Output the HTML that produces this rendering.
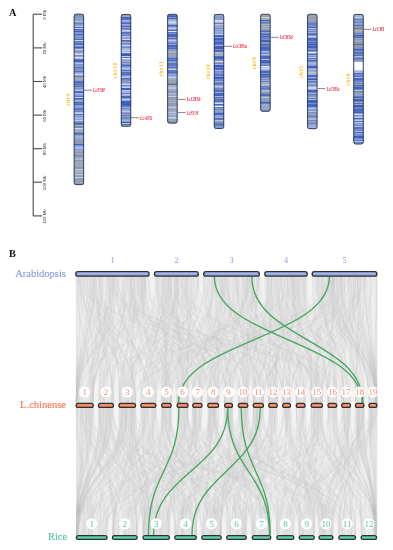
<!DOCTYPE html><html><head><meta charset="utf-8"><style>html,body{margin:0;padding:0;background:#fff;width:393px;height:550px;overflow:hidden}svg{display:block;filter:blur(0.3px)}text{font-family:"Liberation Serif",serif}</style></head><body>
<svg width="393" height="550" viewBox="0 0 393 550">
<text x="9" y="15.5" font-size="10.3" font-weight="bold" fill="#111">A</text>
<path d="M33.2 14.25V215.9" stroke="#4a4a4a" stroke-width="1.1" fill="none"/>
<path d="M33.2 14.2H42.2" stroke="#4a4a4a" stroke-width="1.1"/>
<text transform="translate(46.2 14.8) rotate(-90)" text-anchor="middle" font-size="4.4" font-family="Liberation Sans, sans-serif" fill="#333" style="font-family:'Liberation Sans',sans-serif">0 Mb</text>
<path d="M33.2 47.9H42.2" stroke="#4a4a4a" stroke-width="1.1"/>
<text transform="translate(46.2 48.5) rotate(-90)" text-anchor="middle" font-size="4.4" font-family="Liberation Sans, sans-serif" fill="#333" style="font-family:'Liberation Sans',sans-serif">20 Mb</text>
<path d="M33.2 81.5H42.2" stroke="#4a4a4a" stroke-width="1.1"/>
<text transform="translate(46.2 82.0) rotate(-90)" text-anchor="middle" font-size="4.4" font-family="Liberation Sans, sans-serif" fill="#333" style="font-family:'Liberation Sans',sans-serif">40 Mb</text>
<path d="M33.2 115.1H42.2" stroke="#4a4a4a" stroke-width="1.1"/>
<text transform="translate(46.2 115.7) rotate(-90)" text-anchor="middle" font-size="4.4" font-family="Liberation Sans, sans-serif" fill="#333" style="font-family:'Liberation Sans',sans-serif">60 Mb</text>
<path d="M33.2 148.7H42.2" stroke="#4a4a4a" stroke-width="1.1"/>
<text transform="translate(46.2 149.2) rotate(-90)" text-anchor="middle" font-size="4.4" font-family="Liberation Sans, sans-serif" fill="#333" style="font-family:'Liberation Sans',sans-serif">80 Mb</text>
<path d="M33.2 182.2H42.2" stroke="#4a4a4a" stroke-width="1.1"/>
<text transform="translate(46.2 182.8) rotate(-90)" text-anchor="middle" font-size="4.4" font-family="Liberation Sans, sans-serif" fill="#333" style="font-family:'Liberation Sans',sans-serif">100 Mb</text>
<path d="M33.2 215.9H42.2" stroke="#4a4a4a" stroke-width="1.1"/>
<text transform="translate(46.2 216.5) rotate(-90)" text-anchor="middle" font-size="4.4" font-family="Liberation Sans, sans-serif" fill="#333" style="font-family:'Liberation Sans',sans-serif">120 Mb</text>
<defs>
<clipPath id="c0"><rect x="73.8" y="13.8" width="10.2" height="171.2" rx="2.2" ry="2.2"/></clipPath>
<clipPath id="c1"><rect x="120.9" y="14.1" width="10.2" height="112.5" rx="2.2" ry="2.2"/></clipPath>
<clipPath id="c2"><rect x="167.3" y="13.9" width="10.2" height="109.5" rx="2.2" ry="2.2"/></clipPath>
<clipPath id="c3"><rect x="213.9" y="14.1" width="10.2" height="114.6" rx="2.2" ry="2.2"/></clipPath>
<clipPath id="c4"><rect x="260.3" y="13.9" width="10.2" height="97.7" rx="2.2" ry="2.2"/></clipPath>
<clipPath id="c5"><rect x="307.2" y="13.9" width="10.2" height="115.1" rx="2.2" ry="2.2"/></clipPath>
<clipPath id="c6"><rect x="353.4" y="14.1" width="10.2" height="130.2" rx="2.2" ry="2.2"/></clipPath>
</defs>
<g clip-path="url(#c0)">
<rect x="73.8" y="13.8" width="10.2" height="171.2" fill="#4f6fc2"/>
<rect x="73.8" y="13.8" width="10.2" height="0.7" fill="#b8c6ea"/>
<rect x="73.8" y="14.4" width="10.2" height="1.1" fill="#97a2b0"/>
<rect x="73.8" y="15.4" width="10.2" height="0.5" fill="#8d99b4"/>
<rect x="73.8" y="15.8" width="10.2" height="0.9" fill="#8d99b4"/>
<rect x="73.8" y="16.6" width="10.2" height="0.8" fill="#a0a8b6"/>
<rect x="73.8" y="17.3" width="10.2" height="0.5" fill="#9aaedc"/>
<rect x="73.8" y="17.7" width="10.2" height="0.9" fill="#a0a8b6"/>
<rect x="73.8" y="18.5" width="10.2" height="1.1" fill="#9aaedc"/>
<rect x="73.8" y="19.5" width="10.2" height="0.9" fill="#9aaedc"/>
<rect x="73.8" y="20.3" width="10.2" height="0.6" fill="#a0a8b6"/>
<rect x="73.8" y="20.8" width="10.2" height="0.7" fill="#9aaedc"/>
<rect x="73.8" y="21.4" width="10.2" height="0.9" fill="#d6e0f5"/>
<rect x="73.8" y="22.2" width="10.2" height="0.6" fill="#97a2b0"/>
<rect x="73.8" y="22.7" width="10.2" height="1.1" fill="#8d99b4"/>
<rect x="73.8" y="23.7" width="10.2" height="0.9" fill="#4363c0"/>
<rect x="73.8" y="24.5" width="10.2" height="0.5" fill="#b8c6ea"/>
<rect x="73.8" y="24.9" width="10.2" height="1.1" fill="#8ca2d6"/>
<rect x="73.8" y="25.9" width="10.2" height="0.8" fill="#b8c6ea"/>
<rect x="73.8" y="26.6" width="10.2" height="0.7" fill="#e6ecfa"/>
<rect x="73.8" y="27.2" width="10.2" height="1.1" fill="#3d5fc0"/>
<rect x="73.8" y="28.2" width="10.2" height="0.9" fill="#f2f5fc"/>
<rect x="73.8" y="29.0" width="10.2" height="0.7" fill="#5070c4"/>
<rect x="73.8" y="29.6" width="10.2" height="0.9" fill="#3d5fc0"/>
<rect x="73.8" y="30.4" width="10.2" height="0.9" fill="#8ca2d6"/>
<rect x="73.8" y="31.2" width="10.2" height="0.6" fill="#3658bb"/>
<rect x="73.8" y="31.7" width="10.2" height="0.5" fill="#3d5fc0"/>
<rect x="73.8" y="32.1" width="10.2" height="0.9" fill="#8ca2d6"/>
<rect x="73.8" y="32.9" width="10.2" height="0.7" fill="#4363c0"/>
<rect x="73.8" y="33.5" width="10.2" height="0.8" fill="#b8c6ea"/>
<rect x="73.8" y="34.2" width="10.2" height="0.5" fill="#5070c4"/>
<rect x="73.8" y="34.6" width="10.2" height="0.8" fill="#3d5fc0"/>
<rect x="73.8" y="35.3" width="10.2" height="0.5" fill="#5070c4"/>
<rect x="73.8" y="35.7" width="10.2" height="1.1" fill="#b8c6ea"/>
<rect x="73.8" y="36.7" width="10.2" height="0.7" fill="#5070c4"/>
<rect x="73.8" y="37.3" width="10.2" height="0.5" fill="#5070c4"/>
<rect x="73.8" y="37.7" width="10.2" height="0.6" fill="#b8c6ea"/>
<rect x="73.8" y="38.2" width="10.2" height="0.5" fill="#f2f5fc"/>
<rect x="73.8" y="38.6" width="10.2" height="0.6" fill="#3658bb"/>
<rect x="73.8" y="39.1" width="10.2" height="0.8" fill="#3658bb"/>
<rect x="73.8" y="39.8" width="10.2" height="0.5" fill="#a9a890"/>
<rect x="73.8" y="40.2" width="10.2" height="0.9" fill="#e6ecfa"/>
<rect x="73.8" y="41.0" width="10.2" height="0.8" fill="#5070c4"/>
<rect x="73.8" y="41.7" width="10.2" height="1.1" fill="#8ca2d6"/>
<rect x="73.8" y="42.7" width="10.2" height="1.1" fill="#4566c2"/>
<rect x="73.8" y="43.7" width="10.2" height="0.6" fill="#a0a8b6"/>
<rect x="73.8" y="44.2" width="10.2" height="0.6" fill="#3d5fc0"/>
<rect x="73.8" y="44.7" width="10.2" height="0.8" fill="#4566c2"/>
<rect x="73.8" y="45.4" width="10.2" height="0.7" fill="#e6ecfa"/>
<rect x="73.8" y="46.0" width="10.2" height="0.8" fill="#8ca2d6"/>
<rect x="73.8" y="46.7" width="10.2" height="0.6" fill="#4363c0"/>
<rect x="73.8" y="47.2" width="10.2" height="0.9" fill="#3d5fc0"/>
<rect x="73.8" y="48.0" width="10.2" height="0.8" fill="#4363c0"/>
<rect x="73.8" y="48.7" width="10.2" height="0.8" fill="#f2f5fc"/>
<rect x="73.8" y="49.4" width="10.2" height="0.5" fill="#b8c6ea"/>
<rect x="73.8" y="49.8" width="10.2" height="0.5" fill="#e6ecfa"/>
<rect x="73.8" y="50.2" width="10.2" height="0.8" fill="#b4b296"/>
<rect x="73.8" y="50.9" width="10.2" height="0.9" fill="#8d99b4"/>
<rect x="73.8" y="51.7" width="10.2" height="0.9" fill="#8d99b4"/>
<rect x="73.8" y="52.5" width="10.2" height="0.7" fill="#9aaedc"/>
<rect x="73.8" y="53.1" width="10.2" height="0.6" fill="#aabbe4"/>
<rect x="73.8" y="53.6" width="10.2" height="1.1" fill="#f2f5fc"/>
<rect x="73.8" y="54.6" width="10.2" height="0.9" fill="#e6ecfa"/>
<rect x="73.8" y="55.4" width="10.2" height="0.5" fill="#3658bb"/>
<rect x="73.8" y="55.8" width="10.2" height="0.8" fill="#9aaedc"/>
<rect x="73.8" y="56.5" width="10.2" height="0.6" fill="#b4b296"/>
<rect x="73.8" y="57.0" width="10.2" height="1.1" fill="#d6e0f5"/>
<rect x="73.8" y="58.0" width="10.2" height="0.6" fill="#aabbe4"/>
<rect x="73.8" y="58.5" width="10.2" height="0.9" fill="#d6e0f5"/>
<rect x="73.8" y="59.3" width="10.2" height="0.9" fill="#4363c0"/>
<rect x="73.8" y="60.1" width="10.2" height="0.7" fill="#3d5fc0"/>
<rect x="73.8" y="60.7" width="10.2" height="1.1" fill="#4363c0"/>
<rect x="73.8" y="61.7" width="10.2" height="0.7" fill="#5070c4"/>
<rect x="73.8" y="62.3" width="10.2" height="0.6" fill="#8ca2d6"/>
<rect x="73.8" y="62.8" width="10.2" height="1.1" fill="#e6ecfa"/>
<rect x="73.8" y="63.8" width="10.2" height="0.6" fill="#4566c2"/>
<rect x="73.8" y="64.3" width="10.2" height="0.6" fill="#8ca2d6"/>
<rect x="73.8" y="64.8" width="10.2" height="1.1" fill="#8d99b4"/>
<rect x="73.8" y="65.8" width="10.2" height="0.7" fill="#aabbe4"/>
<rect x="73.8" y="66.4" width="10.2" height="1.1" fill="#8ca2d6"/>
<rect x="73.8" y="67.4" width="10.2" height="0.8" fill="#5070c4"/>
<rect x="73.8" y="68.1" width="10.2" height="0.7" fill="#8d99b4"/>
<rect x="73.8" y="68.7" width="10.2" height="0.6" fill="#8ca2d6"/>
<rect x="73.8" y="69.2" width="10.2" height="0.6" fill="#9aaedc"/>
<rect x="73.8" y="69.7" width="10.2" height="0.8" fill="#5070c4"/>
<rect x="73.8" y="70.4" width="10.2" height="1.1" fill="#b8b6a0"/>
<rect x="73.8" y="71.4" width="10.2" height="0.5" fill="#4566c2"/>
<rect x="73.8" y="71.8" width="10.2" height="0.8" fill="#3658bb"/>
<rect x="73.8" y="72.5" width="10.2" height="1.1" fill="#d6e0f5"/>
<rect x="73.8" y="73.5" width="10.2" height="0.8" fill="#9aaedc"/>
<rect x="73.8" y="74.2" width="10.2" height="1.1" fill="#e6ecfa"/>
<rect x="73.8" y="75.2" width="10.2" height="0.5" fill="#a9a890"/>
<rect x="73.8" y="75.6" width="10.2" height="1.1" fill="#97a2b0"/>
<rect x="73.8" y="76.6" width="10.2" height="0.8" fill="#5070c4"/>
<rect x="73.8" y="77.3" width="10.2" height="0.6" fill="#aabbe4"/>
<rect x="73.8" y="77.8" width="10.2" height="0.5" fill="#b8b6a0"/>
<rect x="73.8" y="78.2" width="10.2" height="1.1" fill="#b8b6a0"/>
<rect x="73.8" y="79.2" width="10.2" height="0.6" fill="#aabbe4"/>
<rect x="73.8" y="79.7" width="10.2" height="0.6" fill="#a0a8b6"/>
<rect x="73.8" y="80.2" width="10.2" height="0.7" fill="#8ca2d6"/>
<rect x="73.8" y="80.8" width="10.2" height="0.7" fill="#aabbe4"/>
<rect x="73.8" y="81.4" width="10.2" height="0.5" fill="#5070c4"/>
<rect x="73.8" y="81.8" width="10.2" height="0.8" fill="#4363c0"/>
<rect x="73.8" y="82.5" width="10.2" height="0.8" fill="#4363c0"/>
<rect x="73.8" y="83.2" width="10.2" height="0.6" fill="#9aaedc"/>
<rect x="73.8" y="83.7" width="10.2" height="0.8" fill="#4363c0"/>
<rect x="73.8" y="84.4" width="10.2" height="0.5" fill="#4566c2"/>
<rect x="73.8" y="84.8" width="10.2" height="0.6" fill="#97a2b0"/>
<rect x="73.8" y="85.3" width="10.2" height="1.1" fill="#8d99b4"/>
<rect x="73.8" y="86.3" width="10.2" height="0.7" fill="#4363c0"/>
<rect x="73.8" y="86.9" width="10.2" height="0.9" fill="#9aaedc"/>
<rect x="73.8" y="87.7" width="10.2" height="0.9" fill="#a0a8b6"/>
<rect x="73.8" y="88.5" width="10.2" height="0.7" fill="#8d99b4"/>
<rect x="73.8" y="89.1" width="10.2" height="0.9" fill="#9aaedc"/>
<rect x="73.8" y="89.9" width="10.2" height="0.5" fill="#aabbe4"/>
<rect x="73.8" y="90.3" width="10.2" height="1.1" fill="#d6e0f5"/>
<rect x="73.8" y="91.3" width="10.2" height="0.9" fill="#4363c0"/>
<rect x="73.8" y="92.1" width="10.2" height="0.6" fill="#5070c4"/>
<rect x="73.8" y="92.6" width="10.2" height="0.9" fill="#4566c2"/>
<rect x="73.8" y="93.4" width="10.2" height="0.8" fill="#e6ecfa"/>
<rect x="73.8" y="94.1" width="10.2" height="0.8" fill="#9aaedc"/>
<rect x="73.8" y="94.8" width="10.2" height="1.1" fill="#9aaedc"/>
<rect x="73.8" y="95.8" width="10.2" height="0.6" fill="#3d5fc0"/>
<rect x="73.8" y="96.3" width="10.2" height="0.6" fill="#5070c4"/>
<rect x="73.8" y="96.8" width="10.2" height="0.6" fill="#aabbe4"/>
<rect x="73.8" y="97.3" width="10.2" height="0.8" fill="#e6ecfa"/>
<rect x="73.8" y="98.0" width="10.2" height="0.8" fill="#4566c2"/>
<rect x="73.8" y="98.7" width="10.2" height="1.1" fill="#4566c2"/>
<rect x="73.8" y="99.7" width="10.2" height="1.1" fill="#b8c6ea"/>
<rect x="73.8" y="100.7" width="10.2" height="0.7" fill="#8ca2d6"/>
<rect x="73.8" y="101.3" width="10.2" height="0.7" fill="#b4b296"/>
<rect x="73.8" y="101.9" width="10.2" height="0.5" fill="#b8c6ea"/>
<rect x="73.8" y="102.3" width="10.2" height="0.8" fill="#3658bb"/>
<rect x="73.8" y="103.0" width="10.2" height="0.7" fill="#8ca2d6"/>
<rect x="73.8" y="103.6" width="10.2" height="0.9" fill="#3d5fc0"/>
<rect x="73.8" y="104.4" width="10.2" height="0.6" fill="#3d5fc0"/>
<rect x="73.8" y="104.9" width="10.2" height="0.5" fill="#9aaedc"/>
<rect x="73.8" y="105.3" width="10.2" height="0.6" fill="#aabbe4"/>
<rect x="73.8" y="105.8" width="10.2" height="0.8" fill="#5070c4"/>
<rect x="73.8" y="106.5" width="10.2" height="0.8" fill="#d6e0f5"/>
<rect x="73.8" y="107.2" width="10.2" height="0.9" fill="#8ca2d6"/>
<rect x="73.8" y="108.0" width="10.2" height="0.5" fill="#aabbe4"/>
<rect x="73.8" y="108.4" width="10.2" height="0.8" fill="#5070c4"/>
<rect x="73.8" y="109.1" width="10.2" height="0.5" fill="#5070c4"/>
<rect x="73.8" y="109.5" width="10.2" height="0.5" fill="#4566c2"/>
<rect x="73.8" y="109.9" width="10.2" height="0.5" fill="#9aaedc"/>
<rect x="73.8" y="110.3" width="10.2" height="0.8" fill="#97a2b0"/>
<rect x="73.8" y="111.0" width="10.2" height="0.8" fill="#5070c4"/>
<rect x="73.8" y="111.7" width="10.2" height="0.9" fill="#97a2b0"/>
<rect x="73.8" y="112.5" width="10.2" height="1.1" fill="#e6ecfa"/>
<rect x="73.8" y="113.5" width="10.2" height="0.6" fill="#e6ecfa"/>
<rect x="73.8" y="114.0" width="10.2" height="0.6" fill="#5070c4"/>
<rect x="73.8" y="114.5" width="10.2" height="0.9" fill="#5070c4"/>
<rect x="73.8" y="115.3" width="10.2" height="0.8" fill="#aabbe4"/>
<rect x="73.8" y="116.0" width="10.2" height="0.7" fill="#9aaedc"/>
<rect x="73.8" y="116.6" width="10.2" height="0.7" fill="#8d99b4"/>
<rect x="73.8" y="117.2" width="10.2" height="1.1" fill="#aabbe4"/>
<rect x="73.8" y="118.2" width="10.2" height="0.9" fill="#b8c6ea"/>
<rect x="73.8" y="119.0" width="10.2" height="0.5" fill="#3658bb"/>
<rect x="73.8" y="119.4" width="10.2" height="1.1" fill="#b8c6ea"/>
<rect x="73.8" y="120.4" width="10.2" height="0.9" fill="#e6ecfa"/>
<rect x="73.8" y="121.2" width="10.2" height="0.6" fill="#aabbe4"/>
<rect x="73.8" y="121.7" width="10.2" height="0.8" fill="#3d5fc0"/>
<rect x="73.8" y="122.4" width="10.2" height="0.6" fill="#b8b6a0"/>
<rect x="73.8" y="122.9" width="10.2" height="1.1" fill="#3658bb"/>
<rect x="73.8" y="123.9" width="10.2" height="0.6" fill="#b8b6a0"/>
<rect x="73.8" y="124.4" width="10.2" height="0.8" fill="#5070c4"/>
<rect x="73.8" y="125.1" width="10.2" height="0.9" fill="#b4b296"/>
<rect x="73.8" y="125.9" width="10.2" height="0.5" fill="#aabbe4"/>
<rect x="73.8" y="126.3" width="10.2" height="0.7" fill="#8ca2d6"/>
<rect x="73.8" y="126.9" width="10.2" height="0.7" fill="#4363c0"/>
<rect x="73.8" y="127.5" width="10.2" height="0.7" fill="#b4b296"/>
<rect x="73.8" y="128.1" width="10.2" height="0.6" fill="#e6ecfa"/>
<rect x="73.8" y="128.6" width="10.2" height="0.7" fill="#f2f5fc"/>
<rect x="73.8" y="129.2" width="10.2" height="0.7" fill="#aabbe4"/>
<rect x="73.8" y="129.8" width="10.2" height="0.6" fill="#9aaedc"/>
<rect x="73.8" y="130.3" width="10.2" height="0.5" fill="#8d99b4"/>
<rect x="73.8" y="130.7" width="10.2" height="0.6" fill="#e6ecfa"/>
<rect x="73.8" y="131.2" width="10.2" height="0.8" fill="#b4b296"/>
<rect x="73.8" y="131.9" width="10.2" height="1.1" fill="#97a2b0"/>
<rect x="73.8" y="132.9" width="10.2" height="0.9" fill="#4566c2"/>
<rect x="73.8" y="133.7" width="10.2" height="1.1" fill="#4363c0"/>
<rect x="73.8" y="134.7" width="10.2" height="0.8" fill="#b8c6ea"/>
<rect x="73.8" y="135.4" width="10.2" height="0.6" fill="#97a2b0"/>
<rect x="73.8" y="135.9" width="10.2" height="1.1" fill="#b8b6a0"/>
<rect x="73.8" y="136.9" width="10.2" height="0.9" fill="#aabbe4"/>
<rect x="73.8" y="137.7" width="10.2" height="0.9" fill="#9aaedc"/>
<rect x="73.8" y="138.5" width="10.2" height="1.1" fill="#aabbe4"/>
<rect x="73.8" y="139.5" width="10.2" height="0.5" fill="#a0a8b6"/>
<rect x="73.8" y="139.9" width="10.2" height="1.1" fill="#8d99b4"/>
<rect x="73.8" y="140.9" width="10.2" height="0.8" fill="#9aaedc"/>
<rect x="73.8" y="141.6" width="10.2" height="1.1" fill="#97a2b0"/>
<rect x="73.8" y="142.6" width="10.2" height="1.1" fill="#b4b296"/>
<rect x="73.8" y="143.6" width="10.2" height="0.5" fill="#8d99b4"/>
<rect x="73.8" y="144.0" width="10.2" height="1.1" fill="#4363c0"/>
<rect x="73.8" y="145.0" width="10.2" height="0.5" fill="#9aaedc"/>
<rect x="73.8" y="145.4" width="10.2" height="1.1" fill="#8ca2d6"/>
<rect x="73.8" y="146.4" width="10.2" height="0.5" fill="#aabbe4"/>
<rect x="73.8" y="146.8" width="10.2" height="1.1" fill="#aabbe4"/>
<rect x="73.8" y="147.8" width="10.2" height="1.1" fill="#b8c6ea"/>
<rect x="73.8" y="148.8" width="10.2" height="0.8" fill="#9aaedc"/>
<rect x="73.8" y="149.5" width="10.2" height="0.8" fill="#8ca2d6"/>
<rect x="73.8" y="150.2" width="10.2" height="0.5" fill="#d6e0f5"/>
<rect x="73.8" y="150.6" width="10.2" height="0.6" fill="#a0a8b6"/>
<rect x="73.8" y="151.1" width="10.2" height="0.7" fill="#b8b6a0"/>
<rect x="73.8" y="151.7" width="10.2" height="1.1" fill="#97a2b0"/>
<rect x="73.8" y="152.7" width="10.2" height="0.6" fill="#8d99b4"/>
<rect x="73.8" y="153.2" width="10.2" height="0.8" fill="#b8b6a0"/>
<rect x="73.8" y="153.9" width="10.2" height="0.5" fill="#b8c6ea"/>
<rect x="73.8" y="154.3" width="10.2" height="0.7" fill="#8ca2d6"/>
<rect x="73.8" y="154.9" width="10.2" height="0.8" fill="#8d99b4"/>
<rect x="73.8" y="155.6" width="10.2" height="0.9" fill="#8d99b4"/>
<rect x="73.8" y="156.4" width="10.2" height="0.8" fill="#a9a890"/>
<rect x="73.8" y="157.1" width="10.2" height="0.5" fill="#b8c6ea"/>
<rect x="73.8" y="157.5" width="10.2" height="0.7" fill="#a0a8b6"/>
<rect x="73.8" y="158.1" width="10.2" height="0.5" fill="#e6ecfa"/>
<rect x="73.8" y="158.5" width="10.2" height="1.1" fill="#b4b296"/>
<rect x="73.8" y="159.5" width="10.2" height="0.6" fill="#d6e0f5"/>
<rect x="73.8" y="160.0" width="10.2" height="0.9" fill="#8d99b4"/>
<rect x="73.8" y="160.8" width="10.2" height="1.1" fill="#a9a890"/>
<rect x="73.8" y="161.8" width="10.2" height="0.8" fill="#a0a8b6"/>
<rect x="73.8" y="162.5" width="10.2" height="0.5" fill="#b8c6ea"/>
<rect x="73.8" y="162.9" width="10.2" height="0.8" fill="#a0a8b6"/>
<rect x="73.8" y="163.6" width="10.2" height="0.8" fill="#b4b296"/>
<rect x="73.8" y="164.3" width="10.2" height="0.5" fill="#9aaedc"/>
<rect x="73.8" y="164.7" width="10.2" height="0.7" fill="#b8c6ea"/>
<rect x="73.8" y="165.3" width="10.2" height="0.5" fill="#aabbe4"/>
<rect x="73.8" y="165.7" width="10.2" height="1.1" fill="#b8b6a0"/>
<rect x="73.8" y="166.7" width="10.2" height="0.7" fill="#8d99b4"/>
<rect x="73.8" y="167.3" width="10.2" height="0.8" fill="#97a2b0"/>
<rect x="73.8" y="168.0" width="10.2" height="0.5" fill="#a9a890"/>
<rect x="73.8" y="168.4" width="10.2" height="0.7" fill="#8ca2d6"/>
<rect x="73.8" y="169.0" width="10.2" height="0.5" fill="#b8b6a0"/>
<rect x="73.8" y="169.4" width="10.2" height="0.7" fill="#e6ecfa"/>
<rect x="73.8" y="170.0" width="10.2" height="0.6" fill="#b8c6ea"/>
<rect x="73.8" y="170.5" width="10.2" height="0.9" fill="#b4b296"/>
<rect x="73.8" y="171.3" width="10.2" height="0.8" fill="#b8c6ea"/>
<rect x="73.8" y="172.0" width="10.2" height="0.9" fill="#b8b6a0"/>
<rect x="73.8" y="172.8" width="10.2" height="0.5" fill="#b8b6a0"/>
<rect x="73.8" y="173.2" width="10.2" height="0.8" fill="#a0a8b6"/>
<rect x="73.8" y="173.9" width="10.2" height="1.1" fill="#b8c6ea"/>
<rect x="73.8" y="174.9" width="10.2" height="0.5" fill="#aabbe4"/>
<rect x="73.8" y="175.3" width="10.2" height="0.6" fill="#b4b296"/>
<rect x="73.8" y="175.8" width="10.2" height="0.7" fill="#b8b6a0"/>
<rect x="73.8" y="176.4" width="10.2" height="1.1" fill="#8ca2d6"/>
<rect x="73.8" y="177.4" width="10.2" height="0.8" fill="#f2f5fc"/>
<rect x="73.8" y="178.1" width="10.2" height="0.8" fill="#a9a890"/>
<rect x="73.8" y="178.8" width="10.2" height="0.5" fill="#a0a8b6"/>
<rect x="73.8" y="179.2" width="10.2" height="0.5" fill="#a9a890"/>
<rect x="73.8" y="179.6" width="10.2" height="0.9" fill="#b4b296"/>
<rect x="73.8" y="180.4" width="10.2" height="0.8" fill="#97a2b0"/>
<rect x="73.8" y="181.1" width="10.2" height="0.6" fill="#a0a8b6"/>
<rect x="73.8" y="181.6" width="10.2" height="0.7" fill="#b4b296"/>
<rect x="73.8" y="182.2" width="10.2" height="0.6" fill="#97a2b0"/>
<rect x="73.8" y="182.7" width="10.2" height="0.6" fill="#b8c6ea"/>
<rect x="73.8" y="183.2" width="10.2" height="0.8" fill="#97a2b0"/>
<rect x="73.8" y="183.9" width="10.2" height="0.6" fill="#b4b296"/>
<rect x="73.8" y="184.4" width="10.2" height="0.5" fill="#97a2b0"/>
<rect x="73.8" y="184.8" width="10.2" height="0.7" fill="#97a2b0"/>
<rect x="73.8" y="13.8" width="10.2" height="1.2" fill="#b8b08e"/>
</g>
<rect x="74.14999999999999" y="14.15" width="9.5" height="170.5" rx="2" fill="none" stroke="#26345c" stroke-width="0.9"/>
<text transform="translate(69.9 99.4) rotate(-90)" text-anchor="middle" font-size="5.1" font-weight="bold" fill="#f9bd1a" letter-spacing="0.7">chr4</text>
<path d="M84.0 90.2h8" stroke="#7a7a7a" stroke-width="0.9"/>
<text x="93.0" y="92.1" font-size="5.3" font-style="italic" font-weight="bold" fill="#f2283a" textLength="11.799999999999999" lengthAdjust="spacingAndGlyphs">LcF3H</text>
<g clip-path="url(#c1)">
<rect x="120.9" y="14.1" width="10.2" height="112.5" fill="#4f6fc2"/>
<rect x="120.9" y="14.1" width="10.2" height="0.9" fill="#a0a8b6"/>
<rect x="120.9" y="14.9" width="10.2" height="0.5" fill="#a0a8b6"/>
<rect x="120.9" y="15.3" width="10.2" height="0.8" fill="#a9a890"/>
<rect x="120.9" y="16.0" width="10.2" height="0.8" fill="#9aaedc"/>
<rect x="120.9" y="16.7" width="10.2" height="0.6" fill="#b8b6a0"/>
<rect x="120.9" y="17.2" width="10.2" height="0.8" fill="#3658bb"/>
<rect x="120.9" y="17.9" width="10.2" height="0.5" fill="#97a2b0"/>
<rect x="120.9" y="18.3" width="10.2" height="0.8" fill="#4566c2"/>
<rect x="120.9" y="19.0" width="10.2" height="0.5" fill="#a0a8b6"/>
<rect x="120.9" y="19.4" width="10.2" height="0.9" fill="#3d5fc0"/>
<rect x="120.9" y="20.2" width="10.2" height="1.1" fill="#b8c6ea"/>
<rect x="120.9" y="21.2" width="10.2" height="0.5" fill="#9aaedc"/>
<rect x="120.9" y="21.6" width="10.2" height="0.5" fill="#aabbe4"/>
<rect x="120.9" y="22.0" width="10.2" height="0.9" fill="#5070c4"/>
<rect x="120.9" y="22.8" width="10.2" height="0.6" fill="#b8c6ea"/>
<rect x="120.9" y="23.3" width="10.2" height="1.1" fill="#3d5fc0"/>
<rect x="120.9" y="24.3" width="10.2" height="0.5" fill="#d6e0f5"/>
<rect x="120.9" y="24.7" width="10.2" height="0.6" fill="#aabbe4"/>
<rect x="120.9" y="25.2" width="10.2" height="0.9" fill="#97a2b0"/>
<rect x="120.9" y="26.0" width="10.2" height="0.7" fill="#5070c4"/>
<rect x="120.9" y="26.6" width="10.2" height="0.7" fill="#4566c2"/>
<rect x="120.9" y="27.2" width="10.2" height="0.8" fill="#aabbe4"/>
<rect x="120.9" y="27.9" width="10.2" height="0.5" fill="#5070c4"/>
<rect x="120.9" y="28.3" width="10.2" height="0.5" fill="#a9a890"/>
<rect x="120.9" y="28.7" width="10.2" height="1.1" fill="#3d5fc0"/>
<rect x="120.9" y="29.7" width="10.2" height="0.7" fill="#f2f5fc"/>
<rect x="120.9" y="30.3" width="10.2" height="0.7" fill="#e6ecfa"/>
<rect x="120.9" y="30.9" width="10.2" height="1.1" fill="#b8c6ea"/>
<rect x="120.9" y="31.9" width="10.2" height="0.7" fill="#4566c2"/>
<rect x="120.9" y="32.5" width="10.2" height="0.5" fill="#4363c0"/>
<rect x="120.9" y="32.9" width="10.2" height="0.5" fill="#e6ecfa"/>
<rect x="120.9" y="33.3" width="10.2" height="0.7" fill="#4566c2"/>
<rect x="120.9" y="33.9" width="10.2" height="0.6" fill="#8ca2d6"/>
<rect x="120.9" y="34.4" width="10.2" height="0.7" fill="#97a2b0"/>
<rect x="120.9" y="35.0" width="10.2" height="0.8" fill="#4566c2"/>
<rect x="120.9" y="35.7" width="10.2" height="0.8" fill="#9aaedc"/>
<rect x="120.9" y="36.4" width="10.2" height="0.9" fill="#f2f5fc"/>
<rect x="120.9" y="37.2" width="10.2" height="0.5" fill="#aabbe4"/>
<rect x="120.9" y="37.6" width="10.2" height="0.8" fill="#8d99b4"/>
<rect x="120.9" y="38.3" width="10.2" height="0.6" fill="#8ca2d6"/>
<rect x="120.9" y="38.8" width="10.2" height="1.1" fill="#e6ecfa"/>
<rect x="120.9" y="39.8" width="10.2" height="0.6" fill="#aabbe4"/>
<rect x="120.9" y="40.3" width="10.2" height="1.1" fill="#3658bb"/>
<rect x="120.9" y="41.3" width="10.2" height="0.5" fill="#b8c6ea"/>
<rect x="120.9" y="41.7" width="10.2" height="0.7" fill="#3658bb"/>
<rect x="120.9" y="42.3" width="10.2" height="0.6" fill="#e6ecfa"/>
<rect x="120.9" y="42.8" width="10.2" height="0.7" fill="#a9a890"/>
<rect x="120.9" y="43.4" width="10.2" height="0.5" fill="#4566c2"/>
<rect x="120.9" y="43.8" width="10.2" height="0.8" fill="#8ca2d6"/>
<rect x="120.9" y="44.5" width="10.2" height="0.8" fill="#b8b6a0"/>
<rect x="120.9" y="45.2" width="10.2" height="0.8" fill="#d6e0f5"/>
<rect x="120.9" y="45.9" width="10.2" height="0.8" fill="#f2f5fc"/>
<rect x="120.9" y="46.6" width="10.2" height="1.1" fill="#3d5fc0"/>
<rect x="120.9" y="47.6" width="10.2" height="1.1" fill="#b8c6ea"/>
<rect x="120.9" y="48.6" width="10.2" height="0.5" fill="#b8c6ea"/>
<rect x="120.9" y="49.0" width="10.2" height="0.5" fill="#3d5fc0"/>
<rect x="120.9" y="49.4" width="10.2" height="0.7" fill="#e6ecfa"/>
<rect x="120.9" y="50.0" width="10.2" height="0.9" fill="#f2f5fc"/>
<rect x="120.9" y="50.8" width="10.2" height="0.7" fill="#4363c0"/>
<rect x="120.9" y="51.4" width="10.2" height="0.5" fill="#d6e0f5"/>
<rect x="120.9" y="51.8" width="10.2" height="1.1" fill="#f2f5fc"/>
<rect x="120.9" y="52.8" width="10.2" height="0.7" fill="#97a2b0"/>
<rect x="120.9" y="53.4" width="10.2" height="1.1" fill="#3d5fc0"/>
<rect x="120.9" y="54.4" width="10.2" height="0.5" fill="#3d5fc0"/>
<rect x="120.9" y="54.8" width="10.2" height="0.8" fill="#3658bb"/>
<rect x="120.9" y="55.5" width="10.2" height="0.8" fill="#3658bb"/>
<rect x="120.9" y="56.2" width="10.2" height="0.8" fill="#f2f5fc"/>
<rect x="120.9" y="56.9" width="10.2" height="0.6" fill="#b8b6a0"/>
<rect x="120.9" y="57.4" width="10.2" height="0.7" fill="#4566c2"/>
<rect x="120.9" y="58.0" width="10.2" height="0.9" fill="#f2f5fc"/>
<rect x="120.9" y="58.8" width="10.2" height="0.8" fill="#d6e0f5"/>
<rect x="120.9" y="59.5" width="10.2" height="0.5" fill="#b8c6ea"/>
<rect x="120.9" y="59.9" width="10.2" height="0.6" fill="#9aaedc"/>
<rect x="120.9" y="60.4" width="10.2" height="1.1" fill="#97a2b0"/>
<rect x="120.9" y="61.4" width="10.2" height="0.9" fill="#b8c6ea"/>
<rect x="120.9" y="62.2" width="10.2" height="0.5" fill="#5070c4"/>
<rect x="120.9" y="62.6" width="10.2" height="0.9" fill="#8d99b4"/>
<rect x="120.9" y="63.4" width="10.2" height="0.8" fill="#b8c6ea"/>
<rect x="120.9" y="64.1" width="10.2" height="0.6" fill="#b8c6ea"/>
<rect x="120.9" y="64.6" width="10.2" height="0.8" fill="#4566c2"/>
<rect x="120.9" y="65.3" width="10.2" height="1.1" fill="#3d5fc0"/>
<rect x="120.9" y="66.3" width="10.2" height="0.7" fill="#8ca2d6"/>
<rect x="120.9" y="66.9" width="10.2" height="0.7" fill="#8ca2d6"/>
<rect x="120.9" y="67.5" width="10.2" height="0.6" fill="#aabbe4"/>
<rect x="120.9" y="68.0" width="10.2" height="0.6" fill="#8ca2d6"/>
<rect x="120.9" y="68.5" width="10.2" height="0.9" fill="#e6ecfa"/>
<rect x="120.9" y="69.3" width="10.2" height="0.8" fill="#aabbe4"/>
<rect x="120.9" y="70.0" width="10.2" height="0.9" fill="#3d5fc0"/>
<rect x="120.9" y="70.8" width="10.2" height="1.1" fill="#9aaedc"/>
<rect x="120.9" y="71.8" width="10.2" height="0.5" fill="#a0a8b6"/>
<rect x="120.9" y="72.2" width="10.2" height="0.8" fill="#3d5fc0"/>
<rect x="120.9" y="72.9" width="10.2" height="0.7" fill="#9aaedc"/>
<rect x="120.9" y="73.5" width="10.2" height="0.6" fill="#4363c0"/>
<rect x="120.9" y="74.0" width="10.2" height="0.6" fill="#5070c4"/>
<rect x="120.9" y="74.5" width="10.2" height="0.9" fill="#3658bb"/>
<rect x="120.9" y="75.3" width="10.2" height="0.9" fill="#9aaedc"/>
<rect x="120.9" y="76.1" width="10.2" height="0.5" fill="#4363c0"/>
<rect x="120.9" y="76.5" width="10.2" height="0.7" fill="#f2f5fc"/>
<rect x="120.9" y="77.1" width="10.2" height="0.7" fill="#e6ecfa"/>
<rect x="120.9" y="77.7" width="10.2" height="0.7" fill="#b8b6a0"/>
<rect x="120.9" y="78.3" width="10.2" height="1.1" fill="#3d5fc0"/>
<rect x="120.9" y="79.3" width="10.2" height="0.7" fill="#8ca2d6"/>
<rect x="120.9" y="79.9" width="10.2" height="0.6" fill="#3d5fc0"/>
<rect x="120.9" y="80.4" width="10.2" height="0.6" fill="#a9a890"/>
<rect x="120.9" y="80.9" width="10.2" height="0.9" fill="#b8c6ea"/>
<rect x="120.9" y="81.7" width="10.2" height="0.5" fill="#4363c0"/>
<rect x="120.9" y="82.1" width="10.2" height="0.6" fill="#3d5fc0"/>
<rect x="120.9" y="82.6" width="10.2" height="1.1" fill="#d6e0f5"/>
<rect x="120.9" y="83.6" width="10.2" height="0.7" fill="#8ca2d6"/>
<rect x="120.9" y="84.2" width="10.2" height="1.1" fill="#e6ecfa"/>
<rect x="120.9" y="85.2" width="10.2" height="0.7" fill="#5070c4"/>
<rect x="120.9" y="85.8" width="10.2" height="0.8" fill="#8ca2d6"/>
<rect x="120.9" y="86.5" width="10.2" height="1.1" fill="#d6e0f5"/>
<rect x="120.9" y="87.5" width="10.2" height="0.8" fill="#e6ecfa"/>
<rect x="120.9" y="88.2" width="10.2" height="0.8" fill="#3658bb"/>
<rect x="120.9" y="88.9" width="10.2" height="0.5" fill="#3658bb"/>
<rect x="120.9" y="89.3" width="10.2" height="0.9" fill="#3658bb"/>
<rect x="120.9" y="90.1" width="10.2" height="0.6" fill="#e6ecfa"/>
<rect x="120.9" y="90.6" width="10.2" height="0.9" fill="#f2f5fc"/>
<rect x="120.9" y="91.4" width="10.2" height="0.5" fill="#8ca2d6"/>
<rect x="120.9" y="91.8" width="10.2" height="1.1" fill="#aabbe4"/>
<rect x="120.9" y="92.8" width="10.2" height="0.7" fill="#d6e0f5"/>
<rect x="120.9" y="93.4" width="10.2" height="0.6" fill="#3d5fc0"/>
<rect x="120.9" y="93.9" width="10.2" height="0.8" fill="#aabbe4"/>
<rect x="120.9" y="94.6" width="10.2" height="0.7" fill="#e6ecfa"/>
<rect x="120.9" y="95.2" width="10.2" height="0.8" fill="#b8c6ea"/>
<rect x="120.9" y="95.9" width="10.2" height="0.5" fill="#4363c0"/>
<rect x="120.9" y="96.3" width="10.2" height="1.1" fill="#4566c2"/>
<rect x="120.9" y="97.3" width="10.2" height="1.1" fill="#4566c2"/>
<rect x="120.9" y="98.3" width="10.2" height="0.9" fill="#aabbe4"/>
<rect x="120.9" y="99.1" width="10.2" height="0.8" fill="#e6ecfa"/>
<rect x="120.9" y="99.8" width="10.2" height="0.5" fill="#aabbe4"/>
<rect x="120.9" y="100.2" width="10.2" height="0.8" fill="#aabbe4"/>
<rect x="120.9" y="100.9" width="10.2" height="0.6" fill="#4566c2"/>
<rect x="120.9" y="101.4" width="10.2" height="0.5" fill="#3d5fc0"/>
<rect x="120.9" y="101.8" width="10.2" height="1.1" fill="#3d5fc0"/>
<rect x="120.9" y="102.8" width="10.2" height="0.8" fill="#4363c0"/>
<rect x="120.9" y="103.5" width="10.2" height="1.1" fill="#3658bb"/>
<rect x="120.9" y="104.5" width="10.2" height="0.7" fill="#3658bb"/>
<rect x="120.9" y="105.1" width="10.2" height="0.8" fill="#3658bb"/>
<rect x="120.9" y="105.8" width="10.2" height="0.9" fill="#9aaedc"/>
<rect x="120.9" y="106.6" width="10.2" height="0.5" fill="#3658bb"/>
<rect x="120.9" y="107.0" width="10.2" height="0.8" fill="#d6e0f5"/>
<rect x="120.9" y="107.7" width="10.2" height="0.8" fill="#3658bb"/>
<rect x="120.9" y="108.4" width="10.2" height="0.8" fill="#a0a8b6"/>
<rect x="120.9" y="109.1" width="10.2" height="0.7" fill="#9aaedc"/>
<rect x="120.9" y="109.7" width="10.2" height="0.8" fill="#9aaedc"/>
<rect x="120.9" y="110.4" width="10.2" height="0.5" fill="#9aaedc"/>
<rect x="120.9" y="110.8" width="10.2" height="1.1" fill="#d6e0f5"/>
<rect x="120.9" y="111.8" width="10.2" height="0.9" fill="#97a2b0"/>
<rect x="120.9" y="112.6" width="10.2" height="0.8" fill="#aabbe4"/>
<rect x="120.9" y="113.3" width="10.2" height="0.5" fill="#4363c0"/>
<rect x="120.9" y="113.7" width="10.2" height="1.1" fill="#9aaedc"/>
<rect x="120.9" y="114.7" width="10.2" height="0.6" fill="#a9a890"/>
<rect x="120.9" y="115.2" width="10.2" height="0.7" fill="#4566c2"/>
<rect x="120.9" y="115.8" width="10.2" height="1.1" fill="#aabbe4"/>
<rect x="120.9" y="116.8" width="10.2" height="0.5" fill="#4363c0"/>
<rect x="120.9" y="117.2" width="10.2" height="0.7" fill="#97a2b0"/>
<rect x="120.9" y="117.8" width="10.2" height="0.7" fill="#3658bb"/>
<rect x="120.9" y="118.4" width="10.2" height="0.6" fill="#a9a890"/>
<rect x="120.9" y="118.9" width="10.2" height="0.6" fill="#aabbe4"/>
<rect x="120.9" y="119.4" width="10.2" height="0.7" fill="#a0a8b6"/>
<rect x="120.9" y="120.0" width="10.2" height="0.6" fill="#b8b6a0"/>
<rect x="120.9" y="120.5" width="10.2" height="0.7" fill="#b8c6ea"/>
<rect x="120.9" y="121.1" width="10.2" height="0.6" fill="#8ca2d6"/>
<rect x="120.9" y="121.6" width="10.2" height="0.5" fill="#9aaedc"/>
<rect x="120.9" y="122.0" width="10.2" height="1.1" fill="#3658bb"/>
<rect x="120.9" y="123.0" width="10.2" height="0.9" fill="#d6e0f5"/>
<rect x="120.9" y="123.8" width="10.2" height="0.5" fill="#97a2b0"/>
<rect x="120.9" y="124.2" width="10.2" height="1.1" fill="#5070c4"/>
<rect x="120.9" y="125.2" width="10.2" height="0.7" fill="#b4b296"/>
<rect x="120.9" y="125.8" width="10.2" height="0.9" fill="#b4b296"/>
<rect x="120.9" y="14.1" width="10.2" height="1.2" fill="#b8b08e"/>
</g>
<rect x="121.25" y="14.45" width="9.5" height="111.8" rx="2" fill="none" stroke="#26345c" stroke-width="0.9"/>
<text transform="translate(117.0 70.3) rotate(-90)" text-anchor="middle" font-size="5.1" font-weight="bold" fill="#f9bd1a" letter-spacing="0.7">chr18</text>
<path d="M131.1 117.7h8" stroke="#7a7a7a" stroke-width="0.9"/>
<text x="140.1" y="119.6" font-size="5.3" font-style="italic" font-weight="bold" fill="#f2283a" textLength="12.2" lengthAdjust="spacingAndGlyphs">LcANS</text>
<g clip-path="url(#c2)">
<rect x="167.3" y="13.9" width="10.2" height="109.5" fill="#4f6fc2"/>
<rect x="167.3" y="13.9" width="10.2" height="0.5" fill="#aabbe4"/>
<rect x="167.3" y="14.3" width="10.2" height="0.9" fill="#3d5fc0"/>
<rect x="167.3" y="15.1" width="10.2" height="0.7" fill="#5070c4"/>
<rect x="167.3" y="15.7" width="10.2" height="0.7" fill="#4363c0"/>
<rect x="167.3" y="16.3" width="10.2" height="1.1" fill="#3d5fc0"/>
<rect x="167.3" y="17.3" width="10.2" height="1.1" fill="#a0a8b6"/>
<rect x="167.3" y="18.3" width="10.2" height="0.7" fill="#3658bb"/>
<rect x="167.3" y="18.9" width="10.2" height="0.8" fill="#9aaedc"/>
<rect x="167.3" y="19.6" width="10.2" height="0.6" fill="#9aaedc"/>
<rect x="167.3" y="20.1" width="10.2" height="0.5" fill="#97a2b0"/>
<rect x="167.3" y="20.5" width="10.2" height="0.7" fill="#d6e0f5"/>
<rect x="167.3" y="21.1" width="10.2" height="0.7" fill="#b8c6ea"/>
<rect x="167.3" y="21.7" width="10.2" height="0.9" fill="#e6ecfa"/>
<rect x="167.3" y="22.5" width="10.2" height="0.6" fill="#f2f5fc"/>
<rect x="167.3" y="23.0" width="10.2" height="0.6" fill="#a0a8b6"/>
<rect x="167.3" y="23.5" width="10.2" height="1.1" fill="#e6ecfa"/>
<rect x="167.3" y="24.5" width="10.2" height="0.5" fill="#8ca2d6"/>
<rect x="167.3" y="24.9" width="10.2" height="0.8" fill="#3d5fc0"/>
<rect x="167.3" y="25.6" width="10.2" height="0.5" fill="#4363c0"/>
<rect x="167.3" y="26.0" width="10.2" height="0.7" fill="#b8c6ea"/>
<rect x="167.3" y="26.6" width="10.2" height="0.9" fill="#3658bb"/>
<rect x="167.3" y="27.4" width="10.2" height="0.6" fill="#e6ecfa"/>
<rect x="167.3" y="27.9" width="10.2" height="0.5" fill="#8d99b4"/>
<rect x="167.3" y="28.3" width="10.2" height="0.8" fill="#e6ecfa"/>
<rect x="167.3" y="29.0" width="10.2" height="0.5" fill="#3d5fc0"/>
<rect x="167.3" y="29.4" width="10.2" height="0.5" fill="#aabbe4"/>
<rect x="167.3" y="29.8" width="10.2" height="0.6" fill="#d6e0f5"/>
<rect x="167.3" y="30.3" width="10.2" height="0.9" fill="#3658bb"/>
<rect x="167.3" y="31.1" width="10.2" height="0.9" fill="#f2f5fc"/>
<rect x="167.3" y="31.9" width="10.2" height="0.5" fill="#e6ecfa"/>
<rect x="167.3" y="32.3" width="10.2" height="1.1" fill="#4363c0"/>
<rect x="167.3" y="33.3" width="10.2" height="0.5" fill="#f2f5fc"/>
<rect x="167.3" y="33.7" width="10.2" height="1.1" fill="#3d5fc0"/>
<rect x="167.3" y="34.7" width="10.2" height="1.1" fill="#4566c2"/>
<rect x="167.3" y="35.7" width="10.2" height="0.6" fill="#5070c4"/>
<rect x="167.3" y="36.2" width="10.2" height="0.6" fill="#3d5fc0"/>
<rect x="167.3" y="36.7" width="10.2" height="0.7" fill="#5070c4"/>
<rect x="167.3" y="37.3" width="10.2" height="1.1" fill="#b8b6a0"/>
<rect x="167.3" y="38.3" width="10.2" height="0.9" fill="#4363c0"/>
<rect x="167.3" y="39.1" width="10.2" height="0.7" fill="#e6ecfa"/>
<rect x="167.3" y="39.7" width="10.2" height="0.5" fill="#3d5fc0"/>
<rect x="167.3" y="40.1" width="10.2" height="0.6" fill="#e6ecfa"/>
<rect x="167.3" y="40.6" width="10.2" height="1.1" fill="#e6ecfa"/>
<rect x="167.3" y="41.6" width="10.2" height="1.1" fill="#4566c2"/>
<rect x="167.3" y="42.6" width="10.2" height="0.8" fill="#e6ecfa"/>
<rect x="167.3" y="43.3" width="10.2" height="0.8" fill="#4363c0"/>
<rect x="167.3" y="44.0" width="10.2" height="0.8" fill="#9aaedc"/>
<rect x="167.3" y="44.7" width="10.2" height="0.5" fill="#aabbe4"/>
<rect x="167.3" y="45.1" width="10.2" height="0.9" fill="#4566c2"/>
<rect x="167.3" y="45.9" width="10.2" height="0.8" fill="#3d5fc0"/>
<rect x="167.3" y="46.6" width="10.2" height="0.9" fill="#4566c2"/>
<rect x="167.3" y="47.4" width="10.2" height="0.5" fill="#8d99b4"/>
<rect x="167.3" y="47.8" width="10.2" height="0.9" fill="#5070c4"/>
<rect x="167.3" y="48.6" width="10.2" height="0.6" fill="#3d5fc0"/>
<rect x="167.3" y="49.1" width="10.2" height="0.5" fill="#d6e0f5"/>
<rect x="167.3" y="49.5" width="10.2" height="1.1" fill="#8d99b4"/>
<rect x="167.3" y="50.5" width="10.2" height="1.1" fill="#97a2b0"/>
<rect x="167.3" y="51.5" width="10.2" height="0.7" fill="#d6e0f5"/>
<rect x="167.3" y="52.1" width="10.2" height="1.1" fill="#b8b6a0"/>
<rect x="167.3" y="53.1" width="10.2" height="0.8" fill="#a0a8b6"/>
<rect x="167.3" y="53.8" width="10.2" height="0.6" fill="#8d99b4"/>
<rect x="167.3" y="54.3" width="10.2" height="1.1" fill="#b8b6a0"/>
<rect x="167.3" y="55.3" width="10.2" height="1.1" fill="#9aaedc"/>
<rect x="167.3" y="56.3" width="10.2" height="0.6" fill="#b8b6a0"/>
<rect x="167.3" y="56.8" width="10.2" height="0.6" fill="#8ca2d6"/>
<rect x="167.3" y="57.3" width="10.2" height="0.8" fill="#8ca2d6"/>
<rect x="167.3" y="58.0" width="10.2" height="0.7" fill="#3d5fc0"/>
<rect x="167.3" y="58.6" width="10.2" height="1.1" fill="#5070c4"/>
<rect x="167.3" y="59.6" width="10.2" height="0.9" fill="#8ca2d6"/>
<rect x="167.3" y="60.4" width="10.2" height="0.9" fill="#3658bb"/>
<rect x="167.3" y="61.2" width="10.2" height="0.5" fill="#9aaedc"/>
<rect x="167.3" y="61.6" width="10.2" height="0.7" fill="#9aaedc"/>
<rect x="167.3" y="62.2" width="10.2" height="0.9" fill="#9aaedc"/>
<rect x="167.3" y="63.0" width="10.2" height="0.9" fill="#4566c2"/>
<rect x="167.3" y="63.8" width="10.2" height="0.8" fill="#a0a8b6"/>
<rect x="167.3" y="64.5" width="10.2" height="0.7" fill="#3d5fc0"/>
<rect x="167.3" y="65.1" width="10.2" height="0.5" fill="#9aaedc"/>
<rect x="167.3" y="65.5" width="10.2" height="0.8" fill="#4566c2"/>
<rect x="167.3" y="66.2" width="10.2" height="0.8" fill="#8ca2d6"/>
<rect x="167.3" y="66.9" width="10.2" height="0.9" fill="#5070c4"/>
<rect x="167.3" y="67.7" width="10.2" height="0.6" fill="#4566c2"/>
<rect x="167.3" y="68.2" width="10.2" height="0.8" fill="#b8b6a0"/>
<rect x="167.3" y="68.9" width="10.2" height="0.5" fill="#9aaedc"/>
<rect x="167.3" y="69.3" width="10.2" height="1.1" fill="#e6ecfa"/>
<rect x="167.3" y="70.3" width="10.2" height="0.8" fill="#3d5fc0"/>
<rect x="167.3" y="71.0" width="10.2" height="0.8" fill="#3d5fc0"/>
<rect x="167.3" y="71.7" width="10.2" height="0.7" fill="#b4b296"/>
<rect x="167.3" y="72.3" width="10.2" height="0.8" fill="#4363c0"/>
<rect x="167.3" y="73.0" width="10.2" height="0.6" fill="#d6e0f5"/>
<rect x="167.3" y="73.5" width="10.2" height="0.6" fill="#4566c2"/>
<rect x="167.3" y="74.0" width="10.2" height="0.9" fill="#9aaedc"/>
<rect x="167.3" y="74.8" width="10.2" height="0.7" fill="#aabbe4"/>
<rect x="167.3" y="75.4" width="10.2" height="0.8" fill="#8ca2d6"/>
<rect x="167.3" y="76.1" width="10.2" height="0.6" fill="#d6e0f5"/>
<rect x="167.3" y="76.6" width="10.2" height="0.7" fill="#aabbe4"/>
<rect x="167.3" y="77.2" width="10.2" height="0.7" fill="#d6e0f5"/>
<rect x="167.3" y="77.8" width="10.2" height="0.6" fill="#f2f5fc"/>
<rect x="167.3" y="78.3" width="10.2" height="0.7" fill="#aabbe4"/>
<rect x="167.3" y="78.9" width="10.2" height="1.1" fill="#a0a8b6"/>
<rect x="167.3" y="79.9" width="10.2" height="1.1" fill="#97a2b0"/>
<rect x="167.3" y="80.9" width="10.2" height="0.7" fill="#b4b296"/>
<rect x="167.3" y="81.5" width="10.2" height="0.6" fill="#b8b6a0"/>
<rect x="167.3" y="82.0" width="10.2" height="0.5" fill="#b8b6a0"/>
<rect x="167.3" y="82.4" width="10.2" height="0.5" fill="#a0a8b6"/>
<rect x="167.3" y="82.8" width="10.2" height="0.6" fill="#8ca2d6"/>
<rect x="167.3" y="83.3" width="10.2" height="0.8" fill="#8d99b4"/>
<rect x="167.3" y="84.0" width="10.2" height="1.1" fill="#5070c4"/>
<rect x="167.3" y="85.0" width="10.2" height="0.6" fill="#b8c6ea"/>
<rect x="167.3" y="85.5" width="10.2" height="0.5" fill="#a9a890"/>
<rect x="167.3" y="85.9" width="10.2" height="1.1" fill="#b8b6a0"/>
<rect x="167.3" y="86.9" width="10.2" height="0.7" fill="#a0a8b6"/>
<rect x="167.3" y="87.5" width="10.2" height="0.7" fill="#f2f5fc"/>
<rect x="167.3" y="88.1" width="10.2" height="0.5" fill="#b8c6ea"/>
<rect x="167.3" y="88.5" width="10.2" height="1.1" fill="#d6e0f5"/>
<rect x="167.3" y="89.5" width="10.2" height="1.1" fill="#a0a8b6"/>
<rect x="167.3" y="90.5" width="10.2" height="1.1" fill="#aabbe4"/>
<rect x="167.3" y="91.5" width="10.2" height="1.1" fill="#8d99b4"/>
<rect x="167.3" y="92.5" width="10.2" height="0.8" fill="#b4b296"/>
<rect x="167.3" y="93.2" width="10.2" height="1.1" fill="#b8c6ea"/>
<rect x="167.3" y="94.2" width="10.2" height="0.6" fill="#aabbe4"/>
<rect x="167.3" y="94.7" width="10.2" height="0.7" fill="#b8c6ea"/>
<rect x="167.3" y="95.3" width="10.2" height="0.8" fill="#a9a890"/>
<rect x="167.3" y="96.0" width="10.2" height="0.9" fill="#e6ecfa"/>
<rect x="167.3" y="96.8" width="10.2" height="1.1" fill="#8d99b4"/>
<rect x="167.3" y="97.8" width="10.2" height="0.8" fill="#9aaedc"/>
<rect x="167.3" y="98.5" width="10.2" height="0.5" fill="#a0a8b6"/>
<rect x="167.3" y="98.9" width="10.2" height="0.6" fill="#aabbe4"/>
<rect x="167.3" y="99.4" width="10.2" height="0.9" fill="#97a2b0"/>
<rect x="167.3" y="100.2" width="10.2" height="0.8" fill="#b8b6a0"/>
<rect x="167.3" y="100.9" width="10.2" height="0.8" fill="#b8b6a0"/>
<rect x="167.3" y="101.6" width="10.2" height="0.7" fill="#a9a890"/>
<rect x="167.3" y="102.2" width="10.2" height="1.1" fill="#aabbe4"/>
<rect x="167.3" y="103.2" width="10.2" height="1.1" fill="#97a2b0"/>
<rect x="167.3" y="104.2" width="10.2" height="0.5" fill="#8ca2d6"/>
<rect x="167.3" y="104.6" width="10.2" height="1.1" fill="#b4b296"/>
<rect x="167.3" y="105.6" width="10.2" height="0.8" fill="#8d99b4"/>
<rect x="167.3" y="106.3" width="10.2" height="0.5" fill="#a9a890"/>
<rect x="167.3" y="106.7" width="10.2" height="1.1" fill="#f2f5fc"/>
<rect x="167.3" y="107.7" width="10.2" height="0.9" fill="#a0a8b6"/>
<rect x="167.3" y="108.5" width="10.2" height="0.7" fill="#aabbe4"/>
<rect x="167.3" y="109.1" width="10.2" height="0.8" fill="#a0a8b6"/>
<rect x="167.3" y="109.8" width="10.2" height="0.6" fill="#9aaedc"/>
<rect x="167.3" y="110.3" width="10.2" height="1.1" fill="#b8b6a0"/>
<rect x="167.3" y="111.3" width="10.2" height="0.9" fill="#aabbe4"/>
<rect x="167.3" y="112.1" width="10.2" height="0.7" fill="#f2f5fc"/>
<rect x="167.3" y="112.7" width="10.2" height="0.8" fill="#aabbe4"/>
<rect x="167.3" y="113.4" width="10.2" height="0.8" fill="#a0a8b6"/>
<rect x="167.3" y="114.1" width="10.2" height="0.7" fill="#d6e0f5"/>
<rect x="167.3" y="114.7" width="10.2" height="0.7" fill="#aabbe4"/>
<rect x="167.3" y="115.3" width="10.2" height="0.8" fill="#b8b6a0"/>
<rect x="167.3" y="116.0" width="10.2" height="0.7" fill="#b8b6a0"/>
<rect x="167.3" y="116.6" width="10.2" height="0.7" fill="#a9a890"/>
<rect x="167.3" y="117.2" width="10.2" height="0.8" fill="#e6ecfa"/>
<rect x="167.3" y="117.9" width="10.2" height="1.1" fill="#aabbe4"/>
<rect x="167.3" y="118.9" width="10.2" height="0.7" fill="#9aaedc"/>
<rect x="167.3" y="119.5" width="10.2" height="0.5" fill="#8ca2d6"/>
<rect x="167.3" y="119.9" width="10.2" height="0.6" fill="#b4b296"/>
<rect x="167.3" y="120.4" width="10.2" height="1.1" fill="#b8b6a0"/>
<rect x="167.3" y="121.4" width="10.2" height="0.5" fill="#8d99b4"/>
<rect x="167.3" y="121.8" width="10.2" height="1.1" fill="#97a2b0"/>
<rect x="167.3" y="122.8" width="10.2" height="0.5" fill="#a0a8b6"/>
<rect x="167.3" y="123.2" width="10.2" height="0.6" fill="#8ca2d6"/>
<rect x="167.3" y="13.9" width="10.2" height="1.2" fill="#b8b08e"/>
</g>
<rect x="167.65" y="14.25" width="9.5" height="108.8" rx="2" fill="none" stroke="#26345c" stroke-width="0.9"/>
<text transform="translate(163.4 68.7) rotate(-90)" text-anchor="middle" font-size="5.1" font-weight="bold" fill="#f9bd1a" letter-spacing="0.7">chr11</text>
<path d="M177.5 99.4h8" stroke="#7a7a7a" stroke-width="0.9"/>
<text x="186.5" y="101.3" font-size="5.3" font-style="italic" font-weight="bold" fill="#f2283a" textLength="14.1" lengthAdjust="spacingAndGlyphs">LcCHSb</text>
<path d="M177.5 112.6h8" stroke="#7a7a7a" stroke-width="0.9"/>
<text x="186.5" y="114.5" font-size="5.3" font-style="italic" font-weight="bold" fill="#f2283a" textLength="11.6" lengthAdjust="spacingAndGlyphs">LcF3'H</text>
<g clip-path="url(#c3)">
<rect x="213.9" y="14.1" width="10.2" height="114.6" fill="#4f6fc2"/>
<rect x="213.9" y="14.1" width="10.2" height="0.6" fill="#a9a890"/>
<rect x="213.9" y="14.6" width="10.2" height="0.9" fill="#b8b6a0"/>
<rect x="213.9" y="15.4" width="10.2" height="0.9" fill="#9aaedc"/>
<rect x="213.9" y="16.2" width="10.2" height="1.1" fill="#8ca2d6"/>
<rect x="213.9" y="17.2" width="10.2" height="0.6" fill="#a0a8b6"/>
<rect x="213.9" y="17.7" width="10.2" height="0.9" fill="#a9a890"/>
<rect x="213.9" y="18.5" width="10.2" height="1.1" fill="#9aaedc"/>
<rect x="213.9" y="19.5" width="10.2" height="0.7" fill="#a0a8b6"/>
<rect x="213.9" y="20.1" width="10.2" height="0.8" fill="#e6ecfa"/>
<rect x="213.9" y="20.8" width="10.2" height="0.8" fill="#e6ecfa"/>
<rect x="213.9" y="21.5" width="10.2" height="1.1" fill="#f2f5fc"/>
<rect x="213.9" y="22.5" width="10.2" height="0.6" fill="#9aaedc"/>
<rect x="213.9" y="23.0" width="10.2" height="0.6" fill="#3658bb"/>
<rect x="213.9" y="23.5" width="10.2" height="1.1" fill="#8ca2d6"/>
<rect x="213.9" y="24.5" width="10.2" height="0.8" fill="#f2f5fc"/>
<rect x="213.9" y="25.2" width="10.2" height="1.1" fill="#b8b6a0"/>
<rect x="213.9" y="26.2" width="10.2" height="0.7" fill="#9aaedc"/>
<rect x="213.9" y="26.8" width="10.2" height="0.5" fill="#8ca2d6"/>
<rect x="213.9" y="27.2" width="10.2" height="0.5" fill="#b8c6ea"/>
<rect x="213.9" y="27.6" width="10.2" height="0.6" fill="#b8b6a0"/>
<rect x="213.9" y="28.1" width="10.2" height="0.8" fill="#8ca2d6"/>
<rect x="213.9" y="28.8" width="10.2" height="0.5" fill="#5070c4"/>
<rect x="213.9" y="29.2" width="10.2" height="0.7" fill="#aabbe4"/>
<rect x="213.9" y="29.8" width="10.2" height="0.7" fill="#b8c6ea"/>
<rect x="213.9" y="30.4" width="10.2" height="0.7" fill="#8ca2d6"/>
<rect x="213.9" y="31.0" width="10.2" height="0.7" fill="#b8c6ea"/>
<rect x="213.9" y="31.6" width="10.2" height="0.8" fill="#8ca2d6"/>
<rect x="213.9" y="32.3" width="10.2" height="0.9" fill="#aabbe4"/>
<rect x="213.9" y="33.1" width="10.2" height="1.1" fill="#9aaedc"/>
<rect x="213.9" y="34.1" width="10.2" height="0.7" fill="#d6e0f5"/>
<rect x="213.9" y="34.7" width="10.2" height="0.7" fill="#d6e0f5"/>
<rect x="213.9" y="35.3" width="10.2" height="0.5" fill="#3d5fc0"/>
<rect x="213.9" y="35.7" width="10.2" height="0.8" fill="#3658bb"/>
<rect x="213.9" y="36.4" width="10.2" height="0.9" fill="#3658bb"/>
<rect x="213.9" y="37.2" width="10.2" height="0.7" fill="#e6ecfa"/>
<rect x="213.9" y="37.8" width="10.2" height="0.6" fill="#3658bb"/>
<rect x="213.9" y="38.3" width="10.2" height="0.9" fill="#3d5fc0"/>
<rect x="213.9" y="39.1" width="10.2" height="0.9" fill="#4363c0"/>
<rect x="213.9" y="39.9" width="10.2" height="0.8" fill="#4363c0"/>
<rect x="213.9" y="40.6" width="10.2" height="1.1" fill="#8d99b4"/>
<rect x="213.9" y="41.6" width="10.2" height="1.1" fill="#4566c2"/>
<rect x="213.9" y="42.6" width="10.2" height="0.5" fill="#3d5fc0"/>
<rect x="213.9" y="43.0" width="10.2" height="0.8" fill="#3d5fc0"/>
<rect x="213.9" y="43.7" width="10.2" height="0.7" fill="#4566c2"/>
<rect x="213.9" y="44.3" width="10.2" height="0.7" fill="#5070c4"/>
<rect x="213.9" y="44.9" width="10.2" height="0.7" fill="#e6ecfa"/>
<rect x="213.9" y="45.5" width="10.2" height="0.7" fill="#97a2b0"/>
<rect x="213.9" y="46.1" width="10.2" height="1.1" fill="#3d5fc0"/>
<rect x="213.9" y="47.1" width="10.2" height="0.8" fill="#3d5fc0"/>
<rect x="213.9" y="47.8" width="10.2" height="0.5" fill="#3658bb"/>
<rect x="213.9" y="48.2" width="10.2" height="0.9" fill="#3658bb"/>
<rect x="213.9" y="49.0" width="10.2" height="0.8" fill="#b8b6a0"/>
<rect x="213.9" y="49.7" width="10.2" height="0.8" fill="#4566c2"/>
<rect x="213.9" y="50.4" width="10.2" height="0.8" fill="#4363c0"/>
<rect x="213.9" y="51.1" width="10.2" height="0.5" fill="#a9a890"/>
<rect x="213.9" y="51.5" width="10.2" height="0.6" fill="#3d5fc0"/>
<rect x="213.9" y="52.0" width="10.2" height="0.8" fill="#b8b6a0"/>
<rect x="213.9" y="52.7" width="10.2" height="1.1" fill="#e6ecfa"/>
<rect x="213.9" y="53.7" width="10.2" height="0.6" fill="#4566c2"/>
<rect x="213.9" y="54.2" width="10.2" height="0.8" fill="#b8b6a0"/>
<rect x="213.9" y="54.9" width="10.2" height="0.9" fill="#aabbe4"/>
<rect x="213.9" y="55.7" width="10.2" height="0.5" fill="#aabbe4"/>
<rect x="213.9" y="56.1" width="10.2" height="1.1" fill="#5070c4"/>
<rect x="213.9" y="57.1" width="10.2" height="1.1" fill="#3658bb"/>
<rect x="213.9" y="58.1" width="10.2" height="0.8" fill="#5070c4"/>
<rect x="213.9" y="58.8" width="10.2" height="0.5" fill="#3d5fc0"/>
<rect x="213.9" y="59.2" width="10.2" height="0.5" fill="#b8b6a0"/>
<rect x="213.9" y="59.6" width="10.2" height="1.1" fill="#3d5fc0"/>
<rect x="213.9" y="60.6" width="10.2" height="0.8" fill="#d6e0f5"/>
<rect x="213.9" y="61.3" width="10.2" height="0.9" fill="#f2f5fc"/>
<rect x="213.9" y="62.1" width="10.2" height="0.9" fill="#b4b296"/>
<rect x="213.9" y="62.9" width="10.2" height="0.9" fill="#3658bb"/>
<rect x="213.9" y="63.7" width="10.2" height="1.1" fill="#e6ecfa"/>
<rect x="213.9" y="64.7" width="10.2" height="0.7" fill="#4566c2"/>
<rect x="213.9" y="65.3" width="10.2" height="1.1" fill="#3658bb"/>
<rect x="213.9" y="66.3" width="10.2" height="0.8" fill="#3658bb"/>
<rect x="213.9" y="67.0" width="10.2" height="0.7" fill="#4363c0"/>
<rect x="213.9" y="67.6" width="10.2" height="0.7" fill="#9aaedc"/>
<rect x="213.9" y="68.2" width="10.2" height="0.9" fill="#4363c0"/>
<rect x="213.9" y="69.0" width="10.2" height="0.7" fill="#3d5fc0"/>
<rect x="213.9" y="69.6" width="10.2" height="0.6" fill="#5070c4"/>
<rect x="213.9" y="70.1" width="10.2" height="0.9" fill="#aabbe4"/>
<rect x="213.9" y="70.9" width="10.2" height="0.8" fill="#b8c6ea"/>
<rect x="213.9" y="71.6" width="10.2" height="0.9" fill="#4566c2"/>
<rect x="213.9" y="72.4" width="10.2" height="0.8" fill="#9aaedc"/>
<rect x="213.9" y="73.1" width="10.2" height="0.7" fill="#b8c6ea"/>
<rect x="213.9" y="73.7" width="10.2" height="0.6" fill="#3d5fc0"/>
<rect x="213.9" y="74.2" width="10.2" height="0.7" fill="#4363c0"/>
<rect x="213.9" y="74.8" width="10.2" height="0.6" fill="#b8c6ea"/>
<rect x="213.9" y="75.3" width="10.2" height="0.7" fill="#4363c0"/>
<rect x="213.9" y="75.9" width="10.2" height="0.9" fill="#b8c6ea"/>
<rect x="213.9" y="76.7" width="10.2" height="0.6" fill="#4566c2"/>
<rect x="213.9" y="77.2" width="10.2" height="0.7" fill="#3658bb"/>
<rect x="213.9" y="77.8" width="10.2" height="0.8" fill="#5070c4"/>
<rect x="213.9" y="78.5" width="10.2" height="0.9" fill="#3658bb"/>
<rect x="213.9" y="79.3" width="10.2" height="0.8" fill="#8ca2d6"/>
<rect x="213.9" y="80.0" width="10.2" height="0.5" fill="#d6e0f5"/>
<rect x="213.9" y="80.4" width="10.2" height="0.9" fill="#4363c0"/>
<rect x="213.9" y="81.2" width="10.2" height="0.7" fill="#aabbe4"/>
<rect x="213.9" y="81.8" width="10.2" height="0.6" fill="#e6ecfa"/>
<rect x="213.9" y="82.3" width="10.2" height="0.6" fill="#5070c4"/>
<rect x="213.9" y="82.8" width="10.2" height="0.7" fill="#8ca2d6"/>
<rect x="213.9" y="83.4" width="10.2" height="0.8" fill="#4566c2"/>
<rect x="213.9" y="84.1" width="10.2" height="0.6" fill="#a9a890"/>
<rect x="213.9" y="84.6" width="10.2" height="0.7" fill="#5070c4"/>
<rect x="213.9" y="85.2" width="10.2" height="1.1" fill="#9aaedc"/>
<rect x="213.9" y="86.2" width="10.2" height="0.6" fill="#e6ecfa"/>
<rect x="213.9" y="86.7" width="10.2" height="0.7" fill="#d6e0f5"/>
<rect x="213.9" y="87.3" width="10.2" height="0.5" fill="#a0a8b6"/>
<rect x="213.9" y="87.7" width="10.2" height="0.9" fill="#aabbe4"/>
<rect x="213.9" y="88.5" width="10.2" height="0.7" fill="#5070c4"/>
<rect x="213.9" y="89.1" width="10.2" height="0.8" fill="#a9a890"/>
<rect x="213.9" y="89.8" width="10.2" height="0.9" fill="#4566c2"/>
<rect x="213.9" y="90.6" width="10.2" height="0.7" fill="#5070c4"/>
<rect x="213.9" y="91.2" width="10.2" height="0.6" fill="#3658bb"/>
<rect x="213.9" y="91.7" width="10.2" height="0.5" fill="#8d99b4"/>
<rect x="213.9" y="92.1" width="10.2" height="0.9" fill="#b8c6ea"/>
<rect x="213.9" y="92.9" width="10.2" height="0.8" fill="#3d5fc0"/>
<rect x="213.9" y="93.6" width="10.2" height="0.9" fill="#3d5fc0"/>
<rect x="213.9" y="94.4" width="10.2" height="1.1" fill="#5070c4"/>
<rect x="213.9" y="95.4" width="10.2" height="0.7" fill="#3d5fc0"/>
<rect x="213.9" y="96.0" width="10.2" height="1.1" fill="#aabbe4"/>
<rect x="213.9" y="97.0" width="10.2" height="0.8" fill="#5070c4"/>
<rect x="213.9" y="97.7" width="10.2" height="0.6" fill="#4566c2"/>
<rect x="213.9" y="98.2" width="10.2" height="0.6" fill="#b4b296"/>
<rect x="213.9" y="98.7" width="10.2" height="0.7" fill="#97a2b0"/>
<rect x="213.9" y="99.3" width="10.2" height="0.5" fill="#3d5fc0"/>
<rect x="213.9" y="99.7" width="10.2" height="0.7" fill="#3658bb"/>
<rect x="213.9" y="100.3" width="10.2" height="0.5" fill="#b4b296"/>
<rect x="213.9" y="100.7" width="10.2" height="0.5" fill="#5070c4"/>
<rect x="213.9" y="101.1" width="10.2" height="0.9" fill="#3d5fc0"/>
<rect x="213.9" y="101.9" width="10.2" height="0.8" fill="#8ca2d6"/>
<rect x="213.9" y="102.6" width="10.2" height="0.8" fill="#f2f5fc"/>
<rect x="213.9" y="103.3" width="10.2" height="0.8" fill="#e6ecfa"/>
<rect x="213.9" y="104.0" width="10.2" height="0.6" fill="#3d5fc0"/>
<rect x="213.9" y="104.5" width="10.2" height="0.8" fill="#4566c2"/>
<rect x="213.9" y="105.2" width="10.2" height="0.5" fill="#e6ecfa"/>
<rect x="213.9" y="105.6" width="10.2" height="0.5" fill="#5070c4"/>
<rect x="213.9" y="106.0" width="10.2" height="1.1" fill="#f2f5fc"/>
<rect x="213.9" y="107.0" width="10.2" height="0.5" fill="#3658bb"/>
<rect x="213.9" y="107.4" width="10.2" height="0.5" fill="#3658bb"/>
<rect x="213.9" y="107.8" width="10.2" height="0.7" fill="#aabbe4"/>
<rect x="213.9" y="108.4" width="10.2" height="0.8" fill="#b4b296"/>
<rect x="213.9" y="109.1" width="10.2" height="0.6" fill="#9aaedc"/>
<rect x="213.9" y="109.6" width="10.2" height="0.6" fill="#4363c0"/>
<rect x="213.9" y="110.1" width="10.2" height="0.6" fill="#aabbe4"/>
<rect x="213.9" y="110.6" width="10.2" height="0.7" fill="#aabbe4"/>
<rect x="213.9" y="111.2" width="10.2" height="0.6" fill="#97a2b0"/>
<rect x="213.9" y="111.7" width="10.2" height="0.7" fill="#aabbe4"/>
<rect x="213.9" y="112.3" width="10.2" height="0.7" fill="#8ca2d6"/>
<rect x="213.9" y="112.9" width="10.2" height="0.8" fill="#3d5fc0"/>
<rect x="213.9" y="113.6" width="10.2" height="0.6" fill="#3d5fc0"/>
<rect x="213.9" y="114.1" width="10.2" height="1.1" fill="#4566c2"/>
<rect x="213.9" y="115.1" width="10.2" height="0.9" fill="#8ca2d6"/>
<rect x="213.9" y="115.9" width="10.2" height="0.5" fill="#e6ecfa"/>
<rect x="213.9" y="116.3" width="10.2" height="0.7" fill="#8ca2d6"/>
<rect x="213.9" y="116.9" width="10.2" height="0.6" fill="#3d5fc0"/>
<rect x="213.9" y="117.4" width="10.2" height="0.8" fill="#e6ecfa"/>
<rect x="213.9" y="118.1" width="10.2" height="0.5" fill="#5070c4"/>
<rect x="213.9" y="118.5" width="10.2" height="0.6" fill="#3d5fc0"/>
<rect x="213.9" y="119.0" width="10.2" height="0.8" fill="#5070c4"/>
<rect x="213.9" y="119.7" width="10.2" height="0.9" fill="#8d99b4"/>
<rect x="213.9" y="120.5" width="10.2" height="0.9" fill="#f2f5fc"/>
<rect x="213.9" y="121.3" width="10.2" height="0.8" fill="#a9a890"/>
<rect x="213.9" y="122.0" width="10.2" height="0.6" fill="#e6ecfa"/>
<rect x="213.9" y="122.5" width="10.2" height="0.6" fill="#4363c0"/>
<rect x="213.9" y="123.0" width="10.2" height="0.6" fill="#4566c2"/>
<rect x="213.9" y="123.5" width="10.2" height="0.9" fill="#8d99b4"/>
<rect x="213.9" y="124.3" width="10.2" height="0.9" fill="#5070c4"/>
<rect x="213.9" y="125.1" width="10.2" height="0.6" fill="#97a2b0"/>
<rect x="213.9" y="125.6" width="10.2" height="1.1" fill="#4566c2"/>
<rect x="213.9" y="126.6" width="10.2" height="0.9" fill="#e6ecfa"/>
<rect x="213.9" y="127.4" width="10.2" height="0.5" fill="#b8c6ea"/>
<rect x="213.9" y="127.8" width="10.2" height="1.1" fill="#4363c0"/>
<rect x="213.9" y="14.1" width="10.2" height="1.2" fill="#b8b08e"/>
</g>
<rect x="214.25" y="14.45" width="9.5" height="113.9" rx="2" fill="none" stroke="#26345c" stroke-width="0.9"/>
<text transform="translate(210.0 71.4) rotate(-90)" text-anchor="middle" font-size="5.1" font-weight="bold" fill="#f9bd1a" letter-spacing="0.7">chr10</text>
<path d="M224.1 46.3h8" stroke="#7a7a7a" stroke-width="0.9"/>
<text x="233.1" y="48.2" font-size="5.3" font-style="italic" font-weight="bold" fill="#f2283a" textLength="13.799999999999999" lengthAdjust="spacingAndGlyphs">LcCHSa</text>
<g clip-path="url(#c4)">
<rect x="260.3" y="13.9" width="10.2" height="97.7" fill="#4f6fc2"/>
<rect x="260.3" y="13.9" width="10.2" height="0.7" fill="#b8b6a0"/>
<rect x="260.3" y="14.5" width="10.2" height="0.8" fill="#a9a890"/>
<rect x="260.3" y="15.2" width="10.2" height="0.8" fill="#b8b6a0"/>
<rect x="260.3" y="15.9" width="10.2" height="0.7" fill="#97a2b0"/>
<rect x="260.3" y="16.5" width="10.2" height="0.7" fill="#b8b6a0"/>
<rect x="260.3" y="17.1" width="10.2" height="0.7" fill="#e6ecfa"/>
<rect x="260.3" y="17.7" width="10.2" height="0.7" fill="#f2f5fc"/>
<rect x="260.3" y="18.3" width="10.2" height="0.9" fill="#b4b296"/>
<rect x="260.3" y="19.1" width="10.2" height="1.1" fill="#b4b296"/>
<rect x="260.3" y="20.1" width="10.2" height="1.1" fill="#4363c0"/>
<rect x="260.3" y="21.1" width="10.2" height="0.5" fill="#8d99b4"/>
<rect x="260.3" y="21.5" width="10.2" height="1.1" fill="#9aaedc"/>
<rect x="260.3" y="22.5" width="10.2" height="0.9" fill="#4566c2"/>
<rect x="260.3" y="23.3" width="10.2" height="0.5" fill="#8d99b4"/>
<rect x="260.3" y="23.7" width="10.2" height="0.6" fill="#aabbe4"/>
<rect x="260.3" y="24.2" width="10.2" height="0.5" fill="#d6e0f5"/>
<rect x="260.3" y="24.6" width="10.2" height="0.5" fill="#b8b6a0"/>
<rect x="260.3" y="25.0" width="10.2" height="1.1" fill="#8d99b4"/>
<rect x="260.3" y="26.0" width="10.2" height="0.9" fill="#b8c6ea"/>
<rect x="260.3" y="26.8" width="10.2" height="0.9" fill="#a9a890"/>
<rect x="260.3" y="27.6" width="10.2" height="0.5" fill="#9aaedc"/>
<rect x="260.3" y="28.0" width="10.2" height="1.1" fill="#b4b296"/>
<rect x="260.3" y="29.0" width="10.2" height="0.5" fill="#8ca2d6"/>
<rect x="260.3" y="29.4" width="10.2" height="0.5" fill="#a9a890"/>
<rect x="260.3" y="29.8" width="10.2" height="0.6" fill="#aabbe4"/>
<rect x="260.3" y="30.3" width="10.2" height="0.6" fill="#97a2b0"/>
<rect x="260.3" y="30.8" width="10.2" height="0.8" fill="#4566c2"/>
<rect x="260.3" y="31.5" width="10.2" height="0.5" fill="#3658bb"/>
<rect x="260.3" y="31.9" width="10.2" height="1.1" fill="#9aaedc"/>
<rect x="260.3" y="32.9" width="10.2" height="0.8" fill="#3d5fc0"/>
<rect x="260.3" y="33.6" width="10.2" height="0.7" fill="#aabbe4"/>
<rect x="260.3" y="34.2" width="10.2" height="0.7" fill="#4363c0"/>
<rect x="260.3" y="34.8" width="10.2" height="0.7" fill="#4363c0"/>
<rect x="260.3" y="35.4" width="10.2" height="0.5" fill="#aabbe4"/>
<rect x="260.3" y="35.8" width="10.2" height="1.1" fill="#4566c2"/>
<rect x="260.3" y="36.8" width="10.2" height="0.8" fill="#3d5fc0"/>
<rect x="260.3" y="37.5" width="10.2" height="0.7" fill="#a0a8b6"/>
<rect x="260.3" y="38.1" width="10.2" height="0.5" fill="#aabbe4"/>
<rect x="260.3" y="38.5" width="10.2" height="0.9" fill="#4566c2"/>
<rect x="260.3" y="39.3" width="10.2" height="0.6" fill="#b8c6ea"/>
<rect x="260.3" y="39.8" width="10.2" height="0.8" fill="#3d5fc0"/>
<rect x="260.3" y="40.5" width="10.2" height="0.5" fill="#4363c0"/>
<rect x="260.3" y="40.9" width="10.2" height="0.7" fill="#4363c0"/>
<rect x="260.3" y="41.5" width="10.2" height="0.7" fill="#3d5fc0"/>
<rect x="260.3" y="42.1" width="10.2" height="0.9" fill="#8d99b4"/>
<rect x="260.3" y="42.9" width="10.2" height="0.9" fill="#a0a8b6"/>
<rect x="260.3" y="43.7" width="10.2" height="0.5" fill="#8ca2d6"/>
<rect x="260.3" y="44.1" width="10.2" height="0.7" fill="#3d5fc0"/>
<rect x="260.3" y="44.7" width="10.2" height="0.5" fill="#4363c0"/>
<rect x="260.3" y="45.1" width="10.2" height="0.7" fill="#97a2b0"/>
<rect x="260.3" y="45.7" width="10.2" height="0.9" fill="#3658bb"/>
<rect x="260.3" y="46.5" width="10.2" height="0.5" fill="#8ca2d6"/>
<rect x="260.3" y="46.9" width="10.2" height="0.8" fill="#5070c4"/>
<rect x="260.3" y="47.6" width="10.2" height="0.6" fill="#4363c0"/>
<rect x="260.3" y="48.1" width="10.2" height="0.7" fill="#4363c0"/>
<rect x="260.3" y="48.7" width="10.2" height="1.1" fill="#3658bb"/>
<rect x="260.3" y="49.7" width="10.2" height="0.6" fill="#8ca2d6"/>
<rect x="260.3" y="50.2" width="10.2" height="0.8" fill="#5070c4"/>
<rect x="260.3" y="50.9" width="10.2" height="0.9" fill="#8ca2d6"/>
<rect x="260.3" y="51.7" width="10.2" height="0.5" fill="#e6ecfa"/>
<rect x="260.3" y="52.1" width="10.2" height="0.6" fill="#b8c6ea"/>
<rect x="260.3" y="52.6" width="10.2" height="0.9" fill="#8ca2d6"/>
<rect x="260.3" y="53.4" width="10.2" height="0.6" fill="#4566c2"/>
<rect x="260.3" y="53.9" width="10.2" height="0.7" fill="#b8c6ea"/>
<rect x="260.3" y="54.5" width="10.2" height="0.7" fill="#e6ecfa"/>
<rect x="260.3" y="55.1" width="10.2" height="0.7" fill="#8d99b4"/>
<rect x="260.3" y="55.7" width="10.2" height="0.6" fill="#8ca2d6"/>
<rect x="260.3" y="56.2" width="10.2" height="0.8" fill="#4363c0"/>
<rect x="260.3" y="56.9" width="10.2" height="0.8" fill="#5070c4"/>
<rect x="260.3" y="57.6" width="10.2" height="1.1" fill="#4363c0"/>
<rect x="260.3" y="58.6" width="10.2" height="0.6" fill="#4566c2"/>
<rect x="260.3" y="59.1" width="10.2" height="0.8" fill="#f2f5fc"/>
<rect x="260.3" y="59.8" width="10.2" height="0.6" fill="#4363c0"/>
<rect x="260.3" y="60.3" width="10.2" height="0.9" fill="#4363c0"/>
<rect x="260.3" y="61.1" width="10.2" height="0.5" fill="#3658bb"/>
<rect x="260.3" y="61.5" width="10.2" height="0.7" fill="#4566c2"/>
<rect x="260.3" y="62.1" width="10.2" height="0.8" fill="#3d5fc0"/>
<rect x="260.3" y="62.8" width="10.2" height="0.8" fill="#4363c0"/>
<rect x="260.3" y="63.5" width="10.2" height="0.5" fill="#aabbe4"/>
<rect x="260.3" y="63.9" width="10.2" height="0.8" fill="#5070c4"/>
<rect x="260.3" y="64.6" width="10.2" height="0.9" fill="#b8c6ea"/>
<rect x="260.3" y="65.4" width="10.2" height="0.8" fill="#5070c4"/>
<rect x="260.3" y="66.1" width="10.2" height="1.1" fill="#f2f5fc"/>
<rect x="260.3" y="67.1" width="10.2" height="0.8" fill="#b8c6ea"/>
<rect x="260.3" y="67.8" width="10.2" height="1.1" fill="#d6e0f5"/>
<rect x="260.3" y="68.8" width="10.2" height="0.8" fill="#f2f5fc"/>
<rect x="260.3" y="69.5" width="10.2" height="0.6" fill="#aabbe4"/>
<rect x="260.3" y="70.0" width="10.2" height="0.8" fill="#aabbe4"/>
<rect x="260.3" y="70.7" width="10.2" height="0.5" fill="#5070c4"/>
<rect x="260.3" y="71.1" width="10.2" height="0.7" fill="#4363c0"/>
<rect x="260.3" y="71.7" width="10.2" height="0.6" fill="#4566c2"/>
<rect x="260.3" y="72.2" width="10.2" height="0.8" fill="#3d5fc0"/>
<rect x="260.3" y="72.9" width="10.2" height="0.5" fill="#97a2b0"/>
<rect x="260.3" y="73.3" width="10.2" height="0.8" fill="#8ca2d6"/>
<rect x="260.3" y="74.0" width="10.2" height="0.9" fill="#3658bb"/>
<rect x="260.3" y="74.8" width="10.2" height="0.9" fill="#3658bb"/>
<rect x="260.3" y="75.6" width="10.2" height="0.8" fill="#9aaedc"/>
<rect x="260.3" y="76.3" width="10.2" height="0.9" fill="#3658bb"/>
<rect x="260.3" y="77.1" width="10.2" height="0.5" fill="#4363c0"/>
<rect x="260.3" y="77.5" width="10.2" height="0.6" fill="#b4b296"/>
<rect x="260.3" y="78.0" width="10.2" height="0.9" fill="#aabbe4"/>
<rect x="260.3" y="78.8" width="10.2" height="0.6" fill="#3658bb"/>
<rect x="260.3" y="79.3" width="10.2" height="0.8" fill="#8ca2d6"/>
<rect x="260.3" y="80.0" width="10.2" height="1.1" fill="#9aaedc"/>
<rect x="260.3" y="81.0" width="10.2" height="0.6" fill="#8ca2d6"/>
<rect x="260.3" y="81.5" width="10.2" height="0.5" fill="#4363c0"/>
<rect x="260.3" y="81.9" width="10.2" height="0.6" fill="#b4b296"/>
<rect x="260.3" y="82.4" width="10.2" height="1.1" fill="#b8c6ea"/>
<rect x="260.3" y="83.4" width="10.2" height="1.1" fill="#b4b296"/>
<rect x="260.3" y="84.4" width="10.2" height="0.9" fill="#e6ecfa"/>
<rect x="260.3" y="85.2" width="10.2" height="0.8" fill="#b8b6a0"/>
<rect x="260.3" y="85.9" width="10.2" height="0.9" fill="#8ca2d6"/>
<rect x="260.3" y="86.7" width="10.2" height="0.9" fill="#3d5fc0"/>
<rect x="260.3" y="87.5" width="10.2" height="1.1" fill="#9aaedc"/>
<rect x="260.3" y="88.5" width="10.2" height="0.7" fill="#4363c0"/>
<rect x="260.3" y="89.1" width="10.2" height="0.5" fill="#3658bb"/>
<rect x="260.3" y="89.5" width="10.2" height="0.5" fill="#9aaedc"/>
<rect x="260.3" y="89.9" width="10.2" height="0.6" fill="#97a2b0"/>
<rect x="260.3" y="90.4" width="10.2" height="0.9" fill="#d6e0f5"/>
<rect x="260.3" y="91.2" width="10.2" height="0.9" fill="#aabbe4"/>
<rect x="260.3" y="92.0" width="10.2" height="0.9" fill="#97a2b0"/>
<rect x="260.3" y="92.8" width="10.2" height="0.5" fill="#97a2b0"/>
<rect x="260.3" y="93.2" width="10.2" height="0.9" fill="#8d99b4"/>
<rect x="260.3" y="94.0" width="10.2" height="0.5" fill="#97a2b0"/>
<rect x="260.3" y="94.4" width="10.2" height="0.8" fill="#4363c0"/>
<rect x="260.3" y="95.1" width="10.2" height="0.8" fill="#3d5fc0"/>
<rect x="260.3" y="95.8" width="10.2" height="1.1" fill="#97a2b0"/>
<rect x="260.3" y="96.8" width="10.2" height="0.7" fill="#a0a8b6"/>
<rect x="260.3" y="97.4" width="10.2" height="0.7" fill="#e6ecfa"/>
<rect x="260.3" y="98.0" width="10.2" height="0.7" fill="#9aaedc"/>
<rect x="260.3" y="98.6" width="10.2" height="0.7" fill="#97a2b0"/>
<rect x="260.3" y="99.2" width="10.2" height="0.8" fill="#a0a8b6"/>
<rect x="260.3" y="99.9" width="10.2" height="0.8" fill="#9aaedc"/>
<rect x="260.3" y="100.6" width="10.2" height="0.8" fill="#a0a8b6"/>
<rect x="260.3" y="101.3" width="10.2" height="0.6" fill="#a0a8b6"/>
<rect x="260.3" y="101.8" width="10.2" height="0.9" fill="#5070c4"/>
<rect x="260.3" y="102.6" width="10.2" height="0.5" fill="#3658bb"/>
<rect x="260.3" y="103.0" width="10.2" height="0.7" fill="#8ca2d6"/>
<rect x="260.3" y="103.6" width="10.2" height="0.8" fill="#3d5fc0"/>
<rect x="260.3" y="104.3" width="10.2" height="0.6" fill="#aabbe4"/>
<rect x="260.3" y="104.8" width="10.2" height="0.8" fill="#d6e0f5"/>
<rect x="260.3" y="105.5" width="10.2" height="0.8" fill="#a0a8b6"/>
<rect x="260.3" y="106.2" width="10.2" height="0.5" fill="#b4b296"/>
<rect x="260.3" y="106.6" width="10.2" height="0.8" fill="#b4b296"/>
<rect x="260.3" y="107.3" width="10.2" height="0.8" fill="#9aaedc"/>
<rect x="260.3" y="108.0" width="10.2" height="0.7" fill="#b8c6ea"/>
<rect x="260.3" y="108.6" width="10.2" height="0.7" fill="#9aaedc"/>
<rect x="260.3" y="109.2" width="10.2" height="0.5" fill="#8ca2d6"/>
<rect x="260.3" y="109.6" width="10.2" height="0.9" fill="#a0a8b6"/>
<rect x="260.3" y="110.4" width="10.2" height="0.8" fill="#a0a8b6"/>
<rect x="260.3" y="111.1" width="10.2" height="0.8" fill="#b8b6a0"/>
<rect x="260.3" y="13.9" width="10.2" height="1.2" fill="#b8b08e"/>
</g>
<rect x="260.65000000000003" y="14.25" width="9.5" height="97.0" rx="2" fill="none" stroke="#26345c" stroke-width="0.9"/>
<text transform="translate(256.4 62.8) rotate(-90)" text-anchor="middle" font-size="5.1" font-weight="bold" fill="#f9bd1a" letter-spacing="0.7">chr9</text>
<path d="M270.5 37.4h8" stroke="#7a7a7a" stroke-width="0.9"/>
<text x="279.5" y="39.3" font-size="5.3" font-style="italic" font-weight="bold" fill="#f2283a" textLength="13.0" lengthAdjust="spacingAndGlyphs">LcCHSd</text>
<g clip-path="url(#c5)">
<rect x="307.2" y="13.9" width="10.2" height="115.1" fill="#4f6fc2"/>
<rect x="307.2" y="13.9" width="10.2" height="0.5" fill="#a0a8b6"/>
<rect x="307.2" y="14.3" width="10.2" height="0.6" fill="#e6ecfa"/>
<rect x="307.2" y="14.8" width="10.2" height="0.6" fill="#a0a8b6"/>
<rect x="307.2" y="15.3" width="10.2" height="0.9" fill="#a0a8b6"/>
<rect x="307.2" y="16.1" width="10.2" height="0.6" fill="#a0a8b6"/>
<rect x="307.2" y="16.6" width="10.2" height="1.1" fill="#b8b6a0"/>
<rect x="307.2" y="17.6" width="10.2" height="0.9" fill="#a9a890"/>
<rect x="307.2" y="18.4" width="10.2" height="0.9" fill="#a9a890"/>
<rect x="307.2" y="19.2" width="10.2" height="1.1" fill="#b8b6a0"/>
<rect x="307.2" y="20.2" width="10.2" height="0.7" fill="#b8c6ea"/>
<rect x="307.2" y="20.8" width="10.2" height="0.9" fill="#4363c0"/>
<rect x="307.2" y="21.6" width="10.2" height="0.6" fill="#d6e0f5"/>
<rect x="307.2" y="22.1" width="10.2" height="0.6" fill="#8d99b4"/>
<rect x="307.2" y="22.6" width="10.2" height="1.1" fill="#8ca2d6"/>
<rect x="307.2" y="23.6" width="10.2" height="1.1" fill="#3658bb"/>
<rect x="307.2" y="24.6" width="10.2" height="0.5" fill="#aabbe4"/>
<rect x="307.2" y="25.0" width="10.2" height="0.7" fill="#b8b6a0"/>
<rect x="307.2" y="25.6" width="10.2" height="0.5" fill="#4566c2"/>
<rect x="307.2" y="26.0" width="10.2" height="0.7" fill="#8d99b4"/>
<rect x="307.2" y="26.6" width="10.2" height="0.5" fill="#8ca2d6"/>
<rect x="307.2" y="27.0" width="10.2" height="0.9" fill="#4566c2"/>
<rect x="307.2" y="27.8" width="10.2" height="0.5" fill="#3d5fc0"/>
<rect x="307.2" y="28.2" width="10.2" height="0.6" fill="#d6e0f5"/>
<rect x="307.2" y="28.7" width="10.2" height="0.8" fill="#f2f5fc"/>
<rect x="307.2" y="29.4" width="10.2" height="0.8" fill="#4566c2"/>
<rect x="307.2" y="30.1" width="10.2" height="0.7" fill="#f2f5fc"/>
<rect x="307.2" y="30.7" width="10.2" height="1.1" fill="#5070c4"/>
<rect x="307.2" y="31.7" width="10.2" height="0.8" fill="#b8b6a0"/>
<rect x="307.2" y="32.4" width="10.2" height="1.1" fill="#b8c6ea"/>
<rect x="307.2" y="33.4" width="10.2" height="0.7" fill="#3d5fc0"/>
<rect x="307.2" y="34.0" width="10.2" height="0.6" fill="#8ca2d6"/>
<rect x="307.2" y="34.5" width="10.2" height="0.9" fill="#3d5fc0"/>
<rect x="307.2" y="35.3" width="10.2" height="0.8" fill="#a0a8b6"/>
<rect x="307.2" y="36.0" width="10.2" height="0.8" fill="#f2f5fc"/>
<rect x="307.2" y="36.7" width="10.2" height="0.6" fill="#9aaedc"/>
<rect x="307.2" y="37.2" width="10.2" height="0.9" fill="#aabbe4"/>
<rect x="307.2" y="38.0" width="10.2" height="0.9" fill="#4363c0"/>
<rect x="307.2" y="38.8" width="10.2" height="0.8" fill="#5070c4"/>
<rect x="307.2" y="39.5" width="10.2" height="0.8" fill="#4363c0"/>
<rect x="307.2" y="40.2" width="10.2" height="0.7" fill="#3d5fc0"/>
<rect x="307.2" y="40.8" width="10.2" height="1.1" fill="#9aaedc"/>
<rect x="307.2" y="41.8" width="10.2" height="0.9" fill="#3d5fc0"/>
<rect x="307.2" y="42.6" width="10.2" height="0.6" fill="#3d5fc0"/>
<rect x="307.2" y="43.1" width="10.2" height="0.7" fill="#8ca2d6"/>
<rect x="307.2" y="43.7" width="10.2" height="1.1" fill="#3658bb"/>
<rect x="307.2" y="44.7" width="10.2" height="1.1" fill="#4363c0"/>
<rect x="307.2" y="45.7" width="10.2" height="0.6" fill="#9aaedc"/>
<rect x="307.2" y="46.2" width="10.2" height="0.7" fill="#3658bb"/>
<rect x="307.2" y="46.8" width="10.2" height="0.8" fill="#4363c0"/>
<rect x="307.2" y="47.5" width="10.2" height="1.1" fill="#3658bb"/>
<rect x="307.2" y="48.5" width="10.2" height="0.9" fill="#b8b6a0"/>
<rect x="307.2" y="49.3" width="10.2" height="0.6" fill="#aabbe4"/>
<rect x="307.2" y="49.8" width="10.2" height="0.8" fill="#3d5fc0"/>
<rect x="307.2" y="50.5" width="10.2" height="1.1" fill="#4363c0"/>
<rect x="307.2" y="51.5" width="10.2" height="0.7" fill="#e6ecfa"/>
<rect x="307.2" y="52.1" width="10.2" height="1.1" fill="#f2f5fc"/>
<rect x="307.2" y="53.1" width="10.2" height="0.6" fill="#4566c2"/>
<rect x="307.2" y="53.6" width="10.2" height="0.7" fill="#e6ecfa"/>
<rect x="307.2" y="54.2" width="10.2" height="0.6" fill="#4566c2"/>
<rect x="307.2" y="54.7" width="10.2" height="0.6" fill="#3658bb"/>
<rect x="307.2" y="55.2" width="10.2" height="1.1" fill="#aabbe4"/>
<rect x="307.2" y="56.2" width="10.2" height="0.5" fill="#b8c6ea"/>
<rect x="307.2" y="56.6" width="10.2" height="0.6" fill="#5070c4"/>
<rect x="307.2" y="57.1" width="10.2" height="1.1" fill="#d6e0f5"/>
<rect x="307.2" y="58.1" width="10.2" height="0.6" fill="#4566c2"/>
<rect x="307.2" y="58.6" width="10.2" height="0.7" fill="#3d5fc0"/>
<rect x="307.2" y="59.2" width="10.2" height="0.9" fill="#aabbe4"/>
<rect x="307.2" y="60.0" width="10.2" height="1.1" fill="#4363c0"/>
<rect x="307.2" y="61.0" width="10.2" height="0.8" fill="#3658bb"/>
<rect x="307.2" y="61.7" width="10.2" height="0.6" fill="#f2f5fc"/>
<rect x="307.2" y="62.2" width="10.2" height="0.5" fill="#aabbe4"/>
<rect x="307.2" y="62.6" width="10.2" height="0.5" fill="#b4b296"/>
<rect x="307.2" y="63.0" width="10.2" height="0.7" fill="#d6e0f5"/>
<rect x="307.2" y="63.6" width="10.2" height="0.7" fill="#9aaedc"/>
<rect x="307.2" y="64.2" width="10.2" height="0.6" fill="#b8c6ea"/>
<rect x="307.2" y="64.7" width="10.2" height="0.9" fill="#aabbe4"/>
<rect x="307.2" y="65.5" width="10.2" height="0.9" fill="#8d99b4"/>
<rect x="307.2" y="66.3" width="10.2" height="0.8" fill="#3658bb"/>
<rect x="307.2" y="67.0" width="10.2" height="0.5" fill="#5070c4"/>
<rect x="307.2" y="67.4" width="10.2" height="1.1" fill="#3d5fc0"/>
<rect x="307.2" y="68.4" width="10.2" height="1.1" fill="#b8c6ea"/>
<rect x="307.2" y="69.4" width="10.2" height="0.8" fill="#d6e0f5"/>
<rect x="307.2" y="70.1" width="10.2" height="0.7" fill="#8d99b4"/>
<rect x="307.2" y="70.7" width="10.2" height="1.1" fill="#8ca2d6"/>
<rect x="307.2" y="71.7" width="10.2" height="1.1" fill="#e6ecfa"/>
<rect x="307.2" y="72.7" width="10.2" height="1.1" fill="#a9a890"/>
<rect x="307.2" y="73.7" width="10.2" height="0.6" fill="#e6ecfa"/>
<rect x="307.2" y="74.2" width="10.2" height="1.1" fill="#aabbe4"/>
<rect x="307.2" y="75.2" width="10.2" height="0.5" fill="#5070c4"/>
<rect x="307.2" y="75.6" width="10.2" height="1.1" fill="#3658bb"/>
<rect x="307.2" y="76.6" width="10.2" height="0.6" fill="#5070c4"/>
<rect x="307.2" y="77.1" width="10.2" height="0.7" fill="#e6ecfa"/>
<rect x="307.2" y="77.7" width="10.2" height="0.9" fill="#5070c4"/>
<rect x="307.2" y="78.5" width="10.2" height="0.6" fill="#8d99b4"/>
<rect x="307.2" y="79.0" width="10.2" height="0.9" fill="#3658bb"/>
<rect x="307.2" y="79.8" width="10.2" height="0.5" fill="#3658bb"/>
<rect x="307.2" y="80.2" width="10.2" height="0.8" fill="#aabbe4"/>
<rect x="307.2" y="80.9" width="10.2" height="0.7" fill="#9aaedc"/>
<rect x="307.2" y="81.5" width="10.2" height="0.6" fill="#4566c2"/>
<rect x="307.2" y="82.0" width="10.2" height="0.6" fill="#b8c6ea"/>
<rect x="307.2" y="82.5" width="10.2" height="0.5" fill="#3658bb"/>
<rect x="307.2" y="82.9" width="10.2" height="0.8" fill="#d6e0f5"/>
<rect x="307.2" y="83.6" width="10.2" height="0.7" fill="#97a2b0"/>
<rect x="307.2" y="84.2" width="10.2" height="0.9" fill="#8ca2d6"/>
<rect x="307.2" y="85.0" width="10.2" height="0.5" fill="#4363c0"/>
<rect x="307.2" y="85.4" width="10.2" height="1.1" fill="#8ca2d6"/>
<rect x="307.2" y="86.4" width="10.2" height="0.5" fill="#aabbe4"/>
<rect x="307.2" y="86.8" width="10.2" height="1.1" fill="#f2f5fc"/>
<rect x="307.2" y="87.8" width="10.2" height="0.5" fill="#8ca2d6"/>
<rect x="307.2" y="88.2" width="10.2" height="0.9" fill="#e6ecfa"/>
<rect x="307.2" y="89.0" width="10.2" height="0.9" fill="#b8c6ea"/>
<rect x="307.2" y="89.8" width="10.2" height="0.8" fill="#4566c2"/>
<rect x="307.2" y="90.5" width="10.2" height="0.8" fill="#4363c0"/>
<rect x="307.2" y="91.2" width="10.2" height="0.5" fill="#3d5fc0"/>
<rect x="307.2" y="91.6" width="10.2" height="1.1" fill="#4363c0"/>
<rect x="307.2" y="92.6" width="10.2" height="1.1" fill="#b8c6ea"/>
<rect x="307.2" y="93.6" width="10.2" height="0.7" fill="#aabbe4"/>
<rect x="307.2" y="94.2" width="10.2" height="0.7" fill="#4363c0"/>
<rect x="307.2" y="94.8" width="10.2" height="1.1" fill="#a0a8b6"/>
<rect x="307.2" y="95.8" width="10.2" height="0.6" fill="#3658bb"/>
<rect x="307.2" y="96.3" width="10.2" height="1.1" fill="#b8b6a0"/>
<rect x="307.2" y="97.3" width="10.2" height="0.9" fill="#b8c6ea"/>
<rect x="307.2" y="98.1" width="10.2" height="0.7" fill="#4363c0"/>
<rect x="307.2" y="98.7" width="10.2" height="0.8" fill="#9aaedc"/>
<rect x="307.2" y="99.4" width="10.2" height="0.6" fill="#e6ecfa"/>
<rect x="307.2" y="99.9" width="10.2" height="0.9" fill="#4566c2"/>
<rect x="307.2" y="100.7" width="10.2" height="0.7" fill="#4566c2"/>
<rect x="307.2" y="101.3" width="10.2" height="0.9" fill="#3658bb"/>
<rect x="307.2" y="102.1" width="10.2" height="0.6" fill="#4566c2"/>
<rect x="307.2" y="102.6" width="10.2" height="0.9" fill="#3d5fc0"/>
<rect x="307.2" y="103.4" width="10.2" height="1.1" fill="#9aaedc"/>
<rect x="307.2" y="104.4" width="10.2" height="0.8" fill="#3658bb"/>
<rect x="307.2" y="105.1" width="10.2" height="0.6" fill="#4363c0"/>
<rect x="307.2" y="105.6" width="10.2" height="0.9" fill="#3d5fc0"/>
<rect x="307.2" y="106.4" width="10.2" height="1.1" fill="#4363c0"/>
<rect x="307.2" y="107.4" width="10.2" height="0.5" fill="#b8c6ea"/>
<rect x="307.2" y="107.8" width="10.2" height="0.9" fill="#e6ecfa"/>
<rect x="307.2" y="108.6" width="10.2" height="0.9" fill="#9aaedc"/>
<rect x="307.2" y="109.4" width="10.2" height="0.6" fill="#9aaedc"/>
<rect x="307.2" y="109.9" width="10.2" height="0.8" fill="#8ca2d6"/>
<rect x="307.2" y="110.6" width="10.2" height="0.5" fill="#97a2b0"/>
<rect x="307.2" y="111.0" width="10.2" height="0.6" fill="#9aaedc"/>
<rect x="307.2" y="111.5" width="10.2" height="1.1" fill="#e6ecfa"/>
<rect x="307.2" y="112.5" width="10.2" height="0.9" fill="#4566c2"/>
<rect x="307.2" y="113.3" width="10.2" height="0.9" fill="#b8b6a0"/>
<rect x="307.2" y="114.1" width="10.2" height="0.7" fill="#d6e0f5"/>
<rect x="307.2" y="114.7" width="10.2" height="0.7" fill="#3d5fc0"/>
<rect x="307.2" y="115.3" width="10.2" height="0.7" fill="#b4b296"/>
<rect x="307.2" y="115.9" width="10.2" height="0.9" fill="#5070c4"/>
<rect x="307.2" y="116.7" width="10.2" height="1.1" fill="#8ca2d6"/>
<rect x="307.2" y="117.7" width="10.2" height="0.5" fill="#8ca2d6"/>
<rect x="307.2" y="118.1" width="10.2" height="0.9" fill="#b8b6a0"/>
<rect x="307.2" y="118.9" width="10.2" height="0.6" fill="#e6ecfa"/>
<rect x="307.2" y="119.4" width="10.2" height="1.1" fill="#b8c6ea"/>
<rect x="307.2" y="120.4" width="10.2" height="0.5" fill="#3658bb"/>
<rect x="307.2" y="120.8" width="10.2" height="0.5" fill="#b4b296"/>
<rect x="307.2" y="121.2" width="10.2" height="0.6" fill="#b4b296"/>
<rect x="307.2" y="121.7" width="10.2" height="1.1" fill="#aabbe4"/>
<rect x="307.2" y="122.7" width="10.2" height="0.9" fill="#4363c0"/>
<rect x="307.2" y="123.5" width="10.2" height="1.1" fill="#8ca2d6"/>
<rect x="307.2" y="124.5" width="10.2" height="0.8" fill="#b4b296"/>
<rect x="307.2" y="125.2" width="10.2" height="0.6" fill="#b8c6ea"/>
<rect x="307.2" y="125.7" width="10.2" height="0.5" fill="#9aaedc"/>
<rect x="307.2" y="126.1" width="10.2" height="0.5" fill="#b8b6a0"/>
<rect x="307.2" y="126.5" width="10.2" height="1.1" fill="#b8c6ea"/>
<rect x="307.2" y="127.5" width="10.2" height="0.6" fill="#b8c6ea"/>
<rect x="307.2" y="128.0" width="10.2" height="0.8" fill="#97a2b0"/>
<rect x="307.2" y="128.7" width="10.2" height="0.9" fill="#b4b296"/>
<rect x="307.2" y="13.9" width="10.2" height="1.2" fill="#b8b08e"/>
</g>
<rect x="307.55" y="14.25" width="9.5" height="114.4" rx="2" fill="none" stroke="#26345c" stroke-width="0.9"/>
<text transform="translate(303.3 71.5) rotate(-90)" text-anchor="middle" font-size="5.1" font-weight="bold" fill="#f9bd1a" letter-spacing="0.7">chr5</text>
<path d="M317.4 88.6h8" stroke="#7a7a7a" stroke-width="0.9"/>
<text x="326.4" y="90.5" font-size="5.3" font-style="italic" font-weight="bold" fill="#f2283a" textLength="13.6" lengthAdjust="spacingAndGlyphs">LcCHSc</text>
<g clip-path="url(#c6)">
<rect x="353.4" y="14.1" width="10.2" height="130.2" fill="#4f6fc2"/>
<rect x="353.4" y="14.1" width="10.2" height="0.9" fill="#a0a8b6"/>
<rect x="353.4" y="14.9" width="10.2" height="0.9" fill="#aabbe4"/>
<rect x="353.4" y="15.7" width="10.2" height="0.6" fill="#b8c6ea"/>
<rect x="353.4" y="16.2" width="10.2" height="0.7" fill="#b8c6ea"/>
<rect x="353.4" y="16.8" width="10.2" height="0.7" fill="#b4b296"/>
<rect x="353.4" y="17.4" width="10.2" height="0.9" fill="#e6ecfa"/>
<rect x="353.4" y="18.2" width="10.2" height="0.5" fill="#97a2b0"/>
<rect x="353.4" y="18.6" width="10.2" height="0.5" fill="#aabbe4"/>
<rect x="353.4" y="19.0" width="10.2" height="0.7" fill="#8d99b4"/>
<rect x="353.4" y="19.6" width="10.2" height="0.9" fill="#5070c4"/>
<rect x="353.4" y="20.4" width="10.2" height="0.9" fill="#aabbe4"/>
<rect x="353.4" y="21.2" width="10.2" height="1.1" fill="#97a2b0"/>
<rect x="353.4" y="22.2" width="10.2" height="0.5" fill="#3658bb"/>
<rect x="353.4" y="22.6" width="10.2" height="1.1" fill="#9aaedc"/>
<rect x="353.4" y="23.6" width="10.2" height="0.7" fill="#aabbe4"/>
<rect x="353.4" y="24.2" width="10.2" height="0.6" fill="#8ca2d6"/>
<rect x="353.4" y="24.7" width="10.2" height="0.7" fill="#aabbe4"/>
<rect x="353.4" y="25.3" width="10.2" height="0.7" fill="#3658bb"/>
<rect x="353.4" y="25.9" width="10.2" height="0.7" fill="#b4b296"/>
<rect x="353.4" y="26.5" width="10.2" height="1.1" fill="#a9a890"/>
<rect x="353.4" y="27.5" width="10.2" height="0.9" fill="#a0a8b6"/>
<rect x="353.4" y="28.3" width="10.2" height="0.6" fill="#4566c2"/>
<rect x="353.4" y="28.8" width="10.2" height="0.6" fill="#b8b6a0"/>
<rect x="353.4" y="29.3" width="10.2" height="0.8" fill="#a9a890"/>
<rect x="353.4" y="30.0" width="10.2" height="0.9" fill="#aabbe4"/>
<rect x="353.4" y="30.8" width="10.2" height="0.9" fill="#b4b296"/>
<rect x="353.4" y="31.6" width="10.2" height="1.1" fill="#b8b6a0"/>
<rect x="353.4" y="32.6" width="10.2" height="0.9" fill="#8ca2d6"/>
<rect x="353.4" y="33.4" width="10.2" height="0.5" fill="#4363c0"/>
<rect x="353.4" y="33.8" width="10.2" height="0.5" fill="#8ca2d6"/>
<rect x="353.4" y="34.2" width="10.2" height="0.9" fill="#a9a890"/>
<rect x="353.4" y="35.0" width="10.2" height="0.7" fill="#3658bb"/>
<rect x="353.4" y="35.6" width="10.2" height="1.1" fill="#3d5fc0"/>
<rect x="353.4" y="36.6" width="10.2" height="0.8" fill="#a0a8b6"/>
<rect x="353.4" y="37.3" width="10.2" height="0.7" fill="#4363c0"/>
<rect x="353.4" y="37.9" width="10.2" height="0.5" fill="#8ca2d6"/>
<rect x="353.4" y="38.3" width="10.2" height="0.6" fill="#aabbe4"/>
<rect x="353.4" y="38.8" width="10.2" height="0.5" fill="#a0a8b6"/>
<rect x="353.4" y="39.2" width="10.2" height="0.9" fill="#97a2b0"/>
<rect x="353.4" y="40.0" width="10.2" height="1.1" fill="#a0a8b6"/>
<rect x="353.4" y="41.0" width="10.2" height="1.1" fill="#a0a8b6"/>
<rect x="353.4" y="42.0" width="10.2" height="0.9" fill="#8d99b4"/>
<rect x="353.4" y="42.8" width="10.2" height="0.9" fill="#a0a8b6"/>
<rect x="353.4" y="43.6" width="10.2" height="0.5" fill="#97a2b0"/>
<rect x="353.4" y="44.0" width="10.2" height="1.1" fill="#5070c4"/>
<rect x="353.4" y="45.0" width="10.2" height="0.5" fill="#b4b296"/>
<rect x="353.4" y="45.4" width="10.2" height="1.1" fill="#a9a890"/>
<rect x="353.4" y="46.4" width="10.2" height="0.8" fill="#8ca2d6"/>
<rect x="353.4" y="47.1" width="10.2" height="0.6" fill="#a9a890"/>
<rect x="353.4" y="47.6" width="10.2" height="0.5" fill="#97a2b0"/>
<rect x="353.4" y="48.0" width="10.2" height="0.7" fill="#b8c6ea"/>
<rect x="353.4" y="48.6" width="10.2" height="0.7" fill="#3d5fc0"/>
<rect x="353.4" y="49.2" width="10.2" height="0.5" fill="#4363c0"/>
<rect x="353.4" y="49.6" width="10.2" height="1.1" fill="#3d5fc0"/>
<rect x="353.4" y="50.6" width="10.2" height="0.8" fill="#8ca2d6"/>
<rect x="353.4" y="51.3" width="10.2" height="0.6" fill="#a0a8b6"/>
<rect x="353.4" y="51.8" width="10.2" height="0.6" fill="#8d99b4"/>
<rect x="353.4" y="52.3" width="10.2" height="0.7" fill="#3658bb"/>
<rect x="353.4" y="52.9" width="10.2" height="0.7" fill="#aabbe4"/>
<rect x="353.4" y="53.5" width="10.2" height="1.1" fill="#4363c0"/>
<rect x="353.4" y="54.5" width="10.2" height="0.7" fill="#97a2b0"/>
<rect x="353.4" y="55.1" width="10.2" height="0.7" fill="#3658bb"/>
<rect x="353.4" y="55.7" width="10.2" height="0.5" fill="#8ca2d6"/>
<rect x="353.4" y="56.1" width="10.2" height="1.1" fill="#b8c6ea"/>
<rect x="353.4" y="57.1" width="10.2" height="0.9" fill="#97a2b0"/>
<rect x="353.4" y="57.9" width="10.2" height="0.9" fill="#4566c2"/>
<rect x="353.4" y="58.7" width="10.2" height="0.7" fill="#a9a890"/>
<rect x="353.4" y="59.3" width="10.2" height="0.5" fill="#8ca2d6"/>
<rect x="353.4" y="59.7" width="10.2" height="0.6" fill="#4566c2"/>
<rect x="353.4" y="60.2" width="10.2" height="0.8" fill="#9aaedc"/>
<rect x="353.4" y="60.9" width="10.2" height="0.5" fill="#9aaedc"/>
<rect x="353.4" y="61.3" width="10.2" height="0.5" fill="#aabbe4"/>
<rect x="353.4" y="61.7" width="10.2" height="0.9" fill="#5070c4"/>
<rect x="353.4" y="62.5" width="10.2" height="0.9" fill="#e6ecfa"/>
<rect x="353.4" y="63.3" width="10.2" height="0.6" fill="#4566c2"/>
<rect x="353.4" y="63.8" width="10.2" height="0.9" fill="#b8b6a0"/>
<rect x="353.4" y="64.6" width="10.2" height="0.6" fill="#b8c6ea"/>
<rect x="353.4" y="65.1" width="10.2" height="0.6" fill="#8ca2d6"/>
<rect x="353.4" y="65.6" width="10.2" height="0.8" fill="#8ca2d6"/>
<rect x="353.4" y="66.3" width="10.2" height="0.5" fill="#b8b6a0"/>
<rect x="353.4" y="66.7" width="10.2" height="0.5" fill="#b8b6a0"/>
<rect x="353.4" y="67.1" width="10.2" height="0.8" fill="#5070c4"/>
<rect x="353.4" y="67.8" width="10.2" height="0.5" fill="#f2f5fc"/>
<rect x="353.4" y="68.2" width="10.2" height="0.8" fill="#3658bb"/>
<rect x="353.4" y="68.9" width="10.2" height="1.1" fill="#4566c2"/>
<rect x="353.4" y="69.9" width="10.2" height="0.5" fill="#8ca2d6"/>
<rect x="353.4" y="70.3" width="10.2" height="1.1" fill="#aabbe4"/>
<rect x="353.4" y="71.3" width="10.2" height="0.7" fill="#b8c6ea"/>
<rect x="353.4" y="71.9" width="10.2" height="1.1" fill="#b8c6ea"/>
<rect x="353.4" y="72.9" width="10.2" height="0.6" fill="#4566c2"/>
<rect x="353.4" y="73.4" width="10.2" height="0.8" fill="#5070c4"/>
<rect x="353.4" y="74.1" width="10.2" height="0.6" fill="#5070c4"/>
<rect x="353.4" y="74.6" width="10.2" height="0.5" fill="#b8c6ea"/>
<rect x="353.4" y="75.0" width="10.2" height="0.6" fill="#d6e0f5"/>
<rect x="353.4" y="75.5" width="10.2" height="0.9" fill="#3658bb"/>
<rect x="353.4" y="76.3" width="10.2" height="0.6" fill="#4566c2"/>
<rect x="353.4" y="76.8" width="10.2" height="1.1" fill="#b8c6ea"/>
<rect x="353.4" y="77.8" width="10.2" height="0.6" fill="#aabbe4"/>
<rect x="353.4" y="78.3" width="10.2" height="0.7" fill="#3d5fc0"/>
<rect x="353.4" y="78.9" width="10.2" height="0.6" fill="#3d5fc0"/>
<rect x="353.4" y="79.4" width="10.2" height="0.6" fill="#4566c2"/>
<rect x="353.4" y="79.9" width="10.2" height="0.9" fill="#3d5fc0"/>
<rect x="353.4" y="80.7" width="10.2" height="0.6" fill="#b8c6ea"/>
<rect x="353.4" y="81.2" width="10.2" height="0.5" fill="#b8c6ea"/>
<rect x="353.4" y="81.6" width="10.2" height="0.7" fill="#3d5fc0"/>
<rect x="353.4" y="82.2" width="10.2" height="0.9" fill="#9aaedc"/>
<rect x="353.4" y="83.0" width="10.2" height="0.5" fill="#d6e0f5"/>
<rect x="353.4" y="83.4" width="10.2" height="0.6" fill="#3d5fc0"/>
<rect x="353.4" y="83.9" width="10.2" height="1.1" fill="#b4b296"/>
<rect x="353.4" y="84.9" width="10.2" height="0.5" fill="#3d5fc0"/>
<rect x="353.4" y="85.3" width="10.2" height="0.8" fill="#4363c0"/>
<rect x="353.4" y="86.0" width="10.2" height="0.8" fill="#a0a8b6"/>
<rect x="353.4" y="86.7" width="10.2" height="1.1" fill="#4363c0"/>
<rect x="353.4" y="87.7" width="10.2" height="0.9" fill="#4363c0"/>
<rect x="353.4" y="88.5" width="10.2" height="0.7" fill="#3d5fc0"/>
<rect x="353.4" y="89.1" width="10.2" height="0.7" fill="#4566c2"/>
<rect x="353.4" y="89.7" width="10.2" height="1.1" fill="#d6e0f5"/>
<rect x="353.4" y="90.7" width="10.2" height="0.6" fill="#b4b296"/>
<rect x="353.4" y="91.2" width="10.2" height="0.5" fill="#4566c2"/>
<rect x="353.4" y="91.6" width="10.2" height="0.9" fill="#97a2b0"/>
<rect x="353.4" y="92.4" width="10.2" height="0.7" fill="#8ca2d6"/>
<rect x="353.4" y="93.0" width="10.2" height="1.1" fill="#a9a890"/>
<rect x="353.4" y="94.0" width="10.2" height="0.9" fill="#8ca2d6"/>
<rect x="353.4" y="94.8" width="10.2" height="1.1" fill="#8ca2d6"/>
<rect x="353.4" y="95.8" width="10.2" height="0.8" fill="#b8c6ea"/>
<rect x="353.4" y="96.5" width="10.2" height="0.8" fill="#3658bb"/>
<rect x="353.4" y="97.2" width="10.2" height="0.8" fill="#4566c2"/>
<rect x="353.4" y="97.9" width="10.2" height="1.1" fill="#97a2b0"/>
<rect x="353.4" y="98.9" width="10.2" height="0.9" fill="#5070c4"/>
<rect x="353.4" y="99.7" width="10.2" height="1.1" fill="#3658bb"/>
<rect x="353.4" y="100.7" width="10.2" height="0.6" fill="#3d5fc0"/>
<rect x="353.4" y="101.2" width="10.2" height="0.5" fill="#3d5fc0"/>
<rect x="353.4" y="101.6" width="10.2" height="1.1" fill="#b8b6a0"/>
<rect x="353.4" y="102.6" width="10.2" height="0.9" fill="#b8c6ea"/>
<rect x="353.4" y="103.4" width="10.2" height="0.9" fill="#3658bb"/>
<rect x="353.4" y="104.2" width="10.2" height="0.9" fill="#b8b6a0"/>
<rect x="353.4" y="105.0" width="10.2" height="1.1" fill="#4363c0"/>
<rect x="353.4" y="106.0" width="10.2" height="0.7" fill="#3658bb"/>
<rect x="353.4" y="106.6" width="10.2" height="0.6" fill="#3658bb"/>
<rect x="353.4" y="107.1" width="10.2" height="0.7" fill="#3658bb"/>
<rect x="353.4" y="107.7" width="10.2" height="0.9" fill="#d6e0f5"/>
<rect x="353.4" y="108.5" width="10.2" height="1.1" fill="#3d5fc0"/>
<rect x="353.4" y="109.5" width="10.2" height="1.1" fill="#4566c2"/>
<rect x="353.4" y="110.5" width="10.2" height="0.9" fill="#5070c4"/>
<rect x="353.4" y="111.3" width="10.2" height="0.8" fill="#5070c4"/>
<rect x="353.4" y="112.0" width="10.2" height="0.9" fill="#4363c0"/>
<rect x="353.4" y="112.8" width="10.2" height="0.6" fill="#3d5fc0"/>
<rect x="353.4" y="113.3" width="10.2" height="0.9" fill="#aabbe4"/>
<rect x="353.4" y="114.1" width="10.2" height="0.9" fill="#f2f5fc"/>
<rect x="353.4" y="114.9" width="10.2" height="0.6" fill="#4566c2"/>
<rect x="353.4" y="115.4" width="10.2" height="1.1" fill="#9aaedc"/>
<rect x="353.4" y="116.4" width="10.2" height="0.7" fill="#b8c6ea"/>
<rect x="353.4" y="117.0" width="10.2" height="0.5" fill="#8ca2d6"/>
<rect x="353.4" y="117.4" width="10.2" height="0.8" fill="#f2f5fc"/>
<rect x="353.4" y="118.1" width="10.2" height="1.1" fill="#4363c0"/>
<rect x="353.4" y="119.1" width="10.2" height="0.7" fill="#9aaedc"/>
<rect x="353.4" y="119.7" width="10.2" height="0.7" fill="#b8c6ea"/>
<rect x="353.4" y="120.3" width="10.2" height="1.1" fill="#d6e0f5"/>
<rect x="353.4" y="121.3" width="10.2" height="0.8" fill="#4566c2"/>
<rect x="353.4" y="122.0" width="10.2" height="0.9" fill="#d6e0f5"/>
<rect x="353.4" y="122.8" width="10.2" height="0.6" fill="#aabbe4"/>
<rect x="353.4" y="123.3" width="10.2" height="0.9" fill="#8ca2d6"/>
<rect x="353.4" y="124.1" width="10.2" height="0.8" fill="#aabbe4"/>
<rect x="353.4" y="124.8" width="10.2" height="0.5" fill="#3d5fc0"/>
<rect x="353.4" y="125.2" width="10.2" height="0.9" fill="#8ca2d6"/>
<rect x="353.4" y="126.0" width="10.2" height="0.7" fill="#8ca2d6"/>
<rect x="353.4" y="126.6" width="10.2" height="0.8" fill="#d6e0f5"/>
<rect x="353.4" y="127.3" width="10.2" height="0.8" fill="#4566c2"/>
<rect x="353.4" y="128.0" width="10.2" height="0.6" fill="#8ca2d6"/>
<rect x="353.4" y="128.5" width="10.2" height="0.9" fill="#3d5fc0"/>
<rect x="353.4" y="129.3" width="10.2" height="1.1" fill="#8ca2d6"/>
<rect x="353.4" y="130.3" width="10.2" height="0.5" fill="#5070c4"/>
<rect x="353.4" y="130.7" width="10.2" height="0.8" fill="#8ca2d6"/>
<rect x="353.4" y="131.4" width="10.2" height="0.7" fill="#d6e0f5"/>
<rect x="353.4" y="132.0" width="10.2" height="0.6" fill="#4566c2"/>
<rect x="353.4" y="132.5" width="10.2" height="1.1" fill="#3d5fc0"/>
<rect x="353.4" y="133.5" width="10.2" height="1.1" fill="#e6ecfa"/>
<rect x="353.4" y="134.5" width="10.2" height="0.5" fill="#3658bb"/>
<rect x="353.4" y="134.9" width="10.2" height="0.8" fill="#b8c6ea"/>
<rect x="353.4" y="135.6" width="10.2" height="1.1" fill="#3d5fc0"/>
<rect x="353.4" y="136.6" width="10.2" height="0.5" fill="#3658bb"/>
<rect x="353.4" y="137.0" width="10.2" height="0.8" fill="#3658bb"/>
<rect x="353.4" y="137.7" width="10.2" height="0.8" fill="#4566c2"/>
<rect x="353.4" y="138.4" width="10.2" height="0.5" fill="#b8c6ea"/>
<rect x="353.4" y="138.8" width="10.2" height="0.6" fill="#3d5fc0"/>
<rect x="353.4" y="139.3" width="10.2" height="1.1" fill="#aabbe4"/>
<rect x="353.4" y="140.3" width="10.2" height="0.8" fill="#5070c4"/>
<rect x="353.4" y="141.0" width="10.2" height="0.9" fill="#b8c6ea"/>
<rect x="353.4" y="141.8" width="10.2" height="0.8" fill="#e6ecfa"/>
<rect x="353.4" y="142.5" width="10.2" height="0.5" fill="#3d5fc0"/>
<rect x="353.4" y="142.9" width="10.2" height="0.5" fill="#4566c2"/>
<rect x="353.4" y="143.3" width="10.2" height="0.9" fill="#aabbe4"/>
<rect x="353.4" y="144.1" width="10.2" height="1.1" fill="#9aaedc"/>
<rect x="353.4" y="14.1" width="10.2" height="1.2" fill="#b8b08e"/>
<rect x="353.4" y="61.8" width="10.2" height="8.6" fill="#fff"/>
</g>
<rect x="353.75" y="14.45" width="9.5" height="129.5" rx="2" fill="none" stroke="#26345c" stroke-width="0.9"/>
<text transform="translate(349.5 79.2) rotate(-90)" text-anchor="middle" font-size="5.1" font-weight="bold" fill="#f9bd1a" letter-spacing="0.7">chr6</text>
<path d="M363.6 29.3h8" stroke="#7a7a7a" stroke-width="0.9"/>
<text x="372.6" y="31.2" font-size="5.3" font-style="italic" font-weight="bold" fill="#f2283a" textLength="11.7" lengthAdjust="spacingAndGlyphs">LcCHI</text>
<rect x="76" y="276.4" width="301.5" height="126.8" fill="#f3f3f3"/>
<rect x="76" y="407.9" width="301.5" height="127.2" fill="#f3f3f3"/>
<g fill="none" stroke="#c0c0c0" stroke-opacity="0.15" stroke-width="0.6"><path d="M246.9 276.4C246.9 340 273.2 340 273.2 403.2"/><path d="M176.3 276.4C176.3 340 211.7 340 211.7 403.2"/><path d="M176.5 276.4C176.5 340 211.7 340 211.7 403.2"/><path d="M178.6 276.4C178.6 340 212.9 340 212.9 403.2"/><path d="M228.5 276.4C228.5 340 195.7 340 195.7 403.2"/><path d="M225.8 276.4C225.8 340 194.9 340 194.9 403.2"/><path d="M225.3 276.4C225.3 340 311.3 340 311.3 403.2"/><path d="M226.2 276.4C226.2 340 311.3 340 311.3 403.2"/><path d="M242.7 276.4C242.7 340 242.6 340 242.6 403.2"/><path d="M165.2 276.4C165.2 340 161.8 340 161.8 403.2"/><path d="M168.3 276.4C168.3 340 162.2 340 162.2 403.2"/><path d="M185.0 276.4C185.0 340 193.2 340 193.2 403.2"/><path d="M188.0 276.4C188.0 340 195.9 340 195.9 403.2"/><path d="M186.5 276.4C186.5 340 192.7 340 192.7 403.2"/><path d="M296.8 276.4C296.8 340 322.3 340 322.3 403.2"/><path d="M163.7 276.4C163.7 340 224.8 340 224.8 403.2"/><path d="M83.0 276.4C83.0 340 161.8 340 161.8 403.2"/><path d="M355.3 276.4C355.3 340 376.6 340 376.6 403.2"/><path d="M302.3 276.4C302.3 340 328.1 340 328.1 403.2"/><path d="M303.7 276.4C303.7 340 328.1 340 328.1 403.2"/><path d="M303.4 276.4C303.4 340 328.1 340 328.1 403.2"/><path d="M375.0 276.4C375.0 340 376.8 340 376.8 403.2"/><path d="M376.6 276.4C376.6 340 375.6 340 375.6 403.2"/><path d="M374.4 276.4C374.4 340 375.5 340 375.5 403.2"/><path d="M170.5 276.4C170.5 340 182.8 340 182.8 403.2"/><path d="M174.0 276.4C174.0 340 182.8 340 182.8 403.2"/><path d="M218.6 276.4C218.6 340 217.6 340 217.6 403.2"/><path d="M178.7 276.4C178.7 340 126.5 340 126.5 403.2"/><path d="M365.4 276.4C365.4 340 374.8 340 374.8 403.2"/><path d="M365.8 276.4C365.8 340 375.4 340 375.4 403.2"/><path d="M366.2 276.4C366.2 340 375.5 340 375.5 403.2"/><path d="M174.3 276.4C174.3 340 171.0 340 171.0 403.2"/><path d="M174.8 276.4C174.8 340 168.6 340 168.6 403.2"/><path d="M207.0 276.4C207.0 340 224.8 340 224.8 403.2"/><path d="M209.2 276.4C209.2 340 224.8 340 224.8 403.2"/><path d="M281.9 276.4C281.9 340 225.5 340 225.5 403.2"/><path d="M87.3 276.4C87.3 340 168.8 340 168.8 403.2"/><path d="M86.5 276.4C86.5 340 168.7 340 168.7 403.2"/><path d="M95.7 276.4C95.7 340 80.3 340 80.3 403.2"/><path d="M95.0 276.4C95.0 340 79.1 340 79.1 403.2"/><path d="M95.1 276.4C95.1 340 79.1 340 79.1 403.2"/><path d="M92.2 276.4C92.2 340 121.9 340 121.9 403.2"/><path d="M91.7 276.4C91.7 340 121.7 340 121.7 403.2"/><path d="M94.4 276.4C94.4 340 124.3 340 124.3 403.2"/><path d="M130.1 276.4C130.1 340 171.0 340 171.0 403.2"/><path d="M117.9 276.4C117.9 340 192.9 340 192.9 403.2"/><path d="M118.0 276.4C118.0 340 194.7 340 194.7 403.2"/><path d="M118.4 276.4C118.4 340 192.9 340 192.9 403.2"/><path d="M118.5 276.4C118.5 340 86.0 340 86.0 403.2"/><path d="M118.1 276.4C118.1 340 87.8 340 87.8 403.2"/><path d="M120.1 276.4C120.1 340 85.5 340 85.5 403.2"/><path d="M196.4 276.4C196.4 340 273.9 340 273.9 403.2"/><path d="M102.7 276.4C102.7 340 119.8 340 119.8 403.2"/><path d="M268.6 276.4C268.6 340 277.1 340 277.1 403.2"/><path d="M268.5 276.4C268.5 340 277.1 340 277.1 403.2"/><path d="M266.3 276.4C266.3 340 277.1 340 277.1 403.2"/><path d="M365.1 276.4C365.1 340 355.9 340 355.9 403.2"/><path d="M364.4 276.4C364.4 340 355.6 340 355.6 403.2"/><path d="M364.3 276.4C364.3 340 355.6 340 355.6 403.2"/><path d="M127.1 276.4C127.1 340 176.9 340 176.9 403.2"/><path d="M128.0 276.4C128.0 340 178.3 340 178.3 403.2"/><path d="M128.2 276.4C128.2 340 177.2 340 177.2 403.2"/><path d="M347.6 276.4C347.6 340 113.4 340 113.4 403.2"/><path d="M345.6 276.4C345.6 340 113.6 340 113.6 403.2"/><path d="M254.2 276.4C254.2 340 268.9 340 268.9 403.2"/><path d="M253.3 276.4C253.3 340 268.6 340 268.6 403.2"/><path d="M253.2 276.4C253.2 340 270.2 340 270.2 403.2"/><path d="M171.7 276.4C171.7 340 131.8 340 131.8 403.2"/><path d="M170.8 276.4C170.8 340 129.4 340 129.4 403.2"/><path d="M181.4 276.4C181.4 340 345.7 340 345.7 403.2"/><path d="M180.3 276.4C180.3 340 344.7 340 344.7 403.2"/><path d="M190.4 276.4C190.4 340 188.1 340 188.1 403.2"/><path d="M191.3 276.4C191.3 340 186.7 340 186.7 403.2"/><path d="M92.8 276.4C92.8 340 108.9 340 108.9 403.2"/><path d="M90.6 276.4C90.6 340 112.0 340 112.0 403.2"/><path d="M163.4 276.4C163.4 340 90.1 340 90.1 403.2"/><path d="M165.7 276.4C165.7 340 92.0 340 92.0 403.2"/><path d="M249.9 276.4C249.9 340 177.2 340 177.2 403.2"/><path d="M238.7 276.4C238.7 340 179.6 340 179.6 403.2"/><path d="M241.7 276.4C241.7 340 179.5 340 179.5 403.2"/><path d="M239.8 276.4C239.8 340 181.1 340 181.1 403.2"/><path d="M354.8 276.4C354.8 340 321.3 340 321.3 403.2"/><path d="M355.9 276.4C355.9 340 320.2 340 320.2 403.2"/><path d="M239.6 276.4C239.6 340 213.0 340 213.0 403.2"/><path d="M290.0 276.4C290.0 340 255.1 340 255.1 403.2"/><path d="M289.5 276.4C289.5 340 253.3 340 253.3 403.2"/><path d="M287.8 276.4C287.8 340 253.3 340 253.3 403.2"/><path d="M372.0 276.4C372.0 340 318.4 340 318.4 403.2"/><path d="M257.7 276.4C257.7 340 227.8 340 227.8 403.2"/><path d="M258.2 276.4C258.2 340 284.7 340 284.7 403.2"/><path d="M257.7 276.4C257.7 340 284.4 340 284.4 403.2"/><path d="M192.3 276.4C192.3 340 126.9 340 126.9 403.2"/><path d="M114.4 276.4C114.4 340 153.9 340 153.9 403.2"/><path d="M259.2 276.4C259.2 340 319.4 340 319.4 403.2"/><path d="M257.1 276.4C257.1 340 322.4 340 322.4 403.2"/><path d="M98.5 276.4C98.5 340 127.6 340 127.6 403.2"/><path d="M99.1 276.4C99.1 340 124.8 340 124.8 403.2"/><path d="M353.1 276.4C353.1 340 375.7 340 375.7 403.2"/><path d="M351.8 276.4C351.8 340 373.2 340 373.2 403.2"/><path d="M284.3 276.4C284.3 340 247.7 340 247.7 403.2"/><path d="M284.3 276.4C284.3 340 247.7 340 247.7 403.2"/><path d="M318.0 276.4C318.0 340 255.1 340 255.1 403.2"/><path d="M224.8 276.4C224.8 340 142.8 340 142.8 403.2"/><path d="M250.5 276.4C250.5 340 227.1 340 227.1 403.2"/><path d="M295.6 276.4C295.6 340 194.6 340 194.6 403.2"/><path d="M295.6 276.4C295.6 340 193.0 340 193.0 403.2"/><path d="M222.4 276.4C222.4 340 217.1 340 217.1 403.2"/><path d="M224.0 276.4C224.0 340 215.0 340 215.0 403.2"/><path d="M221.7 276.4C221.7 340 214.7 340 214.7 403.2"/><path d="M175.4 276.4C175.4 340 151.9 340 151.9 403.2"/><path d="M175.4 276.4C175.4 340 153.1 340 153.1 403.2"/><path d="M177.6 276.4C177.6 340 152.9 340 152.9 403.2"/><path d="M322.2 276.4C322.2 340 343.4 340 343.4 403.2"/><path d="M298.3 276.4C298.3 340 273.6 340 273.6 403.2"/><path d="M300.6 276.4C300.6 340 273.3 340 273.3 403.2"/><path d="M158.9 276.4C158.9 340 170.2 340 170.2 403.2"/><path d="M178.9 276.4C178.9 340 148.2 340 148.2 403.2"/><path d="M137.2 276.4C137.2 340 200.8 340 200.8 403.2"/><path d="M348.6 276.4C348.6 340 350.4 340 350.4 403.2"/><path d="M91.1 276.4C91.1 340 76.5 340 76.5 403.2"/><path d="M93.4 276.4C93.4 340 76.3 340 76.3 403.2"/><path d="M94.0 276.4C94.0 340 76.6 340 76.6 403.2"/><path d="M273.2 276.4C273.2 340 311.3 340 311.3 403.2"/><path d="M276.0 276.4C276.0 340 311.3 340 311.3 403.2"/><path d="M272.5 276.4C272.5 340 311.3 340 311.3 403.2"/><path d="M197.7 276.4C197.7 340 151.9 340 151.9 403.2"/><path d="M198.2 276.4C198.2 340 118.8 340 118.8 403.2"/><path d="M198.2 276.4C198.2 340 120.6 340 120.6 403.2"/><path d="M271.1 276.4C271.1 340 298.0 340 298.0 403.2"/><path d="M131.7 276.4C131.7 340 149.5 340 149.5 403.2"/><path d="M133.1 276.4C133.1 340 151.2 340 151.2 403.2"/><path d="M134.8 276.4C134.8 340 151.4 340 151.4 403.2"/><path d="M371.6 276.4C371.6 340 370.1 340 370.1 403.2"/><path d="M296.0 276.4C296.0 340 282.8 340 282.8 403.2"/><path d="M297.1 276.4C297.1 340 284.8 340 284.8 403.2"/><path d="M295.8 276.4C295.8 340 282.8 340 282.8 403.2"/><path d="M101.2 276.4C101.2 340 120.5 340 120.5 403.2"/><path d="M195.0 276.4C195.0 340 147.9 340 147.9 403.2"/><path d="M249.1 276.4C249.1 340 296.4 340 296.4 403.2"/><path d="M250.2 276.4C250.2 340 298.2 340 298.2 403.2"/><path d="M248.3 276.4C248.3 340 296.4 340 296.4 403.2"/><path d="M345.3 276.4C345.3 340 376.8 340 376.8 403.2"/><path d="M347.2 276.4C347.2 340 375.3 340 375.3 403.2"/><path d="M343.8 276.4C343.8 340 375.7 340 375.7 403.2"/><path d="M225.8 276.4C225.8 340 261.7 340 261.7 403.2"/><path d="M225.0 276.4C225.0 340 263.3 340 263.3 403.2"/><path d="M334.0 276.4C334.0 340 263.3 340 263.3 403.2"/><path d="M332.9 276.4C332.9 340 262.3 340 262.3 403.2"/><path d="M336.7 276.4C336.7 340 317.6 340 317.6 403.2"/><path d="M354.8 276.4C354.8 340 301.2 340 301.2 403.2"/><path d="M356.2 276.4C356.2 340 302.0 340 302.0 403.2"/><path d="M357.5 276.4C357.5 340 300.3 340 300.3 403.2"/><path d="M292.7 276.4C292.7 340 282.8 340 282.8 403.2"/><path d="M186.4 276.4C186.4 340 187.9 340 187.9 403.2"/><path d="M185.8 276.4C185.8 340 187.9 340 187.9 403.2"/><path d="M183.4 276.4C183.4 340 186.3 340 186.3 403.2"/><path d="M363.9 276.4C363.9 340 363.2 340 363.2 403.2"/><path d="M361.5 276.4C361.5 340 303.6 340 303.6 403.2"/><path d="M360.5 276.4C360.5 340 305.0 340 305.0 403.2"/><path d="M145.9 276.4C145.9 340 127.0 340 127.0 403.2"/><path d="M219.9 276.4C219.9 340 261.4 340 261.4 403.2"/><path d="M268.6 276.4C268.6 340 257.6 340 257.6 403.2"/><path d="M266.6 276.4C266.6 340 254.7 340 254.7 403.2"/><path d="M268.4 276.4C268.4 340 255.6 340 255.6 403.2"/><path d="M154.6 276.4C154.6 340 239.2 340 239.2 403.2"/><path d="M155.6 276.4C155.6 340 239.0 340 239.0 403.2"/><path d="M351.3 276.4C351.3 340 362.2 340 362.2 403.2"/><path d="M352.8 276.4C352.8 340 363.8 340 363.8 403.2"/><path d="M353.3 276.4C353.3 340 362.2 340 362.2 403.2"/><path d="M168.8 276.4C168.8 340 199.9 340 199.9 403.2"/><path d="M166.0 276.4C166.0 340 200.4 340 200.4 403.2"/><path d="M292.2 276.4C292.2 340 343.5 340 343.5 403.2"/><path d="M290.5 276.4C290.5 340 341.8 340 341.8 403.2"/><path d="M294.9 276.4C294.9 340 313.0 340 313.0 403.2"/><path d="M298.2 276.4C298.2 340 312.0 340 312.0 403.2"/><path d="M298.3 276.4C298.3 340 311.0 340 311.0 403.2"/><path d="M341.9 276.4C341.9 340 344.3 340 344.3 403.2"/><path d="M338.9 276.4C338.9 340 342.4 340 342.4 403.2"/><path d="M89.0 276.4C89.0 340 274.7 340 274.7 403.2"/><path d="M88.6 276.4C88.6 340 271.9 340 271.9 403.2"/><path d="M86.6 276.4C86.6 340 272.4 340 272.4 403.2"/><path d="M94.2 276.4C94.2 340 129.1 340 129.1 403.2"/><path d="M209.1 276.4C209.1 340 187.2 340 187.2 403.2"/><path d="M207.6 276.4C207.6 340 186.4 340 186.4 403.2"/><path d="M217.1 276.4C217.1 340 198.0 340 198.0 403.2"/><path d="M216.4 276.4C216.4 340 198.4 340 198.4 403.2"/><path d="M274.8 276.4C274.8 340 244.8 340 244.8 403.2"/><path d="M144.6 276.4C144.6 340 124.6 340 124.6 403.2"/><path d="M144.8 276.4C144.8 340 126.8 340 126.8 403.2"/><path d="M143.8 276.4C143.8 340 126.5 340 126.5 403.2"/><path d="M291.4 276.4C291.4 340 273.8 340 273.8 403.2"/><path d="M291.5 276.4C291.5 340 274.0 340 274.0 403.2"/><path d="M290.3 276.4C290.3 340 271.5 340 271.5 403.2"/><path d="M77.3 276.4C77.3 340 90.5 340 90.5 403.2"/><path d="M78.2 276.4C78.2 340 92.2 340 92.2 403.2"/><path d="M253.5 276.4C253.5 340 271.8 340 271.8 403.2"/><path d="M253.7 276.4C253.7 340 272.0 340 272.0 403.2"/><path d="M142.7 276.4C142.7 340 148.7 340 148.7 403.2"/><path d="M167.4 276.4C167.4 340 161.8 340 161.8 403.2"/><path d="M353.5 276.4C353.5 340 357.5 340 357.5 403.2"/><path d="M354.6 276.4C354.6 340 356.2 340 356.2 403.2"/><path d="M215.1 276.4C215.1 340 231.4 340 231.4 403.2"/><path d="M334.1 276.4C334.1 340 355.6 340 355.6 403.2"/><path d="M335.2 276.4C335.2 340 355.6 340 355.6 403.2"/><path d="M334.1 276.4C334.1 340 356.8 340 356.8 403.2"/><path d="M171.7 276.4C171.7 340 211.3 340 211.3 403.2"/><path d="M299.3 276.4C299.3 340 329.3 340 329.3 403.2"/><path d="M327.2 276.4C327.2 340 303.4 340 303.4 403.2"/><path d="M327.5 276.4C327.5 340 305.0 340 305.0 403.2"/><path d="M174.2 276.4C174.2 340 343.7 340 343.7 403.2"/><path d="M175.0 276.4C175.0 340 238.5 340 238.5 403.2"/><path d="M259.2 276.4C259.2 340 177.2 340 177.2 403.2"/><path d="M258.2 276.4C258.2 340 179.0 340 179.0 403.2"/><path d="M80.2 276.4C80.2 340 127.4 340 127.4 403.2"/><path d="M82.2 276.4C82.2 340 124.6 340 124.6 403.2"/><path d="M80.8 276.4C80.8 340 127.3 340 127.3 403.2"/><path d="M126.2 276.4C126.2 340 102.5 340 102.5 403.2"/><path d="M128.1 276.4C128.1 340 104.5 340 104.5 403.2"/><path d="M110.9 276.4C110.9 340 76.8 340 76.8 403.2"/><path d="M109.7 276.4C109.7 340 77.8 340 77.8 403.2"/><path d="M333.6 276.4C333.6 340 328.7 340 328.7 403.2"/><path d="M333.8 276.4C333.8 340 328.1 340 328.1 403.2"/><path d="M245.4 276.4C245.4 340 262.5 340 262.5 403.2"/><path d="M163.8 276.4C163.8 340 131.3 340 131.3 403.2"/><path d="M327.9 276.4C327.9 340 216.8 340 216.8 403.2"/><path d="M328.8 276.4C328.8 340 216.7 340 216.7 403.2"/><path d="M219.8 276.4C219.8 340 214.7 340 214.7 403.2"/><path d="M220.1 276.4C220.1 340 212.5 340 212.5 403.2"/><path d="M182.5 276.4C182.5 340 166.3 340 166.3 403.2"/><path d="M228.7 276.4C228.7 340 246.7 340 246.7 403.2"/><path d="M228.6 276.4C228.6 340 247.7 340 247.7 403.2"/><path d="M84.4 276.4C84.4 340 76.3 340 76.3 403.2"/><path d="M137.5 276.4C137.5 340 90.7 340 90.7 403.2"/><path d="M137.4 276.4C137.4 340 91.9 340 91.9 403.2"/><path d="M197.8 276.4C197.8 340 290.4 340 290.4 403.2"/><path d="M130.8 276.4C130.8 340 163.1 340 163.1 403.2"/><path d="M364.5 276.4C364.5 340 342.3 340 342.3 403.2"/><path d="M279.2 276.4C279.2 340 275.4 340 275.4 403.2"/><path d="M282.0 276.4C282.0 340 277.4 340 277.4 403.2"/><path d="M279.1 276.4C279.1 340 277.1 340 277.1 403.2"/><path d="M93.8 276.4C93.8 340 76.3 340 76.3 403.2"/><path d="M273.5 276.4C273.5 340 262.9 340 262.9 403.2"/><path d="M307.1 276.4C307.1 340 268.9 340 268.9 403.2"/><path d="M348.9 276.4C348.9 340 355.6 340 355.6 403.2"/><path d="M280.6 276.4C280.6 340 284.3 340 284.3 403.2"/><path d="M112.9 276.4C112.9 340 88.1 340 88.1 403.2"/><path d="M113.5 276.4C113.5 340 91.6 340 91.6 403.2"/><path d="M113.5 276.4C113.5 340 89.2 340 89.2 403.2"/><path d="M284.4 276.4C284.4 340 274.5 340 274.5 403.2"/><path d="M281.8 276.4C281.8 340 275.4 340 275.4 403.2"/><path d="M282.5 276.4C282.5 340 275.1 340 275.1 403.2"/><path d="M93.4 276.4C93.4 340 93.1 340 93.1 403.2"/><path d="M269.8 276.4C269.8 340 209.2 340 209.2 403.2"/><path d="M272.0 276.4C272.0 340 207.9 340 207.9 403.2"/><path d="M271.8 276.4C271.8 340 207.9 340 207.9 403.2"/><path d="M364.5 276.4C364.5 340 375.7 340 375.7 403.2"/><path d="M187.6 276.4C187.6 340 76.6 340 76.6 403.2"/><path d="M176.7 276.4C176.7 340 134.5 340 134.5 403.2"/><path d="M176.4 276.4C176.4 340 131.8 340 131.8 403.2"/><path d="M78.8 276.4C78.8 340 111.6 340 111.6 403.2"/><path d="M78.2 276.4C78.2 340 113.4 340 113.4 403.2"/><path d="M206.1 276.4C206.1 340 231.0 340 231.0 403.2"/><path d="M204.4 276.4C204.4 340 231.1 340 231.1 403.2"/><path d="M204.7 276.4C204.7 340 231.7 340 231.7 403.2"/><path d="M87.3 276.4C87.3 340 77.6 340 77.6 403.2"/><path d="M226.7 276.4C226.7 340 244.2 340 244.2 403.2"/><path d="M227.7 276.4C227.7 340 243.9 340 243.9 403.2"/><path d="M227.9 276.4C227.9 340 243.0 340 243.0 403.2"/><path d="M157.4 276.4C157.4 340 211.0 340 211.0 403.2"/><path d="M256.0 276.4C256.0 340 263.5 340 263.5 403.2"/><path d="M252.5 276.4C252.5 340 260.2 340 260.2 403.2"/><path d="M222.1 276.4C222.1 340 193.2 340 193.2 403.2"/><path d="M221.7 276.4C221.7 340 194.2 340 194.2 403.2"/><path d="M165.9 276.4C165.9 340 105.4 340 105.4 403.2"/><path d="M343.5 276.4C343.5 340 376.8 340 376.8 403.2"/><path d="M342.0 276.4C342.0 340 376.0 340 376.0 403.2"/><path d="M340.4 276.4C340.4 340 376.8 340 376.8 403.2"/><path d="M283.4 276.4C283.4 340 319.6 340 319.6 403.2"/><path d="M284.7 276.4C284.7 340 321.6 340 321.6 403.2"/><path d="M283.0 276.4C283.0 340 320.7 340 320.7 403.2"/><path d="M245.5 276.4C245.5 340 243.1 340 243.1 403.2"/><path d="M245.7 276.4C245.7 340 242.8 340 242.8 403.2"/><path d="M348.8 276.4C348.8 340 360.9 340 360.9 403.2"/><path d="M346.6 276.4C346.6 340 362.7 340 362.7 403.2"/><path d="M349.4 276.4C349.4 340 361.4 340 361.4 403.2"/><path d="M106.3 276.4C106.3 340 119.5 340 119.5 403.2"/><path d="M104.7 276.4C104.7 340 119.6 340 119.6 403.2"/><path d="M189.2 276.4C189.2 340 185.9 340 185.9 403.2"/><path d="M191.5 276.4C191.5 340 186.9 340 186.9 403.2"/><path d="M161.5 276.4C161.5 340 183.6 340 183.6 403.2"/><path d="M160.6 276.4C160.6 340 181.4 340 181.4 403.2"/><path d="M88.8 276.4C88.8 340 84.1 340 84.1 403.2"/><path d="M90.4 276.4C90.4 340 86.3 340 86.3 403.2"/><path d="M343.0 276.4C343.0 340 263.1 340 263.1 403.2"/><path d="M320.9 276.4C320.9 340 316.0 340 316.0 403.2"/><path d="M323.1 276.4C323.1 340 315.8 340 315.8 403.2"/><path d="M267.4 276.4C267.4 340 273.3 340 273.3 403.2"/><path d="M268.8 276.4C268.8 340 271.1 340 271.1 403.2"/><path d="M364.5 276.4C364.5 340 376.8 340 376.8 403.2"/><path d="M364.9 276.4C364.9 340 375.9 340 375.9 403.2"/><path d="M313.8 276.4C313.8 340 314.8 340 314.8 403.2"/><path d="M314.5 276.4C314.5 340 317.1 340 317.1 403.2"/><path d="M314.8 276.4C314.8 340 316.8 340 316.8 403.2"/><path d="M298.7 276.4C298.7 340 224.5 340 224.5 403.2"/><path d="M298.6 276.4C298.6 340 224.8 340 224.8 403.2"/><path d="M300.3 276.4C300.3 340 225.5 340 225.5 403.2"/><path d="M143.1 276.4C143.1 340 108.9 340 108.9 403.2"/><path d="M143.3 276.4C143.3 340 109.9 340 109.9 403.2"/><path d="M143.0 276.4C143.0 340 110.6 340 110.6 403.2"/><path d="M344.1 276.4C344.1 340 375.7 340 375.7 403.2"/><path d="M342.0 276.4C342.0 340 375.8 340 375.8 403.2"/><path d="M341.0 276.4C341.0 340 376.1 340 376.1 403.2"/><path d="M132.5 276.4C132.5 340 151.0 340 151.0 403.2"/><path d="M134.9 276.4C134.9 340 148.8 340 148.8 403.2"/><path d="M134.2 276.4C134.2 340 149.0 340 149.0 403.2"/><path d="M304.2 276.4C304.2 340 312.2 340 312.2 403.2"/><path d="M301.8 276.4C301.8 340 312.8 340 312.8 403.2"/><path d="M209.2 276.4C209.2 340 230.4 340 230.4 403.2"/><path d="M211.3 276.4C211.3 340 231.3 340 231.3 403.2"/><path d="M117.3 276.4C117.3 340 274.3 340 274.3 403.2"/><path d="M116.0 276.4C116.0 340 275.9 340 275.9 403.2"/><path d="M116.5 276.4C116.5 340 275.9 340 275.9 403.2"/><path d="M113.6 276.4C113.6 340 76.3 340 76.3 403.2"/><path d="M115.2 276.4C115.2 340 77.5 340 77.5 403.2"/><path d="M113.1 276.4C113.1 340 77.8 340 77.8 403.2"/><path d="M339.5 276.4C339.5 340 316.3 340 316.3 403.2"/><path d="M256.0 276.4C256.0 340 155.7 340 155.7 403.2"/><path d="M258.4 276.4C258.4 340 155.2 340 155.2 403.2"/><path d="M259.3 276.4C259.3 340 155.7 340 155.7 403.2"/><path d="M76.3 276.4C76.3 340 93.1 340 93.1 403.2"/><path d="M75.7 276.4C75.7 340 90.9 340 90.9 403.2"/><path d="M76.9 276.4C76.9 340 93.1 340 93.1 403.2"/><path d="M374.4 276.4C374.4 340 357.6 340 357.6 403.2"/><path d="M297.9 276.4C297.9 340 269.9 340 269.9 403.2"/><path d="M299.5 276.4C299.5 340 269.3 340 269.3 403.2"/><path d="M363.3 276.4C363.3 340 132.1 340 132.1 403.2"/><path d="M363.0 276.4C363.0 340 132.4 340 132.4 403.2"/><path d="M365.9 276.4C365.9 340 130.8 340 130.8 403.2"/><path d="M244.2 276.4C244.2 340 224.8 340 224.8 403.2"/><path d="M245.2 276.4C245.2 340 224.8 340 224.8 403.2"/><path d="M243.9 276.4C243.9 340 224.8 340 224.8 403.2"/><path d="M138.2 276.4C138.2 340 185.6 340 185.6 403.2"/><path d="M140.2 276.4C140.2 340 187.8 340 187.8 403.2"/><path d="M187.1 276.4C187.1 340 155.1 340 155.1 403.2"/><path d="M172.3 276.4C172.3 340 141.0 340 141.0 403.2"/><path d="M214.9 276.4C214.9 340 177.5 340 177.5 403.2"/><path d="M213.7 276.4C213.7 340 177.2 340 177.2 403.2"/><path d="M230.7 276.4C230.7 340 199.0 340 199.0 403.2"/><path d="M229.5 276.4C229.5 340 196.6 340 196.6 403.2"/><path d="M223.8 276.4C223.8 340 224.7 340 224.7 403.2"/><path d="M224.5 276.4C224.5 340 225.0 340 225.0 403.2"/><path d="M133.0 276.4C133.0 340 76.0 340 76.0 403.2"/><path d="M132.6 276.4C132.6 340 76.5 340 76.5 403.2"/><path d="M134.1 276.4C134.1 340 77.2 340 77.2 403.2"/><path d="M322.6 276.4C322.6 340 317.8 340 317.8 403.2"/><path d="M322.2 276.4C322.2 340 316.8 340 316.8 403.2"/><path d="M348.2 276.4C348.2 340 358.2 340 358.2 403.2"/><path d="M218.3 276.4C218.3 340 239.3 340 239.3 403.2"/><path d="M353.9 276.4C353.9 340 332.9 340 332.9 403.2"/><path d="M351.7 276.4C351.7 340 332.7 340 332.7 403.2"/><path d="M351.9 276.4C351.9 340 332.8 340 332.8 403.2"/><path d="M266.4 276.4C266.4 340 302.4 340 302.4 403.2"/><path d="M265.9 276.4C265.9 340 301.9 340 301.9 403.2"/><path d="M79.7 276.4C79.7 340 98.6 340 98.6 403.2"/><path d="M371.2 276.4C371.2 340 376.8 340 376.8 403.2"/><path d="M143.3 276.4C143.3 340 168.4 340 168.4 403.2"/><path d="M145.3 276.4C145.3 340 171.0 340 171.0 403.2"/><path d="M144.2 276.4C144.2 340 171.0 340 171.0 403.2"/><path d="M79.0 276.4C79.0 340 150.5 340 150.5 403.2"/><path d="M109.2 276.4C109.2 340 125.4 340 125.4 403.2"/><path d="M225.3 276.4C225.3 340 261.4 340 261.4 403.2"/><path d="M304.1 276.4C304.1 340 362.0 340 362.0 403.2"/><path d="M303.2 276.4C303.2 340 363.8 340 363.8 403.2"/><path d="M301.3 276.4C301.3 340 363.6 340 363.6 403.2"/><path d="M349.9 276.4C349.9 340 299.0 340 299.0 403.2"/><path d="M196.0 276.4C196.0 340 246.4 340 246.4 403.2"/><path d="M123.3 276.4C123.3 340 91.1 340 91.1 403.2"/><path d="M124.4 276.4C124.4 340 92.8 340 92.8 403.2"/><path d="M123.9 276.4C123.9 340 93.4 340 93.4 403.2"/><path d="M280.7 276.4C280.7 340 363.8 340 363.8 403.2"/><path d="M280.9 276.4C280.9 340 363.8 340 363.8 403.2"/><path d="M280.9 276.4C280.9 340 363.8 340 363.8 403.2"/><path d="M203.8 276.4C203.8 340 171.0 340 171.0 403.2"/><path d="M203.8 276.4C203.8 340 171.0 340 171.0 403.2"/><path d="M203.7 276.4C203.7 340 170.1 340 170.1 403.2"/><path d="M317.7 276.4C317.7 340 299.1 340 299.1 403.2"/><path d="M226.9 276.4C226.9 340 111.8 340 111.8 403.2"/><path d="M226.2 276.4C226.2 340 284.9 340 284.9 403.2"/><path d="M227.4 276.4C227.4 340 283.3 340 283.3 403.2"/><path d="M333.2 276.4C333.2 340 329.9 340 329.9 403.2"/><path d="M340.8 276.4C340.8 340 376.6 340 376.6 403.2"/><path d="M341.2 276.4C341.2 340 376.4 340 376.4 403.2"/><path d="M341.6 276.4C341.6 340 376.7 340 376.7 403.2"/><path d="M131.8 276.4C131.8 340 126.2 340 126.2 403.2"/><path d="M130.2 276.4C130.2 340 125.8 340 125.8 403.2"/><path d="M132.2 276.4C132.2 340 123.5 340 123.5 403.2"/><path d="M229.8 276.4C229.8 340 216.5 340 216.5 403.2"/><path d="M111.2 276.4C111.2 340 93.1 340 93.1 403.2"/><path d="M111.7 276.4C111.7 340 93.1 340 93.1 403.2"/><path d="M291.6 276.4C291.6 340 217.2 340 217.2 403.2"/><path d="M293.9 276.4C293.9 340 218.4 340 218.4 403.2"/><path d="M327.5 276.4C327.5 340 135.4 340 135.4 403.2"/><path d="M326.5 276.4C326.5 340 133.7 340 133.7 403.2"/><path d="M328.8 276.4C328.8 340 135.4 340 135.4 403.2"/><path d="M105.2 276.4C105.2 340 100.0 340 100.0 403.2"/><path d="M107.6 276.4C107.6 340 102.0 340 102.0 403.2"/><path d="M321.7 276.4C321.7 340 336.6 340 336.6 403.2"/><path d="M324.1 276.4C324.1 340 336.6 340 336.6 403.2"/><path d="M322.3 276.4C322.3 340 336.6 340 336.6 403.2"/><path d="M210.6 276.4C210.6 340 247.2 340 247.2 403.2"/><path d="M210.9 276.4C210.9 340 247.7 340 247.7 403.2"/><path d="M119.6 276.4C119.6 340 182.4 340 182.4 403.2"/><path d="M118.3 276.4C118.3 340 184.9 340 184.9 403.2"/><path d="M225.0 276.4C225.0 340 217.6 340 217.6 403.2"/><path d="M225.9 276.4C225.9 340 216.5 340 216.5 403.2"/><path d="M226.0 276.4C226.0 340 218.3 340 218.3 403.2"/><path d="M91.4 276.4C91.4 340 76.3 340 76.3 403.2"/><path d="M87.5 276.4C87.5 340 76.5 340 76.5 403.2"/><path d="M88.3 276.4C88.3 340 76.3 340 76.3 403.2"/><path d="M136.4 276.4C136.4 340 207.9 340 207.9 403.2"/><path d="M136.0 276.4C136.0 340 208.2 340 208.2 403.2"/><path d="M137.9 276.4C137.9 340 207.9 340 207.9 403.2"/><path d="M317.4 276.4C317.4 340 374.0 340 374.0 403.2"/><path d="M318.1 276.4C318.1 340 373.7 340 373.7 403.2"/><path d="M315.8 276.4C315.8 340 371.2 340 371.2 403.2"/><path d="M136.0 276.4C136.0 340 93.1 340 93.1 403.2"/><path d="M222.0 276.4C222.0 340 200.1 340 200.1 403.2"/><path d="M248.0 276.4C248.0 340 200.0 340 200.0 403.2"/><path d="M248.2 276.4C248.2 340 201.6 340 201.6 403.2"/><path d="M250.1 276.4C250.1 340 201.4 340 201.4 403.2"/><path d="M169.5 276.4C169.5 340 164.7 340 164.7 403.2"/><path d="M169.1 276.4C169.1 340 164.8 340 164.8 403.2"/><path d="M248.3 276.4C248.3 340 187.8 340 187.8 403.2"/><path d="M249.3 276.4C249.3 340 187.9 340 187.9 403.2"/><path d="M247.3 276.4C247.3 340 186.5 340 186.5 403.2"/><path d="M312.3 276.4C312.3 340 311.3 340 311.3 403.2"/><path d="M312.3 276.4C312.3 340 311.3 340 311.3 403.2"/><path d="M190.1 276.4C190.1 340 145.9 340 145.9 403.2"/><path d="M186.3 276.4C186.3 340 148.7 340 148.7 403.2"/><path d="M94.1 276.4C94.1 340 76.3 340 76.3 403.2"/><path d="M267.0 276.4C267.0 340 201.2 340 201.2 403.2"/><path d="M358.3 276.4C358.3 340 376.8 340 376.8 403.2"/><path d="M359.9 276.4C359.9 340 376.1 340 376.1 403.2"/><path d="M358.3 276.4C358.3 340 376.8 340 376.8 403.2"/><path d="M285.3 276.4C285.3 340 213.3 340 213.3 403.2"/><path d="M286.3 276.4C286.3 340 213.2 340 213.2 403.2"/><path d="M286.3 276.4C286.3 340 215.0 340 215.0 403.2"/><path d="M268.3 276.4C268.3 340 231.5 340 231.5 403.2"/><path d="M269.6 276.4C269.6 340 231.3 340 231.3 403.2"/><path d="M183.1 276.4C183.1 340 177.2 340 177.2 403.2"/><path d="M93.8 276.4C93.8 340 77.0 340 77.0 403.2"/><path d="M95.0 276.4C95.0 340 77.5 340 77.5 403.2"/><path d="M194.1 276.4C194.1 340 239.6 340 239.6 403.2"/><path d="M195.3 276.4C195.3 340 242.0 340 242.0 403.2"/><path d="M87.7 276.4C87.7 340 288.3 340 288.3 403.2"/><path d="M118.2 276.4C118.2 340 79.8 340 79.8 403.2"/><path d="M117.2 276.4C117.2 340 78.2 340 78.2 403.2"/><path d="M86.8 276.4C86.8 340 142.5 340 142.5 403.2"/><path d="M84.0 276.4C84.0 340 143.5 340 143.5 403.2"/><path d="M271.0 276.4C271.0 340 268.9 340 268.9 403.2"/><path d="M181.5 276.4C181.5 340 178.5 340 178.5 403.2"/><path d="M180.7 276.4C180.7 340 178.9 340 178.9 403.2"/><path d="M181.0 276.4C181.0 340 178.8 340 178.8 403.2"/><path d="M213.9 276.4C213.9 340 171.2 340 171.2 403.2"/><path d="M216.5 276.4C216.5 340 171.0 340 171.0 403.2"/><path d="M270.8 276.4C270.8 340 273.2 340 273.2 403.2"/><path d="M270.2 276.4C270.2 340 273.6 340 273.6 403.2"/><path d="M358.0 276.4C358.0 340 322.5 340 322.5 403.2"/><path d="M357.0 276.4C357.0 340 322.3 340 322.3 403.2"/><path d="M355.9 276.4C355.9 340 321.3 340 321.3 403.2"/><path d="M185.3 276.4C185.3 340 180.5 340 180.5 403.2"/><path d="M182.8 276.4C182.8 340 180.2 340 180.2 403.2"/><path d="M300.5 276.4C300.5 340 200.4 340 200.4 403.2"/><path d="M299.0 276.4C299.0 340 197.9 340 197.9 403.2"/><path d="M156.9 276.4C156.9 340 228.9 340 228.9 403.2"/><path d="M155.1 276.4C155.1 340 228.4 340 228.4 403.2"/><path d="M358.2 276.4C358.2 340 334.2 340 334.2 403.2"/><path d="M359.3 276.4C359.3 340 335.4 340 335.4 403.2"/><path d="M332.7 276.4C332.7 340 355.6 340 355.6 403.2"/><path d="M97.9 276.4C97.9 340 330.5 340 330.5 403.2"/><path d="M132.6 276.4C132.6 340 201.9 340 201.9 403.2"/><path d="M134.5 276.4C134.5 340 201.9 340 201.9 403.2"/><path d="M162.0 276.4C162.0 340 229.8 340 229.8 403.2"/><path d="M161.8 276.4C161.8 340 229.4 340 229.4 403.2"/><path d="M163.0 276.4C163.0 340 227.5 340 227.5 403.2"/><path d="M124.2 276.4C124.2 340 119.4 340 119.4 403.2"/><path d="M221.6 276.4C221.6 340 247.7 340 247.7 403.2"/><path d="M219.9 276.4C219.9 340 247.5 340 247.5 403.2"/><path d="M106.5 276.4C106.5 340 343.6 340 343.6 403.2"/><path d="M138.8 276.4C138.8 340 101.6 340 101.6 403.2"/><path d="M177.0 276.4C177.0 340 150.4 340 150.4 403.2"/><path d="M174.6 276.4C174.6 340 151.1 340 151.1 403.2"/><path d="M299.8 276.4C299.8 340 256.4 340 256.4 403.2"/><path d="M304.6 276.4C304.6 340 289.3 340 289.3 403.2"/><path d="M302.8 276.4C302.8 340 288.8 340 288.8 403.2"/><path d="M102.2 276.4C102.2 340 76.3 340 76.3 403.2"/><path d="M103.6 276.4C103.6 340 76.3 340 76.3 403.2"/><path d="M102.9 276.4C102.9 340 76.3 340 76.3 403.2"/><path d="M177.6 276.4C177.6 340 177.2 340 177.2 403.2"/><path d="M178.7 276.4C178.7 340 177.5 340 177.5 403.2"/><path d="M160.0 276.4C160.0 340 178.8 340 178.8 403.2"/><path d="M156.6 276.4C156.6 340 178.9 340 178.9 403.2"/><path d="M156.5 276.4C156.5 340 177.2 340 177.2 403.2"/><path d="M142.5 276.4C142.5 340 303.5 340 303.5 403.2"/><path d="M163.2 276.4C163.2 340 170.0 340 170.0 403.2"/><path d="M165.8 276.4C165.8 340 166.5 340 166.5 403.2"/><path d="M193.4 276.4C193.4 340 181.6 340 181.6 403.2"/><path d="M192.2 276.4C192.2 340 183.3 340 183.3 403.2"/><path d="M194.3 276.4C194.3 340 181.8 340 181.8 403.2"/><path d="M271.1 276.4C271.1 340 277.1 340 277.1 403.2"/><path d="M177.1 276.4C177.1 340 177.9 340 177.9 403.2"/><path d="M178.1 276.4C178.1 340 177.7 340 177.7 403.2"/><path d="M350.2 276.4C350.2 340 328.1 340 328.1 403.2"/><path d="M347.7 276.4C347.7 340 329.5 340 329.5 403.2"/><path d="M234.7 276.4C234.7 340 330.5 340 330.5 403.2"/><path d="M376.5 276.4C376.5 340 375.1 340 375.1 403.2"/><path d="M376.9 276.4C376.9 340 376.8 340 376.8 403.2"/><path d="M121.3 276.4C121.3 340 194.6 340 194.6 403.2"/><path d="M120.0 276.4C120.0 340 194.7 340 194.7 403.2"/><path d="M157.1 276.4C157.1 340 197.3 340 197.3 403.2"/><path d="M268.4 276.4C268.4 340 247.7 340 247.7 403.2"/><path d="M268.7 276.4C268.7 340 247.5 340 247.5 403.2"/><path d="M267.9 276.4C267.9 340 246.8 340 246.8 403.2"/><path d="M364.0 276.4C364.0 340 333.0 340 333.0 403.2"/><path d="M285.2 276.4C285.2 340 319.3 340 319.3 403.2"/><path d="M285.1 276.4C285.1 340 316.9 340 316.9 403.2"/><path d="M287.1 276.4C287.1 340 317.3 340 317.3 403.2"/><path d="M299.4 276.4C299.4 340 268.8 340 268.8 403.2"/><path d="M298.6 276.4C298.6 340 270.4 340 270.4 403.2"/><path d="M301.3 276.4C301.3 340 270.5 340 270.5 403.2"/><path d="M175.2 276.4C175.2 340 182.6 340 182.6 403.2"/><path d="M175.1 276.4C175.1 340 184.7 340 184.7 403.2"/><path d="M176.4 276.4C176.4 340 183.4 340 183.4 403.2"/><path d="M212.7 276.4C212.7 340 212.3 340 212.3 403.2"/><path d="M254.5 276.4C254.5 340 170.9 340 170.9 403.2"/><path d="M253.5 276.4C253.5 340 171.0 340 171.0 403.2"/><path d="M108.0 276.4C108.0 340 119.5 340 119.5 403.2"/><path d="M270.7 276.4C270.7 340 238.5 340 238.5 403.2"/><path d="M271.9 276.4C271.9 340 238.2 340 238.2 403.2"/><path d="M249.9 276.4C249.9 340 169.8 340 169.8 403.2"/><path d="M91.0 276.4C91.0 340 124.1 340 124.1 403.2"/><path d="M92.8 276.4C92.8 340 127.0 340 127.0 403.2"/><path d="M116.9 276.4C116.9 340 88.9 340 88.9 403.2"/><path d="M76.8 276.4C76.8 340 76.0 340 76.0 403.2"/><path d="M79.8 276.4C79.8 340 78.2 340 78.2 403.2"/><path d="M78.9 276.4C78.9 340 76.7 340 76.7 403.2"/><path d="M321.8 276.4C321.8 340 376.0 340 376.0 403.2"/><path d="M322.2 276.4C322.2 340 376.8 340 376.8 403.2"/><path d="M324.4 276.4C324.4 340 375.0 340 375.0 403.2"/><path d="M252.1 276.4C252.1 340 302.5 340 302.5 403.2"/><path d="M110.6 276.4C110.6 340 100.1 340 100.1 403.2"/><path d="M111.3 276.4C111.3 340 99.6 340 99.6 403.2"/><path d="M320.2 276.4C320.2 340 370.2 340 370.2 403.2"/><path d="M321.4 276.4C321.4 340 369.1 340 369.1 403.2"/><path d="M131.1 276.4C131.1 340 171.0 340 171.0 403.2"/><path d="M132.6 276.4C132.6 340 171.0 340 171.0 403.2"/><path d="M288.7 276.4C288.7 340 272.1 340 272.1 403.2"/><path d="M291.3 276.4C291.3 340 272.1 340 272.1 403.2"/><path d="M79.3 276.4C79.3 340 169.5 340 169.5 403.2"/><path d="M80.0 276.4C80.0 340 171.0 340 171.0 403.2"/><path d="M78.9 276.4C78.9 340 169.0 340 169.0 403.2"/><path d="M111.5 276.4C111.5 340 81.7 340 81.7 403.2"/><path d="M183.8 276.4C183.8 340 201.1 340 201.1 403.2"/><path d="M185.3 276.4C185.3 340 201.9 340 201.9 403.2"/><path d="M185.9 276.4C185.9 340 200.8 340 200.8 403.2"/><path d="M80.3 276.4C80.3 340 141.0 340 141.0 403.2"/><path d="M246.9 276.4C246.9 340 247.7 340 247.7 403.2"/><path d="M248.2 276.4C248.2 340 245.5 340 245.5 403.2"/><path d="M174.9 276.4C174.9 340 161.7 340 161.7 403.2"/><path d="M227.6 276.4C227.6 340 269.5 340 269.5 403.2"/><path d="M338.9 276.4C338.9 340 318.1 340 318.1 403.2"/><path d="M338.2 276.4C338.2 340 316.8 340 316.8 403.2"/><path d="M322.1 276.4C322.1 340 288.8 340 288.8 403.2"/><path d="M323.7 276.4C323.7 340 290.7 340 290.7 403.2"/><path d="M320.9 276.4C320.9 340 289.3 340 289.3 403.2"/><path d="M157.4 276.4C157.4 340 128.5 340 128.5 403.2"/><path d="M156.8 276.4C156.8 340 127.1 340 127.1 403.2"/><path d="M336.9 276.4C336.9 340 372.2 340 372.2 403.2"/><path d="M336.4 276.4C336.4 340 370.9 340 370.9 403.2"/><path d="M82.0 276.4C82.0 340 76.3 340 76.3 403.2"/><path d="M197.4 276.4C197.4 340 165.6 340 165.6 403.2"/><path d="M241.7 276.4C241.7 340 216.9 340 216.9 403.2"/><path d="M125.9 276.4C125.9 340 120.4 340 120.4 403.2"/><path d="M124.8 276.4C124.8 340 120.0 340 120.0 403.2"/><path d="M177.0 276.4C177.0 340 144.1 340 144.1 403.2"/><path d="M178.6 276.4C178.6 340 141.8 340 141.8 403.2"/><path d="M177.1 276.4C177.1 340 143.0 340 143.0 403.2"/><path d="M244.2 276.4C244.2 340 163.2 340 163.2 403.2"/><path d="M242.8 276.4C242.8 340 162.6 340 162.6 403.2"/><path d="M255.0 276.4C255.0 340 305.2 340 305.2 403.2"/><path d="M134.3 276.4C134.3 340 132.5 340 132.5 403.2"/><path d="M134.1 276.4C134.1 340 131.9 340 131.9 403.2"/><path d="M267.4 276.4C267.4 340 336.6 340 336.6 403.2"/><path d="M226.7 276.4C226.7 340 269.8 340 269.8 403.2"/><path d="M227.8 276.4C227.8 340 271.3 340 271.3 403.2"/><path d="M227.6 276.4C227.6 340 270.0 340 270.0 403.2"/><path d="M234.2 276.4C234.2 340 218.5 340 218.5 403.2"/><path d="M342.5 276.4C342.5 340 345.4 340 345.4 403.2"/><path d="M341.7 276.4C341.7 340 347.8 340 347.8 403.2"/><path d="M343.9 276.4C343.9 340 346.5 340 346.5 403.2"/><path d="M181.6 276.4C181.6 340 341.9 340 341.9 403.2"/><path d="M179.5 276.4C179.5 340 343.5 340 343.5 403.2"/><path d="M179.7 276.4C179.7 340 342.5 340 342.5 403.2"/><path d="M88.9 276.4C88.9 340 163.0 340 163.0 403.2"/><path d="M329.7 276.4C329.7 340 358.2 340 358.2 403.2"/><path d="M330.6 276.4C330.6 340 358.9 340 358.9 403.2"/><path d="M316.5 276.4C316.5 340 180.5 340 180.5 403.2"/><path d="M318.4 276.4C318.4 340 179.6 340 179.6 403.2"/><path d="M317.1 276.4C317.1 340 178.8 340 178.8 403.2"/><path d="M334.3 276.4C334.3 340 343.5 340 343.5 403.2"/><path d="M337.5 276.4C337.5 340 343.4 340 343.4 403.2"/><path d="M336.4 276.4C336.4 340 343.9 340 343.9 403.2"/><path d="M114.0 276.4C114.0 340 210.8 340 210.8 403.2"/><path d="M117.3 276.4C117.3 340 213.6 340 213.6 403.2"/><path d="M278.3 276.4C278.3 340 290.4 340 290.4 403.2"/><path d="M278.5 276.4C278.5 340 288.8 340 288.8 403.2"/><path d="M278.3 276.4C278.3 340 290.4 340 290.4 403.2"/><path d="M355.1 276.4C355.1 340 376.6 340 376.6 403.2"/><path d="M353.9 276.4C353.9 340 376.8 340 376.8 403.2"/><path d="M159.9 276.4C159.9 340 171.0 340 171.0 403.2"/><path d="M158.0 276.4C158.0 340 169.8 340 169.8 403.2"/><path d="M159.8 276.4C159.8 340 169.8 340 169.8 403.2"/><path d="M187.0 276.4C187.0 340 153.5 340 153.5 403.2"/><path d="M324.3 276.4C324.3 340 315.2 340 315.2 403.2"/><path d="M321.7 276.4C321.7 340 314.1 340 314.1 403.2"/><path d="M78.5 276.4C78.5 340 81.8 340 81.8 403.2"/><path d="M78.9 276.4C78.9 340 82.4 340 82.4 403.2"/><path d="M223.5 276.4C223.5 340 253.3 340 253.3 403.2"/><path d="M223.0 276.4C223.0 340 254.7 340 254.7 403.2"/><path d="M345.2 276.4C345.2 340 343.6 340 343.6 403.2"/><path d="M344.2 276.4C344.2 340 341.8 340 341.8 403.2"/><path d="M164.3 276.4C164.3 340 215.8 340 215.8 403.2"/><path d="M166.5 276.4C166.5 340 217.4 340 217.4 403.2"/><path d="M232.2 276.4C232.2 340 255.7 340 255.7 403.2"/><path d="M233.7 276.4C233.7 340 255.3 340 255.3 403.2"/><path d="M229.9 276.4C229.9 340 255.8 340 255.8 403.2"/><path d="M275.8 276.4C275.8 340 321.3 340 321.3 403.2"/><path d="M123.6 276.4C123.6 340 156.0 340 156.0 403.2"/><path d="M349.4 276.4C349.4 340 84.3 340 84.3 403.2"/><path d="M347.4 276.4C347.4 340 84.9 340 84.9 403.2"/><path d="M348.1 276.4C348.1 340 85.6 340 85.6 403.2"/><path d="M96.2 276.4C96.2 340 110.9 340 110.9 403.2"/><path d="M134.8 276.4C134.8 340 87.0 340 87.0 403.2"/><path d="M297.1 276.4C297.1 340 302.9 340 302.9 403.2"/><path d="M329.9 276.4C329.9 340 261.9 340 261.9 403.2"/><path d="M327.9 276.4C327.9 340 263.3 340 263.3 403.2"/><path d="M332.6 276.4C332.6 340 253.3 340 253.3 403.2"/><path d="M336.1 276.4C336.1 340 321.6 340 321.6 403.2"/><path d="M336.5 276.4C336.5 340 320.8 340 320.8 403.2"/><path d="M337.1 276.4C337.1 340 322.3 340 322.3 403.2"/><path d="M209.2 276.4C209.2 340 187.1 340 187.1 403.2"/><path d="M325.3 276.4C325.3 340 329.2 340 329.2 403.2"/><path d="M328.0 276.4C328.0 340 328.6 340 328.6 403.2"/><path d="M376.9 276.4C376.9 340 376.4 340 376.4 403.2"/><path d="M374.7 276.4C374.7 340 376.8 340 376.8 403.2"/><path d="M247.2 276.4C247.2 340 163.2 340 163.2 403.2"/><path d="M328.8 276.4C328.8 340 316.4 340 316.4 403.2"/><path d="M326.2 276.4C326.2 340 316.3 340 316.3 403.2"/><path d="M342.2 276.4C342.2 340 320.4 340 320.4 403.2"/><path d="M161.9 276.4C161.9 340 165.5 340 165.5 403.2"/><path d="M162.1 276.4C162.1 340 165.2 340 165.2 403.2"/><path d="M164.0 276.4C164.0 340 167.5 340 167.5 403.2"/><path d="M106.0 276.4C106.0 340 103.6 340 103.6 403.2"/><path d="M106.0 276.4C106.0 340 102.8 340 102.8 403.2"/><path d="M105.6 276.4C105.6 340 101.2 340 101.2 403.2"/><path d="M167.0 276.4C167.0 340 163.9 340 163.9 403.2"/><path d="M168.8 276.4C168.8 340 166.3 340 166.3 403.2"/><path d="M181.6 276.4C181.6 340 150.9 340 150.9 403.2"/><path d="M327.3 276.4C327.3 340 370.8 340 370.8 403.2"/><path d="M330.7 276.4C330.7 340 371.0 340 371.0 403.2"/><path d="M328.2 276.4C328.2 340 372.4 340 372.4 403.2"/><path d="M337.4 276.4C337.4 340 369.1 340 369.1 403.2"/><path d="M336.1 276.4C336.1 340 369.1 340 369.1 403.2"/><path d="M336.1 276.4C336.1 340 369.1 340 369.1 403.2"/><path d="M190.9 276.4C190.9 340 246.4 340 246.4 403.2"/><path d="M189.6 276.4C189.6 340 246.3 340 246.3 403.2"/><path d="M191.6 276.4C191.6 340 246.1 340 246.1 403.2"/><path d="M198.2 276.4C198.2 340 141.3 340 141.3 403.2"/><path d="M198.2 276.4C198.2 340 141.0 340 141.0 403.2"/><path d="M198.2 276.4C198.2 340 141.7 340 141.7 403.2"/><path d="M162.2 276.4C162.2 340 161.8 340 161.8 403.2"/><path d="M184.1 276.4C184.1 340 163.7 340 163.7 403.2"/><path d="M182.0 276.4C182.0 340 162.5 340 162.5 403.2"/><path d="M236.4 276.4C236.4 340 283.3 340 283.3 403.2"/><path d="M235.1 276.4C235.1 340 283.3 340 283.3 403.2"/><path d="M258.2 276.4C258.2 340 253.8 340 253.8 403.2"/><path d="M258.8 276.4C258.8 340 255.8 340 255.8 403.2"/><path d="M216.6 276.4C216.6 340 238.5 340 238.5 403.2"/><path d="M339.1 276.4C339.1 340 376.6 340 376.6 403.2"/><path d="M339.4 276.4C339.4 340 374.5 340 374.5 403.2"/><path d="M339.1 276.4C339.1 340 374.2 340 374.2 403.2"/><path d="M244.2 276.4C244.2 340 268.6 340 268.6 403.2"/><path d="M245.3 276.4C245.3 340 268.9 340 268.9 403.2"/><path d="M293.3 276.4C293.3 340 321.4 340 321.4 403.2"/><path d="M291.2 276.4C291.2 340 321.0 340 321.0 403.2"/><path d="M305.7 276.4C305.7 340 296.9 340 296.9 403.2"/><path d="M305.3 276.4C305.3 340 296.4 340 296.4 403.2"/><path d="M307.0 276.4C307.0 340 298.0 340 298.0 403.2"/><path d="M237.3 276.4C237.3 340 224.6 340 224.6 403.2"/><path d="M240.7 276.4C240.7 340 225.9 340 225.9 403.2"/><path d="M276.4 276.4C276.4 340 303.8 340 303.8 403.2"/><path d="M278.0 276.4C278.0 340 305.2 340 305.2 403.2"/><path d="M277.4 276.4C277.4 340 304.4 340 304.4 403.2"/><path d="M304.4 276.4C304.4 340 343.8 340 343.8 403.2"/><path d="M293.4 276.4C293.4 340 247.9 340 247.9 403.2"/><path d="M293.3 276.4C293.3 340 247.7 340 247.7 403.2"/><path d="M131.6 276.4C131.6 340 131.7 340 131.7 403.2"/><path d="M131.0 276.4C131.0 340 132.0 340 132.0 403.2"/><path d="M352.8 276.4C352.8 340 350.4 340 350.4 403.2"/><path d="M353.5 276.4C353.5 340 349.2 340 349.2 403.2"/><path d="M168.0 276.4C168.0 340 126.9 340 126.9 403.2"/><path d="M168.6 276.4C168.6 340 126.7 340 126.7 403.2"/><path d="M169.8 276.4C169.8 340 129.1 340 129.1 403.2"/><path d="M189.4 276.4C189.4 340 247.7 340 247.7 403.2"/><path d="M187.0 276.4C187.0 340 247.7 340 247.7 403.2"/><path d="M188.7 276.4C188.7 340 247.4 340 247.4 403.2"/><path d="M146.7 276.4C146.7 340 82.9 340 82.9 403.2"/><path d="M144.6 276.4C144.6 340 81.1 340 81.1 403.2"/><path d="M291.1 276.4C291.1 340 179.5 340 179.5 403.2"/><path d="M157.9 276.4C157.9 340 152.3 340 152.3 403.2"/><path d="M159.6 276.4C159.6 340 150.0 340 150.0 403.2"/><path d="M249.7 276.4C249.7 340 194.2 340 194.2 403.2"/><path d="M248.8 276.4C248.8 340 192.8 340 192.8 403.2"/><path d="M353.2 276.4C353.2 340 374.9 340 374.9 403.2"/><path d="M274.3 276.4C274.3 340 296.4 340 296.4 403.2"/><path d="M275.5 276.4C275.5 340 296.4 340 296.4 403.2"/><path d="M228.3 276.4C228.3 340 193.2 340 193.2 403.2"/><path d="M228.6 276.4C228.6 340 192.7 340 192.7 403.2"/><path d="M211.8 276.4C211.8 340 262.2 340 262.2 403.2"/><path d="M214.3 276.4C214.3 340 263.2 340 263.2 403.2"/><path d="M332.1 276.4C332.1 340 369.7 340 369.7 403.2"/><path d="M334.0 276.4C334.0 340 369.1 340 369.1 403.2"/><path d="M258.3 276.4C258.3 340 142.8 340 142.8 403.2"/><path d="M319.2 276.4C319.2 340 346.9 340 346.9 403.2"/><path d="M317.0 276.4C317.0 340 345.9 340 345.9 403.2"/><path d="M318.8 276.4C318.8 340 346.7 340 346.7 403.2"/><path d="M300.4 276.4C300.4 340 296.4 340 296.4 403.2"/><path d="M297.8 276.4C297.8 340 296.4 340 296.4 403.2"/><path d="M298.5 276.4C298.5 340 296.7 340 296.7 403.2"/><path d="M127.5 276.4C127.5 340 170.9 340 170.9 403.2"/><path d="M130.1 276.4C130.1 340 170.5 340 170.5 403.2"/><path d="M127.3 276.4C127.3 340 171.0 340 171.0 403.2"/><path d="M235.9 276.4C235.9 340 230.6 340 230.6 403.2"/><path d="M235.4 276.4C235.4 340 232.4 340 232.4 403.2"/><path d="M237.8 276.4C237.8 340 231.2 340 231.2 403.2"/><path d="M140.8 276.4C140.8 340 152.5 340 152.5 403.2"/><path d="M141.2 276.4C141.2 340 154.2 340 154.2 403.2"/><path d="M141.5 276.4C141.5 340 153.4 340 153.4 403.2"/><path d="M258.4 276.4C258.4 340 181.9 340 181.9 403.2"/><path d="M324.6 276.4C324.6 340 275.6 340 275.6 403.2"/><path d="M324.9 276.4C324.9 340 276.8 340 276.8 403.2"/><path d="M165.0 276.4C165.0 340 128.5 340 128.5 403.2"/><path d="M164.9 276.4C164.9 340 128.3 340 128.3 403.2"/><path d="M163.2 276.4C163.2 340 128.7 340 128.7 403.2"/><path d="M80.8 276.4C80.8 340 76.2 340 76.2 403.2"/><path d="M357.9 276.4C357.9 340 358.0 340 358.0 403.2"/><path d="M358.1 276.4C358.1 340 359.3 340 359.3 403.2"/><path d="M357.3 276.4C357.3 340 357.6 340 357.6 403.2"/><path d="M216.1 276.4C216.1 340 177.2 340 177.2 403.2"/><path d="M131.0 276.4C131.0 340 78.0 340 78.0 403.2"/><path d="M131.3 276.4C131.3 340 76.9 340 76.9 403.2"/><path d="M131.1 276.4C131.1 340 76.3 340 76.3 403.2"/><path d="M289.6 276.4C289.6 340 273.8 340 273.8 403.2"/><path d="M288.1 276.4C288.1 340 275.6 340 275.6 403.2"/><path d="M209.8 276.4C209.8 340 194.5 340 194.5 403.2"/><path d="M211.3 276.4C211.3 340 193.4 340 193.4 403.2"/><path d="M222.7 276.4C222.7 340 282.8 340 282.8 403.2"/><path d="M303.2 276.4C303.2 340 375.8 340 375.8 403.2"/><path d="M126.8 276.4C126.8 340 76.3 340 76.3 403.2"/><path d="M125.8 276.4C125.8 340 77.5 340 77.5 403.2"/><path d="M337.4 276.4C337.4 340 363.8 340 363.8 403.2"/><path d="M335.5 276.4C335.5 340 362.7 340 362.7 403.2"/><path d="M282.2 276.4C282.2 340 218.5 340 218.5 403.2"/><path d="M281.7 276.4C281.7 340 218.1 340 218.1 403.2"/><path d="M283.7 276.4C283.7 340 218.5 340 218.5 403.2"/><path d="M350.0 276.4C350.0 340 370.9 340 370.9 403.2"/><path d="M130.5 276.4C130.5 340 224.8 340 224.8 403.2"/><path d="M129.1 276.4C129.1 340 224.8 340 224.8 403.2"/><path d="M128.3 276.4C128.3 340 225.3 340 225.3 403.2"/><path d="M280.7 276.4C280.7 340 320.4 340 320.4 403.2"/><path d="M148.6 276.4C148.6 340 187.7 340 187.7 403.2"/><path d="M148.8 276.4C148.8 340 187.1 340 187.1 403.2"/><path d="M148.7 276.4C148.7 340 186.8 340 186.8 403.2"/><path d="M236.0 276.4C236.0 340 289.0 340 289.0 403.2"/><path d="M176.9 276.4C176.9 340 124.3 340 124.3 403.2"/><path d="M177.0 276.4C177.0 340 123.6 340 123.6 403.2"/><path d="M344.7 276.4C344.7 340 321.5 340 321.5 403.2"/><path d="M364.1 276.4C364.1 340 375.5 340 375.5 403.2"/><path d="M364.7 276.4C364.7 340 376.8 340 376.8 403.2"/><path d="M365.5 276.4C365.5 340 374.8 340 374.8 403.2"/><path d="M283.3 276.4C283.3 340 282.8 340 282.8 403.2"/><path d="M282.1 276.4C282.1 340 282.8 340 282.8 403.2"/><path d="M170.4 276.4C170.4 340 202.1 340 202.1 403.2"/><path d="M267.8 276.4C267.8 340 287.8 340 287.8 403.2"/><path d="M270.9 276.4C270.9 340 286.1 340 286.1 403.2"/><path d="M269.4 276.4C269.4 340 287.5 340 287.5 403.2"/><path d="M340.6 276.4C340.6 340 372.8 340 372.8 403.2"/><path d="M340.0 276.4C340.0 340 372.0 340 372.0 403.2"/><path d="M194.2 276.4C194.2 340 218.5 340 218.5 403.2"/><path d="M192.7 276.4C192.7 340 216.8 340 216.8 403.2"/><path d="M191.9 276.4C191.9 340 218.5 340 218.5 403.2"/><path d="M121.4 276.4C121.4 340 141.0 340 141.0 403.2"/><path d="M180.7 276.4C180.7 340 232.4 340 232.4 403.2"/><path d="M180.4 276.4C180.4 340 231.1 340 231.1 403.2"/><path d="M115.3 276.4C115.3 340 99.9 340 99.9 403.2"/><path d="M113.8 276.4C113.8 340 98.9 340 98.9 403.2"/><path d="M113.0 276.4C113.0 340 98.6 340 98.6 403.2"/><path d="M299.6 276.4C299.6 340 329.5 340 329.5 403.2"/><path d="M301.2 276.4C301.2 340 328.1 340 328.1 403.2"/><path d="M298.8 276.4C298.8 340 311.3 340 311.3 403.2"/><path d="M108.9 276.4C108.9 340 125.1 340 125.1 403.2"/><path d="M190.1 276.4C190.1 340 224.6 340 224.6 403.2"/><path d="M190.7 276.4C190.7 340 224.8 340 224.8 403.2"/><path d="M286.7 276.4C286.7 340 329.6 340 329.6 403.2"/><path d="M287.6 276.4C287.6 340 328.1 340 328.1 403.2"/><path d="M288.5 276.4C288.5 340 328.1 340 328.1 403.2"/><path d="M297.9 276.4C297.9 340 254.2 340 254.2 403.2"/><path d="M299.7 276.4C299.7 340 256.4 340 256.4 403.2"/><path d="M168.8 276.4C168.8 340 193.4 340 193.4 403.2"/><path d="M246.1 276.4C246.1 340 201.8 340 201.8 403.2"/><path d="M246.0 276.4C246.0 340 201.1 340 201.1 403.2"/><path d="M237.1 276.4C237.1 340 247.7 340 247.7 403.2"/><path d="M237.2 276.4C237.2 340 247.4 340 247.4 403.2"/><path d="M142.6 276.4C142.6 340 155.7 340 155.7 403.2"/><path d="M144.1 276.4C144.1 340 154.2 340 154.2 403.2"/><path d="M142.9 276.4C142.9 340 155.7 340 155.7 403.2"/><path d="M339.0 276.4C339.0 340 341.8 340 341.8 403.2"/><path d="M134.5 276.4C134.5 340 129.7 340 129.7 403.2"/><path d="M134.4 276.4C134.4 340 132.5 340 132.5 403.2"/><path d="M134.0 276.4C134.0 340 131.4 340 131.4 403.2"/><path d="M363.9 276.4C363.9 340 376.8 340 376.8 403.2"/><path d="M364.6 276.4C364.6 340 376.8 340 376.8 403.2"/><path d="M191.8 276.4C191.8 340 165.7 340 165.7 403.2"/><path d="M193.9 276.4C193.9 340 164.6 340 164.6 403.2"/><path d="M293.7 276.4C293.7 340 286.4 340 286.4 403.2"/><path d="M295.9 276.4C295.9 340 288.3 340 288.3 403.2"/><path d="M294.6 276.4C294.6 340 289.0 340 289.0 403.2"/><path d="M265.5 276.4C265.5 340 319.0 340 319.0 403.2"/><path d="M267.1 276.4C267.1 340 318.2 340 318.2 403.2"/><path d="M250.2 276.4C250.2 340 245.3 340 245.3 403.2"/><path d="M252.6 276.4C252.6 340 244.3 340 244.3 403.2"/><path d="M252.1 276.4C252.1 340 241.7 340 241.7 403.2"/><path d="M102.7 276.4C102.7 340 128.7 340 128.7 403.2"/><path d="M99.9 276.4C99.9 340 127.0 340 127.0 403.2"/><path d="M100.0 276.4C100.0 340 99.7 340 99.7 403.2"/><path d="M101.0 276.4C101.0 340 99.4 340 99.4 403.2"/><path d="M185.5 276.4C185.5 340 194.3 340 194.3 403.2"/><path d="M188.2 276.4C188.2 340 194.1 340 194.1 403.2"/><path d="M185.2 276.4C185.2 340 196.2 340 196.2 403.2"/><path d="M183.9 276.4C183.9 340 253.3 340 253.3 403.2"/><path d="M181.9 276.4C181.9 340 253.8 340 253.8 403.2"/><path d="M221.5 276.4C221.5 340 232.4 340 232.4 403.2"/><path d="M223.7 276.4C223.7 340 232.4 340 232.4 403.2"/><path d="M186.4 276.4C186.4 340 239.8 340 239.8 403.2"/><path d="M117.4 276.4C117.4 340 177.2 340 177.2 403.2"/><path d="M196.7 276.4C196.7 340 231.7 340 231.7 403.2"/><path d="M293.8 276.4C293.8 340 284.6 340 284.6 403.2"/><path d="M293.5 276.4C293.5 340 282.8 340 282.8 403.2"/><path d="M293.3 276.4C293.3 340 282.8 340 282.8 403.2"/><path d="M196.2 276.4C196.2 340 155.8 340 155.8 403.2"/><path d="M237.6 276.4C237.6 340 282.8 340 282.8 403.2"/><path d="M235.4 276.4C235.4 340 282.8 340 282.8 403.2"/><path d="M238.8 276.4C238.8 340 284.0 340 284.0 403.2"/><path d="M249.7 276.4C249.7 340 359.3 340 359.3 403.2"/><path d="M249.3 276.4C249.3 340 359.9 340 359.9 403.2"/><path d="M329.8 276.4C329.8 340 253.3 340 253.3 403.2"/><path d="M235.1 276.4C235.1 340 198.0 340 198.0 403.2"/><path d="M237.1 276.4C237.1 340 197.6 340 197.6 403.2"/><path d="M127.1 276.4C127.1 340 104.7 340 104.7 403.2"/><path d="M127.4 276.4C127.4 340 102.0 340 102.0 403.2"/><path d="M130.5 276.4C130.5 340 122.9 340 122.9 403.2"/><path d="M130.2 276.4C130.2 340 123.6 340 123.6 403.2"/><path d="M107.7 276.4C107.7 340 255.2 340 255.2 403.2"/><path d="M333.0 276.4C333.0 340 303.6 340 303.6 403.2"/><path d="M332.6 276.4C332.6 340 304.8 340 304.8 403.2"/><path d="M243.2 276.4C243.2 340 244.1 340 244.1 403.2"/><path d="M242.5 276.4C242.5 340 246.4 340 246.4 403.2"/><path d="M241.0 276.4C241.0 340 244.2 340 244.2 403.2"/><path d="M247.4 276.4C247.4 340 178.5 340 178.5 403.2"/><path d="M247.7 276.4C247.7 340 177.7 340 177.7 403.2"/><path d="M244.3 276.4C244.3 340 178.9 340 178.9 403.2"/><path d="M322.9 276.4C322.9 340 335.1 340 335.1 403.2"/><path d="M321.4 276.4C321.4 340 334.9 340 334.9 403.2"/><path d="M324.4 276.4C324.4 340 333.7 340 333.7 403.2"/><path d="M341.8 276.4C341.8 340 360.0 340 360.0 403.2"/><path d="M338.7 276.4C338.7 340 359.2 340 359.2 403.2"/><path d="M108.0 276.4C108.0 340 344.0 340 344.0 403.2"/><path d="M109.4 276.4C109.4 340 343.9 340 343.9 403.2"/><path d="M238.6 276.4C238.6 340 218.2 340 218.2 403.2"/><path d="M238.4 276.4C238.4 340 216.8 340 216.8 403.2"/><path d="M219.2 276.4C219.2 340 254.7 340 254.7 403.2"/><path d="M216.5 276.4C216.5 340 254.0 340 254.0 403.2"/><path d="M129.1 276.4C129.1 340 93.1 340 93.1 403.2"/><path d="M127.2 276.4C127.2 340 93.1 340 93.1 403.2"/><path d="M125.8 276.4C125.8 340 93.3 340 93.3 403.2"/><path d="M285.2 276.4C285.2 340 285.5 340 285.5 403.2"/><path d="M277.1 276.4C277.1 340 329.7 340 329.7 403.2"/><path d="M133.7 276.4C133.7 340 104.0 340 104.0 403.2"/><path d="M132.1 276.4C132.1 340 104.4 340 104.4 403.2"/><path d="M298.8 276.4C298.8 340 305.0 340 305.0 403.2"/><path d="M238.0 276.4C238.0 340 177.4 340 177.4 403.2"/><path d="M240.7 276.4C240.7 340 179.1 340 179.1 403.2"/><path d="M239.8 276.4C239.8 340 180.6 340 180.6 403.2"/><path d="M259.2 276.4C259.2 340 238.5 340 238.5 403.2"/><path d="M259.2 276.4C259.2 340 238.5 340 238.5 403.2"/><path d="M258.1 276.4C258.1 340 238.5 340 238.5 403.2"/><path d="M314.7 276.4C314.7 340 376.0 340 376.0 403.2"/><path d="M314.0 276.4C314.0 340 375.6 340 375.6 403.2"/><path d="M324.6 276.4C324.6 340 376.8 340 376.8 403.2"/><path d="M287.6 276.4C287.6 340 272.9 340 272.9 403.2"/><path d="M252.3 276.4C252.3 340 243.3 340 243.3 403.2"/><path d="M252.8 276.4C252.8 340 245.8 340 245.8 403.2"/><path d="M252.4 276.4C252.4 340 243.4 340 243.4 403.2"/><path d="M225.4 276.4C225.4 340 277.1 340 277.1 403.2"/><path d="M225.4 276.4C225.4 340 277.1 340 277.1 403.2"/><path d="M225.5 276.4C225.5 340 277.1 340 277.1 403.2"/><path d="M93.0 276.4C93.0 340 165.0 340 165.0 403.2"/><path d="M93.5 276.4C93.5 340 164.9 340 164.9 403.2"/><path d="M93.0 276.4C93.0 340 165.6 340 165.6 403.2"/><path d="M242.9 276.4C242.9 340 315.7 340 315.7 403.2"/><path d="M244.4 276.4C244.4 340 315.6 340 315.6 403.2"/><path d="M243.4 276.4C243.4 340 317.1 340 317.1 403.2"/><path d="M77.2 276.4C77.2 340 76.3 340 76.3 403.2"/><path d="M168.7 276.4C168.7 340 128.1 340 128.1 403.2"/><path d="M167.7 276.4C167.7 340 131.7 340 131.7 403.2"/><path d="M168.6 276.4C168.6 340 128.9 340 128.9 403.2"/><path d="M369.8 276.4C369.8 340 371.1 340 371.1 403.2"/><path d="M368.1 276.4C368.1 340 369.1 340 369.1 403.2"/><path d="M370.2 276.4C370.2 340 369.1 340 369.1 403.2"/><path d="M250.3 276.4C250.3 340 232.4 340 232.4 403.2"/><path d="M247.1 276.4C247.1 340 232.4 340 232.4 403.2"/><path d="M247.5 276.4C247.5 340 231.9 340 231.9 403.2"/><path d="M138.1 276.4C138.1 340 112.2 340 112.2 403.2"/><path d="M138.6 276.4C138.6 340 111.9 340 111.9 403.2"/><path d="M164.0 276.4C164.0 340 112.5 340 112.5 403.2"/><path d="M292.9 276.4C292.9 340 315.9 340 315.9 403.2"/><path d="M292.0 276.4C292.0 340 315.7 340 315.7 403.2"/><path d="M290.8 276.4C290.8 340 315.7 340 315.7 403.2"/><path d="M99.7 276.4C99.7 340 92.4 340 92.4 403.2"/><path d="M126.3 276.4C126.3 340 107.7 340 107.7 403.2"/><path d="M124.8 276.4C124.8 340 111.0 340 111.0 403.2"/><path d="M125.0 276.4C125.0 340 111.1 340 111.1 403.2"/><path d="M188.5 276.4C188.5 340 77.4 340 77.4 403.2"/><path d="M186.7 276.4C186.7 340 77.2 340 77.2 403.2"/><path d="M187.1 276.4C187.1 340 78.1 340 78.1 403.2"/><path d="M361.1 276.4C361.1 340 305.0 340 305.0 403.2"/><path d="M361.2 276.4C361.2 340 303.7 340 303.7 403.2"/><path d="M362.4 276.4C362.4 340 302.1 340 302.1 403.2"/><path d="M340.1 276.4C340.1 340 300.2 340 300.2 403.2"/><path d="M339.6 276.4C339.6 340 301.1 340 301.1 403.2"/><path d="M341.7 276.4C341.7 340 375.5 340 375.5 403.2"/><path d="M331.2 276.4C331.2 340 376.2 340 376.2 403.2"/><path d="M331.4 276.4C331.4 340 376.9 340 376.9 403.2"/><path d="M158.5 276.4C158.5 340 201.4 340 201.4 403.2"/><path d="M158.8 276.4C158.8 340 201.9 340 201.9 403.2"/><path d="M159.5 276.4C159.5 340 201.5 340 201.5 403.2"/><path d="M249.0 276.4C249.0 340 344.5 340 344.5 403.2"/><path d="M341.2 276.4C341.2 340 320.3 340 320.3 403.2"/><path d="M334.0 276.4C334.0 340 376.8 340 376.8 403.2"/><path d="M333.0 276.4C333.0 340 376.5 340 376.5 403.2"/><path d="M333.7 276.4C333.7 340 376.3 340 376.3 403.2"/><path d="M213.7 276.4C213.7 340 199.3 340 199.3 403.2"/><path d="M259.2 276.4C259.2 340 277.1 340 277.1 403.2"/><path d="M275.0 276.4C275.0 340 356.9 340 356.9 403.2"/><path d="M251.9 276.4C251.9 340 254.6 340 254.6 403.2"/><path d="M254.2 276.4C254.2 340 253.3 340 253.3 403.2"/><path d="M237.1 276.4C237.1 340 261.3 340 261.3 403.2"/><path d="M236.3 276.4C236.3 340 263.3 340 263.3 403.2"/><path d="M287.8 276.4C287.8 340 357.0 340 357.0 403.2"/><path d="M286.9 276.4C286.9 340 359.6 340 359.6 403.2"/><path d="M287.0 276.4C287.0 340 358.4 340 358.4 403.2"/><path d="M372.7 276.4C372.7 340 289.4 340 289.4 403.2"/><path d="M219.1 276.4C219.1 340 314.7 340 314.7 403.2"/><path d="M220.6 276.4C220.6 340 314.2 340 314.2 403.2"/><path d="M305.2 276.4C305.2 340 262.2 340 262.2 403.2"/><path d="M304.8 276.4C304.8 340 262.0 340 262.0 403.2"/><path d="M302.6 276.4C302.6 340 262.6 340 262.6 403.2"/><path d="M162.3 276.4C162.3 340 207.9 340 207.9 403.2"/><path d="M160.7 276.4C160.7 340 209.9 340 209.9 403.2"/><path d="M161.0 276.4C161.0 340 208.9 340 208.9 403.2"/><path d="M91.2 276.4C91.2 340 79.6 340 79.6 403.2"/><path d="M94.8 276.4C94.8 340 79.5 340 79.5 403.2"/><path d="M93.8 276.4C93.8 340 78.2 340 78.2 403.2"/><path d="M232.1 276.4C232.1 340 192.9 340 192.9 403.2"/><path d="M232.0 276.4C232.0 340 192.9 340 192.9 403.2"/><path d="M166.6 276.4C166.6 340 143.1 340 143.1 403.2"/><path d="M166.2 276.4C166.2 340 141.0 340 141.0 403.2"/><path d="M165.9 276.4C165.9 340 142.2 340 142.2 403.2"/><path d="M257.3 276.4C257.3 340 282.8 340 282.8 403.2"/><path d="M293.2 276.4C293.2 340 80.5 340 80.5 403.2"/><path d="M292.6 276.4C292.6 340 80.2 340 80.2 403.2"/><path d="M295.7 276.4C295.7 340 79.3 340 79.3 403.2"/><path d="M203.5 276.4C203.5 340 225.1 340 225.1 403.2"/><path d="M203.8 276.4C203.8 340 224.8 340 224.8 403.2"/><path d="M203.8 276.4C203.8 340 224.8 340 224.8 403.2"/><path d="M278.8 276.4C278.8 340 244.4 340 244.4 403.2"/><path d="M275.9 276.4C275.9 340 244.4 340 244.4 403.2"/><path d="M335.5 276.4C335.5 340 369.5 340 369.5 403.2"/><path d="M335.7 276.4C335.7 340 369.1 340 369.1 403.2"/><path d="M337.4 276.4C337.4 340 369.4 340 369.4 403.2"/><path d="M88.0 276.4C88.0 340 82.7 340 82.7 403.2"/><path d="M87.2 276.4C87.2 340 82.0 340 82.0 403.2"/><path d="M112.7 276.4C112.7 340 169.9 340 169.9 403.2"/><path d="M98.9 276.4C98.9 340 76.8 340 76.8 403.2"/><path d="M100.4 276.4C100.4 340 76.6 340 76.6 403.2"/><path d="M355.3 276.4C355.3 340 376.0 340 376.0 403.2"/><path d="M355.7 276.4C355.7 340 375.7 340 375.7 403.2"/><path d="M108.7 276.4C108.7 340 150.3 340 150.3 403.2"/><path d="M230.5 276.4C230.5 340 269.0 340 269.0 403.2"/><path d="M229.8 276.4C229.8 340 268.8 340 268.8 403.2"/><path d="M341.8 276.4C341.8 340 328.3 340 328.3 403.2"/><path d="M343.2 276.4C343.2 340 328.1 340 328.1 403.2"/><path d="M342.4 276.4C342.4 340 328.1 340 328.1 403.2"/><path d="M171.1 276.4C171.1 340 193.0 340 193.0 403.2"/><path d="M170.9 276.4C170.9 340 196.2 340 196.2 403.2"/><path d="M171.5 276.4C171.5 340 193.1 340 193.1 403.2"/><path d="M144.1 276.4C144.1 340 180.2 340 180.2 403.2"/><path d="M141.4 276.4C141.4 340 180.2 340 180.2 403.2"/><path d="M141.9 276.4C141.9 340 179.0 340 179.0 403.2"/><path d="M116.6 276.4C116.6 340 179.1 340 179.1 403.2"/><path d="M353.2 276.4C353.2 340 376.8 340 376.8 403.2"/><path d="M357.1 276.4C357.1 340 375.4 340 375.4 403.2"/><path d="M356.7 276.4C356.7 340 376.8 340 376.8 403.2"/><path d="M358.6 276.4C358.6 340 376.3 340 376.3 403.2"/><path d="M198.2 276.4C198.2 340 261.9 340 261.9 403.2"/><path d="M198.1 276.4C198.1 340 262.3 340 262.3 403.2"/><path d="M197.2 276.4C197.2 340 262.2 340 262.2 403.2"/><path d="M253.9 276.4C253.9 340 209.6 340 209.6 403.2"/><path d="M254.9 276.4C254.9 340 211.6 340 211.6 403.2"/><path d="M253.2 276.4C253.2 340 210.0 340 210.0 403.2"/><path d="M328.0 276.4C328.0 340 322.3 340 322.3 403.2"/><path d="M328.7 276.4C328.7 340 322.3 340 322.3 403.2"/><path d="M340.0 276.4C340.0 340 356.5 340 356.5 403.2"/><path d="M271.5 276.4C271.5 340 304.7 340 304.7 403.2"/><path d="M268.6 276.4C268.6 340 305.0 340 305.0 403.2"/><path d="M270.7 276.4C270.7 340 305.0 340 305.0 403.2"/><path d="M166.3 276.4C166.3 340 119.1 340 119.1 403.2"/><path d="M331.0 276.4C331.0 340 296.4 340 296.4 403.2"/><path d="M331.7 276.4C331.7 340 297.7 340 297.7 403.2"/><path d="M331.8 276.4C331.8 340 296.4 340 296.4 403.2"/><path d="M103.6 276.4C103.6 340 76.3 340 76.3 403.2"/><path d="M103.0 276.4C103.0 340 77.8 340 77.8 403.2"/><path d="M101.1 276.4C101.1 340 76.3 340 76.3 403.2"/><path d="M285.7 276.4C285.7 340 283.8 340 283.8 403.2"/><path d="M288.0 276.4C288.0 340 286.5 340 286.5 403.2"/><path d="M286.8 276.4C286.8 340 286.1 340 286.1 403.2"/><path d="M82.9 276.4C82.9 340 113.4 340 113.4 403.2"/><path d="M83.9 276.4C83.9 340 112.9 340 112.9 403.2"/><path d="M82.0 276.4C82.0 340 113.4 340 113.4 403.2"/><path d="M136.7 276.4C136.7 340 240.2 340 240.2 403.2"/><path d="M137.1 276.4C137.1 340 238.5 340 238.5 403.2"/><path d="M139.0 276.4C139.0 340 238.5 340 238.5 403.2"/><path d="M215.9 276.4C215.9 340 262.3 340 262.3 403.2"/><path d="M213.6 276.4C213.6 340 260.0 340 260.0 403.2"/><path d="M216.9 276.4C216.9 340 261.1 340 261.1 403.2"/><path d="M258.1 276.4C258.1 340 247.5 340 247.5 403.2"/><path d="M256.5 276.4C256.5 340 247.7 340 247.7 403.2"/><path d="M257.5 276.4C257.5 340 247.7 340 247.7 403.2"/><path d="M103.0 276.4C103.0 340 90.9 340 90.9 403.2"/><path d="M102.2 276.4C102.2 340 90.3 340 90.3 403.2"/><path d="M100.5 276.4C100.5 340 150.3 340 150.3 403.2"/><path d="M98.7 276.4C98.7 340 150.0 340 150.0 403.2"/><path d="M288.8 276.4C288.8 340 226.8 340 226.8 403.2"/><path d="M288.2 276.4C288.2 340 230.1 340 230.1 403.2"/><path d="M248.2 276.4C248.2 340 210.3 340 210.3 403.2"/><path d="M107.3 276.4C107.3 340 76.3 340 76.3 403.2"/><path d="M107.1 276.4C107.1 340 76.3 340 76.3 403.2"/><path d="M271.7 276.4C271.7 340 201.2 340 201.2 403.2"/><path d="M272.1 276.4C272.1 340 201.9 340 201.9 403.2"/><path d="M115.1 276.4C115.1 340 148.0 340 148.0 403.2"/><path d="M112.8 276.4C112.8 340 148.6 340 148.6 403.2"/><path d="M114.8 276.4C114.8 340 147.9 340 147.9 403.2"/><path d="M371.8 276.4C371.8 340 350.1 340 350.1 403.2"/><path d="M371.1 276.4C371.1 340 348.5 340 348.5 403.2"/><path d="M372.1 276.4C372.1 340 349.0 340 349.0 403.2"/><path d="M256.5 276.4C256.5 340 253.3 340 253.3 403.2"/><path d="M256.8 276.4C256.8 340 253.3 340 253.3 403.2"/><path d="M279.0 276.4C279.0 340 145.3 340 145.3 403.2"/><path d="M298.0 276.4C298.0 340 344.1 340 344.1 403.2"/><path d="M297.9 276.4C297.9 340 345.4 340 345.4 403.2"/><path d="M296.9 276.4C296.9 340 345.7 340 345.7 403.2"/><path d="M82.5 276.4C82.5 340 103.9 340 103.9 403.2"/><path d="M178.5 276.4C178.5 340 181.8 340 181.8 403.2"/><path d="M176.5 276.4C176.5 340 184.7 340 184.7 403.2"/><path d="M176.8 276.4C176.8 340 181.5 340 181.5 403.2"/><path d="M252.9 276.4C252.9 340 274.8 340 274.8 403.2"/><path d="M251.9 276.4C251.9 340 274.1 340 274.1 403.2"/><path d="M212.0 276.4C212.0 340 209.6 340 209.6 403.2"/><path d="M210.8 276.4C210.8 340 208.4 340 208.4 403.2"/><path d="M189.6 276.4C189.6 340 214.8 340 214.8 403.2"/><path d="M189.2 276.4C189.2 340 212.3 340 212.3 403.2"/><path d="M192.8 276.4C192.8 340 214.7 340 214.7 403.2"/><path d="M281.2 276.4C281.2 340 283.7 340 283.7 403.2"/><path d="M127.9 276.4C127.9 340 141.0 340 141.0 403.2"/><path d="M359.3 276.4C359.3 340 336.6 340 336.6 403.2"/><path d="M357.2 276.4C357.2 340 335.7 340 335.7 403.2"/><path d="M146.1 276.4C146.1 340 89.4 340 89.4 403.2"/><path d="M145.1 276.4C145.1 340 91.3 340 91.3 403.2"/><path d="M137.6 276.4C137.6 340 229.6 340 229.6 403.2"/><path d="M118.4 276.4C118.4 340 135.4 340 135.4 403.2"/><path d="M115.8 276.4C115.8 340 135.4 340 135.4 403.2"/><path d="M84.9 276.4C84.9 340 124.8 340 124.8 403.2"/><path d="M85.4 276.4C85.4 340 124.7 340 124.7 403.2"/><path d="M85.4 276.4C85.4 340 126.4 340 126.4 403.2"/><path d="M306.6 276.4C306.6 340 287.8 340 287.8 403.2"/><path d="M305.7 276.4C305.7 340 285.8 340 285.8 403.2"/><path d="M306.9 276.4C306.9 340 288.6 340 288.6 403.2"/><path d="M334.0 276.4C334.0 340 290.4 340 290.4 403.2"/><path d="M334.4 276.4C334.4 340 290.4 340 290.4 403.2"/><path d="M333.2 276.4C333.2 340 290.1 340 290.1 403.2"/><path d="M350.8 276.4C350.8 340 376.8 340 376.8 403.2"/><path d="M350.8 276.4C350.8 340 376.8 340 376.8 403.2"/><path d="M351.3 276.4C351.3 340 375.3 340 375.3 403.2"/><path d="M291.7 276.4C291.7 340 288.3 340 288.3 403.2"/><path d="M294.5 276.4C294.5 340 287.3 340 287.3 403.2"/><path d="M293.3 276.4C293.3 340 287.6 340 287.6 403.2"/><path d="M128.2 276.4C128.2 340 76.3 340 76.3 403.2"/><path d="M83.9 276.4C83.9 340 103.4 340 103.4 403.2"/><path d="M83.4 276.4C83.4 340 105.9 340 105.9 403.2"/><path d="M82.3 276.4C82.3 340 106.1 340 106.1 403.2"/><path d="M101.6 276.4C101.6 340 93.2 340 93.2 403.2"/><path d="M98.4 276.4C98.4 340 92.8 340 92.8 403.2"/><path d="M341.3 276.4C341.3 340 290.4 340 290.4 403.2"/><path d="M339.2 276.4C339.2 340 289.8 340 289.8 403.2"/><path d="M341.5 276.4C341.5 340 289.6 340 289.6 403.2"/><path d="M144.2 276.4C144.2 340 78.9 340 78.9 403.2"/><path d="M175.6 276.4C175.6 340 259.6 340 259.6 403.2"/><path d="M177.1 276.4C177.1 340 258.9 340 258.9 403.2"/><path d="M123.5 276.4C123.5 340 77.3 340 77.3 403.2"/><path d="M124.8 276.4C124.8 340 77.9 340 77.9 403.2"/><path d="M214.7 276.4C214.7 340 165.0 340 165.0 403.2"/><path d="M213.9 276.4C213.9 340 164.6 340 164.6 403.2"/><path d="M215.7 276.4C215.7 340 167.5 340 167.5 403.2"/><path d="M252.7 276.4C252.7 340 238.5 340 238.5 403.2"/><path d="M254.5 276.4C254.5 340 238.5 340 238.5 403.2"/><path d="M249.7 276.4C249.7 340 247.3 340 247.3 403.2"/><path d="M247.8 276.4C247.8 340 247.2 340 247.2 403.2"/><path d="M246.5 276.4C246.5 340 247.2 340 247.2 403.2"/><path d="M79.0 276.4C79.0 340 119.1 340 119.1 403.2"/><path d="M177.6 276.4C177.6 340 240.4 340 240.4 403.2"/><path d="M178.5 276.4C178.5 340 241.8 340 241.8 403.2"/><path d="M142.1 276.4C142.1 340 91.2 340 91.2 403.2"/><path d="M280.0 276.4C280.0 340 257.3 340 257.3 403.2"/><path d="M319.4 276.4C319.4 340 255.9 340 255.9 403.2"/><path d="M256.2 276.4C256.2 340 255.0 340 255.0 403.2"/><path d="M122.2 276.4C122.2 340 113.6 340 113.6 403.2"/><path d="M123.3 276.4C123.3 340 113.4 340 113.4 403.2"/><path d="M141.5 276.4C141.5 340 102.4 340 102.4 403.2"/><path d="M144.3 276.4C144.3 340 102.9 340 102.9 403.2"/><path d="M360.4 276.4C360.4 340 355.6 340 355.6 403.2"/><path d="M359.9 276.4C359.9 340 355.6 340 355.6 403.2"/><path d="M360.6 276.4C360.6 340 355.6 340 355.6 403.2"/><path d="M354.1 276.4C354.1 340 349.8 340 349.8 403.2"/><path d="M353.4 276.4C353.4 340 350.4 340 350.4 403.2"/><path d="M315.4 276.4C315.4 340 317.0 340 317.0 403.2"/><path d="M318.4 276.4C318.4 340 319.1 340 319.1 403.2"/><path d="M318.4 276.4C318.4 340 316.7 340 316.7 403.2"/><path d="M113.2 276.4C113.2 340 257.5 340 257.5 403.2"/><path d="M115.8 276.4C115.8 340 259.9 340 259.9 403.2"/><path d="M115.2 276.4C115.2 340 259.2 340 259.2 403.2"/><path d="M237.3 276.4C237.3 340 315.7 340 315.7 403.2"/><path d="M221.2 276.4C221.2 340 213.3 340 213.3 403.2"/><path d="M368.0 276.4C368.0 340 376.6 340 376.6 403.2"/><path d="M370.3 276.4C370.3 340 377.0 340 377.0 403.2"/><path d="M269.6 276.4C269.6 340 269.5 340 269.5 403.2"/><path d="M362.7 276.4C362.7 340 376.8 340 376.8 403.2"/><path d="M359.2 276.4C359.2 340 375.1 340 375.1 403.2"/><path d="M360.0 276.4C360.0 340 376.8 340 376.8 403.2"/><path d="M138.2 276.4C138.2 340 113.1 340 113.1 403.2"/><path d="M78.0 276.4C78.0 340 90.5 340 90.5 403.2"/><path d="M187.6 276.4C187.6 340 187.4 340 187.4 403.2"/><path d="M330.8 276.4C330.8 340 167.2 340 167.2 403.2"/><path d="M329.9 276.4C329.9 340 164.1 340 164.1 403.2"/><path d="M303.4 276.4C303.4 340 244.8 340 244.8 403.2"/><path d="M280.3 276.4C280.3 340 350.0 340 350.0 403.2"/><path d="M279.7 276.4C279.7 340 350.6 340 350.6 403.2"/><path d="M280.2 276.4C280.2 340 350.4 340 350.4 403.2"/><path d="M166.6 276.4C166.6 340 224.8 340 224.8 403.2"/><path d="M129.5 276.4C129.5 340 161.8 340 161.8 403.2"/><path d="M125.8 276.4C125.8 340 161.8 340 161.8 403.2"/><path d="M204.6 276.4C204.6 340 162.8 340 162.8 403.2"/><path d="M205.6 276.4C205.6 340 161.8 340 161.8 403.2"/><path d="M319.1 276.4C319.1 340 376.8 340 376.8 403.2"/><path d="M322.3 276.4C322.3 340 376.8 340 376.8 403.2"/><path d="M320.1 276.4C320.1 340 376.8 340 376.8 403.2"/><path d="M77.2 276.4C77.2 340 132.6 340 132.6 403.2"/><path d="M79.6 276.4C79.6 340 132.9 340 132.9 403.2"/><path d="M79.7 276.4C79.7 340 135.0 340 135.0 403.2"/><path d="M111.3 276.4C111.3 340 77.6 340 77.6 403.2"/><path d="M109.4 276.4C109.4 340 76.3 340 76.3 403.2"/><path d="M111.2 276.4C111.2 340 78.2 340 78.2 403.2"/><path d="M119.6 276.4C119.6 340 84.9 340 84.9 403.2"/><path d="M112.6 276.4C112.6 340 102.8 340 102.8 403.2"/><path d="M114.8 276.4C114.8 340 103.6 340 103.6 403.2"/><path d="M112.2 276.4C112.2 340 104.3 340 104.3 403.2"/><path d="M340.2 276.4C340.2 340 355.6 340 355.6 403.2"/><path d="M341.0 276.4C341.0 340 355.6 340 355.6 403.2"/><path d="M220.0 276.4C220.0 340 298.8 340 298.8 403.2"/><path d="M221.1 276.4C221.1 340 298.7 340 298.7 403.2"/><path d="M221.3 276.4C221.3 340 299.6 340 299.6 403.2"/><path d="M139.4 276.4C139.4 340 141.0 340 141.0 403.2"/><path d="M137.5 276.4C137.5 340 140.9 340 140.9 403.2"/><path d="M301.4 276.4C301.4 340 296.4 340 296.4 403.2"/><path d="M302.1 276.4C302.1 340 299.4 340 299.4 403.2"/><path d="M286.4 276.4C286.4 340 268.9 340 268.9 403.2"/><path d="M283.8 276.4C283.8 340 270.3 340 270.3 403.2"/><path d="M301.2 276.4C301.2 340 274.9 340 274.9 403.2"/><path d="M300.2 276.4C300.2 340 276.8 340 276.8 403.2"/><path d="M91.1 276.4C91.1 340 135.3 340 135.3 403.2"/><path d="M90.8 276.4C90.8 340 135.4 340 135.4 403.2"/><path d="M93.5 276.4C93.5 340 135.4 340 135.4 403.2"/><path d="M273.7 276.4C273.7 340 225.6 340 225.6 403.2"/><path d="M140.3 276.4C140.3 340 154.3 340 154.3 403.2"/><path d="M105.1 276.4C105.1 340 100.6 340 100.6 403.2"/><path d="M193.6 276.4C193.6 340 247.7 340 247.7 403.2"/><path d="M97.0 276.4C97.0 340 108.2 340 108.2 403.2"/><path d="M97.1 276.4C97.1 340 107.7 340 107.7 403.2"/><path d="M96.0 276.4C96.0 340 108.6 340 108.6 403.2"/><path d="M294.8 276.4C294.8 340 299.5 340 299.5 403.2"/><path d="M294.0 276.4C294.0 340 300.9 340 300.9 403.2"/><path d="M295.6 276.4C295.6 340 301.2 340 301.2 403.2"/><path d="M108.2 276.4C108.2 340 299.1 340 299.1 403.2"/><path d="M106.3 276.4C106.3 340 299.1 340 299.1 403.2"/><path d="M312.8 276.4C312.8 340 328.8 340 328.8 403.2"/><path d="M312.8 276.4C312.8 340 328.2 340 328.2 403.2"/><path d="M312.3 276.4C312.3 340 328.1 340 328.1 403.2"/><path d="M142.5 276.4C142.5 340 201.3 340 201.3 403.2"/><path d="M140.4 276.4C140.4 340 202.2 340 202.2 403.2"/><path d="M193.9 276.4C193.9 340 155.7 340 155.7 403.2"/><path d="M192.2 276.4C192.2 340 155.7 340 155.7 403.2"/><path d="M194.0 276.4C194.0 340 155.7 340 155.7 403.2"/><path d="M84.0 276.4C84.0 340 78.3 340 78.3 403.2"/><path d="M81.5 276.4C81.5 340 76.3 340 76.3 403.2"/><path d="M330.7 276.4C330.7 340 263.3 340 263.3 403.2"/><path d="M330.6 276.4C330.6 340 263.3 340 263.3 403.2"/><path d="M329.8 276.4C329.8 340 263.3 340 263.3 403.2"/><path d="M349.9 276.4C349.9 340 259.8 340 259.8 403.2"/><path d="M349.1 276.4C349.1 340 259.9 340 259.9 403.2"/><path d="M350.2 276.4C350.2 340 261.8 340 261.8 403.2"/><path d="M346.7 276.4C346.7 340 197.2 340 197.2 403.2"/><path d="M144.5 276.4C144.5 340 200.0 340 200.0 403.2"/><path d="M142.8 276.4C142.8 340 201.9 340 201.9 403.2"/><path d="M159.6 276.4C159.6 340 155.7 340 155.7 403.2"/><path d="M158.8 276.4C158.8 340 153.6 340 153.6 403.2"/><path d="M233.8 276.4C233.8 340 210.2 340 210.2 403.2"/><path d="M235.2 276.4C235.2 340 208.7 340 208.7 403.2"/><path d="M233.4 276.4C233.4 340 208.1 340 208.1 403.2"/><path d="M226.0 276.4C226.0 340 244.1 340 244.1 403.2"/><path d="M135.4 276.4C135.4 340 128.3 340 128.3 403.2"/><path d="M122.9 276.4C122.9 340 164.8 340 164.8 403.2"/><path d="M321.5 276.4C321.5 340 342.3 340 342.3 403.2"/><path d="M321.1 276.4C321.1 340 343.6 340 343.6 403.2"/><path d="M252.0 276.4C252.0 340 247.7 340 247.7 403.2"/><path d="M250.0 276.4C250.0 340 246.0 340 246.0 403.2"/><path d="M251.5 276.4C251.5 340 247.7 340 247.7 403.2"/><path d="M274.1 276.4C274.1 340 305.0 340 305.0 403.2"/><path d="M272.0 276.4C272.0 340 304.7 340 304.7 403.2"/><path d="M211.6 276.4C211.6 340 201.9 340 201.9 403.2"/><path d="M210.4 276.4C210.4 340 202.1 340 202.1 403.2"/><path d="M242.2 276.4C242.2 340 320.1 340 320.1 403.2"/><path d="M242.5 276.4C242.5 340 321.2 340 321.2 403.2"/><path d="M123.5 276.4C123.5 340 76.3 340 76.3 403.2"/><path d="M124.0 276.4C124.0 340 76.4 340 76.4 403.2"/><path d="M232.4 276.4C232.4 340 256.7 340 256.7 403.2"/><path d="M232.8 276.4C232.8 340 255.1 340 255.1 403.2"/><path d="M89.5 276.4C89.5 340 76.3 340 76.3 403.2"/><path d="M93.2 276.4C93.2 340 76.3 340 76.3 403.2"/><path d="M89.8 276.4C89.8 340 76.0 340 76.0 403.2"/><path d="M120.5 276.4C120.5 340 134.5 340 134.5 403.2"/><path d="M130.9 276.4C130.9 340 194.3 340 194.3 403.2"/><path d="M130.9 276.4C130.9 340 196.2 340 196.2 403.2"/><path d="M130.9 276.4C130.9 340 195.6 340 195.6 403.2"/><path d="M363.4 276.4C363.4 340 277.1 340 277.1 403.2"/><path d="M271.3 276.4C271.3 340 269.5 340 269.5 403.2"/><path d="M269.6 276.4C269.6 340 268.9 340 268.9 403.2"/><path d="M270.6 276.4C270.6 340 270.0 340 270.0 403.2"/><path d="M138.8 276.4C138.8 340 154.8 340 154.8 403.2"/><path d="M334.6 276.4C334.6 340 79.4 340 79.4 403.2"/><path d="M332.7 276.4C332.7 340 80.4 340 80.4 403.2"/><path d="M274.8 276.4C274.8 340 321.0 340 321.0 403.2"/><path d="M274.9 276.4C274.9 340 322.0 340 322.0 403.2"/><path d="M348.1 276.4C348.1 340 375.4 340 375.4 403.2"/><path d="M349.8 276.4C349.8 340 376.8 340 376.8 403.2"/><path d="M333.1 276.4C333.1 340 375.6 340 375.6 403.2"/><path d="M329.9 276.4C329.9 340 376.8 340 376.8 403.2"/><path d="M333.5 276.4C333.5 340 374.8 340 374.8 403.2"/><path d="M319.6 276.4C319.6 340 322.3 340 322.3 403.2"/><path d="M236.0 276.4C236.0 340 314.3 340 314.3 403.2"/><path d="M245.0 276.4C245.0 340 253.7 340 253.7 403.2"/><path d="M244.2 276.4C244.2 340 253.7 340 253.7 403.2"/><path d="M242.1 276.4C242.1 340 253.3 340 253.3 403.2"/><path d="M283.3 276.4C283.3 340 253.3 340 253.3 403.2"/><path d="M284.6 276.4C284.6 340 254.3 340 254.3 403.2"/><path d="M217.2 276.4C217.2 340 209.0 340 209.0 403.2"/><path d="M330.5 276.4C330.5 340 331.2 340 331.2 403.2"/><path d="M331.2 276.4C331.2 340 330.9 340 330.9 403.2"/><path d="M332.2 276.4C332.2 340 333.2 340 333.2 403.2"/><path d="M305.2 276.4C305.2 340 311.3 340 311.3 403.2"/><path d="M177.9 276.4C177.9 340 171.0 340 171.0 403.2"/><path d="M176.0 276.4C176.0 340 171.0 340 171.0 403.2"/><path d="M177.5 276.4C177.5 340 169.6 340 169.6 403.2"/><path d="M327.2 276.4C327.2 340 343.6 340 343.6 403.2"/><path d="M78.5 276.4C78.5 340 341.8 340 341.8 403.2"/><path d="M77.2 276.4C77.2 340 343.3 340 343.3 403.2"/><path d="M79.4 276.4C79.4 340 341.8 340 341.8 403.2"/><path d="M341.3 276.4C341.3 340 363.8 340 363.8 403.2"/><path d="M341.2 276.4C341.2 340 363.4 340 363.4 403.2"/><path d="M248.2 276.4C248.2 340 269.5 340 269.5 403.2"/><path d="M248.8 276.4C248.8 340 271.7 340 271.7 403.2"/><path d="M248.1 276.4C248.1 340 270.7 340 270.7 403.2"/><path d="M186.1 276.4C186.1 340 217.0 340 217.0 403.2"/><path d="M183.9 276.4C183.9 340 217.5 340 217.5 403.2"/><path d="M273.0 276.4C273.0 340 214.8 340 214.8 403.2"/><path d="M271.8 276.4C271.8 340 217.1 340 217.1 403.2"/><path d="M161.5 276.4C161.5 340 217.3 340 217.3 403.2"/><path d="M162.7 276.4C162.7 340 218.5 340 218.5 403.2"/><path d="M109.9 276.4C109.9 340 76.3 340 76.3 403.2"/><path d="M112.0 276.4C112.0 340 76.3 340 76.3 403.2"/><path d="M112.2 276.4C112.2 340 76.5 340 76.5 403.2"/><path d="M170.3 276.4C170.3 340 144.8 340 144.8 403.2"/><path d="M134.8 276.4C134.8 340 85.6 340 85.6 403.2"/><path d="M135.2 276.4C135.2 340 85.0 340 85.0 403.2"/><path d="M170.8 276.4C170.8 340 186.7 340 186.7 403.2"/><path d="M171.1 276.4C171.1 340 187.9 340 187.9 403.2"/><path d="M320.7 276.4C320.7 340 343.8 340 343.8 403.2"/><path d="M322.4 276.4C322.4 340 344.4 340 344.4 403.2"/><path d="M107.5 276.4C107.5 340 150.1 340 150.1 403.2"/><path d="M305.9 276.4C305.9 340 197.4 340 197.4 403.2"/><path d="M97.4 276.4C97.4 340 111.9 340 111.9 403.2"/><path d="M264.7 276.4C264.7 340 274.9 340 274.9 403.2"/><path d="M278.5 276.4C278.5 340 241.0 340 241.0 403.2"/><path d="M165.3 276.4C165.3 340 195.4 340 195.4 403.2"/><path d="M165.4 276.4C165.4 340 195.7 340 195.7 403.2"/><path d="M95.8 276.4C95.8 340 120.4 340 120.4 403.2"/><path d="M96.7 276.4C96.7 340 120.9 340 120.9 403.2"/><path d="M224.5 276.4C224.5 340 187.9 340 187.9 403.2"/><path d="M223.8 276.4C223.8 340 186.0 340 186.0 403.2"/><path d="M225.0 276.4C225.0 340 187.1 340 187.1 403.2"/><path d="M297.1 276.4C297.1 340 311.6 340 311.6 403.2"/><path d="M296.9 276.4C296.9 340 257.4 340 257.4 403.2"/><path d="M296.8 276.4C296.8 340 258.4 340 258.4 403.2"/><path d="M277.0 276.4C277.0 340 231.9 340 231.9 403.2"/><path d="M279.9 276.4C279.9 340 229.6 340 229.6 403.2"/><path d="M366.1 276.4C366.1 340 377.0 340 377.0 403.2"/><path d="M369.6 276.4C369.6 340 375.1 340 375.1 403.2"/><path d="M369.5 276.4C369.5 340 377.1 340 377.1 403.2"/><path d="M357.8 276.4C357.8 340 360.1 340 360.1 403.2"/><path d="M139.4 276.4C139.4 340 91.8 340 91.8 403.2"/><path d="M139.3 276.4C139.3 340 92.2 340 92.2 403.2"/><path d="M352.3 276.4C352.3 340 343.5 340 343.5 403.2"/><path d="M245.3 276.4C245.3 340 227.0 340 227.0 403.2"/><path d="M243.3 276.4C243.3 340 224.9 340 224.9 403.2"/><path d="M156.6 276.4C156.6 340 120.7 340 120.7 403.2"/><path d="M198.2 276.4C198.2 340 184.7 340 184.7 403.2"/><path d="M198.2 276.4C198.2 340 184.2 340 184.2 403.2"/><path d="M125.9 276.4C125.9 340 76.5 340 76.5 403.2"/><path d="M278.6 276.4C278.6 340 312.4 340 312.4 403.2"/><path d="M275.9 276.4C275.9 340 311.4 340 311.4 403.2"/><path d="M245.5 276.4C245.5 340 213.9 340 213.9 403.2"/><path d="M158.2 276.4C158.2 340 144.0 340 144.0 403.2"/><path d="M157.0 276.4C157.0 340 144.1 340 144.1 403.2"/><path d="M208.5 276.4C208.5 340 147.9 340 147.9 403.2"/><path d="M209.4 276.4C209.4 340 145.8 340 145.8 403.2"/><path d="M350.8 276.4C350.8 340 376.8 340 376.8 403.2"/><path d="M350.8 276.4C350.8 340 376.8 340 376.8 403.2"/><path d="M353.3 276.4C353.3 340 376.8 340 376.8 403.2"/><path d="M213.6 276.4C213.6 340 161.8 340 161.8 403.2"/><path d="M176.0 276.4C176.0 340 123.0 340 123.0 403.2"/><path d="M178.8 276.4C178.8 340 123.8 340 123.8 403.2"/><path d="M173.7 276.4C173.7 340 240.1 340 240.1 403.2"/><path d="M174.8 276.4C174.8 340 242.6 340 242.6 403.2"/><path d="M107.3 276.4C107.3 340 163.3 340 163.3 403.2"/><path d="M145.2 276.4C145.2 340 211.1 340 211.1 403.2"/><path d="M144.2 276.4C144.2 340 212.5 340 212.5 403.2"/><path d="M143.8 276.4C143.8 340 210.8 340 210.8 403.2"/><path d="M304.2 276.4C304.2 340 263.3 340 263.3 403.2"/><path d="M292.7 276.4C292.7 340 312.4 340 312.4 403.2"/><path d="M111.4 276.4C111.4 340 76.5 340 76.5 403.2"/><path d="M373.8 276.4C373.8 340 320.2 340 320.2 403.2"/><path d="M373.1 276.4C373.1 340 320.2 340 320.2 403.2"/><path d="M318.0 276.4C318.0 340 347.5 340 347.5 403.2"/><path d="M316.7 276.4C316.7 340 347.7 340 347.7 403.2"/><path d="M197.5 276.4C197.5 340 276.2 340 276.2 403.2"/><path d="M198.5 276.4C198.5 340 277.1 340 277.1 403.2"/><path d="M326.7 276.4C326.7 340 375.2 340 375.2 403.2"/><path d="M286.6 276.4C286.6 340 227.4 340 227.4 403.2"/><path d="M285.2 276.4C285.2 340 227.9 340 227.9 403.2"/><path d="M316.7 276.4C316.7 340 336.6 340 336.6 403.2"/><path d="M317.9 276.4C317.9 340 336.9 340 336.9 403.2"/><path d="M315.8 276.4C315.8 340 336.6 340 336.6 403.2"/><path d="M212.8 276.4C212.8 340 200.4 340 200.4 403.2"/><path d="M211.3 276.4C211.3 340 201.9 340 201.9 403.2"/><path d="M212.8 276.4C212.8 340 200.2 340 200.2 403.2"/><path d="M358.6 276.4C358.6 340 356.8 340 356.8 403.2"/><path d="M176.1 276.4C176.1 340 155.7 340 155.7 403.2"/><path d="M174.7 276.4C174.7 340 155.7 340 155.7 403.2"/><path d="M376.8 276.4C376.8 340 376.8 340 376.8 403.2"/><path d="M376.8 276.4C376.8 340 375.4 340 375.4 403.2"/><path d="M357.7 276.4C357.7 340 375.4 340 375.4 403.2"/><path d="M357.5 276.4C357.5 340 373.5 340 373.5 403.2"/><path d="M356.1 276.4C356.1 340 375.2 340 375.2 403.2"/><path d="M165.6 276.4C165.6 340 201.9 340 201.9 403.2"/><path d="M89.5 276.4C89.5 340 92.6 340 92.6 403.2"/><path d="M90.2 276.4C90.2 340 93.1 340 93.1 403.2"/><path d="M90.7 276.4C90.7 340 93.1 340 93.1 403.2"/><path d="M157.1 276.4C157.1 340 177.2 340 177.2 403.2"/><path d="M104.2 276.4C104.2 340 133.4 340 133.4 403.2"/><path d="M101.9 276.4C101.9 340 132.4 340 132.4 403.2"/><path d="M292.2 276.4C292.2 340 318.1 340 318.1 403.2"/><path d="M293.8 276.4C293.8 340 319.0 340 319.0 403.2"/><path d="M291.9 276.4C291.9 340 320.8 340 320.8 403.2"/><path d="M169.9 276.4C169.9 340 183.6 340 183.6 403.2"/><path d="M249.9 276.4C249.9 340 164.8 340 164.8 403.2"/><path d="M250.9 276.4C250.9 340 161.8 340 161.8 403.2"/><path d="M306.9 276.4C306.9 340 336.6 340 336.6 403.2"/><path d="M303.5 276.4C303.5 340 335.3 340 335.3 403.2"/><path d="M305.6 276.4C305.6 340 335.8 340 335.8 403.2"/><path d="M330.0 276.4C330.0 340 311.7 340 311.7 403.2"/><path d="M331.4 276.4C331.4 340 315.0 340 315.0 403.2"/><path d="M330.1 276.4C330.1 340 315.1 340 315.1 403.2"/><path d="M163.9 276.4C163.9 340 227.8 340 227.8 403.2"/><path d="M280.8 276.4C280.8 340 201.9 340 201.9 403.2"/><path d="M279.2 276.4C279.2 340 201.9 340 201.9 403.2"/><path d="M373.2 276.4C373.2 340 376.8 340 376.8 403.2"/><path d="M186.3 276.4C186.3 340 232.4 340 232.4 403.2"/><path d="M356.5 276.4C356.5 340 317.3 340 317.3 403.2"/><path d="M353.1 276.4C353.1 340 316.0 340 316.0 403.2"/><path d="M355.6 276.4C355.6 340 316.0 340 316.0 403.2"/><path d="M107.4 276.4C107.4 340 88.7 340 88.7 403.2"/><path d="M110.1 276.4C110.1 340 87.5 340 87.5 403.2"/><path d="M109.3 276.4C109.3 340 87.7 340 87.7 403.2"/><path d="M287.3 276.4C287.3 340 289.7 340 289.7 403.2"/><path d="M356.2 276.4C356.2 340 287.7 340 287.7 403.2"/><path d="M356.0 276.4C356.0 340 285.6 340 285.6 403.2"/><path d="M354.7 276.4C354.7 340 289.0 340 289.0 403.2"/><path d="M219.5 276.4C219.5 340 277.1 340 277.1 403.2"/><path d="M168.6 276.4C168.6 340 193.9 340 193.9 403.2"/><path d="M168.6 276.4C168.6 340 194.3 340 194.3 403.2"/><path d="M349.7 276.4C349.7 340 376.0 340 376.0 403.2"/><path d="M187.9 276.4C187.9 340 187.9 340 187.9 403.2"/><path d="M99.7 276.4C99.7 340 76.3 340 76.3 403.2"/><path d="M98.7 276.4C98.7 340 78.0 340 78.0 403.2"/><path d="M101.5 276.4C101.5 340 76.3 340 76.3 403.2"/><path d="M147.0 276.4C147.0 340 285.6 340 285.6 403.2"/><path d="M148.5 276.4C148.5 340 283.9 340 283.9 403.2"/><path d="M147.5 276.4C147.5 340 284.8 340 284.8 403.2"/><path d="M295.9 276.4C295.9 340 341.8 340 341.8 403.2"/><path d="M295.6 276.4C295.6 340 341.8 340 341.8 403.2"/><path d="M296.1 276.4C296.1 340 341.8 340 341.8 403.2"/><path d="M361.7 276.4C361.7 340 376.8 340 376.8 403.2"/><path d="M361.8 276.4C361.8 340 376.8 340 376.8 403.2"/><path d="M361.0 276.4C361.0 340 376.3 340 376.3 403.2"/><path d="M236.1 276.4C236.1 340 154.5 340 154.5 403.2"/><path d="M324.8 276.4C324.8 340 371.8 340 371.8 403.2"/><path d="M324.0 276.4C324.0 340 372.5 340 372.5 403.2"/><path d="M324.2 276.4C324.2 340 373.3 340 373.3 403.2"/><path d="M256.6 276.4C256.6 340 215.7 340 215.7 403.2"/><path d="M303.8 276.4C303.8 340 287.4 340 287.4 403.2"/><path d="M303.9 276.4C303.9 340 288.8 340 288.8 403.2"/><path d="M301.0 276.4C301.0 340 287.1 340 287.1 403.2"/><path d="M248.9 276.4C248.9 340 303.5 340 303.5 403.2"/><path d="M251.3 276.4C251.3 340 304.7 340 304.7 403.2"/><path d="M250.6 276.4C250.6 340 301.2 340 301.2 403.2"/><path d="M350.7 276.4C350.7 340 164.1 340 164.1 403.2"/><path d="M78.4 276.4C78.4 340 76.3 340 76.3 403.2"/><path d="M76.8 276.4C76.8 340 76.3 340 76.3 403.2"/><path d="M78.1 276.4C78.1 340 77.4 340 77.4 403.2"/><path d="M213.2 276.4C213.2 340 239.5 340 239.5 403.2"/><path d="M212.9 276.4C212.9 340 241.5 340 241.5 403.2"/><path d="M204.8 276.4C204.8 340 263.3 340 263.3 403.2"/><path d="M206.5 276.4C206.5 340 261.4 340 261.4 403.2"/><path d="M205.1 276.4C205.1 340 263.3 340 263.3 403.2"/><path d="M94.8 276.4C94.8 340 135.2 340 135.2 403.2"/><path d="M331.1 276.4C331.1 340 229.5 340 229.5 403.2"/><path d="M281.2 276.4C281.2 340 211.6 340 211.6 403.2"/><path d="M186.2 276.4C186.2 340 217.4 340 217.4 403.2"/><path d="M206.5 276.4C206.5 340 179.5 340 179.5 403.2"/><path d="M208.3 276.4C208.3 340 180.3 340 180.3 403.2"/><path d="M157.0 276.4C157.0 340 155.8 340 155.8 403.2"/><path d="M159.0 276.4C159.0 340 152.4 340 152.4 403.2"/><path d="M166.0 276.4C166.0 340 332.0 340 332.0 403.2"/><path d="M168.1 276.4C168.1 340 330.6 340 330.6 403.2"/><path d="M169.5 276.4C169.5 340 331.0 340 331.0 403.2"/><path d="M220.1 276.4C220.1 340 290.0 340 290.0 403.2"/><path d="M218.4 276.4C218.4 340 290.4 340 290.4 403.2"/><path d="M264.6 276.4C264.6 340 271.1 340 271.1 403.2"/><path d="M319.9 276.4C319.9 340 316.4 340 316.4 403.2"/><path d="M316.9 276.4C316.9 340 315.7 340 315.7 403.2"/><path d="M319.5 276.4C319.5 340 314.6 340 314.6 403.2"/><path d="M164.1 276.4C164.1 340 146.2 340 146.2 403.2"/><path d="M164.1 276.4C164.1 340 148.8 340 148.8 403.2"/><path d="M162.0 276.4C162.0 340 147.7 340 147.7 403.2"/><path d="M329.8 276.4C329.8 340 376.4 340 376.4 403.2"/><path d="M328.5 276.4C328.5 340 375.7 340 375.7 403.2"/><path d="M303.3 276.4C303.3 340 328.1 340 328.1 403.2"/><path d="M302.5 276.4C302.5 340 328.1 340 328.1 403.2"/><path d="M302.0 276.4C302.0 340 328.1 340 328.1 403.2"/><path d="M334.2 276.4C334.2 340 242.8 340 242.8 403.2"/><path d="M334.7 276.4C334.7 340 240.4 340 240.4 403.2"/><path d="M335.4 276.4C335.4 340 240.1 340 240.1 403.2"/><path d="M122.4 276.4C122.4 340 170.7 340 170.7 403.2"/><path d="M219.6 276.4C219.6 340 318.2 340 318.2 403.2"/><path d="M219.5 276.4C219.5 340 318.5 340 318.5 403.2"/><path d="M222.2 276.4C222.2 340 319.3 340 319.3 403.2"/><path d="M171.8 276.4C171.8 340 132.4 340 132.4 403.2"/><path d="M170.2 276.4C170.2 340 133.3 340 133.3 403.2"/><path d="M223.0 276.4C223.0 340 274.1 340 274.1 403.2"/><path d="M221.4 276.4C221.4 340 276.9 340 276.9 403.2"/><path d="M228.2 276.4C228.2 340 230.3 340 230.3 403.2"/><path d="M114.2 276.4C114.2 340 113.4 340 113.4 403.2"/><path d="M112.0 276.4C112.0 340 112.6 340 112.6 403.2"/><path d="M98.9 276.4C98.9 340 177.0 340 177.0 403.2"/><path d="M95.6 276.4C95.6 340 178.1 340 178.1 403.2"/><path d="M267.0 276.4C267.0 340 282.8 340 282.8 403.2"/><path d="M265.2 276.4C265.2 340 282.8 340 282.8 403.2"/><path d="M266.2 276.4C266.2 340 283.9 340 283.9 403.2"/><path d="M253.8 276.4C253.8 340 244.4 340 244.4 403.2"/><path d="M112.6 276.4C112.6 340 112.0 340 112.0 403.2"/><path d="M114.2 276.4C114.2 340 112.1 340 112.1 403.2"/><path d="M114.4 276.4C114.4 340 111.6 340 111.6 403.2"/><path d="M183.6 276.4C183.6 340 218.7 340 218.7 403.2"/><path d="M81.0 276.4C81.0 340 89.9 340 89.9 403.2"/><path d="M83.8 276.4C83.8 340 92.4 340 92.4 403.2"/><path d="M185.0 276.4C185.0 340 178.3 340 178.3 403.2"/><path d="M184.8 276.4C184.8 340 179.4 340 179.4 403.2"/><path d="M292.5 276.4C292.5 340 372.6 340 372.6 403.2"/><path d="M94.3 276.4C94.3 340 135.7 340 135.7 403.2"/><path d="M95.1 276.4C95.1 340 135.4 340 135.4 403.2"/><path d="M96.3 276.4C96.3 340 135.4 340 135.4 403.2"/><path d="M102.6 276.4C102.6 340 91.6 340 91.6 403.2"/><path d="M100.7 276.4C100.7 340 88.3 340 88.3 403.2"/><path d="M101.0 276.4C101.0 340 89.6 340 89.6 403.2"/><path d="M187.9 276.4C187.9 340 207.9 340 207.9 403.2"/><path d="M277.1 276.4C277.1 340 228.2 340 228.2 403.2"/><path d="M168.5 276.4C168.5 340 141.1 340 141.1 403.2"/><path d="M166.2 276.4C166.2 340 142.6 340 142.6 403.2"/><path d="M167.4 276.4C167.4 340 141.0 340 141.0 403.2"/><path d="M340.8 276.4C340.8 340 290.3 340 290.3 403.2"/><path d="M375.9 276.4C375.9 340 373.3 340 373.3 403.2"/><path d="M376.8 276.4C376.8 340 372.7 340 372.7 403.2"/><path d="M376.0 276.4C376.0 340 375.4 340 375.4 403.2"/><path d="M176.7 276.4C176.7 340 201.3 340 201.3 403.2"/><path d="M177.5 276.4C177.5 340 201.9 340 201.9 403.2"/><path d="M186.5 276.4C186.5 340 207.9 340 207.9 403.2"/><path d="M185.1 276.4C185.1 340 209.0 340 209.0 403.2"/><path d="M230.6 276.4C230.6 340 208.8 340 208.8 403.2"/><path d="M244.1 276.4C244.1 340 208.4 340 208.4 403.2"/><path d="M246.7 276.4C246.7 340 261.7 340 261.7 403.2"/><path d="M246.0 276.4C246.0 340 263.0 340 263.0 403.2"/><path d="M246.7 276.4C246.7 340 263.3 340 263.3 403.2"/><path d="M107.6 276.4C107.6 340 334.0 340 334.0 403.2"/><path d="M110.9 276.4C110.9 340 332.7 340 332.7 403.2"/><path d="M110.3 276.4C110.3 340 332.8 340 332.8 403.2"/><path d="M276.8 276.4C276.8 340 276.1 340 276.1 403.2"/><path d="M178.5 276.4C178.5 340 166.1 340 166.1 403.2"/><path d="M335.1 276.4C335.1 340 312.4 340 312.4 403.2"/><path d="M335.1 276.4C335.1 340 314.4 340 314.4 403.2"/><path d="M333.7 276.4C333.7 340 314.4 340 314.4 403.2"/><path d="M147.9 276.4C147.9 340 217.4 340 217.4 403.2"/><path d="M148.2 276.4C148.2 340 218.5 340 218.5 403.2"/><path d="M146.7 276.4C146.7 340 218.5 340 218.5 403.2"/><path d="M292.1 276.4C292.1 340 375.7 340 375.7 403.2"/><path d="M293.8 276.4C293.8 340 376.8 340 376.8 403.2"/><path d="M212.6 276.4C212.6 340 193.8 340 193.8 403.2"/><path d="M211.7 276.4C211.7 340 193.3 340 193.3 403.2"/><path d="M184.1 276.4C184.1 340 154.1 340 154.1 403.2"/><path d="M306.0 276.4C306.0 340 311.3 340 311.3 403.2"/><path d="M305.5 276.4C305.5 340 312.8 340 312.8 403.2"/><path d="M364.9 276.4C364.9 340 120.7 340 120.7 403.2"/><path d="M214.7 276.4C214.7 340 169.4 340 169.4 403.2"/><path d="M136.3 276.4C136.3 340 121.6 340 121.6 403.2"/><path d="M135.0 276.4C135.0 340 122.6 340 122.6 403.2"/><path d="M206.2 276.4C206.2 340 232.1 340 232.1 403.2"/><path d="M138.9 276.4C138.9 340 104.1 340 104.1 403.2"/><path d="M210.2 276.4C210.2 340 198.2 340 198.2 403.2"/><path d="M208.9 276.4C208.9 340 197.5 340 197.5 403.2"/><path d="M332.0 276.4C332.0 340 334.9 340 334.9 403.2"/><path d="M276.2 276.4C276.2 340 218.7 340 218.7 403.2"/><path d="M274.9 276.4C274.9 340 217.5 340 217.5 403.2"/><path d="M276.6 276.4C276.6 340 217.2 340 217.2 403.2"/><path d="M369.6 276.4C369.6 340 375.1 340 375.1 403.2"/><path d="M369.4 276.4C369.4 340 376.4 340 376.4 403.2"/><path d="M239.2 276.4C239.2 340 282.9 340 282.9 403.2"/><path d="M110.8 276.4C110.8 340 91.0 340 91.0 403.2"/><path d="M109.4 276.4C109.4 340 90.4 340 90.4 403.2"/><path d="M110.8 276.4C110.8 340 89.0 340 89.0 403.2"/><path d="M329.4 276.4C329.4 340 376.8 340 376.8 403.2"/><path d="M332.7 276.4C332.7 340 376.8 340 376.8 403.2"/><path d="M349.5 276.4C349.5 340 375.0 340 375.0 403.2"/><path d="M348.1 276.4C348.1 340 376.8 340 376.8 403.2"/><path d="M347.2 276.4C347.2 340 376.1 340 376.1 403.2"/><path d="M238.1 276.4C238.1 340 282.5 340 282.5 403.2"/><path d="M242.8 276.4C242.8 340 224.8 340 224.8 403.2"/><path d="M243.6 276.4C243.6 340 224.8 340 224.8 403.2"/><path d="M240.3 276.4C240.3 340 225.2 340 225.2 403.2"/><path d="M291.5 276.4C291.5 340 120.2 340 120.2 403.2"/><path d="M290.7 276.4C290.7 340 121.3 340 121.3 403.2"/><path d="M289.8 276.4C289.8 340 119.9 340 119.9 403.2"/><path d="M222.4 276.4C222.4 340 213.7 340 213.7 403.2"/><path d="M280.3 276.4C280.3 340 315.9 340 315.9 403.2"/><path d="M278.4 276.4C278.4 340 316.0 340 316.0 403.2"/><path d="M278.7 276.4C278.7 340 314.4 340 314.4 403.2"/><path d="M175.9 276.4C175.9 340 144.5 340 144.5 403.2"/><path d="M143.0 276.4C143.0 340 103.9 340 103.9 403.2"/><path d="M142.4 276.4C142.4 340 103.6 340 103.6 403.2"/><path d="M141.3 276.4C141.3 340 104.5 340 104.5 403.2"/><path d="M86.5 276.4C86.5 340 216.1 340 216.1 403.2"/><path d="M87.1 276.4C87.1 340 215.5 340 215.5 403.2"/><path d="M211.9 276.4C211.9 340 171.0 340 171.0 403.2"/><path d="M214.1 276.4C214.1 340 171.1 340 171.1 403.2"/><path d="M154.6 276.4C154.6 340 209.7 340 209.7 403.2"/><path d="M224.9 276.4C224.9 340 318.2 340 318.2 403.2"/><path d="M222.5 276.4C222.5 340 319.7 340 319.7 403.2"/><path d="M336.2 276.4C336.2 340 347.4 340 347.4 403.2"/><path d="M338.4 276.4C338.4 340 347.5 340 347.5 403.2"/><path d="M338.4 276.4C338.4 340 347.5 340 347.5 403.2"/><path d="M238.1 276.4C238.1 340 135.2 340 135.2 403.2"/><path d="M78.3 276.4C78.3 340 209.7 340 209.7 403.2"/><path d="M91.6 276.4C91.6 340 78.2 340 78.2 403.2"/><path d="M93.5 276.4C93.5 340 77.1 340 77.1 403.2"/><path d="M327.6 276.4C327.6 340 150.7 340 150.7 403.2"/><path d="M326.1 276.4C326.1 340 148.2 340 148.2 403.2"/><path d="M294.6 276.4C294.6 340 256.2 340 256.2 403.2"/><path d="M295.5 276.4C295.5 340 257.4 340 257.4 403.2"/><path d="M295.9 276.4C295.9 340 256.2 340 256.2 403.2"/><path d="M100.0 276.4C100.0 340 151.1 340 151.1 403.2"/><path d="M99.5 276.4C99.5 340 151.1 340 151.1 403.2"/><path d="M344.4 276.4C344.4 340 369.9 340 369.9 403.2"/><path d="M344.6 276.4C344.6 340 369.1 340 369.1 403.2"/><path d="M115.6 276.4C115.6 340 145.9 340 145.9 403.2"/><path d="M115.5 276.4C115.5 340 146.6 340 146.6 403.2"/><path d="M116.5 276.4C116.5 340 143.9 340 143.9 403.2"/><path d="M219.9 276.4C219.9 340 201.4 340 201.4 403.2"/><path d="M219.0 276.4C219.0 340 201.7 340 201.7 403.2"/><path d="M293.8 276.4C293.8 340 316.8 340 316.8 403.2"/><path d="M295.0 276.4C295.0 340 315.0 340 315.0 403.2"/><path d="M92.0 276.4C92.0 340 76.3 340 76.3 403.2"/><path d="M90.1 276.4C90.1 340 76.3 340 76.3 403.2"/><path d="M188.7 276.4C188.7 340 165.0 340 165.0 403.2"/><path d="M188.1 276.4C188.1 340 164.5 340 164.5 403.2"/><path d="M191.1 276.4C191.1 340 162.5 340 162.5 403.2"/><path d="M173.6 276.4C173.6 340 163.0 340 163.0 403.2"/><path d="M171.4 276.4C171.4 340 161.8 340 161.8 403.2"/><path d="M171.6 276.4C171.6 340 163.6 340 163.6 403.2"/><path d="M208.6 276.4C208.6 340 107.1 340 107.1 403.2"/><path d="M209.0 276.4C209.0 340 107.6 340 107.6 403.2"/><path d="M208.0 276.4C208.0 340 109.5 340 109.5 403.2"/><path d="M144.8 276.4C144.8 340 259.6 340 259.6 403.2"/><path d="M144.8 276.4C144.8 340 259.0 340 259.0 403.2"/><path d="M145.0 276.4C145.0 340 260.2 340 260.2 403.2"/><path d="M122.8 276.4C122.8 340 133.8 340 133.8 403.2"/><path d="M203.8 276.4C203.8 340 239.7 340 239.7 403.2"/><path d="M223.8 276.4C223.8 340 211.2 340 211.2 403.2"/><path d="M222.8 276.4C222.8 340 208.5 340 208.5 403.2"/><path d="M222.4 276.4C222.4 340 211.0 340 211.0 403.2"/><path d="M336.7 276.4C336.7 340 297.6 340 297.6 403.2"/><path d="M337.6 276.4C337.6 340 299.4 340 299.4 403.2"/><path d="M107.0 276.4C107.0 340 135.5 340 135.5 403.2"/><path d="M156.7 276.4C156.7 340 129.7 340 129.7 403.2"/><path d="M155.7 276.4C155.7 340 130.2 340 130.2 403.2"/><path d="M154.4 276.4C154.4 340 128.5 340 128.5 403.2"/><path d="M290.3 276.4C290.3 340 312.9 340 312.9 403.2"/><path d="M292.6 276.4C292.6 340 311.6 340 311.6 403.2"/><path d="M291.6 276.4C291.6 340 312.0 340 312.0 403.2"/><path d="M363.7 276.4C363.7 340 184.4 340 184.4 403.2"/><path d="M363.9 276.4C363.9 340 184.2 340 184.2 403.2"/><path d="M236.4 276.4C236.4 340 268.7 340 268.7 403.2"/><path d="M236.5 276.4C236.5 340 270.2 340 270.2 403.2"/><path d="M233.9 276.4C233.9 340 268.9 340 268.9 403.2"/><path d="M273.6 276.4C273.6 340 277.1 340 277.1 403.2"/><path d="M271.6 276.4C271.6 340 277.1 340 277.1 403.2"/><path d="M282.9 276.4C282.9 340 305.0 340 305.0 403.2"/><path d="M141.4 276.4C141.4 340 166.6 340 166.6 403.2"/><path d="M141.4 276.4C141.4 340 163.6 340 163.6 403.2"/><path d="M140.3 276.4C140.3 340 166.2 340 166.2 403.2"/><path d="M328.4 276.4C328.4 340 369.1 340 369.1 403.2"/><path d="M326.5 276.4C326.5 340 369.6 340 369.6 403.2"/><path d="M327.0 276.4C327.0 340 369.1 340 369.1 403.2"/><path d="M142.3 276.4C142.3 340 187.9 340 187.9 403.2"/><path d="M143.9 276.4C143.9 340 187.9 340 187.9 403.2"/><path d="M376.7 276.4C376.7 340 377.1 340 377.1 403.2"/><path d="M375.7 276.4C375.7 340 376.8 340 376.8 403.2"/><path d="M362.1 276.4C362.1 340 364.0 340 364.0 403.2"/><path d="M360.0 276.4C360.0 340 363.8 340 363.8 403.2"/><path d="M359.6 276.4C359.6 340 363.8 340 363.8 403.2"/><path d="M247.2 276.4C247.2 340 296.3 340 296.3 403.2"/><path d="M246.8 276.4C246.8 340 296.7 340 296.7 403.2"/><path d="M168.0 276.4C168.0 340 215.7 340 215.7 403.2"/><path d="M169.0 276.4C169.0 340 217.2 340 217.2 403.2"/><path d="M166.8 276.4C166.8 340 214.1 340 214.1 403.2"/><path d="M181.9 276.4C181.9 340 76.3 340 76.3 403.2"/><path d="M180.4 276.4C180.4 340 76.3 340 76.3 403.2"/><path d="M328.7 276.4C328.7 340 332.3 340 332.3 403.2"/><path d="M331.6 276.4C331.6 340 333.9 340 333.9 403.2"/><path d="M331.2 276.4C331.2 340 333.6 340 333.6 403.2"/><path d="M84.5 276.4C84.5 340 76.3 340 76.3 403.2"/><path d="M142.3 276.4C142.3 340 151.8 340 151.8 403.2"/><path d="M140.4 276.4C140.4 340 152.2 340 152.2 403.2"/><path d="M290.3 276.4C290.3 340 259.2 340 259.2 403.2"/><path d="M288.0 276.4C288.0 340 259.5 340 259.5 403.2"/><path d="M258.2 276.4C258.2 340 163.3 340 163.3 403.2"/><path d="M257.7 276.4C257.7 340 162.5 340 162.5 403.2"/><path d="M258.7 276.4C258.7 340 161.8 340 161.8 403.2"/><path d="M259.4 276.4C259.4 340 328.1 340 328.1 403.2"/><path d="M259.2 276.4C259.2 340 329.2 340 329.2 403.2"/><path d="M258.6 276.4C258.6 340 328.1 340 328.1 403.2"/><path d="M92.9 276.4C92.9 340 99.3 340 99.3 403.2"/><path d="M91.4 276.4C91.4 340 100.5 340 100.5 403.2"/><path d="M170.9 276.4C170.9 340 147.1 340 147.1 403.2"/><path d="M170.3 276.4C170.3 340 145.5 340 145.5 403.2"/><path d="M179.3 276.4C179.3 340 153.4 340 153.4 403.2"/><path d="M180.5 276.4C180.5 340 154.8 340 154.8 403.2"/><path d="M128.0 276.4C128.0 340 226.4 340 226.4 403.2"/><path d="M129.8 276.4C129.8 340 228.9 340 228.9 403.2"/><path d="M179.4 276.4C179.4 340 132.6 340 132.6 403.2"/><path d="M169.7 276.4C169.7 340 207.9 340 207.9 403.2"/><path d="M169.2 276.4C169.2 340 207.9 340 207.9 403.2"/><path d="M267.0 276.4C267.0 340 247.5 340 247.5 403.2"/><path d="M268.8 276.4C268.8 340 247.7 340 247.7 403.2"/><path d="M127.1 276.4C127.1 340 89.0 340 89.0 403.2"/><path d="M332.0 276.4C332.0 340 343.0 340 343.0 403.2"/><path d="M332.5 276.4C332.5 340 341.8 340 341.8 403.2"/><path d="M333.6 276.4C333.6 340 343.5 340 343.5 403.2"/><path d="M334.0 276.4C334.0 340 328.1 340 328.1 403.2"/><path d="M334.2 276.4C334.2 340 329.3 340 329.3 403.2"/><path d="M82.0 276.4C82.0 340 76.3 340 76.3 403.2"/><path d="M81.5 276.4C81.5 340 76.3 340 76.3 403.2"/><path d="M226.4 276.4C226.4 340 177.5 340 177.5 403.2"/><path d="M340.2 276.4C340.2 340 276.2 340 276.2 403.2"/><path d="M174.4 276.4C174.4 340 187.9 340 187.9 403.2"/><path d="M175.7 276.4C175.7 340 187.9 340 187.9 403.2"/><path d="M173.9 276.4C173.9 340 187.9 340 187.9 403.2"/><path d="M239.0 276.4C239.0 340 197.6 340 197.6 403.2"/><path d="M178.7 276.4C178.7 340 167.5 340 167.5 403.2"/><path d="M181.5 276.4C181.5 340 169.5 340 169.5 403.2"/><path d="M367.2 276.4C367.2 340 376.6 340 376.6 403.2"/><path d="M367.5 276.4C367.5 340 376.8 340 376.8 403.2"/><path d="M367.0 276.4C367.0 340 215.3 340 215.3 403.2"/><path d="M366.6 276.4C366.6 340 215.5 340 215.5 403.2"/><path d="M225.2 276.4C225.2 340 154.9 340 154.9 403.2"/><path d="M203.8 276.4C203.8 340 226.5 340 226.5 403.2"/><path d="M266.6 276.4C266.6 340 134.8 340 134.8 403.2"/><path d="M264.8 276.4C264.8 340 135.4 340 135.4 403.2"/><path d="M332.3 276.4C332.3 340 272.1 340 272.1 403.2"/><path d="M130.4 276.4C130.4 340 92.5 340 92.5 403.2"/><path d="M132.7 276.4C132.7 340 91.6 340 91.6 403.2"/><path d="M133.6 276.4C133.6 340 93.1 340 93.1 403.2"/><path d="M276.7 276.4C276.7 340 296.4 340 296.4 403.2"/><path d="M278.0 276.4C278.0 340 296.4 340 296.4 403.2"/><path d="M195.9 276.4C195.9 340 186.0 340 186.0 403.2"/><path d="M195.7 276.4C195.7 340 187.7 340 187.7 403.2"/><path d="M92.4 276.4C92.4 340 112.0 340 112.0 403.2"/><path d="M96.0 276.4C96.0 340 113.4 340 113.4 403.2"/><path d="M188.6 276.4C188.6 340 201.9 340 201.9 403.2"/><path d="M107.8 276.4C107.8 340 83.7 340 83.7 403.2"/><path d="M113.1 276.4C113.1 340 103.1 340 103.1 403.2"/><path d="M115.5 276.4C115.5 340 100.7 340 100.7 403.2"/><path d="M139.6 276.4C139.6 340 121.1 340 121.1 403.2"/><path d="M141.4 276.4C141.4 340 119.1 340 119.1 403.2"/><path d="M141.2 276.4C141.2 340 119.9 340 119.9 403.2"/><path d="M142.8 276.4C142.8 340 167.6 340 167.6 403.2"/><path d="M141.2 276.4C141.2 340 165.9 340 165.9 403.2"/><path d="M143.9 276.4C143.9 340 167.3 340 167.3 403.2"/><path d="M221.5 276.4C221.5 340 217.7 340 217.7 403.2"/><path d="M334.0 276.4C334.0 340 348.4 340 348.4 403.2"/><path d="M332.8 276.4C332.8 340 347.7 340 347.7 403.2"/><path d="M133.0 276.4C133.0 340 100.1 340 100.1 403.2"/><path d="M134.8 276.4C134.8 340 102.7 340 102.7 403.2"/><path d="M357.9 276.4C357.9 340 225.3 340 225.3 403.2"/><path d="M171.9 276.4C171.9 340 244.3 340 244.3 403.2"/><path d="M173.4 276.4C173.4 340 241.6 340 241.6 403.2"/><path d="M114.6 276.4C114.6 340 91.6 340 91.6 403.2"/><path d="M112.3 276.4C112.3 340 92.3 340 92.3 403.2"/><path d="M183.1 276.4C183.1 340 183.2 340 183.2 403.2"/><path d="M182.8 276.4C182.8 340 184.8 340 184.8 403.2"/><path d="M94.8 276.4C94.8 340 113.4 340 113.4 403.2"/><path d="M95.1 276.4C95.1 340 111.7 340 111.7 403.2"/><path d="M94.6 276.4C94.6 340 112.8 340 112.8 403.2"/><path d="M267.6 276.4C267.6 340 254.3 340 254.3 403.2"/><path d="M268.4 276.4C268.4 340 253.9 340 253.9 403.2"/><path d="M317.5 276.4C317.5 340 349.0 340 349.0 403.2"/><path d="M319.2 276.4C319.2 340 349.2 340 349.2 403.2"/><path d="M316.4 276.4C316.4 340 350.4 340 350.4 403.2"/><path d="M273.1 276.4C273.1 340 263.2 340 263.2 403.2"/><path d="M273.9 276.4C273.9 340 263.0 340 263.0 403.2"/><path d="M271.1 276.4C271.1 340 261.4 340 261.4 403.2"/><path d="M232.3 276.4C232.3 340 244.7 340 244.7 403.2"/><path d="M358.9 276.4C358.9 340 260.4 340 260.4 403.2"/><path d="M75.9 276.4C75.9 340 78.1 340 78.1 403.2"/><path d="M76.3 276.4C76.3 340 76.3 340 76.3 403.2"/><path d="M157.6 276.4C157.6 340 110.6 340 110.6 403.2"/><path d="M160.7 276.4C160.7 340 177.2 340 177.2 403.2"/><path d="M254.9 276.4C254.9 340 247.7 340 247.7 403.2"/><path d="M360.7 276.4C360.7 340 320.4 340 320.4 403.2"/><path d="M360.8 276.4C360.8 340 322.3 340 322.3 403.2"/><path d="M360.2 276.4C360.2 340 321.1 340 321.1 403.2"/><path d="M326.5 276.4C326.5 340 270.7 340 270.7 403.2"/><path d="M326.0 276.4C326.0 340 272.4 340 272.4 403.2"/><path d="M333.1 276.4C333.1 340 336.6 340 336.6 403.2"/><path d="M332.9 276.4C332.9 340 336.6 340 336.6 403.2"/><path d="M213.7 276.4C213.7 340 320.1 340 320.1 403.2"/><path d="M301.6 276.4C301.6 340 286.5 340 286.5 403.2"/><path d="M304.7 276.4C304.7 340 285.6 340 285.6 403.2"/><path d="M220.6 276.4C220.6 340 284.5 340 284.5 403.2"/><path d="M219.1 276.4C219.1 340 283.9 340 283.9 403.2"/><path d="M117.8 276.4C117.8 340 144.9 340 144.9 403.2"/><path d="M117.0 276.4C117.0 340 145.7 340 145.7 403.2"/><path d="M115.3 276.4C115.3 340 146.5 340 146.5 403.2"/><path d="M87.4 276.4C87.4 340 76.3 340 76.3 403.2"/><path d="M90.2 276.4C90.2 340 76.3 340 76.3 403.2"/><path d="M328.8 276.4C328.8 340 375.5 340 375.5 403.2"/><path d="M329.6 276.4C329.6 340 376.9 340 376.9 403.2"/><path d="M330.3 276.4C330.3 340 375.8 340 375.8 403.2"/><path d="M216.8 276.4C216.8 340 217.0 340 217.0 403.2"/><path d="M215.9 276.4C215.9 340 218.1 340 218.1 403.2"/><path d="M218.8 276.4C218.8 340 216.2 340 216.2 403.2"/><path d="M140.8 276.4C140.8 340 131.0 340 131.0 403.2"/><path d="M142.5 276.4C142.5 340 127.3 340 127.3 403.2"/><path d="M355.6 276.4C355.6 340 376.8 340 376.8 403.2"/><path d="M357.1 276.4C357.1 340 376.8 340 376.8 403.2"/><path d="M359.1 276.4C359.1 340 376.8 340 376.8 403.2"/><path d="M136.6 276.4C136.6 340 101.8 340 101.8 403.2"/><path d="M138.6 276.4C138.6 340 98.5 340 98.5 403.2"/><path d="M343.8 276.4C343.8 340 355.6 340 355.6 403.2"/><path d="M344.2 276.4C344.2 340 355.8 340 355.8 403.2"/><path d="M343.0 276.4C343.0 340 357.5 340 357.5 403.2"/><path d="M321.4 276.4C321.4 340 311.7 340 311.7 403.2"/><path d="M251.0 276.4C251.0 340 313.6 340 313.6 403.2"/><path d="M250.6 276.4C250.6 340 314.3 340 314.3 403.2"/><path d="M250.4 276.4C250.4 340 312.9 340 312.9 403.2"/><path d="M275.3 276.4C275.3 340 232.4 340 232.4 403.2"/><path d="M272.7 276.4C272.7 340 230.9 340 230.9 403.2"/><path d="M131.8 276.4C131.8 340 168.0 340 168.0 403.2"/><path d="M130.0 276.4C130.0 340 166.8 340 166.8 403.2"/><path d="M129.7 276.4C129.7 340 166.3 340 166.3 403.2"/><path d="M166.3 276.4C166.3 340 165.7 340 165.7 403.2"/><path d="M168.6 276.4C168.6 340 162.9 340 162.9 403.2"/><path d="M214.5 276.4C214.5 340 218.5 340 218.5 403.2"/><path d="M185.8 276.4C185.8 340 218.5 340 218.5 403.2"/><path d="M168.8 276.4C168.8 340 132.0 340 132.0 403.2"/><path d="M145.3 276.4C145.3 340 134.5 340 134.5 403.2"/><path d="M145.2 276.4C145.2 340 135.4 340 135.4 403.2"/><path d="M144.3 276.4C144.3 340 133.9 340 133.9 403.2"/><path d="M249.8 276.4C249.8 340 167.3 340 167.3 403.2"/><path d="M248.1 276.4C248.1 340 169.2 340 169.2 403.2"/><path d="M247.9 276.4C247.9 340 170.8 340 170.8 403.2"/><path d="M233.4 276.4C233.4 340 213.8 340 213.8 403.2"/><path d="M234.7 276.4C234.7 340 213.2 340 213.2 403.2"/><path d="M231.7 276.4C231.7 340 212.5 340 212.5 403.2"/><path d="M84.5 276.4C84.5 340 244.7 340 244.7 403.2"/><path d="M83.3 276.4C83.3 340 244.5 340 244.5 403.2"/><path d="M212.1 276.4C212.1 340 311.4 340 311.4 403.2"/><path d="M213.1 276.4C213.1 340 311.3 340 311.3 403.2"/><path d="M143.9 276.4C143.9 340 119.1 340 119.1 403.2"/><path d="M145.8 276.4C145.8 340 120.2 340 120.2 403.2"/><path d="M145.5 276.4C145.5 340 119.5 340 119.5 403.2"/><path d="M113.4 276.4C113.4 340 93.1 340 93.1 403.2"/><path d="M112.4 276.4C112.4 340 91.7 340 91.7 403.2"/><path d="M114.1 276.4C114.1 340 92.2 340 92.2 403.2"/><path d="M137.1 276.4C137.1 340 134.4 340 134.4 403.2"/><path d="M98.5 276.4C98.5 340 132.6 340 132.6 403.2"/><path d="M99.4 276.4C99.4 340 133.1 340 133.1 403.2"/><path d="M98.7 276.4C98.7 340 135.6 340 135.6 403.2"/><path d="M277.1 276.4C277.1 340 273.8 340 273.8 403.2"/><path d="M274.8 276.4C274.8 340 275.0 340 275.0 403.2"/><path d="M174.2 276.4C174.2 340 232.4 340 232.4 403.2"/><path d="M139.2 276.4C139.2 340 119.2 340 119.2 403.2"/><path d="M217.8 276.4C217.8 340 211.1 340 211.1 403.2"/><path d="M216.6 276.4C216.6 340 210.3 340 210.3 403.2"/><path d="M217.2 276.4C217.2 340 208.8 340 208.8 403.2"/><path d="M169.8 276.4C169.8 340 99.1 340 99.1 403.2"/><path d="M348.1 276.4C348.1 340 376.8 340 376.8 403.2"/><path d="M286.4 276.4C286.4 340 357.4 340 357.4 403.2"/><path d="M365.3 276.4C365.3 340 347.4 340 347.4 403.2"/><path d="M367.6 276.4C367.6 340 344.9 340 344.9 403.2"/><path d="M95.8 276.4C95.8 340 76.3 340 76.3 403.2"/><path d="M108.7 276.4C108.7 340 83.7 340 83.7 403.2"/><path d="M109.6 276.4C109.6 340 81.9 340 81.9 403.2"/><path d="M79.8 276.4C79.8 340 102.9 340 102.9 403.2"/><path d="M133.6 276.4C133.6 340 100.4 340 100.4 403.2"/><path d="M318.5 276.4C318.5 340 296.4 340 296.4 403.2"/><path d="M316.8 276.4C316.8 340 297.8 340 297.8 403.2"/><path d="M85.5 276.4C85.5 340 127.8 340 127.8 403.2"/><path d="M84.0 276.4C84.0 340 126.6 340 126.6 403.2"/><path d="M87.6 276.4C87.6 340 128.2 340 128.2 403.2"/><path d="M345.8 276.4C345.8 340 287.2 340 287.2 403.2"/><path d="M247.0 276.4C247.0 340 215.9 340 215.9 403.2"/><path d="M148.4 276.4C148.4 340 169.8 340 169.8 403.2"/><path d="M145.6 276.4C145.6 340 169.6 340 169.6 403.2"/><path d="M145.5 276.4C145.5 340 169.9 340 169.9 403.2"/><path d="M163.7 276.4C163.7 340 166.5 340 166.5 403.2"/><path d="M164.1 276.4C164.1 340 167.0 340 167.0 403.2"/><path d="M96.1 276.4C96.1 340 130.4 340 130.4 403.2"/><path d="M170.8 276.4C170.8 340 165.7 340 165.7 403.2"/><path d="M172.3 276.4C172.3 340 120.3 340 120.3 403.2"/><path d="M172.5 276.4C172.5 340 121.5 340 121.5 403.2"/><path d="M214.8 276.4C214.8 340 229.7 340 229.7 403.2"/><path d="M214.4 276.4C214.4 340 227.7 340 227.7 403.2"/><path d="M215.8 276.4C215.8 340 227.9 340 227.9 403.2"/><path d="M76.9 276.4C76.9 340 92.0 340 92.0 403.2"/></g>
<g fill="none" stroke="#c0c0c0" stroke-opacity="0.15" stroke-width="0.6"><path d="M359.1 407.9C359.1 472 376.4 472 376.4 535.1"/><path d="M358.5 407.9C358.5 472 375.3 472 375.3 535.1"/><path d="M77.1 407.9C77.1 472 243.7 472 243.7 535.1"/><path d="M317.7 407.9C317.7 472 310.7 472 310.7 535.1"/><path d="M317.9 407.9C317.9 472 312.1 472 312.1 535.1"/><path d="M303.4 407.9C303.4 472 186.9 472 186.9 535.1"/><path d="M127.1 407.9C127.1 472 243.1 472 243.1 535.1"/><path d="M128.1 407.9C128.1 472 242.1 472 242.1 535.1"/><path d="M232.4 407.9C232.4 472 278.6 472 278.6 535.1"/><path d="M231.9 407.9C231.9 472 277.0 472 277.0 535.1"/><path d="M230.6 407.9C230.6 472 277.0 472 277.0 535.1"/><path d="M150.3 407.9C150.3 472 144.4 472 144.4 535.1"/><path d="M342.6 407.9C342.6 472 328.5 472 328.5 535.1"/><path d="M342.4 407.9C342.4 472 330.4 472 330.4 535.1"/><path d="M184.1 407.9C184.1 472 196.2 472 196.2 535.1"/><path d="M82.6 407.9C82.6 472 85.1 472 85.1 535.1"/><path d="M290.4 407.9C290.4 472 254.0 472 254.0 535.1"/><path d="M357.2 407.9C357.2 472 376.4 472 376.4 535.1"/><path d="M356.0 407.9C356.0 472 375.7 472 375.7 535.1"/><path d="M355.6 407.9C355.6 472 376.4 472 376.4 535.1"/><path d="M88.3 407.9C88.3 472 252.4 472 252.4 535.1"/><path d="M359.7 407.9C359.7 472 355.4 472 355.4 535.1"/><path d="M362.2 407.9C362.2 472 355.5 472 355.5 535.1"/><path d="M186.5 407.9C186.5 472 143.9 472 143.9 535.1"/><path d="M185.3 407.9C185.3 472 143.7 472 143.7 535.1"/><path d="M183.1 407.9C183.1 472 144.2 472 144.2 535.1"/><path d="M359.8 407.9C359.8 472 263.9 472 263.9 535.1"/><path d="M185.6 407.9C185.6 472 204.2 472 204.2 535.1"/><path d="M187.9 407.9C187.9 472 204.0 472 204.0 535.1"/><path d="M242.2 407.9C242.2 472 244.9 472 244.9 535.1"/><path d="M245.8 407.9C245.8 472 246.1 472 246.1 535.1"/><path d="M357.4 407.9C357.4 472 371.0 472 371.0 535.1"/><path d="M239.8 407.9C239.8 472 220.1 472 220.1 535.1"/><path d="M120.9 407.9C120.9 472 153.7 472 153.7 535.1"/><path d="M120.8 407.9C120.8 472 152.8 472 152.8 535.1"/><path d="M120.7 407.9C120.7 472 151.4 472 151.4 535.1"/><path d="M212.9 407.9C212.9 472 256.2 472 256.2 535.1"/><path d="M210.2 407.9C210.2 472 112.8 472 112.8 535.1"/><path d="M210.1 407.9C210.1 472 112.6 472 112.6 535.1"/><path d="M211.1 407.9C211.1 472 113.5 472 113.5 535.1"/><path d="M110.6 407.9C110.6 472 143.2 472 143.2 535.1"/><path d="M108.0 407.9C108.0 472 143.2 472 143.2 535.1"/><path d="M126.6 407.9C126.6 472 87.9 472 87.9 535.1"/><path d="M320.7 407.9C320.7 472 351.9 472 351.9 535.1"/><path d="M322.3 407.9C322.3 472 352.8 472 352.8 535.1"/><path d="M330.9 407.9C330.9 472 375.4 472 375.4 535.1"/><path d="M165.8 407.9C165.8 472 175.0 472 175.0 535.1"/><path d="M165.2 407.9C165.2 472 175.0 472 175.0 535.1"/><path d="M150.1 407.9C150.1 472 126.1 472 126.1 535.1"/><path d="M152.7 407.9C152.7 472 128.9 472 128.9 535.1"/><path d="M152.0 407.9C152.0 472 129.6 472 129.6 535.1"/><path d="M271.7 407.9C271.7 472 190.4 472 190.4 535.1"/><path d="M344.6 407.9C344.6 472 376.4 472 376.4 535.1"/><path d="M212.5 407.9C212.5 472 155.2 472 155.2 535.1"/><path d="M209.4 407.9C209.4 472 146.9 472 146.9 535.1"/><path d="M209.5 407.9C209.5 472 143.9 472 143.9 535.1"/><path d="M124.2 407.9C124.2 472 144.6 472 144.6 535.1"/><path d="M124.1 407.9C124.1 472 143.2 472 143.2 535.1"/><path d="M321.0 407.9C321.0 472 279.2 472 279.2 535.1"/><path d="M274.4 407.9C274.4 472 288.3 472 288.3 535.1"/><path d="M275.1 407.9C275.1 472 286.2 472 286.2 535.1"/><path d="M274.7 407.9C274.7 472 288.2 472 288.2 535.1"/><path d="M230.0 407.9C230.0 472 221.1 472 221.1 535.1"/><path d="M232.4 407.9C232.4 472 220.7 472 220.7 535.1"/><path d="M334.6 407.9C334.6 472 332.8 472 332.8 535.1"/><path d="M329.5 407.9C329.5 472 213.2 472 213.2 535.1"/><path d="M330.0 407.9C330.0 472 214.5 472 214.5 535.1"/><path d="M331.2 407.9C331.2 472 212.5 472 212.5 535.1"/><path d="M165.5 407.9C165.5 472 106.2 472 106.2 535.1"/><path d="M167.0 407.9C167.0 472 103.8 472 103.8 535.1"/><path d="M168.1 407.9C168.1 472 102.7 472 102.7 535.1"/><path d="M301.8 407.9C301.8 472 278.9 472 278.9 535.1"/><path d="M335.3 407.9C335.3 472 339.4 472 339.4 535.1"/><path d="M333.4 407.9C333.4 472 339.7 472 339.7 535.1"/><path d="M77.8 407.9C77.8 472 78.2 472 78.2 535.1"/><path d="M274.2 407.9C274.2 472 323.4 472 323.4 535.1"/><path d="M275.2 407.9C275.2 472 325.2 472 325.2 535.1"/><path d="M147.6 407.9C147.6 472 148.5 472 148.5 535.1"/><path d="M145.0 407.9C145.0 472 149.1 472 149.1 535.1"/><path d="M132.6 407.9C132.6 472 143.2 472 143.2 535.1"/><path d="M131.0 407.9C131.0 472 145.7 472 145.7 535.1"/><path d="M132.5 407.9C132.5 472 145.6 472 145.6 535.1"/><path d="M165.9 407.9C165.9 472 176.6 472 176.6 535.1"/><path d="M91.0 407.9C91.0 472 76.6 472 76.6 535.1"/><path d="M92.1 407.9C92.1 472 76.5 472 76.5 535.1"/><path d="M297.0 407.9C297.0 472 289.8 472 289.8 535.1"/><path d="M124.1 407.9C124.1 472 76.5 472 76.5 535.1"/><path d="M86.9 407.9C86.9 472 123.4 472 123.4 535.1"/><path d="M85.4 407.9C85.4 472 124.3 472 124.3 535.1"/><path d="M85.6 407.9C85.6 472 124.7 472 124.7 535.1"/><path d="M195.1 407.9C195.1 472 230.6 472 230.6 535.1"/><path d="M195.3 407.9C195.3 472 229.8 472 229.8 535.1"/><path d="M194.7 407.9C194.7 472 230.2 472 230.2 535.1"/><path d="M208.4 407.9C208.4 472 252.3 472 252.3 535.1"/><path d="M207.9 407.9C207.9 472 253.2 472 253.2 535.1"/><path d="M207.9 407.9C207.9 472 252.4 472 252.4 535.1"/><path d="M106.2 407.9C106.2 472 76.5 472 76.5 535.1"/><path d="M108.2 407.9C108.2 472 76.5 472 76.5 535.1"/><path d="M349.4 407.9C349.4 472 346.5 472 346.5 535.1"/><path d="M263.2 407.9C263.2 472 322.1 472 322.1 535.1"/><path d="M261.5 407.9C261.5 472 320.9 472 320.9 535.1"/><path d="M263.3 407.9C263.3 472 321.3 472 321.3 535.1"/><path d="M371.5 407.9C371.5 472 376.4 472 376.4 535.1"/><path d="M371.8 407.9C371.8 472 375.6 472 375.6 535.1"/><path d="M261.5 407.9C261.5 472 220.5 472 220.5 535.1"/><path d="M228.0 407.9C228.0 472 147.8 472 147.8 535.1"/><path d="M228.8 407.9C228.8 472 148.9 472 148.9 535.1"/><path d="M225.2 407.9C225.2 472 148.7 472 148.7 535.1"/><path d="M100.5 407.9C100.5 472 132.0 472 132.0 535.1"/><path d="M100.2 407.9C100.2 472 131.2 472 131.2 535.1"/><path d="M103.3 407.9C103.3 472 129.9 472 129.9 535.1"/><path d="M348.2 407.9C348.2 472 345.3 472 345.3 535.1"/><path d="M146.7 407.9C146.7 472 175.0 472 175.0 535.1"/><path d="M148.0 407.9C148.0 472 175.0 472 175.0 535.1"/><path d="M98.6 407.9C98.6 472 196.2 472 196.2 535.1"/><path d="M91.0 407.9C91.0 472 91.8 472 91.8 535.1"/><path d="M261.4 407.9C261.4 472 258.0 472 258.0 535.1"/><path d="M179.7 407.9C179.7 472 270.5 472 270.5 535.1"/><path d="M177.2 407.9C177.2 472 270.6 472 270.6 535.1"/><path d="M177.2 407.9C177.2 472 270.6 472 270.6 535.1"/><path d="M259.8 407.9C259.8 472 261.5 472 261.5 535.1"/><path d="M259.3 407.9C259.3 472 261.0 472 261.0 535.1"/><path d="M262.0 407.9C262.0 472 264.8 472 264.8 535.1"/><path d="M288.3 407.9C288.3 472 313.3 472 313.3 535.1"/><path d="M289.4 407.9C289.4 472 313.0 472 313.0 535.1"/><path d="M288.3 407.9C288.3 472 314.1 472 314.1 535.1"/><path d="M320.8 407.9C320.8 472 287.9 472 287.9 535.1"/><path d="M322.3 407.9C322.3 472 286.4 472 286.4 535.1"/><path d="M245.1 407.9C245.1 472 305.2 472 305.2 535.1"/><path d="M84.0 407.9C84.0 472 76.5 472 76.5 535.1"/><path d="M83.7 407.9C83.7 472 76.5 472 76.5 535.1"/><path d="M347.5 407.9C347.5 472 350.8 472 350.8 535.1"/><path d="M348.0 407.9C348.0 472 350.8 472 350.8 535.1"/><path d="M348.1 407.9C348.1 472 350.7 472 350.7 535.1"/><path d="M194.3 407.9C194.3 472 167.2 472 167.2 535.1"/><path d="M194.2 407.9C194.2 472 166.8 472 166.8 535.1"/><path d="M243.9 407.9C243.9 472 208.2 472 208.2 535.1"/><path d="M245.8 407.9C245.8 472 211.6 472 211.6 535.1"/><path d="M153.8 407.9C153.8 472 128.1 472 128.1 535.1"/><path d="M185.0 407.9C185.0 472 157.8 472 157.8 535.1"/><path d="M186.6 407.9C186.6 472 157.9 472 157.9 535.1"/><path d="M185.5 407.9C185.5 472 156.7 472 156.7 535.1"/><path d="M311.3 407.9C311.3 472 252.4 472 252.4 535.1"/><path d="M311.5 407.9C311.5 472 252.5 472 252.5 535.1"/><path d="M348.5 407.9C348.5 472 330.2 472 330.2 535.1"/><path d="M347.9 407.9C347.9 472 329.9 472 329.9 535.1"/><path d="M142.8 407.9C142.8 472 281.0 472 281.0 535.1"/><path d="M148.3 407.9C148.3 472 174.8 472 174.8 535.1"/><path d="M192.9 407.9C192.9 472 203.8 472 203.8 535.1"/><path d="M108.0 407.9C108.0 472 201.9 472 201.9 535.1"/><path d="M106.7 407.9C106.7 472 201.9 472 201.9 535.1"/><path d="M106.1 407.9C106.1 472 201.9 472 201.9 535.1"/><path d="M168.9 407.9C168.9 472 116.7 472 116.7 535.1"/><path d="M207.9 407.9C207.9 472 205.9 472 205.9 535.1"/><path d="M102.3 407.9C102.3 472 76.6 472 76.6 535.1"/><path d="M99.9 407.9C99.9 472 76.4 472 76.4 535.1"/><path d="M108.3 407.9C108.3 472 220.6 472 220.6 535.1"/><path d="M111.5 407.9C111.5 472 219.2 472 219.2 535.1"/><path d="M110.4 407.9C110.4 472 219.4 472 219.4 535.1"/><path d="M122.9 407.9C122.9 472 123.0 472 123.0 535.1"/><path d="M113.4 407.9C113.4 472 195.1 472 195.1 535.1"/><path d="M112.6 407.9C112.6 472 192.0 472 192.0 535.1"/><path d="M112.0 407.9C112.0 472 193.1 472 193.1 535.1"/><path d="M93.1 407.9C93.1 472 76.5 472 76.5 535.1"/><path d="M91.8 407.9C91.8 472 76.6 472 76.6 535.1"/><path d="M93.1 407.9C93.1 472 76.5 472 76.5 535.1"/><path d="M284.0 407.9C284.0 472 254.1 472 254.1 535.1"/><path d="M357.2 407.9C357.2 472 375.7 472 375.7 535.1"/><path d="M356.5 407.9C356.5 472 376.6 472 376.6 535.1"/><path d="M356.3 407.9C356.3 472 376.2 472 376.2 535.1"/><path d="M336.5 407.9C336.5 472 327.8 472 327.8 535.1"/><path d="M336.6 407.9C336.6 472 328.8 472 328.8 535.1"/><path d="M106.8 407.9C106.8 472 76.5 472 76.5 535.1"/><path d="M108.4 407.9C108.4 472 78.1 472 78.1 535.1"/><path d="M230.1 407.9C230.1 472 267.6 472 267.6 535.1"/><path d="M231.0 407.9C231.0 472 270.1 472 270.1 535.1"/><path d="M229.0 407.9C229.0 472 266.5 472 266.5 535.1"/><path d="M336.6 407.9C336.6 472 351.9 472 351.9 535.1"/><path d="M336.6 407.9C336.6 472 355.2 472 355.2 535.1"/><path d="M335.6 407.9C335.6 472 353.4 472 353.4 535.1"/><path d="M209.6 407.9C209.6 472 285.7 472 285.7 535.1"/><path d="M212.9 407.9C212.9 472 283.1 472 283.1 535.1"/><path d="M288.0 407.9C288.0 472 246.1 472 246.1 535.1"/><path d="M287.9 407.9C287.9 472 246.1 472 246.1 535.1"/><path d="M129.5 407.9C129.5 472 129.9 472 129.9 535.1"/><path d="M259.3 407.9C259.3 472 220.7 472 220.7 535.1"/><path d="M259.2 407.9C259.2 472 219.7 472 219.7 535.1"/><path d="M301.3 407.9C301.3 472 291.8 472 291.8 535.1"/><path d="M301.9 407.9C301.9 472 289.6 472 289.6 535.1"/><path d="M198.8 407.9C198.8 472 177.2 472 177.2 535.1"/><path d="M200.0 407.9C200.0 472 175.0 472 175.0 535.1"/><path d="M216.3 407.9C216.3 472 167.6 472 167.6 535.1"/><path d="M216.6 407.9C216.6 472 169.0 472 169.0 535.1"/><path d="M218.6 407.9C218.6 472 169.3 472 169.3 535.1"/><path d="M300.9 407.9C300.9 472 277.6 472 277.6 535.1"/><path d="M85.9 407.9C85.9 472 88.7 472 88.7 535.1"/><path d="M86.1 407.9C86.1 472 87.8 472 87.8 535.1"/><path d="M85.9 407.9C85.9 472 86.9 472 86.9 535.1"/><path d="M209.7 407.9C209.7 472 196.4 472 196.4 535.1"/><path d="M210.2 407.9C210.2 472 196.2 472 196.2 535.1"/><path d="M303.6 407.9C303.6 472 230.6 472 230.6 535.1"/><path d="M77.3 407.9C77.3 472 83.6 472 83.6 535.1"/><path d="M79.4 407.9C79.4 472 84.6 472 84.6 535.1"/><path d="M76.5 407.9C76.5 472 85.7 472 85.7 535.1"/><path d="M253.8 407.9C253.8 472 178.3 472 178.3 535.1"/><path d="M253.8 407.9C253.8 472 178.2 472 178.2 535.1"/><path d="M254.7 407.9C254.7 472 176.6 472 176.6 535.1"/><path d="M334.8 407.9C334.8 472 364.6 472 364.6 535.1"/><path d="M335.3 407.9C335.3 472 361.3 472 361.3 535.1"/><path d="M336.1 407.9C336.1 472 362.2 472 362.2 535.1"/><path d="M105.1 407.9C105.1 472 124.6 472 124.6 535.1"/><path d="M253.8 407.9C253.8 472 301.4 472 301.4 535.1"/><path d="M253.3 407.9C253.3 472 299.1 472 299.1 535.1"/><path d="M130.7 407.9C130.7 472 83.0 472 83.0 535.1"/><path d="M133.4 407.9C133.4 472 82.3 472 82.3 535.1"/><path d="M131.6 407.9C131.6 472 83.1 472 83.1 535.1"/><path d="M92.1 407.9C92.1 472 88.5 472 88.5 535.1"/><path d="M363.3 407.9C363.3 472 313.8 472 313.8 535.1"/><path d="M363.5 407.9C363.5 472 312.9 472 312.9 535.1"/><path d="M362.4 407.9C362.4 472 314.2 472 314.2 535.1"/><path d="M269.5 407.9C269.5 472 245.3 472 245.3 535.1"/><path d="M372.7 407.9C372.7 472 368.6 472 368.6 535.1"/><path d="M370.9 407.9C370.9 472 365.3 472 365.3 535.1"/><path d="M272.6 407.9C272.6 472 302.3 472 302.3 535.1"/><path d="M270.3 407.9C270.3 472 300.7 472 300.7 535.1"/><path d="M141.3 407.9C141.3 472 106.0 472 106.0 535.1"/><path d="M261.2 407.9C261.2 472 364.6 472 364.6 535.1"/><path d="M259.4 407.9C259.4 472 366.1 472 366.1 535.1"/><path d="M334.9 407.9C334.9 472 365.0 472 365.0 535.1"/><path d="M314.0 407.9C314.0 472 260.5 472 260.5 535.1"/><path d="M130.9 407.9C130.9 472 156.3 472 156.3 535.1"/><path d="M132.6 407.9C132.6 472 156.6 472 156.6 535.1"/><path d="M133.2 407.9C133.2 472 153.5 472 153.5 535.1"/><path d="M301.9 407.9C301.9 472 319.1 472 319.1 535.1"/><path d="M302.8 407.9C302.8 472 319.4 472 319.4 535.1"/><path d="M303.0 407.9C303.0 472 319.2 472 319.2 535.1"/><path d="M332.0 407.9C332.0 472 303.4 472 303.4 535.1"/><path d="M332.0 407.9C332.0 472 304.3 472 304.3 535.1"/><path d="M89.6 407.9C89.6 472 87.6 472 87.6 535.1"/><path d="M87.4 407.9C87.4 472 89.3 472 89.3 535.1"/><path d="M87.6 407.9C87.6 472 87.2 472 87.2 535.1"/><path d="M277.1 407.9C277.1 472 277.4 472 277.4 535.1"/><path d="M243.3 407.9C243.3 472 217.9 472 217.9 535.1"/><path d="M244.3 407.9C244.3 472 219.0 472 219.0 535.1"/><path d="M130.8 407.9C130.8 472 116.7 472 116.7 535.1"/><path d="M133.4 407.9C133.4 472 115.9 472 115.9 535.1"/><path d="M134.6 407.9C134.6 472 114.3 472 114.3 535.1"/><path d="M90.2 407.9C90.2 472 76.2 472 76.2 535.1"/><path d="M91.2 407.9C91.2 472 76.5 472 76.5 535.1"/><path d="M90.9 407.9C90.9 472 76.5 472 76.5 535.1"/><path d="M331.2 407.9C331.2 472 327.8 472 327.8 535.1"/><path d="M329.1 407.9C329.1 472 330.2 472 330.2 535.1"/><path d="M330.7 407.9C330.7 472 326.8 472 326.8 535.1"/><path d="M99.6 407.9C99.6 472 126.8 472 126.8 535.1"/><path d="M98.6 407.9C98.6 472 127.1 472 127.1 535.1"/><path d="M313.4 407.9C313.4 472 303.2 472 303.2 535.1"/><path d="M313.7 407.9C313.7 472 306.0 472 306.0 535.1"/><path d="M344.0 407.9C344.0 472 324.7 472 324.7 535.1"/><path d="M343.9 407.9C343.9 472 323.6 472 323.6 535.1"/><path d="M129.0 407.9C129.0 472 137.0 472 137.0 535.1"/><path d="M128.2 407.9C128.2 472 137.0 472 137.0 535.1"/><path d="M133.1 407.9C133.1 472 78.2 472 78.2 535.1"/><path d="M133.6 407.9C133.6 472 76.5 472 76.5 535.1"/><path d="M80.8 407.9C80.8 472 83.6 472 83.6 535.1"/><path d="M81.2 407.9C81.2 472 85.1 472 85.1 535.1"/><path d="M83.5 407.9C83.5 472 81.9 472 81.9 535.1"/><path d="M274.3 407.9C274.3 472 253.1 472 253.1 535.1"/><path d="M213.6 407.9C213.6 472 185.9 472 185.9 535.1"/><path d="M214.2 407.9C214.2 472 184.5 472 184.5 535.1"/><path d="M214.6 407.9C214.6 472 184.8 472 184.8 535.1"/><path d="M342.7 407.9C342.7 472 339.7 472 339.7 535.1"/><path d="M146.2 407.9C146.2 472 112.6 472 112.6 535.1"/><path d="M145.5 407.9C145.5 472 113.7 472 113.7 535.1"/><path d="M101.8 407.9C101.8 472 132.6 472 132.6 535.1"/><path d="M101.5 407.9C101.5 472 129.9 472 129.9 535.1"/><path d="M111.9 407.9C111.9 472 76.5 472 76.5 535.1"/><path d="M110.5 407.9C110.5 472 77.9 472 77.9 535.1"/><path d="M112.2 407.9C112.2 472 78.2 472 78.2 535.1"/><path d="M84.2 407.9C84.2 472 76.2 472 76.2 535.1"/><path d="M85.3 407.9C85.3 472 76.5 472 76.5 535.1"/><path d="M84.9 407.9C84.9 472 76.5 472 76.5 535.1"/><path d="M215.9 407.9C215.9 472 203.5 472 203.5 535.1"/><path d="M305.0 407.9C305.0 472 324.7 472 324.7 535.1"/><path d="M304.6 407.9C304.6 472 325.3 472 325.3 535.1"/><path d="M305.0 407.9C305.0 472 327.8 472 327.8 535.1"/><path d="M87.8 407.9C87.8 472 343.9 472 343.9 535.1"/><path d="M84.4 407.9C84.4 472 343.3 472 343.3 535.1"/><path d="M87.7 407.9C87.7 472 342.1 472 342.1 535.1"/><path d="M187.9 407.9C187.9 472 243.6 472 243.6 535.1"/><path d="M186.0 407.9C186.0 472 241.2 472 241.2 535.1"/><path d="M186.8 407.9C186.8 472 243.1 472 243.1 535.1"/><path d="M125.7 407.9C125.7 472 137.0 472 137.0 535.1"/><path d="M128.4 407.9C128.4 472 135.8 472 135.8 535.1"/><path d="M123.2 407.9C123.2 472 143.2 472 143.2 535.1"/><path d="M77.4 407.9C77.4 472 92.3 472 92.3 535.1"/><path d="M76.3 407.9C76.3 472 92.5 472 92.5 535.1"/><path d="M77.4 407.9C77.4 472 94.9 472 94.9 535.1"/><path d="M155.7 407.9C155.7 472 284.5 472 284.5 535.1"/><path d="M153.9 407.9C153.9 472 286.9 472 286.9 535.1"/><path d="M285.6 407.9C285.6 472 299.4 472 299.4 535.1"/><path d="M286.6 407.9C286.6 472 301.1 472 301.1 535.1"/><path d="M319.5 407.9C319.5 472 376.4 472 376.4 535.1"/><path d="M318.1 407.9C318.1 472 376.4 472 376.4 535.1"/><path d="M319.8 407.9C319.8 472 376.4 472 376.4 535.1"/><path d="M317.5 407.9C317.5 472 263.2 472 263.2 535.1"/><path d="M210.1 407.9C210.1 472 339.0 472 339.0 535.1"/><path d="M127.5 407.9C127.5 472 95.6 472 95.6 535.1"/><path d="M126.8 407.9C126.8 472 96.0 472 96.0 535.1"/><path d="M239.6 407.9C239.6 472 97.6 472 97.6 535.1"/><path d="M238.5 407.9C238.5 472 98.6 472 98.6 535.1"/><path d="M171.0 407.9C171.0 472 97.4 472 97.4 535.1"/><path d="M170.0 407.9C170.0 472 98.7 472 98.7 535.1"/><path d="M239.5 407.9C239.5 472 182.0 472 182.0 535.1"/><path d="M239.5 407.9C239.5 472 179.9 472 179.9 535.1"/><path d="M88.0 407.9C88.0 472 119.3 472 119.3 535.1"/><path d="M90.0 407.9C90.0 472 119.0 472 119.0 535.1"/><path d="M89.6 407.9C89.6 472 116.6 472 116.6 535.1"/><path d="M180.6 407.9C180.6 472 193.1 472 193.1 535.1"/><path d="M178.6 407.9C178.6 472 190.6 472 190.6 535.1"/><path d="M328.5 407.9C328.5 472 312.9 472 312.9 535.1"/><path d="M328.7 407.9C328.7 472 314.1 472 314.1 535.1"/><path d="M88.6 407.9C88.6 472 193.8 472 193.8 535.1"/><path d="M161.8 407.9C161.8 472 183.2 472 183.2 535.1"/><path d="M162.4 407.9C162.4 472 183.4 472 183.4 535.1"/><path d="M161.8 407.9C161.8 472 182.5 472 182.5 535.1"/><path d="M100.4 407.9C100.4 472 77.0 472 77.0 535.1"/><path d="M98.9 407.9C98.9 472 76.5 472 76.5 535.1"/><path d="M100.9 407.9C100.9 472 77.4 472 77.4 535.1"/><path d="M119.6 407.9C119.6 472 103.1 472 103.1 535.1"/><path d="M120.2 407.9C120.2 472 105.5 472 105.5 535.1"/><path d="M246.2 407.9C246.2 472 285.5 472 285.5 535.1"/><path d="M245.8 407.9C245.8 472 288.0 472 288.0 535.1"/><path d="M247.7 407.9C247.7 472 286.6 472 286.6 535.1"/><path d="M369.1 407.9C369.1 472 371.5 472 371.5 535.1"/><path d="M370.0 407.9C370.0 472 369.8 472 369.8 535.1"/><path d="M129.6 407.9C129.6 472 146.3 472 146.3 535.1"/><path d="M228.1 407.9C228.1 472 286.3 472 286.3 535.1"/><path d="M226.9 407.9C226.9 472 284.8 472 284.8 535.1"/><path d="M146.9 407.9C146.9 472 203.4 472 203.4 535.1"/><path d="M147.5 407.9C147.5 472 203.0 472 203.0 535.1"/><path d="M148.3 407.9C148.3 472 202.3 472 202.3 535.1"/><path d="M255.1 407.9C255.1 472 268.2 472 268.2 535.1"/><path d="M254.5 407.9C254.5 472 269.1 472 269.1 535.1"/><path d="M256.0 407.9C256.0 472 268.1 472 268.1 535.1"/><path d="M127.8 407.9C127.8 472 76.3 472 76.3 535.1"/><path d="M336.3 407.9C336.3 472 289.5 472 289.5 535.1"/><path d="M131.3 407.9C131.3 472 125.1 472 125.1 535.1"/><path d="M129.6 407.9C129.6 472 128.1 472 128.1 535.1"/><path d="M131.2 407.9C131.2 472 126.4 472 126.4 535.1"/><path d="M144.7 407.9C144.7 472 94.7 472 94.7 535.1"/><path d="M144.2 407.9C144.2 472 96.4 472 96.4 535.1"/><path d="M161.8 407.9C161.8 472 127.5 472 127.5 535.1"/><path d="M130.2 407.9C130.2 472 105.1 472 105.1 535.1"/><path d="M256.7 407.9C256.7 472 261.7 472 261.7 535.1"/><path d="M257.2 407.9C257.2 472 260.2 472 260.2 535.1"/><path d="M255.8 407.9C255.8 472 259.2 472 259.2 535.1"/><path d="M142.7 407.9C142.7 472 182.2 472 182.2 535.1"/><path d="M145.7 407.9C145.7 472 181.2 472 181.2 535.1"/><path d="M155.2 407.9C155.2 472 144.1 472 144.1 535.1"/><path d="M155.1 407.9C155.1 472 143.6 472 143.6 535.1"/><path d="M143.8 407.9C143.8 472 201.9 472 201.9 535.1"/><path d="M271.4 407.9C271.4 472 263.6 472 263.6 535.1"/><path d="M275.1 407.9C275.1 472 263.3 472 263.3 535.1"/><path d="M357.7 407.9C357.7 472 325.7 472 325.7 535.1"/><path d="M359.7 407.9C359.7 472 328.6 472 328.6 535.1"/><path d="M360.3 407.9C360.3 472 328.1 472 328.1 535.1"/><path d="M318.9 407.9C318.9 472 245.1 472 245.1 535.1"/><path d="M320.8 407.9C320.8 472 246.1 472 246.1 535.1"/><path d="M320.9 407.9C320.9 472 245.9 472 245.9 535.1"/><path d="M178.6 407.9C178.6 472 188.3 472 188.3 535.1"/><path d="M127.1 407.9C127.1 472 113.3 472 113.3 535.1"/><path d="M127.4 407.9C127.4 472 113.7 472 113.7 535.1"/><path d="M153.4 407.9C153.4 472 221.1 472 221.1 535.1"/><path d="M155.7 407.9C155.7 472 221.1 472 221.1 535.1"/><path d="M183.3 407.9C183.3 472 355.4 472 355.4 535.1"/><path d="M182.0 407.9C182.0 472 354.9 472 354.9 535.1"/><path d="M106.1 407.9C106.1 472 82.0 472 82.0 535.1"/><path d="M106.8 407.9C106.8 472 80.2 472 80.2 535.1"/><path d="M213.5 407.9C213.5 472 187.4 472 187.4 535.1"/><path d="M212.7 407.9C212.7 472 191.1 472 191.1 535.1"/><path d="M214.8 407.9C214.8 472 188.8 472 188.8 535.1"/><path d="M104.6 407.9C104.6 472 162.7 472 162.7 535.1"/><path d="M103.8 407.9C103.8 472 164.3 472 164.3 535.1"/><path d="M131.0 407.9C131.0 472 145.9 472 145.9 535.1"/><path d="M130.8 407.9C130.8 472 144.6 472 144.6 535.1"/><path d="M134.1 407.9C134.1 472 144.2 472 144.2 535.1"/><path d="M285.7 407.9C285.7 472 347.2 472 347.2 535.1"/><path d="M283.9 407.9C283.9 472 347.4 472 347.4 535.1"/><path d="M361.9 407.9C361.9 472 339.0 472 339.0 535.1"/><path d="M363.8 407.9C363.8 472 339.0 472 339.0 535.1"/><path d="M363.9 407.9C363.9 472 339.0 472 339.0 535.1"/><path d="M210.5 407.9C210.5 472 169.3 472 169.3 535.1"/><path d="M209.6 407.9C209.6 472 168.1 472 168.1 535.1"/><path d="M187.9 407.9C187.9 472 142.9 472 142.9 535.1"/><path d="M185.6 407.9C185.6 472 143.2 472 143.2 535.1"/><path d="M123.0 407.9C123.0 472 89.6 472 89.6 535.1"/><path d="M361.9 407.9C361.9 472 299.4 472 299.4 535.1"/><path d="M361.9 407.9C361.9 472 299.4 472 299.4 535.1"/><path d="M362.5 407.9C362.5 472 300.8 472 300.8 535.1"/><path d="M214.5 407.9C214.5 472 349.1 472 349.1 535.1"/><path d="M215.1 407.9C215.1 472 350.1 472 350.1 535.1"/><path d="M215.9 407.9C215.9 472 348.0 472 348.0 535.1"/><path d="M318.9 407.9C318.9 472 286.4 472 286.4 535.1"/><path d="M317.5 407.9C317.5 472 288.4 472 288.4 535.1"/><path d="M305.0 407.9C305.0 472 355.4 472 355.4 535.1"/><path d="M120.4 407.9C120.4 472 182.3 472 182.3 535.1"/><path d="M179.5 407.9C179.5 472 214.3 472 214.3 535.1"/><path d="M177.3 407.9C177.3 472 216.1 472 216.1 535.1"/><path d="M168.1 407.9C168.1 472 125.3 472 125.3 535.1"/><path d="M260.6 407.9C260.6 472 267.1 472 267.1 535.1"/><path d="M259.5 407.9C259.5 472 265.9 472 265.9 535.1"/><path d="M262.8 407.9C262.8 472 268.4 472 268.4 535.1"/><path d="M126.1 407.9C126.1 472 80.0 472 80.0 535.1"/><path d="M125.3 407.9C125.3 472 77.8 472 77.8 535.1"/><path d="M128.4 407.9C128.4 472 77.5 472 77.5 535.1"/><path d="M255.4 407.9C255.4 472 265.1 472 265.1 535.1"/><path d="M147.8 407.9C147.8 472 169.3 472 169.3 535.1"/><path d="M360.4 407.9C360.4 472 375.3 472 375.3 535.1"/><path d="M359.2 407.9C359.2 472 374.8 472 374.8 535.1"/><path d="M361.6 407.9C361.6 472 376.6 472 376.6 535.1"/><path d="M168.5 407.9C168.5 472 178.3 472 178.3 535.1"/><path d="M168.5 407.9C168.5 472 179.2 472 179.2 535.1"/><path d="M148.7 407.9C148.7 472 201.9 472 201.9 535.1"/><path d="M149.9 407.9C149.9 472 201.9 472 201.9 535.1"/><path d="M344.7 407.9C344.7 472 376.4 472 376.4 535.1"/><path d="M344.5 407.9C344.5 472 374.5 472 374.5 535.1"/><path d="M87.2 407.9C87.2 472 76.5 472 76.5 535.1"/><path d="M86.2 407.9C86.2 472 77.1 472 77.1 535.1"/><path d="M198.4 407.9C198.4 472 242.7 472 242.7 535.1"/><path d="M199.2 407.9C199.2 472 243.4 472 243.4 535.1"/><path d="M198.8 407.9C198.8 472 243.4 472 243.4 535.1"/><path d="M224.8 407.9C224.8 472 183.1 472 183.1 535.1"/><path d="M195.5 407.9C195.5 472 187.9 472 187.9 535.1"/><path d="M318.6 407.9C318.6 472 349.7 472 349.7 535.1"/><path d="M90.0 407.9C90.0 472 76.5 472 76.5 535.1"/><path d="M89.9 407.9C89.9 472 76.5 472 76.5 535.1"/><path d="M126.0 407.9C126.0 472 232.6 472 232.6 535.1"/><path d="M123.9 407.9C123.9 472 233.8 472 233.8 535.1"/><path d="M164.3 407.9C164.3 472 133.8 472 133.8 535.1"/><path d="M288.4 407.9C288.4 472 370.1 472 370.1 535.1"/><path d="M286.7 407.9C286.7 472 369.8 472 369.8 535.1"/><path d="M180.8 407.9C180.8 472 143.3 472 143.3 535.1"/><path d="M133.7 407.9C133.7 472 154.3 472 154.3 535.1"/><path d="M228.2 407.9C228.2 472 84.6 472 84.6 535.1"/><path d="M355.6 407.9C355.6 472 374.7 472 374.7 535.1"/><path d="M107.9 407.9C107.9 472 114.0 472 114.0 535.1"/><path d="M106.0 407.9C106.0 472 113.6 472 113.6 535.1"/><path d="M105.9 407.9C105.9 472 113.1 472 113.1 535.1"/><path d="M335.3 407.9C335.3 472 362.8 472 362.8 535.1"/><path d="M336.6 407.9C336.6 472 363.3 472 363.3 535.1"/><path d="M336.9 407.9C336.9 472 362.0 472 362.0 535.1"/><path d="M80.6 407.9C80.6 472 78.5 472 78.5 535.1"/><path d="M375.8 407.9C375.8 472 376.4 472 376.4 535.1"/><path d="M376.8 407.9C376.8 472 375.5 472 375.5 535.1"/><path d="M194.4 407.9C194.4 472 144.0 472 144.0 535.1"/><path d="M194.7 407.9C194.7 472 143.2 472 143.2 535.1"/><path d="M133.2 407.9C133.2 472 188.5 472 188.5 535.1"/><path d="M284.8 407.9C284.8 472 342.8 472 342.8 535.1"/><path d="M285.6 407.9C285.6 472 341.4 472 341.4 535.1"/><path d="M110.1 407.9C110.1 472 133.4 472 133.4 535.1"/><path d="M360.0 407.9C360.0 472 308.6 472 308.6 535.1"/><path d="M305.0 407.9C305.0 472 227.4 472 227.4 535.1"/><path d="M303.7 407.9C303.7 472 228.3 472 228.3 535.1"/><path d="M299.1 407.9C299.1 472 375.5 472 375.5 535.1"/><path d="M256.9 407.9C256.9 472 246.1 472 246.1 535.1"/><path d="M133.1 407.9C133.1 472 127.0 472 127.0 535.1"/><path d="M227.6 407.9C227.6 472 227.7 472 227.7 535.1"/><path d="M229.5 407.9C229.5 472 229.9 472 229.9 535.1"/><path d="M142.6 407.9C142.6 472 76.5 472 76.5 535.1"/><path d="M142.7 407.9C142.7 472 77.9 472 77.9 535.1"/><path d="M187.9 407.9C187.9 472 196.0 472 196.0 535.1"/><path d="M186.5 407.9C186.5 472 196.2 472 196.2 535.1"/><path d="M187.6 407.9C187.6 472 196.2 472 196.2 535.1"/><path d="M155.9 407.9C155.9 472 196.5 472 196.5 535.1"/><path d="M155.7 407.9C155.7 472 194.5 472 194.5 535.1"/><path d="M154.4 407.9C154.4 472 196.2 472 196.2 535.1"/><path d="M313.8 407.9C313.8 472 349.3 472 349.3 535.1"/><path d="M314.7 407.9C314.7 472 348.0 472 348.0 535.1"/><path d="M134.3 407.9C134.3 472 154.0 472 154.0 535.1"/><path d="M121.2 407.9C121.2 472 148.1 472 148.1 535.1"/><path d="M361.1 407.9C361.1 472 301.4 472 301.4 535.1"/><path d="M171.1 407.9C171.1 472 130.8 472 130.8 535.1"/><path d="M169.8 407.9C169.8 472 134.0 472 134.0 535.1"/><path d="M171.0 407.9C171.0 472 131.1 472 131.1 535.1"/><path d="M168.3 407.9C168.3 472 76.5 472 76.5 535.1"/><path d="M125.4 407.9C125.4 472 155.1 472 155.1 535.1"/><path d="M125.5 407.9C125.5 472 158.2 472 158.2 535.1"/><path d="M122.3 407.9C122.3 472 155.9 472 155.9 535.1"/><path d="M302.4 407.9C302.4 472 304.8 472 304.8 535.1"/><path d="M305.0 407.9C305.0 472 306.9 472 306.9 535.1"/><path d="M303.0 407.9C303.0 472 306.0 472 306.0 535.1"/><path d="M201.6 407.9C201.6 472 168.1 472 168.1 535.1"/><path d="M200.5 407.9C200.5 472 166.1 472 166.1 535.1"/><path d="M201.6 407.9C201.6 472 166.1 472 166.1 535.1"/><path d="M193.5 407.9C193.5 472 210.2 472 210.2 535.1"/><path d="M193.4 407.9C193.4 472 211.4 472 211.4 535.1"/><path d="M194.3 407.9C194.3 472 210.5 472 210.5 535.1"/><path d="M363.3 407.9C363.3 472 375.1 472 375.1 535.1"/><path d="M362.1 407.9C362.1 472 376.0 472 376.0 535.1"/><path d="M363.8 407.9C363.8 472 374.7 472 374.7 535.1"/><path d="M192.7 407.9C192.7 472 130.7 472 130.7 535.1"/><path d="M77.5 407.9C77.5 472 76.5 472 76.5 535.1"/><path d="M169.9 407.9C169.9 472 203.1 472 203.1 535.1"/><path d="M169.5 407.9C169.5 472 203.8 472 203.8 535.1"/><path d="M170.1 407.9C170.1 472 204.7 472 204.7 535.1"/><path d="M167.9 407.9C167.9 472 188.3 472 188.3 535.1"/><path d="M166.7 407.9C166.7 472 187.6 472 187.6 535.1"/><path d="M164.4 407.9C164.4 472 186.8 472 186.8 535.1"/><path d="M169.9 407.9C169.9 472 184.2 472 184.2 535.1"/><path d="M370.7 407.9C370.7 472 305.3 472 305.3 535.1"/><path d="M371.5 407.9C371.5 472 307.5 472 307.5 535.1"/><path d="M193.5 407.9C193.5 472 183.3 472 183.3 535.1"/><path d="M195.6 407.9C195.6 472 194.6 472 194.6 535.1"/><path d="M195.8 407.9C195.8 472 196.2 472 196.2 535.1"/><path d="M195.2 407.9C195.2 472 195.6 472 195.6 535.1"/><path d="M119.1 407.9C119.1 472 137.0 472 137.0 535.1"/><path d="M120.2 407.9C120.2 472 137.0 472 137.0 535.1"/><path d="M100.3 407.9C100.3 472 77.8 472 77.8 535.1"/><path d="M362.5 407.9C362.5 472 289.6 472 289.6 535.1"/><path d="M362.8 407.9C362.8 472 291.3 472 291.3 535.1"/><path d="M363.8 407.9C363.8 472 292.5 472 292.5 535.1"/><path d="M130.3 407.9C130.3 472 194.0 472 194.0 535.1"/><path d="M212.4 407.9C212.4 472 214.8 472 214.8 535.1"/><path d="M214.5 407.9C214.5 472 214.5 472 214.5 535.1"/><path d="M218.5 407.9C218.5 472 189.5 472 189.5 535.1"/><path d="M218.5 407.9C218.5 472 188.5 472 188.5 535.1"/><path d="M218.5 407.9C218.5 472 189.9 472 189.9 535.1"/><path d="M231.4 407.9C231.4 472 270.6 472 270.6 535.1"/><path d="M230.0 407.9C230.0 472 270.6 472 270.6 535.1"/><path d="M229.5 407.9C229.5 472 269.5 472 269.5 535.1"/><path d="M283.1 407.9C283.1 472 246.1 472 246.1 535.1"/><path d="M283.1 407.9C283.1 472 246.1 472 246.1 535.1"/><path d="M228.2 407.9C228.2 472 226.8 472 226.8 535.1"/><path d="M228.2 407.9C228.2 472 226.8 472 226.8 535.1"/><path d="M358.1 407.9C358.1 472 341.0 472 341.0 535.1"/><path d="M358.6 407.9C358.6 472 340.8 472 340.8 535.1"/><path d="M141.0 407.9C141.0 472 113.6 472 113.6 535.1"/><path d="M184.8 407.9C184.8 472 183.1 472 183.1 535.1"/><path d="M183.4 407.9C183.4 472 185.4 472 185.4 535.1"/><path d="M183.2 407.9C183.2 472 207.3 472 207.3 535.1"/><path d="M183.5 407.9C183.5 472 208.7 472 208.7 535.1"/><path d="M164.6 407.9C164.6 472 211.9 472 211.9 535.1"/><path d="M163.9 407.9C163.9 472 212.8 472 212.8 535.1"/><path d="M272.7 407.9C272.7 472 259.0 472 259.0 535.1"/><path d="M272.5 407.9C272.5 472 256.2 472 256.2 535.1"/><path d="M272.6 407.9C272.6 472 259.0 472 259.0 535.1"/><path d="M355.6 407.9C355.6 472 331.2 472 331.2 535.1"/><path d="M355.6 407.9C355.6 472 332.6 472 332.6 535.1"/><path d="M355.6 407.9C355.6 472 332.8 472 332.8 535.1"/><path d="M197.1 407.9C197.1 472 156.3 472 156.3 535.1"/><path d="M195.4 407.9C195.4 472 156.4 472 156.4 535.1"/><path d="M180.6 407.9C180.6 472 181.9 472 181.9 535.1"/><path d="M182.5 407.9C182.5 472 182.1 472 182.1 535.1"/><path d="M359.4 407.9C359.4 472 350.4 472 350.4 535.1"/><path d="M358.9 407.9C358.9 472 349.0 472 349.0 535.1"/><path d="M350.0 407.9C350.0 472 323.1 472 323.1 535.1"/><path d="M349.7 407.9C349.7 472 324.4 472 324.4 535.1"/><path d="M246.2 407.9C246.2 472 213.6 472 213.6 535.1"/><path d="M244.9 407.9C244.9 472 213.2 472 213.2 535.1"/><path d="M225.2 407.9C225.2 472 331.9 472 331.9 535.1"/><path d="M224.8 407.9C224.8 472 332.8 472 332.8 535.1"/><path d="M224.8 407.9C224.8 472 331.5 472 331.5 535.1"/><path d="M228.9 407.9C228.9 472 143.3 472 143.3 535.1"/><path d="M241.4 407.9C241.4 472 215.9 472 215.9 535.1"/><path d="M242.9 407.9C242.9 472 215.7 472 215.7 535.1"/><path d="M283.3 407.9C283.3 472 221.4 472 221.4 535.1"/><path d="M122.2 407.9C122.2 472 76.5 472 76.5 535.1"/><path d="M122.0 407.9C122.0 472 78.0 472 78.0 535.1"/><path d="M242.0 407.9C242.0 472 220.2 472 220.2 535.1"/><path d="M242.9 407.9C242.9 472 219.7 472 219.7 535.1"/><path d="M370.2 407.9C370.2 472 330.9 472 330.9 535.1"/><path d="M301.1 407.9C301.1 472 299.4 472 299.4 535.1"/><path d="M301.3 407.9C301.3 472 299.4 472 299.4 535.1"/><path d="M299.8 407.9C299.8 472 299.4 472 299.4 535.1"/><path d="M199.4 407.9C199.4 472 196.2 472 196.2 535.1"/><path d="M147.0 407.9C147.0 472 163.8 472 163.8 535.1"/><path d="M145.6 407.9C145.6 472 161.3 472 161.3 535.1"/><path d="M141.0 407.9C141.0 472 169.3 472 169.3 535.1"/><path d="M142.7 407.9C142.7 472 168.1 472 168.1 535.1"/><path d="M333.4 407.9C333.4 472 346.1 472 346.1 535.1"/><path d="M315.2 407.9C315.2 472 307.3 472 307.3 535.1"/><path d="M314.7 407.9C314.7 472 308.0 472 308.0 535.1"/><path d="M103.8 407.9C103.8 472 102.9 472 102.9 535.1"/><path d="M104.3 407.9C104.3 472 103.2 472 103.2 535.1"/><path d="M109.5 407.9C109.5 472 76.5 472 76.5 535.1"/><path d="M106.4 407.9C106.4 472 76.2 472 76.2 535.1"/><path d="M256.4 407.9C256.4 472 242.1 472 242.1 535.1"/><path d="M258.3 407.9C258.3 472 241.7 472 241.7 535.1"/><path d="M357.3 407.9C357.3 472 361.2 472 361.2 535.1"/><path d="M358.5 407.9C358.5 472 364.5 472 364.5 535.1"/><path d="M187.9 407.9C187.9 472 126.1 472 126.1 535.1"/><path d="M187.9 407.9C187.9 472 126.2 472 126.2 535.1"/><path d="M187.9 407.9C187.9 472 125.7 472 125.7 535.1"/><path d="M103.2 407.9C103.2 472 76.2 472 76.2 535.1"/><path d="M100.7 407.9C100.7 472 77.9 472 77.9 535.1"/><path d="M153.9 407.9C153.9 472 107.0 472 107.0 535.1"/><path d="M125.6 407.9C125.6 472 106.9 472 106.9 535.1"/><path d="M124.9 407.9C124.9 472 106.9 472 106.9 535.1"/><path d="M123.2 407.9C123.2 472 78.2 472 78.2 535.1"/><path d="M226.6 407.9C226.6 472 184.6 472 184.6 535.1"/><path d="M124.1 407.9C124.1 472 99.3 472 99.3 535.1"/><path d="M120.6 407.9C120.6 472 98.5 472 98.5 535.1"/><path d="M121.1 407.9C121.1 472 97.1 472 97.1 535.1"/><path d="M165.0 407.9C165.0 472 156.1 472 156.1 535.1"/><path d="M372.7 407.9C372.7 472 306.8 472 306.8 535.1"/><path d="M373.1 407.9C373.1 472 309.8 472 309.8 535.1"/><path d="M373.8 407.9C373.8 472 308.8 472 308.8 535.1"/><path d="M86.5 407.9C86.5 472 166.1 472 166.1 535.1"/><path d="M87.4 407.9C87.4 472 166.0 472 166.0 535.1"/><path d="M298.7 407.9C298.7 472 373.4 472 373.4 535.1"/><path d="M77.1 407.9C77.1 472 76.5 472 76.5 535.1"/><path d="M79.8 407.9C79.8 472 76.5 472 76.5 535.1"/><path d="M247.7 407.9C247.7 472 175.0 472 175.0 535.1"/><path d="M245.4 407.9C245.4 472 176.8 472 176.8 535.1"/><path d="M356.6 407.9C356.6 472 84.7 472 84.7 535.1"/><path d="M357.0 407.9C357.0 472 84.3 472 84.3 535.1"/><path d="M104.6 407.9C104.6 472 76.7 472 76.7 535.1"/><path d="M229.7 407.9C229.7 472 195.2 472 195.2 535.1"/><path d="M231.1 407.9C231.1 472 196.2 472 196.2 535.1"/><path d="M231.3 407.9C231.3 472 196.2 472 196.2 535.1"/><path d="M78.4 407.9C78.4 472 136.8 472 136.8 535.1"/><path d="M126.4 407.9C126.4 472 143.3 472 143.3 535.1"/><path d="M330.1 407.9C330.1 472 144.8 472 144.8 535.1"/><path d="M329.2 407.9C329.2 472 143.2 472 143.2 535.1"/><path d="M304.7 407.9C304.7 472 323.1 472 323.1 535.1"/><path d="M303.0 407.9C303.0 472 323.2 472 323.2 535.1"/><path d="M357.9 407.9C357.9 472 375.9 472 375.9 535.1"/><path d="M358.4 407.9C358.4 472 376.4 472 376.4 535.1"/><path d="M258.4 407.9C258.4 472 219.6 472 219.6 535.1"/><path d="M259.5 407.9C259.5 472 219.7 472 219.7 535.1"/><path d="M258.0 407.9C258.0 472 220.5 472 220.5 535.1"/><path d="M374.0 407.9C374.0 472 376.4 472 376.4 535.1"/><path d="M375.2 407.9C375.2 472 376.6 472 376.6 535.1"/><path d="M346.1 407.9C346.1 472 374.8 472 374.8 535.1"/><path d="M334.4 407.9C334.4 472 312.7 472 312.7 535.1"/><path d="M335.5 407.9C335.5 472 314.1 472 314.1 535.1"/><path d="M131.3 407.9C131.3 472 160.6 472 160.6 535.1"/><path d="M130.5 407.9C130.5 472 160.3 472 160.3 535.1"/><path d="M131.5 407.9C131.5 472 160.2 472 160.2 535.1"/><path d="M165.4 407.9C165.4 472 143.7 472 143.7 535.1"/><path d="M135.1 407.9C135.1 472 300.6 472 300.6 535.1"/><path d="M135.4 407.9C135.4 472 302.2 472 302.2 535.1"/><path d="M242.2 407.9C242.2 472 253.0 472 253.0 535.1"/><path d="M244.5 407.9C244.5 472 252.4 472 252.4 535.1"/><path d="M243.9 407.9C243.9 472 252.4 472 252.4 535.1"/><path d="M194.6 407.9C194.6 472 169.5 472 169.5 535.1"/><path d="M195.2 407.9C195.2 472 167.9 472 167.9 535.1"/><path d="M195.6 407.9C195.6 472 166.7 472 166.7 535.1"/><path d="M181.6 407.9C181.6 472 162.2 472 162.2 535.1"/><path d="M181.2 407.9C181.2 472 160.2 472 160.2 535.1"/><path d="M181.6 407.9C181.6 472 161.0 472 161.0 535.1"/><path d="M187.9 407.9C187.9 472 244.5 472 244.5 535.1"/><path d="M253.5 407.9C253.5 472 221.2 472 221.2 535.1"/><path d="M253.4 407.9C253.4 472 220.0 472 220.0 535.1"/><path d="M254.5 407.9C254.5 472 219.3 472 219.3 535.1"/><path d="M111.2 407.9C111.2 472 145.8 472 145.8 535.1"/><path d="M109.4 407.9C109.4 472 145.7 472 145.7 535.1"/><path d="M313.8 407.9C313.8 472 302.6 472 302.6 535.1"/><path d="M314.4 407.9C314.4 472 303.9 472 303.9 535.1"/><path d="M212.1 407.9C212.1 472 157.5 472 157.5 535.1"/><path d="M213.5 407.9C213.5 472 154.9 472 154.9 535.1"/><path d="M376.7 407.9C376.7 472 187.2 472 187.2 535.1"/><path d="M375.3 407.9C375.3 472 187.6 472 187.6 535.1"/><path d="M376.8 407.9C376.8 472 186.1 472 186.1 535.1"/><path d="M165.0 407.9C165.0 472 104.5 472 104.5 535.1"/><path d="M192.9 407.9C192.9 472 183.3 472 183.3 535.1"/><path d="M253.6 407.9C253.6 472 213.3 472 213.3 535.1"/><path d="M254.0 407.9C254.0 472 212.4 472 212.4 535.1"/><path d="M253.3 407.9C253.3 472 210.9 472 210.9 535.1"/><path d="M126.7 407.9C126.7 472 227.2 472 227.2 535.1"/><path d="M124.0 407.9C124.0 472 228.6 472 228.6 535.1"/><path d="M124.4 407.9C124.4 472 227.3 472 227.3 535.1"/><path d="M101.0 407.9C101.0 472 92.1 472 92.1 535.1"/><path d="M349.7 407.9C349.7 472 254.1 472 254.1 535.1"/><path d="M348.2 407.9C348.2 472 252.4 472 252.4 535.1"/><path d="M212.7 407.9C212.7 472 204.2 472 204.2 535.1"/><path d="M211.2 407.9C211.2 472 204.1 472 204.1 535.1"/><path d="M211.5 407.9C211.5 472 204.1 472 204.1 535.1"/><path d="M169.5 407.9C169.5 472 175.0 472 175.0 535.1"/><path d="M169.7 407.9C169.7 472 175.8 472 175.8 535.1"/><path d="M133.1 407.9C133.1 472 193.1 472 193.1 535.1"/><path d="M132.3 407.9C132.3 472 191.7 472 191.7 535.1"/><path d="M328.7 407.9C328.7 472 354.3 472 354.3 535.1"/><path d="M329.7 407.9C329.7 472 351.9 472 351.9 535.1"/><path d="M257.6 407.9C257.6 472 210.0 472 210.0 535.1"/><path d="M257.7 407.9C257.7 472 208.9 472 208.9 535.1"/><path d="M259.9 407.9C259.9 472 354.5 472 354.5 535.1"/><path d="M261.2 407.9C261.2 472 353.8 472 353.8 535.1"/><path d="M259.9 407.9C259.9 472 351.9 472 351.9 535.1"/><path d="M179.4 407.9C179.4 472 238.2 472 238.2 535.1"/><path d="M179.5 407.9C179.5 472 237.5 472 237.5 535.1"/><path d="M178.6 407.9C178.6 472 238.0 472 238.0 535.1"/><path d="M313.2 407.9C313.2 472 308.8 472 308.8 535.1"/><path d="M357.5 407.9C357.5 472 351.5 472 351.5 535.1"/><path d="M357.5 407.9C357.5 472 354.9 472 354.9 535.1"/><path d="M359.2 407.9C359.2 472 351.6 472 351.6 535.1"/><path d="M113.4 407.9C113.4 472 221.3 472 221.3 535.1"/><path d="M112.5 407.9C112.5 472 221.0 472 221.0 535.1"/><path d="M344.8 407.9C344.8 472 344.1 472 344.1 535.1"/><path d="M345.7 407.9C345.7 472 344.4 472 344.4 535.1"/><path d="M131.2 407.9C131.2 472 77.8 472 77.8 535.1"/><path d="M320.2 407.9C320.2 472 372.9 472 372.9 535.1"/><path d="M147.8 407.9C147.8 472 220.8 472 220.8 535.1"/><path d="M146.1 407.9C146.1 472 219.8 472 219.8 535.1"/><path d="M145.8 407.9C145.8 472 220.4 472 220.4 535.1"/><path d="M171.0 407.9C171.0 472 159.7 472 159.7 535.1"/><path d="M171.0 407.9C171.0 472 159.2 472 159.2 535.1"/><path d="M171.2 407.9C171.2 472 159.5 472 159.5 535.1"/><path d="M363.8 407.9C363.8 472 281.7 472 281.7 535.1"/><path d="M363.8 407.9C363.8 472 279.0 472 279.0 535.1"/><path d="M260.6 407.9C260.6 472 181.3 472 181.3 535.1"/><path d="M258.7 407.9C258.7 472 180.7 472 180.7 535.1"/><path d="M91.9 407.9C91.9 472 77.3 472 77.3 535.1"/><path d="M246.9 407.9C246.9 472 264.0 472 264.0 535.1"/><path d="M302.4 407.9C302.4 472 321.2 472 321.2 535.1"/><path d="M303.3 407.9C303.3 472 322.8 472 322.8 535.1"/><path d="M270.7 407.9C270.7 472 216.8 472 216.8 535.1"/><path d="M270.0 407.9C270.0 472 217.5 472 217.5 535.1"/><path d="M228.6 407.9C228.6 472 211.3 472 211.3 535.1"/><path d="M231.3 407.9C231.3 472 213.2 472 213.2 535.1"/><path d="M231.0 407.9C231.0 472 211.5 472 211.5 535.1"/><path d="M246.3 407.9C246.3 472 330.9 472 330.9 535.1"/><path d="M247.7 407.9C247.7 472 330.6 472 330.6 535.1"/><path d="M247.7 407.9C247.7 472 329.5 472 329.5 535.1"/><path d="M260.5 407.9C260.5 472 244.5 472 244.5 535.1"/><path d="M259.2 407.9C259.2 472 245.6 472 245.6 535.1"/><path d="M332.5 407.9C332.5 472 376.1 472 376.1 535.1"/><path d="M332.8 407.9C332.8 472 376.6 472 376.6 535.1"/><path d="M226.6 407.9C226.6 472 239.6 472 239.6 535.1"/><path d="M225.8 407.9C225.8 472 239.9 472 239.9 535.1"/><path d="M224.8 407.9C224.8 472 241.2 472 241.2 535.1"/><path d="M272.7 407.9C272.7 472 202.1 472 202.1 535.1"/><path d="M269.1 407.9C269.1 472 202.6 472 202.6 535.1"/><path d="M182.8 407.9C182.8 472 267.8 472 267.8 535.1"/><path d="M182.2 407.9C182.2 472 269.9 472 269.9 535.1"/><path d="M103.8 407.9C103.8 472 89.3 472 89.3 535.1"/><path d="M104.5 407.9C104.5 472 91.3 472 91.3 535.1"/><path d="M103.3 407.9C103.3 472 88.6 472 88.6 535.1"/><path d="M316.7 407.9C316.7 472 361.3 472 361.3 535.1"/><path d="M317.4 407.9C317.4 472 362.4 472 362.4 535.1"/><path d="M319.2 407.9C319.2 472 361.3 472 361.3 535.1"/><path d="M322.4 407.9C322.4 472 270.6 472 270.6 535.1"/><path d="M322.5 407.9C322.5 472 270.4 472 270.4 535.1"/><path d="M286.4 407.9C286.4 472 177.9 472 177.9 535.1"/><path d="M286.9 407.9C286.9 472 181.6 472 181.6 535.1"/><path d="M214.6 407.9C214.6 472 279.8 472 279.8 535.1"/><path d="M212.6 407.9C212.6 472 282.2 472 282.2 535.1"/><path d="M110.1 407.9C110.1 472 101.0 472 101.0 535.1"/><path d="M350.1 407.9C350.1 472 376.4 472 376.4 535.1"/><path d="M142.9 407.9C142.9 472 196.2 472 196.2 535.1"/><path d="M141.7 407.9C141.7 472 195.7 472 195.7 535.1"/><path d="M142.9 407.9C142.9 472 194.5 472 194.5 535.1"/><path d="M199.6 407.9C199.6 472 235.5 472 235.5 535.1"/><path d="M198.6 407.9C198.6 472 237.7 472 237.7 535.1"/><path d="M288.5 407.9C288.5 472 301.7 472 301.7 535.1"/><path d="M287.1 407.9C287.1 472 302.4 472 302.4 535.1"/><path d="M289.2 407.9C289.2 472 300.2 472 300.2 535.1"/><path d="M358.0 407.9C358.0 472 351.2 472 351.2 535.1"/><path d="M179.2 407.9C179.2 472 177.0 472 177.0 535.1"/><path d="M350.4 407.9C350.4 472 305.9 472 305.9 535.1"/><path d="M349.7 407.9C349.7 472 307.9 472 307.9 535.1"/><path d="M349.3 407.9C349.3 472 307.6 472 307.6 535.1"/><path d="M89.9 407.9C89.9 472 86.7 472 86.7 535.1"/><path d="M88.3 407.9C88.3 472 84.0 472 84.0 535.1"/><path d="M230.1 407.9C230.1 472 253.7 472 253.7 535.1"/><path d="M347.3 407.9C347.3 472 323.5 472 323.5 535.1"/><path d="M345.7 407.9C345.7 472 326.1 472 326.1 535.1"/><path d="M348.5 407.9C348.5 472 324.7 472 324.7 535.1"/><path d="M123.0 407.9C123.0 472 77.4 472 77.4 535.1"/><path d="M122.8 407.9C122.8 472 76.4 472 76.4 535.1"/><path d="M123.6 407.9C123.6 472 76.5 472 76.5 535.1"/><path d="M208.9 407.9C208.9 472 221.1 472 221.1 535.1"/><path d="M208.0 407.9C208.0 472 219.4 472 219.4 535.1"/><path d="M208.5 407.9C208.5 472 219.6 472 219.6 535.1"/><path d="M153.5 407.9C153.5 472 143.6 472 143.6 535.1"/><path d="M91.8 407.9C91.8 472 83.4 472 83.4 535.1"/><path d="M90.7 407.9C90.7 472 86.5 472 86.5 535.1"/><path d="M247.9 407.9C247.9 472 286.3 472 286.3 535.1"/><path d="M247.0 407.9C247.0 472 289.7 472 289.7 535.1"/><path d="M259.5 407.9C259.5 472 123.9 472 123.9 535.1"/><path d="M225.7 407.9C225.7 472 180.0 472 180.0 535.1"/><path d="M315.2 407.9C315.2 472 278.8 472 278.8 535.1"/><path d="M314.1 407.9C314.1 472 277.0 472 277.0 535.1"/><path d="M315.6 407.9C315.6 472 277.0 472 277.0 535.1"/><path d="M301.9 407.9C301.9 472 293.7 472 293.7 535.1"/><path d="M300.0 407.9C300.0 472 291.9 472 291.9 535.1"/><path d="M269.5 407.9C269.5 472 244.6 472 244.6 535.1"/><path d="M271.8 407.9C271.8 472 245.3 472 245.3 535.1"/><path d="M272.4 407.9C272.4 472 244.8 472 244.8 535.1"/><path d="M135.4 407.9C135.4 472 193.5 472 193.5 535.1"/><path d="M134.2 407.9C134.2 472 194.1 472 194.1 535.1"/><path d="M135.1 407.9C135.1 472 193.3 472 193.3 535.1"/><path d="M371.8 407.9C371.8 472 99.0 472 99.0 535.1"/><path d="M372.5 407.9C372.5 472 98.7 472 98.7 535.1"/><path d="M155.5 407.9C155.5 472 76.5 472 76.5 535.1"/><path d="M154.4 407.9C154.4 472 76.5 472 76.5 535.1"/><path d="M304.7 407.9C304.7 472 322.3 472 322.3 535.1"/><path d="M303.4 407.9C303.4 472 321.8 472 321.8 535.1"/><path d="M303.1 407.9C303.1 472 321.9 472 321.9 535.1"/><path d="M347.0 407.9C347.0 472 355.3 472 355.3 535.1"/><path d="M345.7 407.9C345.7 472 355.6 472 355.6 535.1"/><path d="M170.5 407.9C170.5 472 133.3 472 133.3 535.1"/><path d="M170.0 407.9C170.0 472 132.6 472 132.6 535.1"/><path d="M128.1 407.9C128.1 472 206.6 472 206.6 535.1"/><path d="M86.3 407.9C86.3 472 287.5 472 287.5 535.1"/><path d="M288.8 407.9C288.8 472 299.1 472 299.1 535.1"/><path d="M286.7 407.9C286.7 472 299.4 472 299.4 535.1"/><path d="M358.1 407.9C358.1 472 349.2 472 349.2 535.1"/><path d="M240.2 407.9C240.2 472 277.4 472 277.4 535.1"/><path d="M240.9 407.9C240.9 472 277.0 472 277.0 535.1"/><path d="M239.6 407.9C239.6 472 277.0 472 277.0 535.1"/><path d="M296.4 407.9C296.4 472 351.2 472 351.2 535.1"/><path d="M296.4 407.9C296.4 472 352.8 472 352.8 535.1"/><path d="M299.0 407.9C299.0 472 352.0 472 352.0 535.1"/><path d="M198.4 407.9C198.4 472 153.0 472 153.0 535.1"/><path d="M199.9 407.9C199.9 472 152.0 472 152.0 535.1"/><path d="M111.3 407.9C111.3 472 137.0 472 137.0 535.1"/><path d="M110.2 407.9C110.2 472 137.2 472 137.2 535.1"/><path d="M111.8 407.9C111.8 472 136.7 472 136.7 535.1"/><path d="M332.7 407.9C332.7 472 376.4 472 376.4 535.1"/><path d="M333.5 407.9C333.5 472 376.5 472 376.5 535.1"/><path d="M332.8 407.9C332.8 472 376.4 472 376.4 535.1"/><path d="M319.5 407.9C319.5 472 331.9 472 331.9 535.1"/><path d="M317.2 407.9C317.2 472 329.8 472 329.8 535.1"/><path d="M316.7 407.9C316.7 472 332.8 472 332.8 535.1"/><path d="M76.2 407.9C76.2 472 89.4 472 89.4 535.1"/><path d="M77.0 407.9C77.0 472 91.2 472 91.2 535.1"/><path d="M77.4 407.9C77.4 472 88.6 472 88.6 535.1"/><path d="M287.6 407.9C287.6 472 332.8 472 332.8 535.1"/><path d="M241.1 407.9C241.1 472 329.4 472 329.4 535.1"/><path d="M321.3 407.9C321.3 472 355.1 472 355.1 535.1"/><path d="M199.8 407.9C199.8 472 88.5 472 88.5 535.1"/><path d="M198.0 407.9C198.0 472 88.8 472 88.8 535.1"/><path d="M305.0 407.9C305.0 472 314.1 472 314.1 535.1"/><path d="M303.4 407.9C303.4 472 314.1 472 314.1 535.1"/><path d="M193.7 407.9C193.7 472 211.6 472 211.6 535.1"/><path d="M192.9 407.9C192.9 472 211.7 472 211.7 535.1"/><path d="M110.9 407.9C110.9 472 254.5 472 254.5 535.1"/><path d="M314.1 407.9C314.1 472 364.2 472 364.2 535.1"/><path d="M314.8 407.9C314.8 472 361.2 472 361.2 535.1"/><path d="M312.4 407.9C312.4 472 362.7 472 362.7 535.1"/><path d="M253.3 407.9C253.3 472 270.6 472 270.6 535.1"/><path d="M254.2 407.9C254.2 472 270.6 472 270.6 535.1"/><path d="M108.7 407.9C108.7 472 76.5 472 76.5 535.1"/><path d="M108.0 407.9C108.0 472 76.5 472 76.5 535.1"/><path d="M163.8 407.9C163.8 472 210.1 472 210.1 535.1"/><path d="M163.6 407.9C163.6 472 210.1 472 210.1 535.1"/><path d="M98.6 407.9C98.6 472 145.8 472 145.8 535.1"/><path d="M99.0 407.9C99.0 472 146.8 472 146.8 535.1"/><path d="M318.8 407.9C318.8 472 260.4 472 260.4 535.1"/><path d="M318.2 407.9C318.2 472 261.1 472 261.1 535.1"/><path d="M319.7 407.9C319.7 472 258.4 472 258.4 535.1"/><path d="M212.4 407.9C212.4 472 262.4 472 262.4 535.1"/><path d="M213.8 407.9C213.8 472 263.6 472 263.6 535.1"/><path d="M215.8 407.9C215.8 472 264.8 472 264.8 535.1"/><path d="M142.2 407.9C142.2 472 160.4 472 160.4 535.1"/><path d="M144.5 407.9C144.5 472 157.3 472 157.3 535.1"/><path d="M316.7 407.9C316.7 472 289.2 472 289.2 535.1"/><path d="M318.6 407.9C318.6 472 288.6 472 288.6 535.1"/><path d="M318.1 407.9C318.1 472 291.7 472 291.7 535.1"/><path d="M153.7 407.9C153.7 472 368.4 472 368.4 535.1"/><path d="M303.8 407.9C303.8 472 85.0 472 85.0 535.1"/><path d="M303.7 407.9C303.7 472 82.8 472 82.8 535.1"/><path d="M211.6 407.9C211.6 472 77.4 472 77.4 535.1"/><path d="M110.4 407.9C110.4 472 99.5 472 99.5 535.1"/><path d="M110.0 407.9C110.0 472 98.4 472 98.4 535.1"/><path d="M261.5 407.9C261.5 472 149.9 472 149.9 535.1"/><path d="M372.5 407.9C372.5 472 363.9 472 363.9 535.1"/><path d="M256.7 407.9C256.7 472 319.2 472 319.2 535.1"/><path d="M253.0 407.9C253.0 472 321.0 472 321.0 535.1"/><path d="M255.7 407.9C255.7 472 321.2 472 321.2 535.1"/><path d="M186.5 407.9C186.5 472 160.8 472 160.8 535.1"/><path d="M187.4 407.9C187.4 472 162.0 472 162.0 535.1"/><path d="M187.7 407.9C187.7 472 162.4 472 162.4 535.1"/><path d="M197.1 407.9C197.1 472 190.1 472 190.1 535.1"/><path d="M196.5 407.9C196.5 472 190.8 472 190.8 535.1"/><path d="M196.6 407.9C196.6 472 188.0 472 188.0 535.1"/><path d="M301.6 407.9C301.6 472 281.3 472 281.3 535.1"/><path d="M300.2 407.9C300.2 472 280.1 472 280.1 535.1"/><path d="M187.1 407.9C187.1 472 238.0 472 238.0 535.1"/><path d="M186.2 407.9C186.2 472 240.4 472 240.4 535.1"/><path d="M79.9 407.9C79.9 472 76.5 472 76.5 535.1"/><path d="M186.8 407.9C186.8 472 211.3 472 211.3 535.1"/><path d="M187.9 407.9C187.9 472 212.7 472 212.7 535.1"/><path d="M348.3 407.9C348.3 472 339.0 472 339.0 535.1"/><path d="M348.2 407.9C348.2 472 339.0 472 339.0 535.1"/><path d="M199.2 407.9C199.2 472 277.0 472 277.0 535.1"/><path d="M199.1 407.9C199.1 472 277.0 472 277.0 535.1"/><path d="M161.8 407.9C161.8 472 90.5 472 90.5 535.1"/><path d="M163.2 407.9C163.2 472 89.7 472 89.7 535.1"/><path d="M164.1 407.9C164.1 472 90.0 472 90.0 535.1"/><path d="M131.7 407.9C131.7 472 135.1 472 135.1 535.1"/><path d="M131.1 407.9C131.1 472 134.8 472 134.8 535.1"/><path d="M133.4 407.9C133.4 472 136.7 472 136.7 535.1"/><path d="M362.5 407.9C362.5 472 365.5 472 365.5 535.1"/><path d="M362.3 407.9C362.3 472 376.4 472 376.4 535.1"/><path d="M218.8 407.9C218.8 472 256.0 472 256.0 535.1"/><path d="M99.6 407.9C99.6 472 149.2 472 149.2 535.1"/><path d="M102.8 407.9C102.8 472 147.0 472 147.0 535.1"/><path d="M101.3 407.9C101.3 472 76.8 472 76.8 535.1"/><path d="M100.4 407.9C100.4 472 76.9 472 76.9 535.1"/><path d="M99.9 407.9C99.9 472 76.5 472 76.5 535.1"/><path d="M185.0 407.9C185.0 472 137.0 472 137.0 535.1"/><path d="M187.4 407.9C187.4 472 137.0 472 137.0 535.1"/><path d="M184.6 407.9C184.6 472 137.0 472 137.0 535.1"/><path d="M133.6 407.9C133.6 472 150.6 472 150.6 535.1"/><path d="M133.9 407.9C133.9 472 150.2 472 150.2 535.1"/><path d="M135.4 407.9C135.4 472 151.4 472 151.4 535.1"/><path d="M187.4 407.9C187.4 472 163.3 472 163.3 535.1"/><path d="M210.4 407.9C210.4 472 181.4 472 181.4 535.1"/><path d="M112.4 407.9C112.4 472 76.5 472 76.5 535.1"/><path d="M342.3 407.9C342.3 472 269.5 472 269.5 535.1"/><path d="M179.3 407.9C179.3 472 166.1 472 166.1 535.1"/><path d="M304.0 407.9C304.0 472 286.6 472 286.6 535.1"/><path d="M302.5 407.9C302.5 472 285.0 472 285.0 535.1"/><path d="M303.6 407.9C303.6 472 285.6 472 285.6 535.1"/><path d="M245.1 407.9C245.1 472 323.5 472 323.5 535.1"/><path d="M153.2 407.9C153.2 472 143.2 472 143.2 535.1"/><path d="M86.4 407.9C86.4 472 76.5 472 76.5 535.1"/><path d="M82.5 407.9C82.5 472 78.2 472 78.2 535.1"/><path d="M275.3 407.9C275.3 472 290.3 472 290.3 535.1"/><path d="M163.1 407.9C163.1 472 151.7 472 151.7 535.1"/><path d="M161.8 407.9C161.8 472 151.2 472 151.2 535.1"/><path d="M163.1 407.9C163.1 472 152.3 472 152.3 535.1"/><path d="M110.8 407.9C110.8 472 76.5 472 76.5 535.1"/><path d="M148.6 407.9C148.6 472 175.1 472 175.1 535.1"/><path d="M343.0 407.9C343.0 472 376.4 472 376.4 535.1"/><path d="M344.1 407.9C344.1 472 374.8 472 374.8 535.1"/><path d="M99.2 407.9C99.2 472 77.2 472 77.2 535.1"/><path d="M262.7 407.9C262.7 472 324.5 472 324.5 535.1"/><path d="M262.0 407.9C262.0 472 327.4 472 327.4 535.1"/><path d="M263.5 407.9C263.5 472 327.1 472 327.1 535.1"/><path d="M374.6 407.9C374.6 472 329.4 472 329.4 535.1"/><path d="M373.0 407.9C373.0 472 330.6 472 330.6 535.1"/><path d="M375.6 407.9C375.6 472 330.1 472 330.1 535.1"/><path d="M103.3 407.9C103.3 472 78.4 472 78.4 535.1"/><path d="M103.5 407.9C103.5 472 76.5 472 76.5 535.1"/><path d="M243.1 407.9C243.1 472 104.4 472 104.4 535.1"/><path d="M242.8 407.9C242.8 472 105.0 472 105.0 535.1"/><path d="M241.3 407.9C241.3 472 103.8 472 103.8 535.1"/><path d="M282.7 407.9C282.7 472 283.1 472 283.1 535.1"/><path d="M286.0 407.9C286.0 472 283.4 472 283.4 535.1"/><path d="M286.1 407.9C286.1 472 284.8 472 284.8 535.1"/><path d="M277.4 407.9C277.4 472 229.9 472 229.9 535.1"/><path d="M313.1 407.9C313.1 472 319.2 472 319.2 535.1"/><path d="M311.3 407.9C311.3 472 319.2 472 319.2 535.1"/><path d="M311.2 407.9C311.2 472 319.2 472 319.2 535.1"/><path d="M161.9 407.9C161.9 472 98.4 472 98.4 535.1"/><path d="M164.1 407.9C164.1 472 102.1 472 102.1 535.1"/><path d="M80.6 407.9C80.6 472 81.9 472 81.9 535.1"/><path d="M80.3 407.9C80.3 472 82.0 472 82.0 535.1"/><path d="M360.9 407.9C360.9 472 375.0 472 375.0 535.1"/><path d="M363.3 407.9C363.3 472 376.4 472 376.4 535.1"/><path d="M362.2 407.9C362.2 472 376.5 472 376.5 535.1"/><path d="M318.3 407.9C318.3 472 375.8 472 375.8 535.1"/><path d="M319.9 407.9C319.9 472 376.4 472 376.4 535.1"/><path d="M320.3 407.9C320.3 472 376.4 472 376.4 535.1"/><path d="M244.3 407.9C244.3 472 287.5 472 287.5 535.1"/><path d="M167.2 407.9C167.2 472 150.7 472 150.7 535.1"/><path d="M132.0 407.9C132.0 472 133.3 472 133.3 535.1"/><path d="M181.8 407.9C181.8 472 182.8 472 182.8 535.1"/><path d="M284.8 407.9C284.8 472 311.9 472 311.9 535.1"/><path d="M244.9 407.9C244.9 472 158.5 472 158.5 535.1"/><path d="M358.4 407.9C358.4 472 292.9 472 292.9 535.1"/><path d="M357.8 407.9C357.8 472 293.7 472 293.7 535.1"/><path d="M357.2 407.9C357.2 472 293.7 472 293.7 535.1"/><path d="M86.7 407.9C86.7 472 76.5 472 76.5 535.1"/><path d="M88.4 407.9C88.4 472 76.5 472 76.5 535.1"/><path d="M85.9 407.9C85.9 472 76.5 472 76.5 535.1"/><path d="M317.6 407.9C317.6 472 323.2 472 323.2 535.1"/><path d="M317.9 407.9C317.9 472 321.3 472 321.3 535.1"/><path d="M262.6 407.9C262.6 472 221.1 472 221.1 535.1"/><path d="M245.8 407.9C245.8 472 182.4 472 182.4 535.1"/><path d="M202.1 407.9C202.1 472 90.2 472 90.2 535.1"/><path d="M202.0 407.9C202.0 472 92.1 472 92.1 535.1"/><path d="M161.8 407.9C161.8 472 186.4 472 186.4 535.1"/><path d="M125.1 407.9C125.1 472 76.5 472 76.5 535.1"/><path d="M154.7 407.9C154.7 472 134.0 472 134.0 535.1"/><path d="M155.1 407.9C155.1 472 131.5 472 131.5 535.1"/><path d="M133.4 407.9C133.4 472 128.6 472 128.6 535.1"/><path d="M135.1 407.9C135.1 472 124.9 472 124.9 535.1"/><path d="M194.9 407.9C194.9 472 188.9 472 188.9 535.1"/><path d="M192.9 407.9C192.9 472 189.6 472 189.6 535.1"/><path d="M356.2 407.9C356.2 472 361.3 472 361.3 535.1"/><path d="M358.7 407.9C358.7 472 361.3 472 361.3 535.1"/><path d="M357.1 407.9C357.1 472 361.3 472 361.3 535.1"/><path d="M334.7 407.9C334.7 472 329.8 472 329.8 535.1"/><path d="M163.6 407.9C163.6 472 112.6 472 112.6 535.1"/><path d="M80.6 407.9C80.6 472 161.4 472 161.4 535.1"/><path d="M81.4 407.9C81.4 472 159.8 472 159.8 535.1"/><path d="M81.0 407.9C81.0 472 160.2 472 160.2 535.1"/><path d="M290.4 407.9C290.4 472 312.7 472 312.7 535.1"/><path d="M289.9 407.9C289.9 472 314.1 472 314.1 535.1"/><path d="M287.8 407.9C287.8 472 310.9 472 310.9 535.1"/><path d="M363.8 407.9C363.8 472 342.4 472 342.4 535.1"/><path d="M363.6 407.9C363.6 472 342.9 472 342.9 535.1"/><path d="M245.7 407.9C245.7 472 293.7 472 293.7 535.1"/><path d="M247.7 407.9C247.7 472 293.7 472 293.7 535.1"/><path d="M289.6 407.9C289.6 472 314.0 472 314.0 535.1"/><path d="M290.4 407.9C290.4 472 314.1 472 314.1 535.1"/><path d="M146.7 407.9C146.7 472 77.4 472 77.4 535.1"/><path d="M146.7 407.9C146.7 472 78.2 472 78.2 535.1"/><path d="M376.4 407.9C376.4 472 374.4 472 374.4 535.1"/><path d="M376.8 407.9C376.8 472 374.5 472 374.5 535.1"/><path d="M155.3 407.9C155.3 472 118.5 472 118.5 535.1"/><path d="M152.0 407.9C152.0 472 118.2 472 118.2 535.1"/><path d="M155.5 407.9C155.5 472 119.2 472 119.2 535.1"/><path d="M162.3 407.9C162.3 472 143.8 472 143.8 535.1"/><path d="M162.1 407.9C162.1 472 144.9 472 144.9 535.1"/><path d="M163.4 407.9C163.4 472 143.2 472 143.2 535.1"/><path d="M125.2 407.9C125.2 472 150.5 472 150.5 535.1"/><path d="M125.3 407.9C125.3 472 149.7 472 149.7 535.1"/><path d="M125.3 407.9C125.3 472 149.4 472 149.4 535.1"/><path d="M196.1 407.9C196.1 472 220.9 472 220.9 535.1"/><path d="M195.0 407.9C195.0 472 221.1 472 221.1 535.1"/><path d="M288.5 407.9C288.5 472 204.2 472 204.2 535.1"/><path d="M289.8 407.9C289.8 472 204.1 472 204.1 535.1"/><path d="M182.8 407.9C182.8 472 153.7 472 153.7 535.1"/><path d="M184.4 407.9C184.4 472 153.0 472 153.0 535.1"/><path d="M185.1 407.9C185.1 472 150.4 472 150.4 535.1"/><path d="M319.2 407.9C319.2 472 376.4 472 376.4 535.1"/><path d="M320.2 407.9C320.2 472 375.9 472 375.9 535.1"/><path d="M120.0 407.9C120.0 472 147.8 472 147.8 535.1"/><path d="M118.8 407.9C118.8 472 147.8 472 147.8 535.1"/><path d="M121.5 407.9C121.5 472 147.5 472 147.5 535.1"/><path d="M82.7 407.9C82.7 472 106.0 472 106.0 535.1"/><path d="M79.5 407.9C79.5 472 107.1 472 107.1 535.1"/><path d="M80.1 407.9C80.1 472 106.9 472 106.9 535.1"/><path d="M85.1 407.9C85.1 472 346.8 472 346.8 535.1"/><path d="M180.2 407.9C180.2 472 136.6 472 136.6 535.1"/><path d="M182.8 407.9C182.8 472 135.1 472 135.1 535.1"/><path d="M169.4 407.9C169.4 472 238.2 472 238.2 535.1"/><path d="M144.8 407.9C144.8 472 89.7 472 89.7 535.1"/><path d="M144.8 407.9C144.8 472 88.0 472 88.0 535.1"/><path d="M147.2 407.9C147.2 472 91.3 472 91.3 535.1"/><path d="M348.9 407.9C348.9 472 339.1 472 339.1 535.1"/><path d="M348.2 407.9C348.2 472 340.4 472 340.4 535.1"/><path d="M348.2 407.9C348.2 472 339.0 472 339.0 535.1"/><path d="M88.2 407.9C88.2 472 115.5 472 115.5 535.1"/><path d="M88.5 407.9C88.5 472 114.5 472 114.5 535.1"/><path d="M88.4 407.9C88.4 472 114.6 472 114.6 535.1"/><path d="M82.0 407.9C82.0 472 79.0 472 79.0 535.1"/><path d="M83.1 407.9C83.1 472 76.9 472 76.9 535.1"/><path d="M82.2 407.9C82.2 472 80.0 472 80.0 535.1"/><path d="M121.3 407.9C121.3 472 90.5 472 90.5 535.1"/><path d="M121.2 407.9C121.2 472 91.3 472 91.3 535.1"/><path d="M119.1 407.9C119.1 472 92.2 472 92.2 535.1"/><path d="M347.7 407.9C347.7 472 305.1 472 305.1 535.1"/><path d="M347.5 407.9C347.5 472 305.7 472 305.7 535.1"/><path d="M212.8 407.9C212.8 472 261.3 472 261.3 535.1"/><path d="M214.9 407.9C214.9 472 262.8 472 262.8 535.1"/><path d="M213.4 407.9C213.4 472 262.2 472 262.2 535.1"/><path d="M243.1 407.9C243.1 472 261.7 472 261.7 535.1"/><path d="M241.3 407.9C241.3 472 262.3 472 262.3 535.1"/><path d="M103.0 407.9C103.0 472 116.7 472 116.7 535.1"/><path d="M103.2 407.9C103.2 472 117.1 472 117.1 535.1"/><path d="M200.2 407.9C200.2 472 196.2 472 196.2 535.1"/><path d="M274.4 407.9C274.4 472 254.0 472 254.0 535.1"/><path d="M273.0 407.9C273.0 472 254.6 472 254.6 535.1"/><path d="M274.9 407.9C274.9 472 254.1 472 254.1 535.1"/><path d="M77.9 407.9C77.9 472 267.4 472 267.4 535.1"/><path d="M80.2 407.9C80.2 472 266.1 472 266.1 535.1"/><path d="M362.5 407.9C362.5 472 325.6 472 325.6 535.1"/><path d="M363.8 407.9C363.8 472 325.0 472 325.0 535.1"/><path d="M363.7 407.9C363.7 472 325.8 472 325.8 535.1"/><path d="M240.2 407.9C240.2 472 103.7 472 103.7 535.1"/><path d="M240.3 407.9C240.3 472 103.5 472 103.5 535.1"/><path d="M187.5 407.9C187.5 472 124.2 472 124.2 535.1"/><path d="M210.5 407.9C210.5 472 159.3 472 159.3 535.1"/><path d="M213.0 407.9C213.0 472 160.7 472 160.7 535.1"/><path d="M371.4 407.9C371.4 472 376.2 472 376.2 535.1"/><path d="M369.7 407.9C369.7 472 376.1 472 376.1 535.1"/><path d="M370.3 407.9C370.3 472 376.4 472 376.4 535.1"/><path d="M129.5 407.9C129.5 472 343.5 472 343.5 535.1"/><path d="M126.5 407.9C126.5 472 76.3 472 76.3 535.1"/><path d="M129.5 407.9C129.5 472 76.5 472 76.5 535.1"/><path d="M128.2 407.9C128.2 472 76.5 472 76.5 535.1"/><path d="M368.9 407.9C368.9 472 355.4 472 355.4 535.1"/><path d="M369.1 407.9C369.1 472 355.4 472 355.4 535.1"/><path d="M315.5 407.9C315.5 472 182.4 472 182.4 535.1"/><path d="M331.4 407.9C331.4 472 374.6 472 374.6 535.1"/><path d="M331.0 407.9C331.0 472 376.4 472 376.4 535.1"/><path d="M329.5 407.9C329.5 472 374.7 472 374.7 535.1"/><path d="M216.4 407.9C216.4 472 122.0 472 122.0 535.1"/><path d="M164.9 407.9C164.9 472 263.8 472 263.8 535.1"/><path d="M180.8 407.9C180.8 472 231.0 472 231.0 535.1"/><path d="M132.9 407.9C132.9 472 103.0 472 103.0 535.1"/><path d="M255.8 407.9C255.8 472 180.0 472 180.0 535.1"/><path d="M207.9 407.9C207.9 472 218.1 472 218.1 535.1"/><path d="M209.5 407.9C209.5 472 219.6 472 219.6 535.1"/><path d="M256.2 407.9C256.2 472 299.6 472 299.6 535.1"/><path d="M253.1 407.9C253.1 472 300.0 472 300.0 535.1"/><path d="M254.0 407.9C254.0 472 300.8 472 300.8 535.1"/><path d="M246.2 407.9C246.2 472 264.2 472 264.2 535.1"/><path d="M245.9 407.9C245.9 472 264.6 472 264.6 535.1"/><path d="M246.0 407.9C246.0 472 265.4 472 265.4 535.1"/><path d="M240.8 407.9C240.8 472 252.7 472 252.7 535.1"/><path d="M214.3 407.9C214.3 472 228.1 472 228.1 535.1"/><path d="M98.5 407.9C98.5 472 101.0 472 101.0 535.1"/><path d="M99.9 407.9C99.9 472 100.6 472 100.6 535.1"/><path d="M99.7 407.9C99.7 472 101.3 472 101.3 535.1"/><path d="M342.7 407.9C342.7 472 261.6 472 261.6 535.1"/><path d="M256.6 407.9C256.6 472 303.8 472 303.8 535.1"/><path d="M256.7 407.9C256.7 472 303.8 472 303.8 535.1"/><path d="M256.4 407.9C256.4 472 302.4 472 302.4 535.1"/><path d="M372.2 407.9C372.2 472 292.4 472 292.4 535.1"/><path d="M314.2 407.9C314.2 472 314.1 472 314.1 535.1"/><path d="M315.1 407.9C315.1 472 314.1 472 314.1 535.1"/><path d="M107.4 407.9C107.4 472 325.2 472 325.2 535.1"/><path d="M107.6 407.9C107.6 472 325.4 472 325.4 535.1"/><path d="M334.5 407.9C334.5 472 375.7 472 375.7 535.1"/><path d="M335.3 407.9C335.3 472 375.3 472 375.3 535.1"/><path d="M332.4 407.9C332.4 472 375.3 472 375.3 535.1"/><path d="M363.8 407.9C363.8 472 373.7 472 373.7 535.1"/><path d="M363.8 407.9C363.8 472 374.5 472 374.5 535.1"/><path d="M362.0 407.9C362.0 472 373.8 472 373.8 535.1"/><path d="M211.0 407.9C211.0 472 206.0 472 206.0 535.1"/><path d="M210.3 407.9C210.3 472 206.6 472 206.6 535.1"/><path d="M210.6 407.9C210.6 472 206.4 472 206.4 535.1"/><path d="M105.2 407.9C105.2 472 177.0 472 177.0 535.1"/><path d="M104.8 407.9C104.8 472 176.6 472 176.6 535.1"/><path d="M334.6 407.9C334.6 472 299.4 472 299.4 535.1"/><path d="M334.6 407.9C334.6 472 301.7 472 301.7 535.1"/><path d="M149.1 407.9C149.1 472 235.6 472 235.6 535.1"/><path d="M152.0 407.9C152.0 472 239.1 472 239.1 535.1"/><path d="M150.6 407.9C150.6 472 235.5 472 235.5 535.1"/><path d="M371.8 407.9C371.8 472 331.8 472 331.8 535.1"/><path d="M369.5 407.9C369.5 472 331.2 472 331.2 535.1"/><path d="M371.3 407.9C371.3 472 330.8 472 330.8 535.1"/><path d="M119.1 407.9C119.1 472 113.1 472 113.1 535.1"/><path d="M121.5 407.9C121.5 472 115.0 472 115.0 535.1"/><path d="M256.8 407.9C256.8 472 312.4 472 312.4 535.1"/><path d="M255.3 407.9C255.3 472 311.8 472 311.8 535.1"/><path d="M374.8 407.9C374.8 472 376.4 472 376.4 535.1"/><path d="M151.4 407.9C151.4 472 211.7 472 211.7 535.1"/><path d="M152.8 407.9C152.8 472 211.3 472 211.3 535.1"/><path d="M321.1 407.9C321.1 472 319.2 472 319.2 535.1"/><path d="M126.2 407.9C126.2 472 78.2 472 78.2 535.1"/><path d="M122.8 407.9C122.8 472 78.4 472 78.4 535.1"/><path d="M126.2 407.9C126.2 472 76.2 472 76.2 535.1"/><path d="M127.5 407.9C127.5 472 85.3 472 85.3 535.1"/><path d="M125.7 407.9C125.7 472 84.9 472 84.9 535.1"/><path d="M375.7 407.9C375.7 472 364.5 472 364.5 535.1"/><path d="M285.9 407.9C285.9 472 314.3 472 314.3 535.1"/><path d="M286.4 407.9C286.4 472 314.1 472 314.1 535.1"/><path d="M286.8 407.9C286.8 472 312.7 472 312.7 535.1"/><path d="M319.3 407.9C319.3 472 375.3 472 375.3 535.1"/><path d="M319.5 407.9C319.5 472 376.4 472 376.4 535.1"/><path d="M321.7 407.9C321.7 472 376.4 472 376.4 535.1"/><path d="M285.3 407.9C285.3 472 82.3 472 82.3 535.1"/><path d="M285.3 407.9C285.3 472 81.6 472 81.6 535.1"/><path d="M285.1 407.9C285.1 472 82.1 472 82.1 535.1"/><path d="M130.8 407.9C130.8 472 146.0 472 146.0 535.1"/><path d="M130.3 407.9C130.3 472 143.4 472 143.4 535.1"/><path d="M311.3 407.9C311.3 472 290.1 472 290.1 535.1"/><path d="M313.0 407.9C313.0 472 291.2 472 291.2 535.1"/><path d="M231.4 407.9C231.4 472 221.1 472 221.1 535.1"/><path d="M232.4 407.9C232.4 472 221.1 472 221.1 535.1"/><path d="M232.4 407.9C232.4 472 220.9 472 220.9 535.1"/><path d="M200.8 407.9C200.8 472 143.1 472 143.1 535.1"/><path d="M103.4 407.9C103.4 472 76.5 472 76.5 535.1"/><path d="M102.8 407.9C102.8 472 76.5 472 76.5 535.1"/><path d="M283.3 407.9C283.3 472 236.8 472 236.8 535.1"/><path d="M274.9 407.9C274.9 472 289.8 472 289.8 535.1"/><path d="M272.7 407.9C272.7 472 293.6 472 293.6 535.1"/><path d="M243.2 407.9C243.2 472 326.1 472 326.1 535.1"/><path d="M243.9 407.9C243.9 472 324.2 472 324.2 535.1"/><path d="M361.7 407.9C361.7 472 332.8 472 332.8 535.1"/><path d="M359.9 407.9C359.9 472 332.2 472 332.2 535.1"/><path d="M344.6 407.9C344.6 472 332.8 472 332.8 535.1"/><path d="M345.0 407.9C345.0 472 331.6 472 331.6 535.1"/><path d="M346.5 407.9C346.5 472 330.9 472 330.9 535.1"/><path d="M311.3 407.9C311.3 472 368.5 472 368.5 535.1"/><path d="M257.6 407.9C257.6 472 237.5 472 237.5 535.1"/><path d="M300.6 407.9C300.6 472 266.1 472 266.1 535.1"/><path d="M301.7 407.9C301.7 472 266.9 472 266.9 535.1"/><path d="M209.8 407.9C209.8 472 246.1 472 246.1 535.1"/><path d="M212.5 407.9C212.5 472 245.3 472 245.3 535.1"/><path d="M213.2 407.9C213.2 472 245.0 472 245.0 535.1"/><path d="M122.7 407.9C122.7 472 93.4 472 93.4 535.1"/><path d="M124.2 407.9C124.2 472 91.7 472 91.7 535.1"/><path d="M122.7 407.9C122.7 472 93.4 472 93.4 535.1"/><path d="M186.7 407.9C186.7 472 130.8 472 130.8 535.1"/><path d="M296.2 407.9C296.2 472 327.3 472 327.3 535.1"/><path d="M296.5 407.9C296.5 472 327.2 472 327.2 535.1"/><path d="M144.5 407.9C144.5 472 168.9 472 168.9 535.1"/><path d="M162.1 407.9C162.1 472 182.7 472 182.7 535.1"/><path d="M162.3 407.9C162.3 472 184.5 472 184.5 535.1"/><path d="M161.7 407.9C161.7 472 181.9 472 181.9 535.1"/><path d="M129.5 407.9C129.5 472 160.5 472 160.5 535.1"/><path d="M132.5 407.9C132.5 472 158.4 472 158.4 535.1"/><path d="M131.4 407.9C131.4 472 159.5 472 159.5 535.1"/><path d="M287.2 407.9C287.2 472 277.0 472 277.0 535.1"/><path d="M286.1 407.9C286.1 472 277.0 472 277.0 535.1"/><path d="M286.3 407.9C286.3 472 277.0 472 277.0 535.1"/><path d="M244.6 407.9C244.6 472 237.2 472 237.2 535.1"/><path d="M246.1 407.9C246.1 472 237.2 472 237.2 535.1"/><path d="M246.2 407.9C246.2 472 239.9 472 239.9 535.1"/><path d="M356.1 407.9C356.1 472 376.4 472 376.4 535.1"/><path d="M329.2 407.9C329.2 472 286.0 472 286.0 535.1"/><path d="M330.8 407.9C330.8 472 284.1 472 284.1 535.1"/><path d="M370.3 407.9C370.3 472 370.3 472 370.3 535.1"/><path d="M373.4 407.9C373.4 472 372.3 472 372.3 535.1"/><path d="M195.4 407.9C195.4 472 128.5 472 128.5 535.1"/><path d="M195.0 407.9C195.0 472 126.3 472 126.3 535.1"/><path d="M196.1 407.9C196.1 472 128.7 472 128.7 535.1"/><path d="M271.7 407.9C271.7 472 213.7 472 213.7 535.1"/><path d="M210.3 407.9C210.3 472 238.0 472 238.0 535.1"/><path d="M134.0 407.9C134.0 472 365.8 472 365.8 535.1"/><path d="M312.4 407.9C312.4 472 363.0 472 363.0 535.1"/><path d="M315.5 407.9C315.5 472 364.3 472 364.3 535.1"/><path d="M315.6 407.9C315.6 472 361.9 472 361.9 535.1"/><path d="M179.3 407.9C179.3 472 168.6 472 168.6 535.1"/><path d="M82.8 407.9C82.8 472 76.5 472 76.5 535.1"/><path d="M80.1 407.9C80.1 472 76.5 472 76.5 535.1"/><path d="M81.3 407.9C81.3 472 77.3 472 77.3 535.1"/><path d="M154.6 407.9C154.6 472 112.6 472 112.6 535.1"/><path d="M152.9 407.9C152.9 472 112.6 472 112.6 535.1"/><path d="M256.4 407.9C256.4 472 260.2 472 260.2 535.1"/><path d="M257.6 407.9C257.6 472 259.3 472 259.3 535.1"/><path d="M141.8 407.9C141.8 472 148.1 472 148.1 535.1"/><path d="M143.1 407.9C143.1 472 147.3 472 147.3 535.1"/><path d="M142.8 407.9C142.8 472 148.7 472 148.7 535.1"/><path d="M150.0 407.9C150.0 472 93.8 472 93.8 535.1"/><path d="M147.1 407.9C147.1 472 91.4 472 91.4 535.1"/><path d="M149.9 407.9C149.9 472 91.8 472 91.8 535.1"/><path d="M84.6 407.9C84.6 472 116.8 472 116.8 535.1"/><path d="M86.9 407.9C86.9 472 118.6 472 118.6 535.1"/><path d="M85.2 407.9C85.2 472 118.6 472 118.6 535.1"/><path d="M199.0 407.9C199.0 472 136.1 472 136.1 535.1"/><path d="M166.5 407.9C166.5 472 78.3 472 78.3 535.1"/><path d="M167.7 407.9C167.7 472 76.7 472 76.7 535.1"/><path d="M166.9 407.9C166.9 472 77.9 472 77.9 535.1"/><path d="M260.8 407.9C260.8 472 183.8 472 183.8 535.1"/><path d="M371.8 407.9C371.8 472 361.3 472 361.3 535.1"/><path d="M372.6 407.9C372.6 472 363.6 472 363.6 535.1"/><path d="M147.4 407.9C147.4 472 78.2 472 78.2 535.1"/><path d="M148.5 407.9C148.5 472 76.5 472 76.5 535.1"/><path d="M123.2 407.9C123.2 472 184.4 472 184.4 535.1"/><path d="M124.0 407.9C124.0 472 186.9 472 186.9 535.1"/><path d="M171.0 407.9C171.0 472 217.6 472 217.6 535.1"/><path d="M171.0 407.9C171.0 472 216.5 472 216.5 535.1"/><path d="M168.9 407.9C168.9 472 217.6 472 217.6 535.1"/><path d="M283.9 407.9C283.9 472 319.2 472 319.2 535.1"/><path d="M285.7 407.9C285.7 472 321.2 472 321.2 535.1"/><path d="M284.5 407.9C284.5 472 319.1 472 319.1 535.1"/><path d="M374.3 407.9C374.3 472 376.4 472 376.4 535.1"/><path d="M377.0 407.9C377.0 472 375.6 472 375.6 535.1"/><path d="M315.5 407.9C315.5 472 114.8 472 114.8 535.1"/><path d="M315.3 407.9C315.3 472 118.1 472 118.1 535.1"/><path d="M314.8 407.9C314.8 472 118.7 472 118.7 535.1"/><path d="M179.5 407.9C179.5 472 221.1 472 221.1 535.1"/><path d="M183.1 407.9C183.1 472 220.1 472 220.1 535.1"/><path d="M182.5 407.9C182.5 472 220.2 472 220.2 535.1"/><path d="M349.9 407.9C349.9 472 374.4 472 374.4 535.1"/><path d="M349.2 407.9C349.2 472 376.5 472 376.5 535.1"/><path d="M166.6 407.9C166.6 472 175.5 472 175.5 535.1"/><path d="M166.0 407.9C166.0 472 175.7 472 175.7 535.1"/><path d="M198.1 407.9C198.1 472 152.4 472 152.4 535.1"/><path d="M196.3 407.9C196.3 472 150.9 472 150.9 535.1"/><path d="M214.1 407.9C214.1 472 265.8 472 265.8 535.1"/><path d="M81.8 407.9C81.8 472 76.5 472 76.5 535.1"/><path d="M358.2 407.9C358.2 472 375.8 472 375.8 535.1"/><path d="M357.7 407.9C357.7 472 374.7 472 374.7 535.1"/><path d="M211.1 407.9C211.1 472 146.4 472 146.4 535.1"/><path d="M210.8 407.9C210.8 472 144.7 472 144.7 535.1"/><path d="M169.3 407.9C169.3 472 216.2 472 216.2 535.1"/><path d="M169.5 407.9C169.5 472 214.3 472 214.3 535.1"/><path d="M369.1 407.9C369.1 472 302.7 472 302.7 535.1"/><path d="M371.8 407.9C371.8 472 302.8 472 302.8 535.1"/><path d="M371.6 407.9C371.6 472 302.6 472 302.6 535.1"/><path d="M303.8 407.9C303.8 472 177.5 472 177.5 535.1"/><path d="M305.1 407.9C305.1 472 177.5 472 177.5 535.1"/><path d="M200.9 407.9C200.9 472 168.2 472 168.2 535.1"/><path d="M141.0 407.9C141.0 472 101.5 472 101.5 535.1"/><path d="M141.1 407.9C141.1 472 103.7 472 103.7 535.1"/><path d="M242.4 407.9C242.4 472 232.1 472 232.1 535.1"/><path d="M242.6 407.9C242.6 472 232.6 472 232.6 535.1"/><path d="M256.9 407.9C256.9 472 205.1 472 205.1 535.1"/><path d="M255.8 407.9C255.8 472 204.4 472 204.4 535.1"/><path d="M375.9 407.9C375.9 472 264.4 472 264.4 535.1"/><path d="M376.8 407.9C376.8 472 263.8 472 263.8 535.1"/><path d="M245.6 407.9C245.6 472 209.7 472 209.7 535.1"/><path d="M243.0 407.9C243.0 472 209.8 472 209.8 535.1"/><path d="M243.3 407.9C243.3 472 209.2 472 209.2 535.1"/><path d="M92.1 407.9C92.1 472 348.3 472 348.3 535.1"/><path d="M93.1 407.9C93.1 472 350.1 472 350.1 535.1"/><path d="M371.5 407.9C371.5 472 290.1 472 290.1 535.1"/><path d="M368.9 407.9C368.9 472 292.7 472 292.7 535.1"/><path d="M370.4 407.9C370.4 472 289.6 472 289.6 535.1"/><path d="M257.9 407.9C257.9 472 313.9 472 313.9 535.1"/><path d="M254.8 407.9C254.8 472 313.2 472 313.2 535.1"/><path d="M82.2 407.9C82.2 472 125.5 472 125.5 535.1"/><path d="M79.9 407.9C79.9 472 126.8 472 126.8 535.1"/><path d="M81.8 407.9C81.8 472 124.8 472 124.8 535.1"/><path d="M224.8 407.9C224.8 472 329.2 472 329.2 535.1"/><path d="M363.4 407.9C363.4 472 376.4 472 376.4 535.1"/><path d="M362.0 407.9C362.0 472 375.4 472 375.4 535.1"/><path d="M363.8 407.9C363.8 472 375.5 472 375.5 535.1"/><path d="M183.6 407.9C183.6 472 216.9 472 216.9 535.1"/><path d="M182.1 407.9C182.1 472 252.4 472 252.4 535.1"/><path d="M212.9 407.9C212.9 472 137.0 472 137.0 535.1"/><path d="M212.3 407.9C212.3 472 137.0 472 137.0 535.1"/><path d="M213.8 407.9C213.8 472 136.5 472 136.5 535.1"/><path d="M109.1 407.9C109.1 472 154.8 472 154.8 535.1"/><path d="M107.7 407.9C107.7 472 157.0 472 157.0 535.1"/><path d="M109.7 407.9C109.7 472 156.8 472 156.8 535.1"/><path d="M208.9 407.9C208.9 472 189.9 472 189.9 535.1"/><path d="M185.7 407.9C185.7 472 324.4 472 324.4 535.1"/><path d="M185.8 407.9C185.8 472 323.1 472 323.1 535.1"/><path d="M125.9 407.9C125.9 472 76.5 472 76.5 535.1"/><path d="M313.6 407.9C313.6 472 259.0 472 259.0 535.1"/><path d="M311.3 407.9C311.3 472 259.6 472 259.6 535.1"/><path d="M146.0 407.9C146.0 472 77.0 472 77.0 535.1"/><path d="M107.3 407.9C107.3 472 77.6 472 77.6 535.1"/><path d="M107.3 407.9C107.3 472 76.5 472 76.5 535.1"/><path d="M106.8 407.9C106.8 472 76.5 472 76.5 535.1"/><path d="M231.1 407.9C231.1 472 144.0 472 144.0 535.1"/><path d="M231.5 407.9C231.5 472 145.8 472 145.8 535.1"/><path d="M239.7 407.9C239.7 472 341.6 472 341.6 535.1"/><path d="M238.5 407.9C238.5 472 341.5 472 341.5 535.1"/><path d="M240.5 407.9C240.5 472 341.4 472 341.4 535.1"/><path d="M122.1 407.9C122.1 472 125.5 472 125.5 535.1"/><path d="M256.5 407.9C256.5 472 210.5 472 210.5 535.1"/><path d="M257.6 407.9C257.6 472 210.4 472 210.4 535.1"/><path d="M360.6 407.9C360.6 472 339.5 472 339.5 535.1"/><path d="M285.6 407.9C285.6 472 325.6 472 325.6 535.1"/><path d="M287.0 407.9C287.0 472 323.7 472 323.7 535.1"/><path d="M285.9 407.9C285.9 472 322.7 472 322.7 535.1"/><path d="M209.1 407.9C209.1 472 195.4 472 195.4 535.1"/><path d="M210.8 407.9C210.8 472 194.4 472 194.4 535.1"/><path d="M208.9 407.9C208.9 472 194.7 472 194.7 535.1"/><path d="M211.3 407.9C211.3 472 207.2 472 207.2 535.1"/><path d="M209.8 407.9C209.8 472 207.7 472 207.7 535.1"/><path d="M165.1 407.9C165.1 472 208.8 472 208.8 535.1"/><path d="M164.2 407.9C164.2 472 207.7 472 207.7 535.1"/><path d="M166.2 407.9C166.2 472 208.0 472 208.0 535.1"/><path d="M359.3 407.9C359.3 472 319.1 472 319.1 535.1"/><path d="M358.4 407.9C358.4 472 320.8 472 320.8 535.1"/><path d="M343.6 407.9C343.6 472 369.0 472 369.0 535.1"/><path d="M336.8 407.9C336.8 472 376.4 472 376.4 535.1"/><path d="M336.6 407.9C336.6 472 376.5 472 376.5 535.1"/><path d="M336.6 407.9C336.6 472 376.4 472 376.4 535.1"/><path d="M289.0 407.9C289.0 472 332.8 472 332.8 535.1"/><path d="M288.6 407.9C288.6 472 332.6 472 332.6 535.1"/><path d="M216.2 407.9C216.2 472 255.3 472 255.3 535.1"/><path d="M215.3 407.9C215.3 472 252.5 472 252.5 535.1"/><path d="M215.0 407.9C215.0 472 254.7 472 254.7 535.1"/><path d="M240.8 407.9C240.8 472 195.1 472 195.1 535.1"/><path d="M239.9 407.9C239.9 472 196.2 472 196.2 535.1"/><path d="M165.9 407.9C165.9 472 77.7 472 77.7 535.1"/><path d="M269.6 407.9C269.6 472 211.2 472 211.2 535.1"/><path d="M163.4 407.9C163.4 472 241.4 472 241.4 535.1"/><path d="M161.8 407.9C161.8 472 244.1 472 244.1 535.1"/><path d="M289.1 407.9C289.1 472 325.4 472 325.4 535.1"/><path d="M287.1 407.9C287.1 472 324.1 472 324.1 535.1"/><path d="M275.9 407.9C275.9 472 176.5 472 176.5 535.1"/><path d="M284.5 407.9C284.5 472 212.0 472 212.0 535.1"/><path d="M286.0 407.9C286.0 472 215.5 472 215.5 535.1"/><path d="M241.5 407.9C241.5 472 234.9 472 234.9 535.1"/><path d="M98.9 407.9C98.9 472 128.8 472 128.8 535.1"/><path d="M90.8 407.9C90.8 472 133.9 472 133.9 535.1"/><path d="M92.7 407.9C92.7 472 133.7 472 133.7 535.1"/><path d="M92.0 407.9C92.0 472 131.3 472 131.3 535.1"/><path d="M210.9 407.9C210.9 472 215.8 472 215.8 535.1"/><path d="M341.8 407.9C341.8 472 351.7 472 351.7 535.1"/><path d="M344.4 407.9C344.4 472 354.0 472 354.0 535.1"/><path d="M344.2 407.9C344.2 472 351.9 472 351.9 535.1"/><path d="M271.0 407.9C271.0 472 212.9 472 212.9 535.1"/><path d="M319.9 407.9C319.9 472 352.7 472 352.7 535.1"/><path d="M322.3 407.9C322.3 472 351.1 472 351.1 535.1"/><path d="M200.0 407.9C200.0 472 187.9 472 187.9 535.1"/><path d="M350.1 407.9C350.1 472 320.6 472 320.6 535.1"/><path d="M348.9 407.9C348.9 472 322.9 472 322.9 535.1"/><path d="M349.8 407.9C349.8 472 320.7 472 320.7 535.1"/><path d="M328.1 407.9C328.1 472 325.4 472 325.4 535.1"/><path d="M272.9 407.9C272.9 472 252.4 472 252.4 535.1"/><path d="M272.5 407.9C272.5 472 252.2 472 252.2 535.1"/><path d="M311.3 407.9C311.3 472 304.6 472 304.6 535.1"/><path d="M311.3 407.9C311.3 472 306.1 472 306.1 535.1"/><path d="M215.1 407.9C215.1 472 347.6 472 347.6 535.1"/><path d="M213.0 407.9C213.0 472 349.3 472 349.3 535.1"/><path d="M253.3 407.9C253.3 472 231.7 472 231.7 535.1"/><path d="M254.5 407.9C254.5 472 232.0 472 232.0 535.1"/><path d="M254.1 407.9C254.1 472 234.5 472 234.5 535.1"/><path d="M227.0 407.9C227.0 472 163.1 472 163.1 535.1"/><path d="M224.7 407.9C224.7 472 164.9 472 164.9 535.1"/><path d="M216.2 407.9C216.2 472 227.1 472 227.1 535.1"/><path d="M218.4 407.9C218.4 472 229.7 472 229.7 535.1"/><path d="M215.4 407.9C215.4 472 229.7 472 229.7 535.1"/><path d="M374.0 407.9C374.0 472 376.4 472 376.4 535.1"/><path d="M373.7 407.9C373.7 472 376.4 472 376.4 535.1"/><path d="M171.0 407.9C171.0 472 120.4 472 120.4 535.1"/><path d="M171.0 407.9C171.0 472 122.8 472 122.8 535.1"/><path d="M261.8 407.9C261.8 472 232.9 472 232.9 535.1"/><path d="M260.8 407.9C260.8 472 233.8 472 233.8 535.1"/><path d="M263.3 407.9C263.3 472 234.4 472 234.4 535.1"/><path d="M271.5 407.9C271.5 472 290.1 472 290.1 535.1"/><path d="M349.6 407.9C349.6 472 310.9 472 310.9 535.1"/><path d="M350.6 407.9C350.6 472 311.0 472 311.0 535.1"/><path d="M145.3 407.9C145.3 472 175.0 472 175.0 535.1"/><path d="M239.0 407.9C239.0 472 217.3 472 217.3 535.1"/><path d="M344.0 407.9C344.0 472 161.9 472 161.9 535.1"/><path d="M344.4 407.9C344.4 472 160.6 472 160.6 535.1"/><path d="M113.1 407.9C113.1 472 77.8 472 77.8 535.1"/><path d="M111.3 407.9C111.3 472 77.8 472 77.8 535.1"/><path d="M125.7 407.9C125.7 472 102.2 472 102.2 535.1"/><path d="M83.6 407.9C83.6 472 189.3 472 189.3 535.1"/><path d="M81.6 407.9C81.6 472 191.0 472 191.0 535.1"/><path d="M253.7 407.9C253.7 472 242.7 472 242.7 535.1"/><path d="M256.9 407.9C256.9 472 243.3 472 243.3 535.1"/><path d="M256.6 407.9C256.6 472 245.0 472 245.0 535.1"/><path d="M145.4 407.9C145.4 472 136.2 472 136.2 535.1"/><path d="M196.0 407.9C196.0 472 365.0 472 365.0 535.1"/><path d="M194.4 407.9C194.4 472 364.9 472 364.9 535.1"/><path d="M317.2 407.9C317.2 472 302.4 472 302.4 535.1"/><path d="M347.8 407.9C347.8 472 241.9 472 241.9 535.1"/><path d="M347.5 407.9C347.5 472 243.0 472 243.0 535.1"/><path d="M100.8 407.9C100.8 472 148.9 472 148.9 535.1"/><path d="M99.7 407.9C99.7 472 146.9 472 146.9 535.1"/><path d="M121.5 407.9C121.5 472 196.2 472 196.2 535.1"/><path d="M121.5 407.9C121.5 472 195.9 472 195.9 535.1"/><path d="M358.7 407.9C358.7 472 375.6 472 375.6 535.1"/><path d="M133.8 407.9C133.8 472 168.9 472 168.9 535.1"/><path d="M130.0 407.9C130.0 472 169.3 472 169.3 535.1"/><path d="M331.9 407.9C331.9 472 376.4 472 376.4 535.1"/><path d="M142.0 407.9C142.0 472 112.6 472 112.6 535.1"/><path d="M143.5 407.9C143.5 472 113.5 472 113.5 535.1"/><path d="M144.1 407.9C144.1 472 112.8 472 112.8 535.1"/><path d="M244.5 407.9C244.5 472 164.3 472 164.3 535.1"/><path d="M245.9 407.9C245.9 472 166.6 472 166.6 535.1"/><path d="M246.0 407.9C246.0 472 164.2 472 164.2 535.1"/><path d="M245.4 407.9C245.4 472 299.8 472 299.8 535.1"/><path d="M244.0 407.9C244.0 472 299.5 472 299.5 535.1"/><path d="M245.3 407.9C245.3 472 299.7 472 299.7 535.1"/><path d="M214.5 407.9C214.5 472 77.1 472 77.1 535.1"/><path d="M212.7 407.9C212.7 472 76.7 472 76.7 535.1"/><path d="M286.8 407.9C286.8 472 279.9 472 279.9 535.1"/><path d="M227.2 407.9C227.2 472 282.6 472 282.6 535.1"/><path d="M224.9 407.9C224.9 472 283.8 472 283.8 535.1"/><path d="M224.8 407.9C224.8 472 284.3 472 284.3 535.1"/><path d="M119.1 407.9C119.1 472 143.2 472 143.2 535.1"/><path d="M187.1 407.9C187.1 472 269.5 472 269.5 535.1"/><path d="M186.4 407.9C186.4 472 269.8 472 269.8 535.1"/><path d="M184.1 407.9C184.1 472 269.0 472 269.0 535.1"/><path d="M257.1 407.9C257.1 472 161.0 472 161.0 535.1"/><path d="M257.9 407.9C257.9 472 162.7 472 162.7 535.1"/><path d="M257.7 407.9C257.7 472 161.1 472 161.1 535.1"/><path d="M244.5 407.9C244.5 472 244.8 472 244.8 535.1"/><path d="M244.9 407.9C244.9 472 245.7 472 245.7 535.1"/><path d="M122.7 407.9C122.7 472 76.8 472 76.8 535.1"/><path d="M121.6 407.9C121.6 472 76.5 472 76.5 535.1"/><path d="M121.6 407.9C121.6 472 77.6 472 77.6 535.1"/><path d="M131.8 407.9C131.8 472 257.7 472 257.7 535.1"/><path d="M131.5 407.9C131.5 472 256.0 472 256.0 535.1"/><path d="M133.4 407.9C133.4 472 258.9 472 258.9 535.1"/><path d="M322.4 407.9C322.4 472 299.9 472 299.9 535.1"/><path d="M110.1 407.9C110.1 472 77.5 472 77.5 535.1"/><path d="M109.1 407.9C109.1 472 77.3 472 77.3 535.1"/><path d="M109.9 407.9C109.9 472 79.3 472 79.3 535.1"/><path d="M195.1 407.9C195.1 472 181.5 472 181.5 535.1"/><path d="M155.7 407.9C155.7 472 183.6 472 183.6 535.1"/><path d="M128.5 407.9C128.5 472 123.0 472 123.0 535.1"/><path d="M201.9 407.9C201.9 472 125.5 472 125.5 535.1"/><path d="M201.9 407.9C201.9 472 126.8 472 126.8 535.1"/><path d="M202.1 407.9C202.1 472 125.4 472 125.4 535.1"/><path d="M89.4 407.9C89.4 472 98.0 472 98.0 535.1"/><path d="M224.8 407.9C224.8 472 176.9 472 176.9 535.1"/><path d="M225.9 407.9C225.9 472 179.6 472 179.6 535.1"/><path d="M348.1 407.9C348.1 472 288.0 472 288.0 535.1"/><path d="M348.3 407.9C348.3 472 287.4 472 287.4 535.1"/><path d="M347.7 407.9C347.7 472 285.8 472 285.8 535.1"/><path d="M376.8 407.9C376.8 472 331.1 472 331.1 535.1"/><path d="M376.8 407.9C376.8 472 332.8 472 332.8 535.1"/><path d="M277.1 407.9C277.1 472 213.5 472 213.5 535.1"/><path d="M275.7 407.9C275.7 472 211.3 472 211.3 535.1"/><path d="M273.8 407.9C273.8 472 212.9 472 212.9 535.1"/><path d="M106.4 407.9C106.4 472 166.3 472 166.3 535.1"/><path d="M103.6 407.9C103.6 472 76.5 472 76.5 535.1"/><path d="M322.3 407.9C322.3 472 266.0 472 266.0 535.1"/><path d="M311.5 407.9C311.5 472 376.4 472 376.4 535.1"/><path d="M311.3 407.9C311.3 472 374.7 472 374.7 535.1"/><path d="M311.3 407.9C311.3 472 376.1 472 376.1 535.1"/><path d="M263.3 407.9C263.3 472 128.8 472 128.8 535.1"/><path d="M247.4 407.9C247.4 472 177.3 472 177.3 535.1"/><path d="M245.5 407.9C245.5 472 176.7 472 176.7 535.1"/><path d="M247.7 407.9C247.7 472 174.9 472 174.9 535.1"/><path d="M285.0 407.9C285.0 472 292.3 472 292.3 535.1"/><path d="M152.0 407.9C152.0 472 167.3 472 167.3 535.1"/><path d="M152.1 407.9C152.1 472 169.3 472 169.3 535.1"/><path d="M151.1 407.9C151.1 472 169.3 472 169.3 535.1"/><path d="M318.0 407.9C318.0 472 185.5 472 185.5 535.1"/><path d="M273.9 407.9C273.9 472 230.8 472 230.8 535.1"/><path d="M271.8 407.9C271.8 472 229.9 472 229.9 535.1"/><path d="M320.3 407.9C320.3 472 362.5 472 362.5 535.1"/><path d="M76.3 407.9C76.3 472 76.5 472 76.5 535.1"/><path d="M77.4 407.9C77.4 472 76.5 472 76.5 535.1"/><path d="M77.1 407.9C77.1 472 77.5 472 77.5 535.1"/><path d="M289.1 407.9C289.1 472 242.6 472 242.6 535.1"/><path d="M288.4 407.9C288.4 472 241.7 472 241.7 535.1"/><path d="M288.1 407.9C288.1 472 240.1 472 240.1 535.1"/><path d="M238.7 407.9C238.7 472 179.5 472 179.5 535.1"/><path d="M272.8 407.9C272.8 472 270.4 472 270.4 535.1"/><path d="M272.3 407.9C272.3 472 270.6 472 270.6 535.1"/><path d="M275.0 407.9C275.0 472 268.7 472 268.7 535.1"/><path d="M162.8 407.9C162.8 472 136.1 472 136.1 535.1"/><path d="M162.7 407.9C162.7 472 135.8 472 135.8 535.1"/><path d="M164.0 407.9C164.0 472 137.0 472 137.0 535.1"/><path d="M361.8 407.9C361.8 472 314.1 472 314.1 535.1"/><path d="M363.8 407.9C363.8 472 314.1 472 314.1 535.1"/><path d="M91.5 407.9C91.5 472 100.0 472 100.0 535.1"/><path d="M317.4 407.9C317.4 472 277.0 472 277.0 535.1"/><path d="M314.5 407.9C314.5 472 278.3 472 278.3 535.1"/><path d="M316.3 407.9C316.3 472 277.0 472 277.0 535.1"/><path d="M358.2 407.9C358.2 472 325.7 472 325.7 535.1"/><path d="M102.1 407.9C102.1 472 76.5 472 76.5 535.1"/><path d="M102.3 407.9C102.3 472 76.5 472 76.5 535.1"/><path d="M99.8 407.9C99.8 472 76.5 472 76.5 535.1"/><path d="M183.1 407.9C183.1 472 183.6 472 183.6 535.1"/><path d="M180.9 407.9C180.9 472 185.9 472 185.9 535.1"/><path d="M184.5 407.9C184.5 472 183.8 472 183.8 535.1"/><path d="M145.7 407.9C145.7 472 105.8 472 105.8 535.1"/><path d="M161.8 407.9C161.8 472 125.1 472 125.1 535.1"/><path d="M193.5 407.9C193.5 472 270.6 472 270.6 535.1"/><path d="M195.1 407.9C195.1 472 268.6 472 268.6 535.1"/><path d="M196.4 407.9C196.4 472 269.6 472 269.6 535.1"/><path d="M231.0 407.9C231.0 472 227.1 472 227.1 535.1"/><path d="M244.8 407.9C244.8 472 242.5 472 242.5 535.1"/><path d="M244.4 407.9C244.4 472 242.2 472 242.2 535.1"/><path d="M243.7 407.9C243.7 472 245.7 472 245.7 535.1"/><path d="M86.1 407.9C86.1 472 90.3 472 90.3 535.1"/><path d="M85.0 407.9C85.0 472 90.3 472 90.3 535.1"/><path d="M276.9 407.9C276.9 472 226.9 472 226.9 535.1"/><path d="M171.0 407.9C171.0 472 187.1 472 187.1 535.1"/><path d="M82.2 407.9C82.2 472 81.0 472 81.0 535.1"/><path d="M84.1 407.9C84.1 472 79.0 472 79.0 535.1"/><path d="M232.4 407.9C232.4 472 253.3 472 253.3 535.1"/><path d="M230.8 407.9C230.8 472 254.3 472 254.3 535.1"/><path d="M230.7 407.9C230.7 472 252.4 472 252.4 535.1"/><path d="M297.6 407.9C297.6 472 323.8 472 323.8 535.1"/><path d="M296.4 407.9C296.4 472 325.3 472 325.3 535.1"/><path d="M256.5 407.9C256.5 472 232.3 472 232.3 535.1"/><path d="M257.7 407.9C257.7 472 230.3 472 230.3 535.1"/><path d="M135.4 407.9C135.4 472 112.6 472 112.6 535.1"/><path d="M132.1 407.9C132.1 472 114.5 472 114.5 535.1"/><path d="M199.9 407.9C199.9 472 86.3 472 86.3 535.1"/><path d="M199.1 407.9C199.1 472 85.4 472 85.4 535.1"/><path d="M373.3 407.9C373.3 472 376.4 472 376.4 535.1"/><path d="M373.6 407.9C373.6 472 376.4 472 376.4 535.1"/><path d="M100.1 407.9C100.1 472 114.6 472 114.6 535.1"/><path d="M101.3 407.9C101.3 472 113.3 472 113.3 535.1"/><path d="M166.3 407.9C166.3 472 156.9 472 156.9 535.1"/><path d="M88.7 407.9C88.7 472 76.5 472 76.5 535.1"/><path d="M89.9 407.9C89.9 472 76.5 472 76.5 535.1"/><path d="M89.8 407.9C89.8 472 76.5 472 76.5 535.1"/><path d="M127.2 407.9C127.2 472 154.1 472 154.1 535.1"/><path d="M109.8 407.9C109.8 472 78.9 472 78.9 535.1"/><path d="M108.7 407.9C108.7 472 77.1 472 77.1 535.1"/><path d="M110.2 407.9C110.2 472 78.3 472 78.3 535.1"/><path d="M262.4 407.9C262.4 472 177.2 472 177.2 535.1"/><path d="M262.5 407.9C262.5 472 175.0 472 175.0 535.1"/><path d="M316.7 407.9C316.7 472 163.4 472 163.4 535.1"/><path d="M317.3 407.9C317.3 472 165.5 472 165.5 535.1"/><path d="M328.1 407.9C328.1 472 355.4 472 355.4 535.1"/><path d="M313.7 407.9C313.7 472 279.5 472 279.5 535.1"/><path d="M331.9 407.9C331.9 472 348.6 472 348.6 535.1"/><path d="M358.2 407.9C358.2 472 375.8 472 375.8 535.1"/><path d="M359.3 407.9C359.3 472 376.4 472 376.4 535.1"/><path d="M217.6 407.9C217.6 472 162.1 472 162.1 535.1"/><path d="M215.1 407.9C215.1 472 162.5 472 162.5 535.1"/><path d="M217.2 407.9C217.2 472 161.5 472 161.5 535.1"/><path d="M256.0 407.9C256.0 472 373.1 472 373.1 535.1"/><path d="M258.9 407.9C258.9 472 370.4 472 370.4 535.1"/><path d="M256.8 407.9C256.8 472 292.2 472 292.2 535.1"/><path d="M320.3 407.9C320.3 472 292.5 472 292.5 535.1"/><path d="M319.8 407.9C319.8 472 293.7 472 293.7 535.1"/><path d="M311.8 407.9C311.8 472 293.3 472 293.3 535.1"/><path d="M361.0 407.9C361.0 472 343.7 472 343.7 535.1"/><path d="M371.3 407.9C371.3 472 375.7 472 375.7 535.1"/><path d="M370.1 407.9C370.1 472 376.4 472 376.4 535.1"/><path d="M369.1 407.9C369.1 472 373.1 472 373.1 535.1"/><path d="M276.4 407.9C276.4 472 331.0 472 331.0 535.1"/><path d="M119.1 407.9C119.1 472 115.4 472 115.4 535.1"/><path d="M119.8 407.9C119.8 472 114.9 472 114.9 535.1"/><path d="M210.2 407.9C210.2 472 236.7 472 236.7 535.1"/><path d="M92.4 407.9C92.4 472 154.4 472 154.4 535.1"/><path d="M93.1 407.9C93.1 472 157.4 472 157.4 535.1"/><path d="M92.8 407.9C92.8 472 156.4 472 156.4 535.1"/><path d="M238.7 407.9C238.7 472 236.4 472 236.4 535.1"/><path d="M155.7 407.9C155.7 472 182.6 472 182.6 535.1"/><path d="M155.4 407.9C155.4 472 184.2 472 184.2 535.1"/><path d="M154.9 407.9C154.9 472 181.6 472 181.6 535.1"/><path d="M107.5 407.9C107.5 472 189.9 472 189.9 535.1"/><path d="M342.2 407.9C342.2 472 304.7 472 304.7 535.1"/><path d="M229.4 407.9C229.4 472 263.4 472 263.4 535.1"/><path d="M230.5 407.9C230.5 472 263.3 472 263.3 535.1"/><path d="M228.6 407.9C228.6 472 262.3 472 262.3 535.1"/><path d="M258.5 407.9C258.5 472 213.2 472 213.2 535.1"/><path d="M258.2 407.9C258.2 472 215.4 472 215.4 535.1"/><path d="M290.4 407.9C290.4 472 376.4 472 376.4 535.1"/><path d="M290.0 407.9C290.0 472 376.4 472 376.4 535.1"/><path d="M290.4 407.9C290.4 472 376.4 472 376.4 535.1"/><path d="M131.4 407.9C131.4 472 118.2 472 118.2 535.1"/><path d="M131.5 407.9C131.5 472 118.4 472 118.4 535.1"/><path d="M145.0 407.9C145.0 472 82.4 472 82.4 535.1"/><path d="M148.3 407.9C148.3 472 83.8 472 83.8 535.1"/><path d="M108.3 407.9C108.3 472 136.5 472 136.5 535.1"/><path d="M110.6 407.9C110.6 472 135.8 472 135.8 535.1"/><path d="M108.6 407.9C108.6 472 133.3 472 133.3 535.1"/><path d="M192.9 407.9C192.9 472 161.9 472 161.9 535.1"/><path d="M101.9 407.9C101.9 472 143.7 472 143.7 535.1"/><path d="M103.5 407.9C103.5 472 143.2 472 143.2 535.1"/><path d="M152.0 407.9C152.0 472 105.5 472 105.5 535.1"/><path d="M152.1 407.9C152.1 472 106.9 472 106.9 535.1"/><path d="M154.3 407.9C154.3 472 106.9 472 106.9 535.1"/><path d="M226.6 407.9C226.6 472 270.4 472 270.4 535.1"/><path d="M192.9 407.9C192.9 472 175.0 472 175.0 535.1"/><path d="M194.0 407.9C194.0 472 177.5 472 177.5 535.1"/><path d="M376.3 407.9C376.3 472 372.4 472 372.4 535.1"/><path d="M374.3 407.9C374.3 472 374.0 472 374.0 535.1"/><path d="M299.2 407.9C299.2 472 241.6 472 241.6 535.1"/><path d="M296.9 407.9C296.9 472 243.5 472 243.5 535.1"/><path d="M275.0 407.9C275.0 472 331.5 472 331.5 535.1"/><path d="M276.4 407.9C276.4 472 331.8 472 331.8 535.1"/><path d="M107.0 407.9C107.0 472 90.9 472 90.9 535.1"/><path d="M107.6 407.9C107.6 472 92.1 472 92.1 535.1"/><path d="M106.0 407.9C106.0 472 94.0 472 94.0 535.1"/><path d="M346.5 407.9C346.5 472 277.0 472 277.0 535.1"/><path d="M346.0 407.9C346.0 472 278.2 472 278.2 535.1"/><path d="M358.6 407.9C358.6 472 375.6 472 375.6 535.1"/><path d="M360.2 407.9C360.2 472 376.2 472 376.2 535.1"/><path d="M83.3 407.9C83.3 472 207.9 472 207.9 535.1"/><path d="M370.7 407.9C370.7 472 375.4 472 375.4 535.1"/><path d="M370.1 407.9C370.1 472 374.1 472 374.1 535.1"/><path d="M312.3 407.9C312.3 472 322.1 472 322.1 535.1"/><path d="M314.7 407.9C314.7 472 321.4 472 321.4 535.1"/><path d="M272.5 407.9C272.5 472 204.2 472 204.2 535.1"/><path d="M270.8 407.9C270.8 472 201.9 472 201.9 535.1"/><path d="M270.6 407.9C270.6 472 203.0 472 203.0 535.1"/><path d="M192.9 407.9C192.9 472 344.7 472 344.7 535.1"/><path d="M193.0 407.9C193.0 472 344.1 472 344.1 535.1"/><path d="M192.9 407.9C192.9 472 342.0 472 342.0 535.1"/><path d="M343.8 407.9C343.8 472 375.9 472 375.9 535.1"/><path d="M343.3 407.9C343.3 472 376.1 472 376.1 535.1"/><path d="M342.9 407.9C342.9 472 375.5 472 375.5 535.1"/><path d="M169.0 407.9C169.0 472 149.3 472 149.3 535.1"/><path d="M169.6 407.9C169.6 472 150.6 472 150.6 535.1"/><path d="M85.8 407.9C85.8 472 209.2 472 209.2 535.1"/><path d="M80.5 407.9C80.5 472 76.5 472 76.5 535.1"/><path d="M78.2 407.9C78.2 472 76.5 472 76.5 535.1"/><path d="M180.0 407.9C180.0 472 182.8 472 182.8 535.1"/><path d="M244.1 407.9C244.1 472 244.3 472 244.3 535.1"/><path d="M247.9 407.9C247.9 472 237.8 472 237.8 535.1"/><path d="M247.7 407.9C247.7 472 239.7 472 239.7 535.1"/><path d="M247.4 407.9C247.4 472 238.5 472 238.5 535.1"/><path d="M144.0 407.9C144.0 472 160.9 472 160.9 535.1"/><path d="M247.7 407.9C247.7 472 303.6 472 303.6 535.1"/><path d="M247.5 407.9C247.5 472 300.2 472 300.2 535.1"/><path d="M247.6 407.9C247.6 472 303.3 472 303.3 535.1"/><path d="M171.0 407.9C171.0 472 147.8 472 147.8 535.1"/><path d="M171.0 407.9C171.0 472 146.0 472 146.0 535.1"/><path d="M171.2 407.9C171.2 472 147.5 472 147.5 535.1"/><path d="M242.0 407.9C242.0 472 219.7 472 219.7 535.1"/><path d="M244.1 407.9C244.1 472 220.1 472 220.1 535.1"/><path d="M242.0 407.9C242.0 472 219.8 472 219.8 535.1"/><path d="M90.7 407.9C90.7 472 123.9 472 123.9 535.1"/><path d="M135.6 407.9C135.6 472 149.8 472 149.8 535.1"/><path d="M296.4 407.9C296.4 472 311.2 472 311.2 535.1"/><path d="M372.7 407.9C372.7 472 332.8 472 332.8 535.1"/><path d="M370.8 407.9C370.8 472 333.1 472 333.1 535.1"/><path d="M322.3 407.9C322.3 472 324.1 472 324.1 535.1"/><path d="M322.3 407.9C322.3 472 322.3 472 322.3 535.1"/><path d="M297.5 407.9C297.5 472 339.0 472 339.0 535.1"/><path d="M296.4 407.9C296.4 472 339.0 472 339.0 535.1"/><path d="M297.0 407.9C297.0 472 341.9 472 341.9 535.1"/><path d="M268.9 407.9C268.9 472 277.0 472 277.0 535.1"/><path d="M270.1 407.9C270.1 472 277.0 472 277.0 535.1"/><path d="M268.6 407.9C268.6 472 277.1 472 277.1 535.1"/><path d="M103.5 407.9C103.5 472 112.6 472 112.6 535.1"/><path d="M104.4 407.9C104.4 472 112.6 472 112.6 535.1"/><path d="M104.9 407.9C104.9 472 112.7 472 112.7 535.1"/><path d="M214.3 407.9C214.3 472 268.6 472 268.6 535.1"/><path d="M214.6 407.9C214.6 472 268.1 472 268.1 535.1"/><path d="M229.6 407.9C229.6 472 339.0 472 339.0 535.1"/><path d="M127.0 407.9C127.0 472 77.5 472 77.5 535.1"/><path d="M126.6 407.9C126.6 472 76.6 472 76.6 535.1"/><path d="M127.9 407.9C127.9 472 76.5 472 76.5 535.1"/><path d="M209.4 407.9C209.4 472 207.0 472 207.0 535.1"/><path d="M210.3 407.9C210.3 472 205.8 472 205.8 535.1"/><path d="M212.8 407.9C212.8 472 208.5 472 208.5 535.1"/><path d="M299.7 407.9C299.7 472 238.6 472 238.6 535.1"/><path d="M192.8 407.9C192.8 472 84.3 472 84.3 535.1"/><path d="M135.4 407.9C135.4 472 148.7 472 148.7 535.1"/><path d="M134.6 407.9C134.6 472 148.2 472 148.2 535.1"/><path d="M133.8 407.9C133.8 472 150.3 472 150.3 535.1"/><path d="M164.2 407.9C164.2 472 212.7 472 212.7 535.1"/><path d="M164.5 407.9C164.5 472 210.9 472 210.9 535.1"/><path d="M163.9 407.9C163.9 472 209.8 472 209.8 535.1"/><path d="M275.6 407.9C275.6 472 214.5 472 214.5 535.1"/><path d="M276.7 407.9C276.7 472 214.2 472 214.2 535.1"/><path d="M275.5 407.9C275.5 472 215.4 472 215.4 535.1"/><path d="M100.7 407.9C100.7 472 114.5 472 114.5 535.1"/><path d="M315.8 407.9C315.8 472 299.4 472 299.4 535.1"/><path d="M272.7 407.9C272.7 472 208.4 472 208.4 535.1"/><path d="M270.1 407.9C270.1 472 211.6 472 211.6 535.1"/><path d="M270.5 407.9C270.5 472 210.0 472 210.0 535.1"/><path d="M90.3 407.9C90.3 472 83.6 472 83.6 535.1"/><path d="M86.9 407.9C86.9 472 84.2 472 84.2 535.1"/><path d="M93.0 407.9C93.0 472 107.1 472 107.1 535.1"/><path d="M93.1 407.9C93.1 472 105.4 472 105.4 535.1"/><path d="M197.1 407.9C197.1 472 147.4 472 147.4 535.1"/><path d="M195.5 407.9C195.5 472 145.1 472 145.1 535.1"/><path d="M197.2 407.9C197.2 472 146.4 472 146.4 535.1"/><path d="M152.7 407.9C152.7 472 159.1 472 159.1 535.1"/><path d="M152.1 407.9C152.1 472 156.9 472 156.9 535.1"/><path d="M153.1 407.9C153.1 472 155.5 472 155.5 535.1"/><path d="M215.9 407.9C215.9 472 238.3 472 238.3 535.1"/><path d="M216.0 407.9C216.0 472 236.7 472 236.7 535.1"/><path d="M134.9 407.9C134.9 472 179.9 472 179.9 535.1"/><path d="M162.3 407.9C162.3 472 374.6 472 374.6 535.1"/><path d="M163.8 407.9C163.8 472 376.4 472 376.4 535.1"/><path d="M180.5 407.9C180.5 472 102.4 472 102.4 535.1"/><path d="M177.9 407.9C177.9 472 101.2 472 101.2 535.1"/><path d="M212.5 407.9C212.5 472 242.0 472 242.0 535.1"/><path d="M211.6 407.9C211.6 472 244.4 472 244.4 535.1"/><path d="M372.2 407.9C372.2 472 376.2 472 376.2 535.1"/><path d="M371.3 407.9C371.3 472 374.3 472 374.3 535.1"/><path d="M192.9 407.9C192.9 472 100.1 472 100.1 535.1"/><path d="M242.7 407.9C242.7 472 227.6 472 227.6 535.1"/><path d="M240.7 407.9C240.7 472 226.8 472 226.8 535.1"/><path d="M240.4 407.9C240.4 472 229.0 472 229.0 535.1"/><path d="M245.6 407.9C245.6 472 258.0 472 258.0 535.1"/><path d="M317.3 407.9C317.3 472 355.4 472 355.4 535.1"/><path d="M213.0 407.9C213.0 472 284.2 472 284.2 535.1"/><path d="M349.2 407.9C349.2 472 345.0 472 345.0 535.1"/><path d="M299.3 407.9C299.3 472 310.1 472 310.1 535.1"/><path d="M299.6 407.9C299.6 472 308.8 472 308.8 535.1"/><path d="M334.0 407.9C334.0 472 277.0 472 277.0 535.1"/><path d="M214.6 407.9C214.6 472 164.2 472 164.2 535.1"/><path d="M215.6 407.9C215.6 472 164.2 472 164.2 535.1"/><path d="M212.1 407.9C212.1 472 165.3 472 165.3 535.1"/><path d="M228.5 407.9C228.5 472 201.9 472 201.9 535.1"/><path d="M232.4 407.9C232.4 472 321.9 472 321.9 535.1"/><path d="M230.6 407.9C230.6 472 323.1 472 323.1 535.1"/><path d="M216.8 407.9C216.8 472 143.2 472 143.2 535.1"/><path d="M215.4 407.9C215.4 472 145.7 472 145.7 535.1"/><path d="M262.9 407.9C262.9 472 77.0 472 77.0 535.1"/><path d="M262.9 407.9C262.9 472 78.5 472 78.5 535.1"/><path d="M166.4 407.9C166.4 472 112.6 472 112.6 535.1"/><path d="M218.8 407.9C218.8 472 213.6 472 213.6 535.1"/><path d="M218.6 407.9C218.6 472 214.3 472 214.3 535.1"/><path d="M343.6 407.9C343.6 472 303.0 472 303.0 535.1"/><path d="M342.0 407.9C342.0 472 303.5 472 303.5 535.1"/><path d="M271.1 407.9C271.1 472 279.2 472 279.2 535.1"/><path d="M166.1 407.9C166.1 472 220.2 472 220.2 535.1"/><path d="M162.7 407.9C162.7 472 219.3 472 219.3 535.1"/><path d="M104.0 407.9C104.0 472 184.4 472 184.4 535.1"/><path d="M107.3 407.9C107.3 472 183.7 472 183.7 535.1"/><path d="M229.8 407.9C229.8 472 254.4 472 254.4 535.1"/><path d="M232.4 407.9C232.4 472 257.2 472 257.2 535.1"/><path d="M230.7 407.9C230.7 472 256.3 472 256.3 535.1"/><path d="M171.0 407.9C171.0 472 201.9 472 201.9 535.1"/><path d="M127.0 407.9C127.0 472 180.3 472 180.3 535.1"/><path d="M110.6 407.9C110.6 472 152.2 472 152.2 535.1"/><path d="M111.8 407.9C111.8 472 150.3 472 150.3 535.1"/><path d="M167.9 407.9C167.9 472 254.5 472 254.5 535.1"/><path d="M166.7 407.9C166.7 472 254.5 472 254.5 535.1"/><path d="M166.5 407.9C166.5 472 254.2 472 254.2 535.1"/><path d="M376.3 407.9C376.3 472 376.6 472 376.6 535.1"/><path d="M201.8 407.9C201.8 472 186.0 472 186.0 535.1"/><path d="M101.9 407.9C101.9 472 97.6 472 97.6 535.1"/><path d="M100.9 407.9C100.9 472 100.5 472 100.5 535.1"/><path d="M269.6 407.9C269.6 472 270.5 472 270.5 535.1"/><path d="M333.6 407.9C333.6 472 343.2 472 343.2 535.1"/><path d="M108.6 407.9C108.6 472 180.7 472 180.7 535.1"/><path d="M359.7 407.9C359.7 472 322.5 472 322.5 535.1"/><path d="M358.3 407.9C358.3 472 324.2 472 324.2 535.1"/><path d="M358.8 407.9C358.8 472 323.3 472 323.3 535.1"/><path d="M215.1 407.9C215.1 472 252.4 472 252.4 535.1"/><path d="M213.1 407.9C213.1 472 252.2 472 252.2 535.1"/><path d="M201.1 407.9C201.1 472 154.4 472 154.4 535.1"/><path d="M200.7 407.9C200.7 472 154.3 472 154.3 535.1"/><path d="M199.8 407.9C199.8 472 154.6 472 154.6 535.1"/><path d="M110.8 407.9C110.8 472 77.0 472 77.0 535.1"/><path d="M112.9 407.9C112.9 472 76.5 472 76.5 535.1"/><path d="M112.2 407.9C112.2 472 76.9 472 76.9 535.1"/><path d="M350.4 407.9C350.4 472 361.7 472 361.7 535.1"/><path d="M350.1 407.9C350.1 472 363.2 472 363.2 535.1"/><path d="M350.5 407.9C350.5 472 362.3 472 362.3 535.1"/><path d="M77.6 407.9C77.6 472 77.9 472 77.9 535.1"/><path d="M76.1 407.9C76.1 472 77.9 472 77.9 535.1"/><path d="M76.4 407.9C76.4 472 78.0 472 78.0 535.1"/><path d="M98.6 407.9C98.6 472 89.7 472 89.7 535.1"/><path d="M98.6 407.9C98.6 472 88.8 472 88.8 535.1"/><path d="M361.2 407.9C361.2 472 376.4 472 376.4 535.1"/><path d="M359.8 407.9C359.8 472 376.4 472 376.4 535.1"/><path d="M360.9 407.9C360.9 472 376.4 472 376.4 535.1"/><path d="M177.2 407.9C177.2 472 167.4 472 167.4 535.1"/><path d="M179.0 407.9C179.0 472 168.5 472 168.5 535.1"/><path d="M179.8 407.9C179.8 472 169.2 472 169.2 535.1"/><path d="M227.7 407.9C227.7 472 236.4 472 236.4 535.1"/><path d="M230.5 407.9C230.5 472 234.6 472 234.6 535.1"/><path d="M228.7 407.9C228.7 472 235.5 472 235.5 535.1"/><path d="M239.5 407.9C239.5 472 217.0 472 217.0 535.1"/><path d="M240.9 407.9C240.9 472 216.5 472 216.5 535.1"/><path d="M343.6 407.9C343.6 472 376.3 472 376.3 535.1"/><path d="M346.7 407.9C346.7 472 375.7 472 375.7 535.1"/><path d="M345.9 407.9C345.9 472 374.5 472 374.5 535.1"/><path d="M345.6 407.9C345.6 472 376.4 472 376.4 535.1"/><path d="M186.0 407.9C186.0 472 283.0 472 283.0 535.1"/><path d="M185.5 407.9C185.5 472 280.7 472 280.7 535.1"/><path d="M262.2 407.9C262.2 472 376.2 472 376.2 535.1"/><path d="M261.0 407.9C261.0 472 375.9 472 375.9 535.1"/><path d="M195.4 407.9C195.4 472 106.9 472 106.9 535.1"/><path d="M193.8 407.9C193.8 472 106.9 472 106.9 535.1"/><path d="M196.2 407.9C196.2 472 105.0 472 105.0 535.1"/><path d="M328.9 407.9C328.9 472 348.7 472 348.7 535.1"/><path d="M86.2 407.9C86.2 472 93.6 472 93.6 535.1"/><path d="M85.6 407.9C85.6 472 91.5 472 91.5 535.1"/><path d="M232.4 407.9C232.4 472 241.5 472 241.5 535.1"/><path d="M230.8 407.9C230.8 472 244.8 472 244.8 535.1"/><path d="M230.4 407.9C230.4 472 242.0 472 242.0 535.1"/><path d="M374.7 407.9C374.7 472 255.2 472 255.2 535.1"/><path d="M375.4 407.9C375.4 472 255.2 472 255.2 535.1"/><path d="M170.2 407.9C170.2 472 246.1 472 246.1 535.1"/><path d="M168.7 407.9C168.7 472 244.6 472 244.6 535.1"/><path d="M167.9 407.9C167.9 472 244.8 472 244.8 535.1"/><path d="M143.1 407.9C143.1 472 144.4 472 144.4 535.1"/><path d="M142.5 407.9C142.5 472 146.4 472 146.4 535.1"/><path d="M142.7 407.9C142.7 472 143.1 472 143.1 535.1"/><path d="M319.6 407.9C319.6 472 309.9 472 309.9 535.1"/><path d="M317.8 407.9C317.8 472 309.1 472 309.1 535.1"/><path d="M373.5 407.9C373.5 472 320.5 472 320.5 535.1"/><path d="M372.7 407.9C372.7 472 320.6 472 320.6 535.1"/><path d="M374.7 407.9C374.7 472 321.2 472 321.2 535.1"/><path d="M343.9 407.9C343.9 472 367.8 472 367.8 535.1"/><path d="M90.5 407.9C90.5 472 118.0 472 118.0 535.1"/><path d="M302.9 407.9C302.9 472 252.4 472 252.4 535.1"/><path d="M226.6 407.9C226.6 472 306.2 472 306.2 535.1"/><path d="M224.8 407.9C224.8 472 305.3 472 305.3 535.1"/><path d="M225.6 407.9C225.6 472 302.7 472 302.7 535.1"/><path d="M181.4 407.9C181.4 472 144.0 472 144.0 535.1"/><path d="M87.7 407.9C87.7 472 92.0 472 92.0 535.1"/><path d="M224.8 407.9C224.8 472 241.6 472 241.6 535.1"/><path d="M226.7 407.9C226.7 472 243.9 472 243.9 535.1"/><path d="M146.1 407.9C146.1 472 88.4 472 88.4 535.1"/><path d="M363.5 407.9C363.5 472 374.6 472 374.6 535.1"/><path d="M363.8 407.9C363.8 472 376.4 472 376.4 535.1"/><path d="M257.7 407.9C257.7 472 332.1 472 332.1 535.1"/><path d="M257.9 407.9C257.9 472 331.6 472 331.6 535.1"/><path d="M82.0 407.9C82.0 472 143.2 472 143.2 535.1"/><path d="M82.2 407.9C82.2 472 145.4 472 145.4 535.1"/><path d="M82.8 407.9C82.8 472 143.9 472 143.9 535.1"/><path d="M113.4 407.9C113.4 472 167.6 472 167.6 535.1"/><path d="M112.4 407.9C112.4 472 169.3 472 169.3 535.1"/><path d="M113.4 407.9C113.4 472 168.2 472 168.2 535.1"/><path d="M302.7 407.9C302.7 472 221.1 472 221.1 535.1"/><path d="M105.2 407.9C105.2 472 133.6 472 133.6 535.1"/><path d="M105.7 407.9C105.7 472 132.7 472 132.7 535.1"/><path d="M105.7 407.9C105.7 472 133.0 472 133.0 535.1"/><path d="M125.3 407.9C125.3 472 124.8 472 124.8 535.1"/><path d="M256.7 407.9C256.7 472 194.4 472 194.4 535.1"/><path d="M104.1 407.9C104.1 472 202.8 472 202.8 535.1"/><path d="M290.4 407.9C290.4 472 345.5 472 345.5 535.1"/><path d="M288.3 407.9C288.3 472 345.0 472 345.0 535.1"/><path d="M91.6 407.9C91.6 472 128.7 472 128.7 535.1"/><path d="M90.4 407.9C90.4 472 128.8 472 128.8 535.1"/><path d="M239.1 407.9C239.1 472 262.6 472 262.6 535.1"/><path d="M196.8 407.9C196.8 472 204.2 472 204.2 535.1"/><path d="M232.6 407.9C232.6 472 268.9 472 268.9 535.1"/><path d="M232.1 407.9C232.1 472 269.4 472 269.4 535.1"/><path d="M245.1 407.9C245.1 472 290.5 472 290.5 535.1"/><path d="M181.5 407.9C181.5 472 231.0 472 231.0 535.1"/><path d="M227.6 407.9C227.6 472 292.0 472 292.0 535.1"/><path d="M376.8 407.9C376.8 472 286.6 472 286.6 535.1"/><path d="M374.8 407.9C374.8 472 283.1 472 283.1 535.1"/><path d="M376.8 407.9C376.8 472 283.8 472 283.8 535.1"/><path d="M229.4 407.9C229.4 472 230.7 472 230.7 535.1"/><path d="M314.9 407.9C314.9 472 376.4 472 376.4 535.1"/><path d="M130.3 407.9C130.3 472 77.9 472 77.9 535.1"/><path d="M127.3 407.9C127.3 472 76.3 472 76.3 535.1"/><path d="M318.1 407.9C318.1 472 313.8 472 313.8 535.1"/><path d="M318.7 407.9C318.7 472 314.1 472 314.1 535.1"/><path d="M200.3 407.9C200.3 472 99.7 472 99.7 535.1"/><path d="M86.4 407.9C86.4 472 77.7 472 77.7 535.1"/><path d="M273.8 407.9C273.8 472 307.7 472 307.7 535.1"/><path d="M273.7 407.9C273.7 472 310.7 472 310.7 535.1"/><path d="M273.9 407.9C273.9 472 310.1 472 310.1 535.1"/><path d="M270.8 407.9C270.8 472 279.7 472 279.7 535.1"/><path d="M270.5 407.9C270.5 472 277.0 472 277.0 535.1"/><path d="M274.1 407.9C274.1 472 277.8 472 277.8 535.1"/><path d="M328.1 407.9C328.1 472 288.0 472 288.0 535.1"/><path d="M328.9 407.9C328.9 472 285.3 472 285.3 535.1"/><path d="M296.4 407.9C296.4 472 302.7 472 302.7 535.1"/><path d="M372.7 407.9C372.7 472 341.7 472 341.7 535.1"/><path d="M373.0 407.9C373.0 472 342.3 472 342.3 535.1"/><path d="M371.6 407.9C371.6 472 342.2 472 342.2 535.1"/><path d="M124.1 407.9C124.1 472 230.0 472 230.0 535.1"/><path d="M125.2 407.9C125.2 472 230.6 472 230.6 535.1"/><path d="M123.8 407.9C123.8 472 229.8 472 229.8 535.1"/></g>
<path d="M214.4 276.4C214.4 339.79999999999995 362.2 339.79999999999995 362.2 403.2" fill="none" stroke="#45a662" stroke-width="1.35"/>
<path d="M251.8 276.4C251.8 339.79999999999995 362.9 339.79999999999995 362.9 403.2" fill="none" stroke="#45a662" stroke-width="1.35"/>
<path d="M329.3 276.4C329.3 339.79999999999995 178.5 339.79999999999995 178.5 403.2" fill="none" stroke="#45a662" stroke-width="1.35"/>
<path d="M178.9 407.9C178.9 471.5 148.4 471.5 148.4 535.1" fill="none" stroke="#45a662" stroke-width="1.35"/>
<path d="M227.7 407.9C227.7 471.5 153.6 471.5 153.6 535.1" fill="none" stroke="#45a662" stroke-width="1.35"/>
<path d="M227.7 407.9C227.7 471.5 269.5 471.5 269.5 535.1" fill="none" stroke="#45a662" stroke-width="1.35"/>
<path d="M241.3 407.9C241.3 471.5 270.3 471.5 270.3 535.1" fill="none" stroke="#45a662" stroke-width="1.35"/>
<path d="M260.3 407.9C260.3 471.5 192.0 471.5 192.0 535.1" fill="none" stroke="#45a662" stroke-width="1.35"/>
<defs><linearGradient id="ga" x1="0" y1="0" x2="0" y2="1"><stop offset="0" stop-color="#aabcf2"/><stop offset="0.5" stop-color="#9fb2ea"/><stop offset="1" stop-color="#8894be"/></linearGradient><linearGradient id="gl" x1="0" y1="0" x2="0" y2="1"><stop offset="0" stop-color="#f07a4a"/><stop offset="0.5" stop-color="#ff9266"/><stop offset="1" stop-color="#e8784c"/></linearGradient><linearGradient id="gr" x1="0" y1="0" x2="0" y2="1"><stop offset="0" stop-color="#46c894"/><stop offset="0.5" stop-color="#62d8aa"/><stop offset="1" stop-color="#44c090"/></linearGradient></defs>
<rect x="75.75" y="271.65" width="73.40" height="4.50" rx="2.25" fill="url(#ga)" stroke="#2e2e36" stroke-width="1.3"/>
<rect x="154.45" y="271.65" width="43.90" height="4.50" rx="2.25" fill="url(#ga)" stroke="#2e2e36" stroke-width="1.3"/>
<rect x="203.65" y="271.65" width="55.70" height="4.50" rx="2.25" fill="url(#ga)" stroke="#2e2e36" stroke-width="1.3"/>
<rect x="264.75" y="271.65" width="42.50" height="4.50" rx="2.25" fill="url(#ga)" stroke="#2e2e36" stroke-width="1.3"/>
<rect x="312.15" y="271.65" width="64.80" height="4.50" rx="2.25" fill="url(#ga)" stroke="#2e2e36" stroke-width="1.3"/>
<rect x="76.15" y="403.45" width="17.10" height="4.00" rx="2.00" fill="url(#gl)" stroke="#2e2e36" stroke-width="1.3"/>
<rect x="98.45" y="403.45" width="15.10" height="4.00" rx="2.00" fill="url(#gl)" stroke="#2e2e36" stroke-width="1.3"/>
<rect x="118.95" y="403.45" width="16.60" height="4.00" rx="2.00" fill="url(#gl)" stroke="#2e2e36" stroke-width="1.3"/>
<rect x="140.85" y="403.45" width="15.00" height="4.00" rx="2.00" fill="url(#gl)" stroke="#2e2e36" stroke-width="1.3"/>
<rect x="161.65" y="403.45" width="9.50" height="4.00" rx="2.00" fill="url(#gl)" stroke="#2e2e36" stroke-width="1.3"/>
<rect x="177.05" y="403.45" width="11.00" height="4.00" rx="2.00" fill="url(#gl)" stroke="#2e2e36" stroke-width="1.3"/>
<rect x="192.75" y="403.45" width="9.30" height="4.00" rx="2.00" fill="url(#gl)" stroke="#2e2e36" stroke-width="1.3"/>
<rect x="207.75" y="403.45" width="10.90" height="4.00" rx="2.00" fill="url(#gl)" stroke="#2e2e36" stroke-width="1.3"/>
<rect x="224.65" y="403.45" width="7.90" height="4.00" rx="2.00" fill="url(#gl)" stroke="#2e2e36" stroke-width="1.3"/>
<rect x="238.35" y="403.45" width="9.50" height="4.00" rx="2.00" fill="url(#gl)" stroke="#2e2e36" stroke-width="1.3"/>
<rect x="253.15" y="403.45" width="10.30" height="4.00" rx="2.00" fill="url(#gl)" stroke="#2e2e36" stroke-width="1.3"/>
<rect x="268.75" y="403.45" width="8.50" height="4.00" rx="2.00" fill="url(#gl)" stroke="#2e2e36" stroke-width="1.3"/>
<rect x="282.65" y="403.45" width="7.90" height="4.00" rx="2.00" fill="url(#gl)" stroke="#2e2e36" stroke-width="1.3"/>
<rect x="296.25" y="403.45" width="8.90" height="4.00" rx="2.00" fill="url(#gl)" stroke="#2e2e36" stroke-width="1.3"/>
<rect x="311.15" y="403.45" width="11.30" height="4.00" rx="2.00" fill="url(#gl)" stroke="#2e2e36" stroke-width="1.3"/>
<rect x="327.95" y="403.45" width="8.80" height="4.00" rx="2.00" fill="url(#gl)" stroke="#2e2e36" stroke-width="1.3"/>
<rect x="341.65" y="403.45" width="8.90" height="4.00" rx="2.00" fill="url(#gl)" stroke="#2e2e36" stroke-width="1.3"/>
<rect x="355.45" y="403.45" width="8.50" height="4.00" rx="2.00" fill="url(#gl)" stroke="#2e2e36" stroke-width="1.3"/>
<rect x="368.95" y="403.45" width="8.00" height="4.00" rx="2.00" fill="url(#gl)" stroke="#2e2e36" stroke-width="1.3"/>
<rect x="76.35" y="535.65" width="30.70" height="3.70" rx="1.85" fill="url(#gr)" stroke="#2e2e36" stroke-width="1.3"/>
<rect x="112.45" y="535.65" width="24.70" height="3.70" rx="1.85" fill="url(#gr)" stroke="#2e2e36" stroke-width="1.3"/>
<rect x="143.05" y="535.65" width="26.40" height="3.70" rx="1.85" fill="url(#gr)" stroke="#2e2e36" stroke-width="1.3"/>
<rect x="174.85" y="535.65" width="21.50" height="3.70" rx="1.85" fill="url(#gr)" stroke="#2e2e36" stroke-width="1.3"/>
<rect x="201.75" y="535.65" width="19.50" height="3.70" rx="1.85" fill="url(#gr)" stroke="#2e2e36" stroke-width="1.3"/>
<rect x="226.65" y="535.65" width="19.60" height="3.70" rx="1.85" fill="url(#gr)" stroke="#2e2e36" stroke-width="1.3"/>
<rect x="252.25" y="535.65" width="18.50" height="3.70" rx="1.85" fill="url(#gr)" stroke="#2e2e36" stroke-width="1.3"/>
<rect x="276.85" y="535.65" width="17.00" height="3.70" rx="1.85" fill="url(#gr)" stroke="#2e2e36" stroke-width="1.3"/>
<rect x="299.25" y="535.65" width="15.00" height="3.70" rx="1.85" fill="url(#gr)" stroke="#2e2e36" stroke-width="1.3"/>
<rect x="319.05" y="535.65" width="13.90" height="3.70" rx="1.85" fill="url(#gr)" stroke="#2e2e36" stroke-width="1.3"/>
<rect x="338.85" y="535.65" width="16.70" height="3.70" rx="1.85" fill="url(#gr)" stroke="#2e2e36" stroke-width="1.3"/>
<rect x="361.15" y="535.65" width="15.40" height="3.70" rx="1.85" fill="url(#gr)" stroke="#2e2e36" stroke-width="1.3"/>
<text x="112.5" y="262.6" font-size="8.3" text-anchor="middle" fill="#8e9dd8">1</text>
<text x="176.4" y="262.6" font-size="8.3" text-anchor="middle" fill="#8e9dd8">2</text>
<text x="231.5" y="262.6" font-size="8.3" text-anchor="middle" fill="#8e9dd8">3</text>
<text x="286.0" y="262.6" font-size="8.3" text-anchor="middle" fill="#8e9dd8">4</text>
<text x="344.6" y="262.6" font-size="8.3" text-anchor="middle" fill="#8e9dd8">5</text>
<circle cx="84.7" cy="392" r="5.6" fill="#fff" fill-opacity="0.95"/>
<text x="84.7" y="395.2" font-size="9" text-anchor="middle" fill="#f2926c">1</text>
<circle cx="106.0" cy="392" r="5.6" fill="#fff" fill-opacity="0.95"/>
<text x="106.0" y="395.2" font-size="9" text-anchor="middle" fill="#f2926c">2</text>
<circle cx="127.2" cy="392" r="5.6" fill="#fff" fill-opacity="0.95"/>
<text x="127.2" y="395.2" font-size="9" text-anchor="middle" fill="#f2926c">3</text>
<circle cx="148.3" cy="392" r="5.6" fill="#fff" fill-opacity="0.95"/>
<text x="148.3" y="395.2" font-size="9" text-anchor="middle" fill="#f2926c">4</text>
<circle cx="166.4" cy="392" r="5.6" fill="#fff" fill-opacity="0.95"/>
<text x="166.4" y="395.2" font-size="9" text-anchor="middle" fill="#f2926c">5</text>
<circle cx="182.6" cy="392" r="5.6" fill="#fff" fill-opacity="0.95"/>
<text x="182.6" y="395.2" font-size="9" text-anchor="middle" fill="#f2926c">6</text>
<circle cx="197.4" cy="392" r="5.6" fill="#fff" fill-opacity="0.95"/>
<text x="197.4" y="395.2" font-size="9" text-anchor="middle" fill="#f2926c">7</text>
<circle cx="213.2" cy="392" r="5.6" fill="#fff" fill-opacity="0.95"/>
<text x="213.2" y="395.2" font-size="9" text-anchor="middle" fill="#f2926c">8</text>
<circle cx="228.6" cy="392" r="5.6" fill="#fff" fill-opacity="0.95"/>
<text x="228.6" y="395.2" font-size="9" text-anchor="middle" fill="#f2926c">9</text>
<circle cx="243.1" cy="392" r="5.6" fill="#fff" fill-opacity="0.95"/>
<text x="243.1" y="395.2" font-size="9" text-anchor="middle" fill="#f2926c">10</text>
<circle cx="258.3" cy="392" r="5.6" fill="#fff" fill-opacity="0.95"/>
<text x="258.3" y="395.2" font-size="9" text-anchor="middle" fill="#f2926c">11</text>
<circle cx="273.0" cy="392" r="5.6" fill="#fff" fill-opacity="0.95"/>
<text x="273.0" y="395.2" font-size="9" text-anchor="middle" fill="#f2926c">12</text>
<circle cx="286.6" cy="392" r="5.6" fill="#fff" fill-opacity="0.95"/>
<text x="286.6" y="395.2" font-size="9" text-anchor="middle" fill="#f2926c">13</text>
<circle cx="300.7" cy="392" r="5.6" fill="#fff" fill-opacity="0.95"/>
<text x="300.7" y="395.2" font-size="9" text-anchor="middle" fill="#f2926c">14</text>
<circle cx="316.8" cy="392" r="5.6" fill="#fff" fill-opacity="0.95"/>
<text x="316.8" y="395.2" font-size="9" text-anchor="middle" fill="#f2926c">15</text>
<circle cx="332.4" cy="392" r="5.6" fill="#fff" fill-opacity="0.95"/>
<text x="332.4" y="395.2" font-size="9" text-anchor="middle" fill="#f2926c">16</text>
<circle cx="346.1" cy="392" r="5.6" fill="#fff" fill-opacity="0.95"/>
<text x="346.1" y="395.2" font-size="9" text-anchor="middle" fill="#f2926c">17</text>
<circle cx="359.7" cy="392" r="5.6" fill="#fff" fill-opacity="0.95"/>
<text x="359.7" y="395.2" font-size="9" text-anchor="middle" fill="#f2926c">18</text>
<circle cx="373.0" cy="392" r="5.6" fill="#fff" fill-opacity="0.95"/>
<text x="373.0" y="395.2" font-size="9" text-anchor="middle" fill="#f2926c">19</text>
<circle cx="91.7" cy="523.8" r="5.6" fill="#fff" fill-opacity="0.95"/>
<text x="91.7" y="527.0" font-size="9" text-anchor="middle" fill="#5cc8a0">1</text>
<circle cx="124.8" cy="523.8" r="5.6" fill="#fff" fill-opacity="0.95"/>
<text x="124.8" y="527.0" font-size="9" text-anchor="middle" fill="#5cc8a0">2</text>
<circle cx="156.2" cy="523.8" r="5.6" fill="#fff" fill-opacity="0.95"/>
<text x="156.2" y="527.0" font-size="9" text-anchor="middle" fill="#5cc8a0">3</text>
<circle cx="185.6" cy="523.8" r="5.6" fill="#fff" fill-opacity="0.95"/>
<text x="185.6" y="527.0" font-size="9" text-anchor="middle" fill="#5cc8a0">4</text>
<circle cx="211.5" cy="523.8" r="5.6" fill="#fff" fill-opacity="0.95"/>
<text x="211.5" y="527.0" font-size="9" text-anchor="middle" fill="#5cc8a0">5</text>
<circle cx="236.4" cy="523.8" r="5.6" fill="#fff" fill-opacity="0.95"/>
<text x="236.4" y="527.0" font-size="9" text-anchor="middle" fill="#5cc8a0">6</text>
<circle cx="261.5" cy="523.8" r="5.6" fill="#fff" fill-opacity="0.95"/>
<text x="261.5" y="527.0" font-size="9" text-anchor="middle" fill="#5cc8a0">7</text>
<circle cx="285.4" cy="523.8" r="5.6" fill="#fff" fill-opacity="0.95"/>
<text x="285.4" y="527.0" font-size="9" text-anchor="middle" fill="#5cc8a0">8</text>
<circle cx="306.8" cy="523.8" r="5.6" fill="#fff" fill-opacity="0.95"/>
<text x="306.8" y="527.0" font-size="9" text-anchor="middle" fill="#5cc8a0">9</text>
<circle cx="326.0" cy="523.8" r="5.6" fill="#fff" fill-opacity="0.95"/>
<text x="326.0" y="527.0" font-size="9" text-anchor="middle" fill="#5cc8a0">10</text>
<circle cx="347.2" cy="523.8" r="5.6" fill="#fff" fill-opacity="0.95"/>
<text x="347.2" y="527.0" font-size="9" text-anchor="middle" fill="#5cc8a0">11</text>
<circle cx="368.9" cy="523.8" r="5.6" fill="#fff" fill-opacity="0.95"/>
<text x="368.9" y="527.0" font-size="9" text-anchor="middle" fill="#5cc8a0">12</text>
<text x="9" y="257.3" font-size="10.3" font-weight="bold" fill="#111">B</text>
<text x="65.9" y="276.6" font-size="10.5" text-anchor="end" fill="#8797da" stroke="#8797da" stroke-width="0.1">Arabidopsis</text>
<text x="65.9" y="408.2" font-size="10.5" text-anchor="end" fill="#f37e58" stroke="#f37e58" stroke-width="0.2">L.chinense</text>
<text x="67.0" y="540.3" font-size="10.4" text-anchor="end" fill="#50c499" stroke="#50c499" stroke-width="0.1">Rice</text>
</svg></body></html>
